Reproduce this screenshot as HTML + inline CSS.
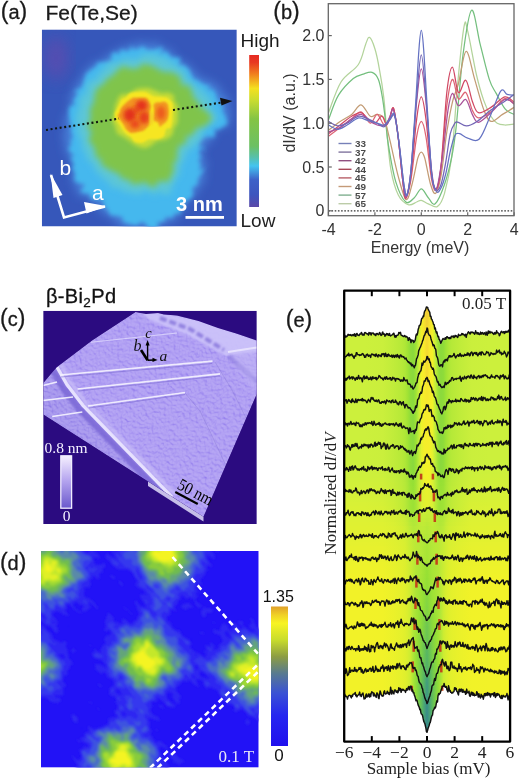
<!DOCTYPE html>
<html><head><meta charset="utf-8"><title>Figure</title>
<style>html,body{margin:0;padding:0;background:#fff;}svg{display:block;}</style>
</head><body>
<svg width="520" height="781" viewBox="0 0 520 781">
<defs>
<clipPath id="clipA"><rect x="41.8" y="29.5" width="195.0" height="197.0"/></clipPath>
<filter id="blA1_2" x="-30%" y="-30%" width="160%" height="160%"><feGaussianBlur stdDeviation="1.2"/></filter>
<filter id="blA2_0" x="-30%" y="-30%" width="160%" height="160%"><feGaussianBlur stdDeviation="2.0"/></filter>
<filter id="blA3_0" x="-30%" y="-30%" width="160%" height="160%"><feGaussianBlur stdDeviation="3.0"/></filter>
<filter id="blA5_0" x="-30%" y="-30%" width="160%" height="160%"><feGaussianBlur stdDeviation="5.0"/></filter>
<filter id="blA8_0" x="-30%" y="-30%" width="160%" height="160%"><feGaussianBlur stdDeviation="8.0"/></filter>
<linearGradient id="cbA" x1="0" y1="0" x2="0" y2="1">
<stop offset="0" stop-color="#e62a22"/><stop offset="0.05" stop-color="#e83a22"/>
<stop offset="0.12" stop-color="#f07a1e"/><stop offset="0.22" stop-color="#f4e020"/>
<stop offset="0.30" stop-color="#c8dc30"/><stop offset="0.42" stop-color="#84c444"/>
<stop offset="0.60" stop-color="#6cc064"/><stop offset="0.67" stop-color="#58c0a8"/><stop offset="0.73" stop-color="#44c4f0"/>
<stop offset="0.82" stop-color="#3e62c8"/><stop offset="0.92" stop-color="#3e56be"/>
<stop offset="1" stop-color="#5a48a8"/></linearGradient>
<clipPath id="clipB"><rect x="328.3" y="3.7" width="185.7" height="212.0"/></clipPath>
<clipPath id="clipC"><rect x="43.2" y="310.8" width="213.60000000000002" height="213.2"/></clipPath>
<clipPath id="clipSurf"><path d="M135.6,311.9 L146,314 L158,313 L164,314.5 L177,315.5 L198.5,321 L218,328 L237,333.8 L256.8,340.6 L256.8,394 L203.5,516.8 L43.4,414.5 L43.4,383 L50,375 L57,367 L92,340.5Z"/></clipPath>
<filter id="texC" x="0" y="0" width="100%" height="100%">
<feTurbulence type="fractalNoise" baseFrequency="0.32" numOctaves="3" seed="4" result="n"/>
<feDiffuseLighting in="n" surfaceScale="2.4" lighting-color="#d4ccff" result="l"><feDistantLight azimuth="300" elevation="58"/></feDiffuseLighting>
</filter>
<filter id="blC1" x="-20%" y="-20%" width="140%" height="140%"><feGaussianBlur stdDeviation="1.2"/></filter>
<filter id="blC2" x="-20%" y="-20%" width="140%" height="140%"><feGaussianBlur stdDeviation="2.2"/></filter>
<filter id="blC05" x="-20%" y="-20%" width="140%" height="140%"><feGaussianBlur stdDeviation="0.55"/></filter>
<linearGradient id="cbC" x1="0" y1="0" x2="0" y2="1"><stop offset="0" stop-color="#f6f0ff"/><stop offset="0.45" stop-color="#b8a8f0"/><stop offset="1" stop-color="#6a58cc"/></linearGradient>
<clipPath id="clipD"><rect x="41.0" y="551.0" width="217.7" height="216.60000000000002"/></clipPath>
<filter id="blD" x="-5%" y="-5%" width="110%" height="110%"><feGaussianBlur stdDeviation="1.1"/></filter>
<linearGradient id="cbD" x1="0" y1="0" x2="0" y2="1">
<stop offset="0" stop-color="#e0a02a"/><stop offset="0.06" stop-color="#f0d026"/><stop offset="0.12" stop-color="#f8f422"/>
<stop offset="0.24" stop-color="#c8dc2c"/><stop offset="0.36" stop-color="#8c9c44"/><stop offset="0.48" stop-color="#587a90"/>
<stop offset="0.62" stop-color="#3a52d4"/><stop offset="0.78" stop-color="#2626f0"/><stop offset="1" stop-color="#2010ee"/></linearGradient>
<clipPath id="clipEfill"><path d="M344.2,334 L344.8,336.3 L345.3,337.2 L345.9,336 L346.4,336.8 L347,336.4 L347.5,335.6 L348.1,334.3 L348.6,334.9 L349.2,335.3 L349.7,334.8 L350.3,335.3 L350.8,334.6 L351.4,335.8 L351.9,335.8 L352.5,334.8 L353,334.5 L353.6,335.6 L354.1,334.2 L354.7,333.7 L355.2,336.3 L355.8,336.3 L356.3,334.3 L356.9,333.4 L357.4,334.4 L358,335.3 L358.6,335.3 L359.1,335.6 L359.7,334 L360.2,334.1 L360.8,334 L361.3,332.4 L361.9,333.2 L362.4,335 L363,335.1 L363.5,334.2 L364.1,335.2 L364.6,332.6 L365.2,332.5 L365.7,332.8 L366.3,333.5 L366.8,333.6 L367.4,334.1 L367.9,334 L368.5,335.2 L369,332.5 L369.6,332.9 L370.1,334 L370.7,332.8 L371.2,335.1 L371.8,333.1 L372.4,333.2 L372.9,333 L373.5,333.2 L374,334.4 L374.6,334.8 L375.1,333.9 L375.7,335.6 L376.2,334.5 L376.8,333.4 L377.3,333.4 L377.9,334.4 L378.4,334.7 L379,334.1 L379.5,332.5 L380.1,333 L380.6,334.9 L381.2,335.4 L381.7,335.2 L382.3,332.6 L382.8,332.1 L383.4,334.2 L383.9,333.9 L384.5,334 L385,336.3 L385.6,334.4 L386.2,334.9 L386.7,333.4 L387.3,334.7 L387.8,333.7 L388.4,335.2 L388.9,335.2 L389.5,333.4 L390,335.5 L390.6,335.9 L391.1,335.5 L391.7,335.1 L392.2,334.9 L392.8,334.2 L393.3,333.4 L393.9,333.2 L394.4,335.6 L395,337.2 L395.5,335.6 L396.1,337.1 L396.6,335.6 L397.2,335.2 L397.7,335.3 L398.3,334.7 L398.8,332.4 L399.4,332.9 L400,333.4 L400.5,332.3 L401.1,335.1 L401.6,335.4 L402.2,335.4 L402.7,336.1 L403.3,336.3 L403.8,336.6 L404.4,335.6 L404.9,335.4 L405.5,336.9 L406,336.8 L406.6,336.4 L407.1,337.2 L407.7,337.4 L408.2,340.4 L408.8,339.9 L409.3,337.8 L409.9,339.3 L410.4,339.3 L411,342.5 L411.5,340 L412.1,340.1 L412.6,340.9 L413.2,340.4 L413.8,342.5 L414.3,341.4 L414.9,340.9 L415.4,339.1 L416,335.3 L416.5,334.1 L417.1,335 L417.6,333.1 L418.2,329.3 L418.7,328 L419.3,325.5 L419.8,325.4 L420.4,324.6 L420.9,322.5 L421.5,319.1 L422,318.2 L422.6,318.1 L423.1,316.1 L423.7,316.4 L424.2,312.8 L424.8,310.8 L425.3,310.6 L425.9,308.6 L426.4,307 L427,307.6 L427.6,307.3 L428.1,309 L428.7,310.4 L429.2,311.2 L429.8,312.4 L430.3,316.3 L430.9,316.2 L431.4,319 L432,319.5 L432.5,321 L433.1,322.3 L433.6,324.6 L434.2,324.7 L434.7,328.9 L435.3,327.9 L435.8,330.7 L436.4,332.9 L436.9,331.9 L437.5,334.9 L438,336.8 L438.6,336.6 L439.1,339.3 L439.7,339.9 L440.2,341.3 L440.8,343.3 L441.4,341.9 L441.9,340.7 L442.5,339.7 L443,338.5 L443.6,338.9 L444.1,339.1 L444.7,339.2 L445.2,337.8 L445.8,339.3 L446.3,337.8 L446.9,336.7 L447.4,336.8 L448,337.9 L448.5,337.8 L449.1,338.7 L449.6,337.6 L450.2,338.1 L450.7,338.5 L451.3,336.2 L451.8,336.6 L452.4,336.2 L452.9,336.9 L453.5,335.9 L454,337.6 L454.6,336.8 L455.2,335.3 L455.7,336.4 L456.3,335.7 L456.8,336.2 L457.4,337.5 L457.9,337.2 L458.5,334.2 L459,335.4 L459.6,335.2 L460.1,335.6 L460.7,334.9 L461.2,335 L461.8,333.4 L462.3,334.6 L462.9,333.8 L463.4,334.6 L464,334.4 L464.5,335.7 L465.1,335.8 L465.6,334.2 L466.2,337.3 L466.7,334.8 L467.3,333.9 L467.8,332.9 L468.4,331.7 L469,332.4 L469.5,333.3 L470.1,334.1 L470.6,332.3 L471.2,331.9 L471.7,332.7 L472.3,332.4 L472.8,332.1 L473.4,333 L473.9,332.8 L474.5,334.3 L475,333.8 L475.6,330.8 L476.1,332.1 L476.7,333 L477.2,334.1 L477.8,332.5 L478.3,332.8 L478.9,334.4 L479.4,334.6 L480,333.7 L480.5,332.1 L481.1,334.2 L481.6,332.9 L482.2,332.5 L482.8,333.4 L483.3,334.3 L483.9,333.1 L484.4,332.7 L485,333.9 L485.5,334.9 L486.1,332 L486.6,333 L487.2,335.3 L487.7,333.1 L488.3,330.9 L488.8,333.4 L489.4,332.1 L489.9,331.3 L490.5,332.9 L491,332.4 L491.6,332.1 L492.1,332.2 L492.7,333.5 L493.2,333.2 L493.8,334.4 L494.3,333.3 L494.9,332.5 L495.4,333.9 L496,333.6 L496.6,330.7 L497.1,332.8 L497.7,332.4 L498.2,333 L498.8,333.5 L499.3,335.7 L499.9,335.1 L500.4,333.4 L501,331.7 L501.5,331.3 L502.1,332 L502.6,332.7 L503.2,332 L503.7,331.7 L504.3,333.6 L504.8,331.7 L505.4,332.7 L505.9,331.3 L506.5,332.2 L507,331.5 L507.6,332.1 L508.1,331 L508.7,330.2 L509.2,332 L509.8,331.6 L509.8,695.3 L509.2,695.1 L508.7,696.8 L508.1,699.9 L507.6,697.7 L507,693.5 L506.5,695.6 L505.9,695.7 L505.4,697 L504.8,696.2 L504.3,696.7 L503.7,696 L503.2,695.3 L502.6,697.4 L502.1,698.6 L501.5,695.4 L501,698.4 L500.4,697.4 L499.9,696.9 L499.3,695.1 L498.8,694.2 L498.2,694.9 L497.7,693.4 L497.1,695.5 L496.6,693.8 L496,696.2 L495.4,697.5 L494.9,693 L494.3,692.6 L493.8,696 L493.2,693.4 L492.7,694.5 L492.1,693.8 L491.6,694.7 L491,693.8 L490.5,697 L489.9,695 L489.4,693.5 L488.8,695.1 L488.3,693.5 L487.7,692.6 L487.2,695.5 L486.6,694.8 L486.1,693.2 L485.5,695.7 L485,693.8 L484.4,693.8 L483.9,696.5 L483.3,699.2 L482.8,695.9 L482.2,696.9 L481.6,695.2 L481.1,694.3 L480.5,698 L480,697.2 L479.4,695.9 L478.9,693.7 L478.3,697.1 L477.8,694.8 L477.2,692.5 L476.7,691.7 L476.1,695.3 L475.6,695.3 L475,695.3 L474.5,695.8 L473.9,693.4 L473.4,695.3 L472.8,692.5 L472.3,695 L471.7,692.3 L471.2,692.3 L470.6,695 L470.1,696.4 L469.5,695.3 L469,691.2 L468.4,692.9 L467.8,692.7 L467.3,692.5 L466.7,689.1 L466.2,693.8 L465.6,694.3 L465.1,691.3 L464.5,691.4 L464,692.3 L463.4,691.7 L462.9,689.4 L462.3,692.3 L461.8,691 L461.2,689 L460.7,690.7 L460.1,691.6 L459.6,689.2 L459,689.6 L458.5,695 L457.9,693.7 L457.4,691.6 L456.8,691.5 L456.3,688.5 L455.7,689.7 L455.2,687.6 L454.6,687.6 L454,691.5 L453.5,691.6 L452.9,692.8 L452.4,692.4 L451.8,693.3 L451.3,692.3 L450.7,692.3 L450.2,690.4 L449.6,691 L449.1,688.2 L448.5,685.7 L448,691.9 L447.4,690.6 L446.9,689.6 L446.3,686.5 L445.8,687.3 L445.2,687.2 L444.7,686.1 L444.1,683.5 L443.6,686.3 L443,686.2 L442.5,686.1 L441.9,687.9 L441.4,689.2 L440.8,691.1 L440.2,693.3 L439.7,693.5 L439.1,694.7 L438.6,693.6 L438,695.9 L437.5,702 L436.9,700.8 L436.4,702.7 L435.8,706.6 L435.3,708 L434.7,707.2 L434.2,708.9 L433.6,710 L433.1,710.5 L432.5,715.2 L432,715.5 L431.4,717.3 L430.9,719.5 L430.3,722.4 L429.8,722.9 L429.2,725.3 L428.7,726.7 L428.1,728.3 L427.6,730.2 L427,732.3 L426.4,731.5 L425.9,728.2 L425.3,725.5 L424.8,723.4 L424.2,722.3 L423.7,721.1 L423.1,718.4 L422.6,715.8 L422,714.4 L421.5,714.2 L420.9,712.9 L420.4,709.3 L419.8,709.7 L419.3,707.5 L418.7,706.1 L418.2,705.2 L417.6,702.9 L417.1,700.7 L416.5,699.8 L416,700.7 L415.4,698.4 L414.9,696.4 L414.3,695 L413.8,692.4 L413.2,692.8 L412.6,690 L412.1,691.3 L411.5,687.1 L411,686.2 L410.4,686.2 L409.9,689.1 L409.3,689.8 L408.8,686.6 L408.2,687.5 L407.7,689.2 L407.1,690.2 L406.6,688.6 L406,690.5 L405.5,692.4 L404.9,690.5 L404.4,690.5 L403.8,690.5 L403.3,689.4 L402.7,689.2 L402.2,690.4 L401.6,689.6 L401.1,692.3 L400.5,688.4 L400,690.6 L399.4,688.4 L398.8,687.7 L398.3,691.8 L397.7,692.8 L397.2,690.8 L396.6,692.2 L396.1,692.1 L395.5,690.2 L395,690 L394.4,690.2 L393.9,693.9 L393.3,693.1 L392.8,692.2 L392.2,690.5 L391.7,694.1 L391.1,690.1 L390.6,687.2 L390,693.2 L389.5,694.6 L388.9,692.6 L388.4,694 L387.8,692.6 L387.3,691.2 L386.7,693.4 L386.2,693.6 L385.6,694.1 L385,693.2 L384.5,690.8 L383.9,691.8 L383.4,695.9 L382.8,695.5 L382.3,696.2 L381.7,695.4 L381.2,694.6 L380.6,692.3 L380.1,690.9 L379.5,694.8 L379,698.7 L378.4,697.8 L377.9,694.3 L377.3,693.2 L376.8,692.9 L376.2,697.4 L375.7,695.3 L375.1,696.1 L374.6,695.3 L374,693.1 L373.5,695.9 L372.9,692.7 L372.4,692.6 L371.8,691.8 L371.2,693.4 L370.7,696.6 L370.1,693.9 L369.6,697 L369,694.5 L368.5,693.9 L367.9,696.7 L367.4,695.6 L366.8,697.1 L366.3,693.9 L365.7,695.6 L365.2,698.6 L364.6,698.6 L364.1,699 L363.5,695.9 L363,693 L362.4,693.7 L361.9,694.4 L361.3,696.5 L360.8,694.8 L360.2,695.8 L359.7,692.1 L359.1,693.9 L358.6,694.5 L358,695.2 L357.4,695.7 L356.9,696.9 L356.3,694.8 L355.8,695.8 L355.2,692.4 L354.7,693.8 L354.1,694.1 L353.6,694 L353,694.4 L352.5,696.3 L351.9,695.4 L351.4,697.9 L350.8,696.9 L350.3,695.4 L349.7,695.4 L349.2,695.3 L348.6,695.8 L348.1,696.4 L347.5,699.1 L347,697.1 L346.4,696.7 L345.9,695.9 L345.3,696.5 L344.8,694.5 L344.2,693.6Z"/></clipPath>
<linearGradient id="eBase" x1="0" y1="0" x2="0" y2="1"><stop offset="0" stop-color="#ccf03c"/><stop offset="0.35" stop-color="#ccf03c"/><stop offset="0.62" stop-color="#f2f228"/><stop offset="1" stop-color="#f2f228"/></linearGradient>
<linearGradient id="es0"><stop offset="0" stop-color="#ccf03c"/><stop offset="0.125" stop-color="#ccf03c"/><stop offset="0.233" stop-color="#caef3c"/><stop offset="0.3" stop-color="#c0ec3a"/><stop offset="0.35" stop-color="#b6e938"/><stop offset="0.367" stop-color="#afe737"/><stop offset="0.383" stop-color="#a1e335"/><stop offset="0.4" stop-color="#90dc39"/><stop offset="0.417" stop-color="#8ad93c"/><stop offset="0.433" stop-color="#9ee235"/><stop offset="0.45" stop-color="#caef3c"/><stop offset="0.467" stop-color="#f4ef29"/><stop offset="0.483" stop-color="#f4da31"/><stop offset="0.5" stop-color="#f0c836"/><stop offset="0.517" stop-color="#f4da31"/><stop offset="0.533" stop-color="#f4ef29"/><stop offset="0.55" stop-color="#caef3c"/><stop offset="0.567" stop-color="#9ee235"/><stop offset="0.583" stop-color="#8ad93c"/><stop offset="0.6" stop-color="#90dc39"/><stop offset="0.617" stop-color="#a1e335"/><stop offset="0.633" stop-color="#afe737"/><stop offset="0.65" stop-color="#b6e938"/><stop offset="0.7" stop-color="#c0ec3a"/><stop offset="0.767" stop-color="#caef3c"/><stop offset="0.875" stop-color="#ccf03c"/><stop offset="1" stop-color="#ccf03c"/></linearGradient>
<linearGradient id="es1"><stop offset="0" stop-color="#ccf03c"/><stop offset="0.125" stop-color="#ccf03c"/><stop offset="0.233" stop-color="#caef3c"/><stop offset="0.3" stop-color="#c0ec3a"/><stop offset="0.35" stop-color="#b6e938"/><stop offset="0.367" stop-color="#afe737"/><stop offset="0.383" stop-color="#a1e335"/><stop offset="0.4" stop-color="#90dc39"/><stop offset="0.417" stop-color="#8ad93c"/><stop offset="0.433" stop-color="#9ee235"/><stop offset="0.45" stop-color="#caef3c"/><stop offset="0.467" stop-color="#f4ef29"/><stop offset="0.483" stop-color="#f4da31"/><stop offset="0.5" stop-color="#f0c836"/><stop offset="0.517" stop-color="#f4da31"/><stop offset="0.533" stop-color="#f4ef29"/><stop offset="0.55" stop-color="#caef3c"/><stop offset="0.567" stop-color="#9ee235"/><stop offset="0.583" stop-color="#8ad93c"/><stop offset="0.6" stop-color="#90dc39"/><stop offset="0.617" stop-color="#a1e335"/><stop offset="0.633" stop-color="#afe737"/><stop offset="0.65" stop-color="#b6e938"/><stop offset="0.7" stop-color="#c0ec3a"/><stop offset="0.767" stop-color="#caef3c"/><stop offset="0.875" stop-color="#ccf03c"/><stop offset="1" stop-color="#ccf03c"/></linearGradient>
<linearGradient id="es2"><stop offset="0" stop-color="#ccf03c"/><stop offset="0.125" stop-color="#ccf03c"/><stop offset="0.233" stop-color="#caef3c"/><stop offset="0.3" stop-color="#c0ec3a"/><stop offset="0.35" stop-color="#b6e938"/><stop offset="0.367" stop-color="#afe737"/><stop offset="0.383" stop-color="#a1e335"/><stop offset="0.4" stop-color="#90dc39"/><stop offset="0.417" stop-color="#8ad93c"/><stop offset="0.433" stop-color="#9ee235"/><stop offset="0.45" stop-color="#caef3c"/><stop offset="0.467" stop-color="#f4ef29"/><stop offset="0.483" stop-color="#f4da31"/><stop offset="0.5" stop-color="#f1cb35"/><stop offset="0.517" stop-color="#f4da31"/><stop offset="0.533" stop-color="#f4ef29"/><stop offset="0.55" stop-color="#caef3c"/><stop offset="0.567" stop-color="#9ee235"/><stop offset="0.583" stop-color="#8ad93c"/><stop offset="0.6" stop-color="#90dc39"/><stop offset="0.617" stop-color="#a1e335"/><stop offset="0.633" stop-color="#afe737"/><stop offset="0.65" stop-color="#b6e938"/><stop offset="0.7" stop-color="#c0ec3a"/><stop offset="0.767" stop-color="#caef3c"/><stop offset="0.875" stop-color="#ccf03c"/><stop offset="1" stop-color="#ccf03c"/></linearGradient>
<linearGradient id="es3"><stop offset="0" stop-color="#ccf03c"/><stop offset="0.125" stop-color="#ccf03c"/><stop offset="0.233" stop-color="#caef3c"/><stop offset="0.3" stop-color="#c0ec3a"/><stop offset="0.35" stop-color="#b6e938"/><stop offset="0.367" stop-color="#afe737"/><stop offset="0.383" stop-color="#a1e335"/><stop offset="0.4" stop-color="#90dc39"/><stop offset="0.417" stop-color="#8ad93c"/><stop offset="0.433" stop-color="#9ee235"/><stop offset="0.45" stop-color="#caef3c"/><stop offset="0.467" stop-color="#f4ef29"/><stop offset="0.483" stop-color="#f4da31"/><stop offset="0.5" stop-color="#f1cc35"/><stop offset="0.517" stop-color="#f4da31"/><stop offset="0.533" stop-color="#f4ef29"/><stop offset="0.55" stop-color="#caef3c"/><stop offset="0.567" stop-color="#9ee235"/><stop offset="0.583" stop-color="#8ad93c"/><stop offset="0.6" stop-color="#90dc39"/><stop offset="0.617" stop-color="#a1e335"/><stop offset="0.633" stop-color="#afe737"/><stop offset="0.65" stop-color="#b6e938"/><stop offset="0.7" stop-color="#c0ec3a"/><stop offset="0.767" stop-color="#caef3c"/><stop offset="0.875" stop-color="#ccf03c"/><stop offset="1" stop-color="#ccf03c"/></linearGradient>
<linearGradient id="es4"><stop offset="0" stop-color="#ccf03c"/><stop offset="0.125" stop-color="#ccf03c"/><stop offset="0.233" stop-color="#caef3c"/><stop offset="0.3" stop-color="#c0ec3a"/><stop offset="0.35" stop-color="#b6e938"/><stop offset="0.367" stop-color="#afe737"/><stop offset="0.383" stop-color="#a1e335"/><stop offset="0.4" stop-color="#90dc39"/><stop offset="0.417" stop-color="#8ad93c"/><stop offset="0.433" stop-color="#9ee235"/><stop offset="0.45" stop-color="#caef3c"/><stop offset="0.467" stop-color="#f4ef29"/><stop offset="0.483" stop-color="#f6e02f"/><stop offset="0.5" stop-color="#f1cd34"/><stop offset="0.517" stop-color="#f6e02f"/><stop offset="0.533" stop-color="#f4ef29"/><stop offset="0.55" stop-color="#caef3c"/><stop offset="0.567" stop-color="#9ee235"/><stop offset="0.583" stop-color="#8ad93c"/><stop offset="0.6" stop-color="#90dc39"/><stop offset="0.617" stop-color="#a1e335"/><stop offset="0.633" stop-color="#afe737"/><stop offset="0.65" stop-color="#b6e938"/><stop offset="0.7" stop-color="#c0ec3a"/><stop offset="0.767" stop-color="#caef3c"/><stop offset="0.875" stop-color="#ccf03c"/><stop offset="1" stop-color="#ccf03c"/></linearGradient>
<linearGradient id="es5"><stop offset="0" stop-color="#ccf03c"/><stop offset="0.125" stop-color="#ccf03c"/><stop offset="0.233" stop-color="#caef3c"/><stop offset="0.3" stop-color="#c0ec3a"/><stop offset="0.35" stop-color="#b6e938"/><stop offset="0.367" stop-color="#afe737"/><stop offset="0.383" stop-color="#a1e335"/><stop offset="0.4" stop-color="#90dc39"/><stop offset="0.417" stop-color="#8ad93c"/><stop offset="0.433" stop-color="#9ee235"/><stop offset="0.45" stop-color="#caef3c"/><stop offset="0.467" stop-color="#f4f029"/><stop offset="0.483" stop-color="#f6e02f"/><stop offset="0.5" stop-color="#f1ce34"/><stop offset="0.517" stop-color="#f6e12f"/><stop offset="0.533" stop-color="#f4ef29"/><stop offset="0.55" stop-color="#caef3c"/><stop offset="0.567" stop-color="#9ee235"/><stop offset="0.583" stop-color="#8ad93c"/><stop offset="0.6" stop-color="#90dc39"/><stop offset="0.617" stop-color="#a1e335"/><stop offset="0.633" stop-color="#afe737"/><stop offset="0.65" stop-color="#b6e938"/><stop offset="0.7" stop-color="#c0ec3a"/><stop offset="0.767" stop-color="#caef3c"/><stop offset="0.875" stop-color="#ccf03c"/><stop offset="1" stop-color="#ccf03c"/></linearGradient>
<linearGradient id="es6"><stop offset="0" stop-color="#ccf03c"/><stop offset="0.125" stop-color="#ccf03c"/><stop offset="0.233" stop-color="#caef3c"/><stop offset="0.3" stop-color="#c0ec3a"/><stop offset="0.35" stop-color="#b6e938"/><stop offset="0.367" stop-color="#afe737"/><stop offset="0.383" stop-color="#a1e335"/><stop offset="0.4" stop-color="#90dc39"/><stop offset="0.417" stop-color="#8ad93c"/><stop offset="0.433" stop-color="#9ee235"/><stop offset="0.45" stop-color="#caef3c"/><stop offset="0.467" stop-color="#f3f029"/><stop offset="0.483" stop-color="#f6e12f"/><stop offset="0.5" stop-color="#f2cf34"/><stop offset="0.517" stop-color="#f6e12f"/><stop offset="0.533" stop-color="#f4f029"/><stop offset="0.55" stop-color="#caef3c"/><stop offset="0.567" stop-color="#9ee235"/><stop offset="0.583" stop-color="#8ad93c"/><stop offset="0.6" stop-color="#90dc39"/><stop offset="0.617" stop-color="#a1e335"/><stop offset="0.633" stop-color="#afe737"/><stop offset="0.65" stop-color="#b6e938"/><stop offset="0.7" stop-color="#c0ec3a"/><stop offset="0.767" stop-color="#caef3c"/><stop offset="0.875" stop-color="#ccf03c"/><stop offset="1" stop-color="#ccf03c"/></linearGradient>
<linearGradient id="es7"><stop offset="0" stop-color="#ccf03c"/><stop offset="0.125" stop-color="#ccf03c"/><stop offset="0.233" stop-color="#caef3c"/><stop offset="0.3" stop-color="#c0ec3a"/><stop offset="0.35" stop-color="#b6e938"/><stop offset="0.367" stop-color="#afe737"/><stop offset="0.383" stop-color="#a1e335"/><stop offset="0.4" stop-color="#90dc39"/><stop offset="0.417" stop-color="#8ad93c"/><stop offset="0.433" stop-color="#9ee235"/><stop offset="0.45" stop-color="#c8ef3b"/><stop offset="0.467" stop-color="#f3f029"/><stop offset="0.483" stop-color="#f6e22e"/><stop offset="0.5" stop-color="#f3d532"/><stop offset="0.517" stop-color="#f6e22e"/><stop offset="0.533" stop-color="#f3f029"/><stop offset="0.55" stop-color="#c8ef3b"/><stop offset="0.567" stop-color="#9ee235"/><stop offset="0.583" stop-color="#8ad93c"/><stop offset="0.6" stop-color="#90dc39"/><stop offset="0.617" stop-color="#a1e335"/><stop offset="0.633" stop-color="#afe737"/><stop offset="0.65" stop-color="#b6e938"/><stop offset="0.7" stop-color="#c0ec3a"/><stop offset="0.767" stop-color="#caef3c"/><stop offset="0.875" stop-color="#ccf03c"/><stop offset="1" stop-color="#ccf03c"/></linearGradient>
<linearGradient id="es8"><stop offset="0" stop-color="#ccf03c"/><stop offset="0.125" stop-color="#ccf03c"/><stop offset="0.233" stop-color="#caef3c"/><stop offset="0.3" stop-color="#c0ec3a"/><stop offset="0.35" stop-color="#b6e938"/><stop offset="0.367" stop-color="#afe737"/><stop offset="0.383" stop-color="#a1e335"/><stop offset="0.4" stop-color="#90dc39"/><stop offset="0.417" stop-color="#8ad93c"/><stop offset="0.433" stop-color="#9ee235"/><stop offset="0.45" stop-color="#c8ef3b"/><stop offset="0.467" stop-color="#f3f029"/><stop offset="0.483" stop-color="#f6e22e"/><stop offset="0.5" stop-color="#f3d632"/><stop offset="0.517" stop-color="#f6e32e"/><stop offset="0.533" stop-color="#f3f029"/><stop offset="0.55" stop-color="#c8ef3b"/><stop offset="0.567" stop-color="#9ee235"/><stop offset="0.583" stop-color="#8ad93c"/><stop offset="0.6" stop-color="#90dc39"/><stop offset="0.617" stop-color="#a1e335"/><stop offset="0.633" stop-color="#afe737"/><stop offset="0.65" stop-color="#b6e938"/><stop offset="0.7" stop-color="#c0ec3a"/><stop offset="0.767" stop-color="#caef3c"/><stop offset="0.875" stop-color="#ccf03c"/><stop offset="1" stop-color="#ccf03c"/></linearGradient>
<linearGradient id="es9"><stop offset="0" stop-color="#ccf03c"/><stop offset="0.125" stop-color="#ccf03c"/><stop offset="0.233" stop-color="#caef3c"/><stop offset="0.3" stop-color="#c0ec3a"/><stop offset="0.35" stop-color="#b6e938"/><stop offset="0.367" stop-color="#afe737"/><stop offset="0.383" stop-color="#a1e335"/><stop offset="0.4" stop-color="#90dc39"/><stop offset="0.417" stop-color="#8ad93c"/><stop offset="0.433" stop-color="#9ee235"/><stop offset="0.45" stop-color="#c8ef3b"/><stop offset="0.467" stop-color="#f3f029"/><stop offset="0.483" stop-color="#f7e82d"/><stop offset="0.5" stop-color="#f3d732"/><stop offset="0.517" stop-color="#f7e82d"/><stop offset="0.533" stop-color="#f3f029"/><stop offset="0.55" stop-color="#c8ef3b"/><stop offset="0.567" stop-color="#9ee235"/><stop offset="0.583" stop-color="#8ad93c"/><stop offset="0.6" stop-color="#90dc39"/><stop offset="0.617" stop-color="#a1e335"/><stop offset="0.633" stop-color="#afe737"/><stop offset="0.65" stop-color="#b6e938"/><stop offset="0.7" stop-color="#c0ec3a"/><stop offset="0.767" stop-color="#caef3c"/><stop offset="0.875" stop-color="#ccf03c"/><stop offset="1" stop-color="#ccf03c"/></linearGradient>
<linearGradient id="es10"><stop offset="0" stop-color="#ccf03c"/><stop offset="0.125" stop-color="#ccf03c"/><stop offset="0.233" stop-color="#caef3c"/><stop offset="0.3" stop-color="#c0ec3a"/><stop offset="0.35" stop-color="#b6e938"/><stop offset="0.367" stop-color="#afe737"/><stop offset="0.383" stop-color="#a1e335"/><stop offset="0.4" stop-color="#90dc39"/><stop offset="0.417" stop-color="#8ad93c"/><stop offset="0.433" stop-color="#9ee235"/><stop offset="0.45" stop-color="#c8ef3b"/><stop offset="0.467" stop-color="#f3f029"/><stop offset="0.483" stop-color="#f8e82d"/><stop offset="0.5" stop-color="#f4d732"/><stop offset="0.517" stop-color="#f8e82c"/><stop offset="0.533" stop-color="#f3f029"/><stop offset="0.55" stop-color="#c8ef3b"/><stop offset="0.567" stop-color="#9ee235"/><stop offset="0.583" stop-color="#8ad93c"/><stop offset="0.6" stop-color="#90dc39"/><stop offset="0.617" stop-color="#a1e335"/><stop offset="0.633" stop-color="#afe737"/><stop offset="0.65" stop-color="#b6e938"/><stop offset="0.7" stop-color="#c0ec3a"/><stop offset="0.767" stop-color="#caef3c"/><stop offset="0.875" stop-color="#ccf03c"/><stop offset="1" stop-color="#ccf03c"/></linearGradient>
<linearGradient id="es11"><stop offset="0" stop-color="#ccf03c"/><stop offset="0.125" stop-color="#ccf03c"/><stop offset="0.233" stop-color="#caef3c"/><stop offset="0.3" stop-color="#c0ec3a"/><stop offset="0.35" stop-color="#b6e938"/><stop offset="0.367" stop-color="#afe737"/><stop offset="0.383" stop-color="#a1e335"/><stop offset="0.4" stop-color="#90dc39"/><stop offset="0.417" stop-color="#8ad93c"/><stop offset="0.433" stop-color="#9ee235"/><stop offset="0.45" stop-color="#c8ef3b"/><stop offset="0.467" stop-color="#f3f029"/><stop offset="0.483" stop-color="#f8e92c"/><stop offset="0.5" stop-color="#f4d831"/><stop offset="0.517" stop-color="#f8e92c"/><stop offset="0.533" stop-color="#f3f129"/><stop offset="0.55" stop-color="#c8ef3b"/><stop offset="0.567" stop-color="#9ee235"/><stop offset="0.583" stop-color="#8ad93c"/><stop offset="0.6" stop-color="#90dc39"/><stop offset="0.617" stop-color="#a1e335"/><stop offset="0.633" stop-color="#afe737"/><stop offset="0.65" stop-color="#b6e938"/><stop offset="0.7" stop-color="#c0ec3a"/><stop offset="0.767" stop-color="#caef3c"/><stop offset="0.875" stop-color="#ccf03c"/><stop offset="1" stop-color="#ccf03c"/></linearGradient>
<linearGradient id="es12"><stop offset="0" stop-color="#ccf03c"/><stop offset="0.125" stop-color="#ccf03c"/><stop offset="0.233" stop-color="#caef3c"/><stop offset="0.3" stop-color="#c0ec3a"/><stop offset="0.35" stop-color="#b6e938"/><stop offset="0.367" stop-color="#afe737"/><stop offset="0.383" stop-color="#a1e335"/><stop offset="0.4" stop-color="#90dc39"/><stop offset="0.417" stop-color="#8ad93c"/><stop offset="0.433" stop-color="#9ee235"/><stop offset="0.45" stop-color="#c7ee3b"/><stop offset="0.467" stop-color="#f3f129"/><stop offset="0.483" stop-color="#f8e92c"/><stop offset="0.5" stop-color="#f4d831"/><stop offset="0.517" stop-color="#f8e92c"/><stop offset="0.533" stop-color="#f3f129"/><stop offset="0.55" stop-color="#c7ee3b"/><stop offset="0.567" stop-color="#9ee235"/><stop offset="0.583" stop-color="#8ad93c"/><stop offset="0.6" stop-color="#90dc39"/><stop offset="0.617" stop-color="#a1e335"/><stop offset="0.633" stop-color="#afe737"/><stop offset="0.65" stop-color="#b6e938"/><stop offset="0.7" stop-color="#c0ec3a"/><stop offset="0.767" stop-color="#caef3c"/><stop offset="0.875" stop-color="#ccf03c"/><stop offset="1" stop-color="#ccf03c"/></linearGradient>
<linearGradient id="es13"><stop offset="0" stop-color="#ccf03c"/><stop offset="0.125" stop-color="#ccf03c"/><stop offset="0.233" stop-color="#caef3c"/><stop offset="0.3" stop-color="#c0ec3a"/><stop offset="0.35" stop-color="#b6e938"/><stop offset="0.367" stop-color="#afe737"/><stop offset="0.383" stop-color="#a1e335"/><stop offset="0.4" stop-color="#90dc39"/><stop offset="0.417" stop-color="#8ad93c"/><stop offset="0.433" stop-color="#9ee235"/><stop offset="0.45" stop-color="#c6ee3b"/><stop offset="0.467" stop-color="#f3f129"/><stop offset="0.483" stop-color="#f8ea2c"/><stop offset="0.5" stop-color="#f4d931"/><stop offset="0.517" stop-color="#f8ea2c"/><stop offset="0.533" stop-color="#f3f129"/><stop offset="0.55" stop-color="#c6ee3b"/><stop offset="0.567" stop-color="#9ee235"/><stop offset="0.583" stop-color="#8ad93c"/><stop offset="0.6" stop-color="#90dc39"/><stop offset="0.617" stop-color="#a1e335"/><stop offset="0.633" stop-color="#afe737"/><stop offset="0.65" stop-color="#b6e938"/><stop offset="0.7" stop-color="#c0ec3a"/><stop offset="0.767" stop-color="#caef3c"/><stop offset="0.875" stop-color="#ccf03c"/><stop offset="1" stop-color="#ccf03c"/></linearGradient>
<linearGradient id="es14"><stop offset="0" stop-color="#ccf03c"/><stop offset="0.125" stop-color="#ccf03c"/><stop offset="0.233" stop-color="#caef3c"/><stop offset="0.3" stop-color="#c0ec3a"/><stop offset="0.35" stop-color="#b6e938"/><stop offset="0.367" stop-color="#afe737"/><stop offset="0.383" stop-color="#a1e335"/><stop offset="0.4" stop-color="#90dc39"/><stop offset="0.417" stop-color="#8ad93c"/><stop offset="0.433" stop-color="#9ee235"/><stop offset="0.45" stop-color="#c6ee3b"/><stop offset="0.467" stop-color="#f3f128"/><stop offset="0.483" stop-color="#f8ea2c"/><stop offset="0.5" stop-color="#f4da31"/><stop offset="0.517" stop-color="#f8ea2c"/><stop offset="0.533" stop-color="#f3f128"/><stop offset="0.55" stop-color="#c6ee3b"/><stop offset="0.567" stop-color="#9ee235"/><stop offset="0.583" stop-color="#8ad93c"/><stop offset="0.6" stop-color="#90dc39"/><stop offset="0.617" stop-color="#a1e335"/><stop offset="0.633" stop-color="#afe737"/><stop offset="0.65" stop-color="#b6e938"/><stop offset="0.7" stop-color="#c0ec3a"/><stop offset="0.767" stop-color="#caef3c"/><stop offset="0.875" stop-color="#ccf03c"/><stop offset="1" stop-color="#ccf03c"/></linearGradient>
<linearGradient id="es15"><stop offset="0" stop-color="#ccf03c"/><stop offset="0.125" stop-color="#ccf03c"/><stop offset="0.233" stop-color="#caef3c"/><stop offset="0.3" stop-color="#c0ec3a"/><stop offset="0.35" stop-color="#b6e938"/><stop offset="0.367" stop-color="#afe737"/><stop offset="0.383" stop-color="#a1e335"/><stop offset="0.4" stop-color="#90dc39"/><stop offset="0.417" stop-color="#8ad93c"/><stop offset="0.433" stop-color="#9ee235"/><stop offset="0.45" stop-color="#c6ee3b"/><stop offset="0.467" stop-color="#f3f128"/><stop offset="0.483" stop-color="#f8ea2c"/><stop offset="0.5" stop-color="#f4d931"/><stop offset="0.517" stop-color="#f8ea2c"/><stop offset="0.533" stop-color="#f3f128"/><stop offset="0.55" stop-color="#c6ee3b"/><stop offset="0.567" stop-color="#9de235"/><stop offset="0.583" stop-color="#8ad93c"/><stop offset="0.6" stop-color="#90dc39"/><stop offset="0.617" stop-color="#a1e335"/><stop offset="0.633" stop-color="#afe737"/><stop offset="0.65" stop-color="#b6e938"/><stop offset="0.7" stop-color="#c0ec3a"/><stop offset="0.767" stop-color="#caef3c"/><stop offset="0.875" stop-color="#ccf03c"/><stop offset="1" stop-color="#ccf03c"/></linearGradient>
<linearGradient id="es16"><stop offset="0" stop-color="#ccf03c"/><stop offset="0.125" stop-color="#ccf03c"/><stop offset="0.233" stop-color="#caef3c"/><stop offset="0.3" stop-color="#c0ec3a"/><stop offset="0.35" stop-color="#b6e938"/><stop offset="0.367" stop-color="#afe737"/><stop offset="0.383" stop-color="#a1e335"/><stop offset="0.4" stop-color="#90dc39"/><stop offset="0.417" stop-color="#8ad93c"/><stop offset="0.433" stop-color="#9de235"/><stop offset="0.45" stop-color="#c5ee3b"/><stop offset="0.467" stop-color="#f3f128"/><stop offset="0.483" stop-color="#f8ea2c"/><stop offset="0.5" stop-color="#f4d931"/><stop offset="0.517" stop-color="#f8ea2c"/><stop offset="0.533" stop-color="#f3f128"/><stop offset="0.55" stop-color="#c5ee3b"/><stop offset="0.567" stop-color="#9de235"/><stop offset="0.583" stop-color="#8ad93c"/><stop offset="0.6" stop-color="#8fdc39"/><stop offset="0.617" stop-color="#a1e335"/><stop offset="0.633" stop-color="#afe737"/><stop offset="0.65" stop-color="#b6e938"/><stop offset="0.7" stop-color="#c0ec3a"/><stop offset="0.767" stop-color="#caef3c"/><stop offset="0.875" stop-color="#ccf03c"/><stop offset="1" stop-color="#ccf03c"/></linearGradient>
<linearGradient id="es17"><stop offset="0" stop-color="#ccf03c"/><stop offset="0.125" stop-color="#ccf03c"/><stop offset="0.233" stop-color="#caef3c"/><stop offset="0.3" stop-color="#c0ec3a"/><stop offset="0.35" stop-color="#b6e938"/><stop offset="0.367" stop-color="#afe737"/><stop offset="0.383" stop-color="#a1e335"/><stop offset="0.4" stop-color="#8fdc39"/><stop offset="0.417" stop-color="#8ad93d"/><stop offset="0.433" stop-color="#9de235"/><stop offset="0.45" stop-color="#c5ee3b"/><stop offset="0.467" stop-color="#f3f128"/><stop offset="0.483" stop-color="#f8ea2c"/><stop offset="0.5" stop-color="#f4d931"/><stop offset="0.517" stop-color="#f8ea2c"/><stop offset="0.533" stop-color="#f3f128"/><stop offset="0.55" stop-color="#c5ee3b"/><stop offset="0.567" stop-color="#9de235"/><stop offset="0.583" stop-color="#8ad93d"/><stop offset="0.6" stop-color="#8fdc39"/><stop offset="0.617" stop-color="#a1e335"/><stop offset="0.633" stop-color="#afe737"/><stop offset="0.65" stop-color="#b6e938"/><stop offset="0.7" stop-color="#c0ec3a"/><stop offset="0.767" stop-color="#caef3c"/><stop offset="0.875" stop-color="#ccf03c"/><stop offset="1" stop-color="#ccf03c"/></linearGradient>
<linearGradient id="es18"><stop offset="0" stop-color="#ccf03c"/><stop offset="0.125" stop-color="#ccf03c"/><stop offset="0.233" stop-color="#caef3c"/><stop offset="0.3" stop-color="#c0ec3a"/><stop offset="0.35" stop-color="#b6e938"/><stop offset="0.367" stop-color="#afe737"/><stop offset="0.383" stop-color="#a1e335"/><stop offset="0.4" stop-color="#8fdc39"/><stop offset="0.417" stop-color="#8ad93d"/><stop offset="0.433" stop-color="#9de235"/><stop offset="0.45" stop-color="#c5ee3b"/><stop offset="0.467" stop-color="#f3f128"/><stop offset="0.483" stop-color="#f8ea2c"/><stop offset="0.5" stop-color="#f4d931"/><stop offset="0.517" stop-color="#f8ea2c"/><stop offset="0.533" stop-color="#f3f128"/><stop offset="0.55" stop-color="#c5ee3b"/><stop offset="0.567" stop-color="#9de235"/><stop offset="0.583" stop-color="#8ad93d"/><stop offset="0.6" stop-color="#8fdc39"/><stop offset="0.617" stop-color="#a1e335"/><stop offset="0.633" stop-color="#afe737"/><stop offset="0.65" stop-color="#b6e938"/><stop offset="0.7" stop-color="#c0ec3a"/><stop offset="0.767" stop-color="#caef3c"/><stop offset="0.875" stop-color="#ccf03c"/><stop offset="1" stop-color="#ccf03c"/></linearGradient>
<linearGradient id="es19"><stop offset="0" stop-color="#ccf03c"/><stop offset="0.125" stop-color="#ccf03c"/><stop offset="0.233" stop-color="#caef3c"/><stop offset="0.3" stop-color="#c0ec3a"/><stop offset="0.35" stop-color="#b6e938"/><stop offset="0.367" stop-color="#afe737"/><stop offset="0.383" stop-color="#a1e335"/><stop offset="0.4" stop-color="#8fdc39"/><stop offset="0.417" stop-color="#8ad93d"/><stop offset="0.433" stop-color="#9de235"/><stop offset="0.45" stop-color="#c5ee3b"/><stop offset="0.467" stop-color="#f3f128"/><stop offset="0.483" stop-color="#f8ea2c"/><stop offset="0.5" stop-color="#f4d931"/><stop offset="0.517" stop-color="#f8ea2c"/><stop offset="0.533" stop-color="#f3f128"/><stop offset="0.55" stop-color="#c5ee3b"/><stop offset="0.567" stop-color="#9de235"/><stop offset="0.583" stop-color="#8ad93d"/><stop offset="0.6" stop-color="#8fdc39"/><stop offset="0.617" stop-color="#a1e335"/><stop offset="0.633" stop-color="#afe737"/><stop offset="0.65" stop-color="#b6e938"/><stop offset="0.7" stop-color="#c0ec3a"/><stop offset="0.767" stop-color="#caef3c"/><stop offset="0.875" stop-color="#ccf03c"/><stop offset="1" stop-color="#ccf03c"/></linearGradient>
<linearGradient id="es20"><stop offset="0" stop-color="#ccf03c"/><stop offset="0.125" stop-color="#ccf03c"/><stop offset="0.233" stop-color="#caef3c"/><stop offset="0.3" stop-color="#c0ec3a"/><stop offset="0.35" stop-color="#b6e938"/><stop offset="0.367" stop-color="#afe737"/><stop offset="0.383" stop-color="#a1e335"/><stop offset="0.4" stop-color="#8fdc39"/><stop offset="0.417" stop-color="#8ad93d"/><stop offset="0.433" stop-color="#9de235"/><stop offset="0.45" stop-color="#c5ee3b"/><stop offset="0.467" stop-color="#f3f128"/><stop offset="0.483" stop-color="#f8ea2c"/><stop offset="0.5" stop-color="#f6e22e"/><stop offset="0.517" stop-color="#f8ea2c"/><stop offset="0.533" stop-color="#f3f128"/><stop offset="0.55" stop-color="#c5ee3b"/><stop offset="0.567" stop-color="#9de235"/><stop offset="0.583" stop-color="#8ad93d"/><stop offset="0.6" stop-color="#8fdc39"/><stop offset="0.617" stop-color="#a1e335"/><stop offset="0.633" stop-color="#afe737"/><stop offset="0.65" stop-color="#b6e938"/><stop offset="0.7" stop-color="#c0ec3a"/><stop offset="0.767" stop-color="#caef3c"/><stop offset="0.875" stop-color="#ccf03c"/><stop offset="1" stop-color="#ccf03c"/></linearGradient>
<linearGradient id="es21"><stop offset="0" stop-color="#ccf03c"/><stop offset="0.125" stop-color="#ccf03c"/><stop offset="0.233" stop-color="#caef3c"/><stop offset="0.3" stop-color="#c0ec3a"/><stop offset="0.35" stop-color="#b6e938"/><stop offset="0.367" stop-color="#afe737"/><stop offset="0.383" stop-color="#a1e335"/><stop offset="0.4" stop-color="#8fdc39"/><stop offset="0.417" stop-color="#8ad93d"/><stop offset="0.433" stop-color="#9de235"/><stop offset="0.45" stop-color="#c5ee3b"/><stop offset="0.467" stop-color="#f3f128"/><stop offset="0.483" stop-color="#f7ec2b"/><stop offset="0.5" stop-color="#f6e32e"/><stop offset="0.517" stop-color="#f8ea2c"/><stop offset="0.533" stop-color="#f3f128"/><stop offset="0.55" stop-color="#c5ee3b"/><stop offset="0.567" stop-color="#9de235"/><stop offset="0.583" stop-color="#8ad93d"/><stop offset="0.6" stop-color="#8fdc39"/><stop offset="0.617" stop-color="#a1e335"/><stop offset="0.633" stop-color="#afe737"/><stop offset="0.65" stop-color="#b6e938"/><stop offset="0.7" stop-color="#c0ec3a"/><stop offset="0.767" stop-color="#caef3c"/><stop offset="0.875" stop-color="#ccf03c"/><stop offset="1" stop-color="#ccf03c"/></linearGradient>
<linearGradient id="es22"><stop offset="0" stop-color="#ccf03c"/><stop offset="0.125" stop-color="#ccf03c"/><stop offset="0.233" stop-color="#caef3c"/><stop offset="0.3" stop-color="#c0ec3a"/><stop offset="0.35" stop-color="#b6e938"/><stop offset="0.367" stop-color="#afe737"/><stop offset="0.383" stop-color="#a1e335"/><stop offset="0.4" stop-color="#8fdc39"/><stop offset="0.417" stop-color="#8ad93d"/><stop offset="0.433" stop-color="#9de235"/><stop offset="0.45" stop-color="#c5ee3b"/><stop offset="0.467" stop-color="#f3f128"/><stop offset="0.483" stop-color="#f7ec2b"/><stop offset="0.5" stop-color="#f7e42e"/><stop offset="0.517" stop-color="#f7ec2b"/><stop offset="0.533" stop-color="#f3f128"/><stop offset="0.55" stop-color="#c5ee3b"/><stop offset="0.567" stop-color="#9de235"/><stop offset="0.583" stop-color="#8ad93d"/><stop offset="0.6" stop-color="#8fdc39"/><stop offset="0.617" stop-color="#a1e335"/><stop offset="0.633" stop-color="#afe737"/><stop offset="0.65" stop-color="#b6e938"/><stop offset="0.7" stop-color="#c0ec3a"/><stop offset="0.767" stop-color="#caef3c"/><stop offset="0.875" stop-color="#ccf03c"/><stop offset="1" stop-color="#ccf03c"/></linearGradient>
<linearGradient id="es23"><stop offset="0" stop-color="#ccf03c"/><stop offset="0.125" stop-color="#ccf03c"/><stop offset="0.233" stop-color="#caef3c"/><stop offset="0.3" stop-color="#c0ec3a"/><stop offset="0.35" stop-color="#b6e938"/><stop offset="0.367" stop-color="#afe737"/><stop offset="0.383" stop-color="#a1e335"/><stop offset="0.4" stop-color="#8fdc39"/><stop offset="0.417" stop-color="#8ad93d"/><stop offset="0.433" stop-color="#9de235"/><stop offset="0.45" stop-color="#c5ee3b"/><stop offset="0.467" stop-color="#f3f128"/><stop offset="0.483" stop-color="#f7ec2b"/><stop offset="0.5" stop-color="#f7e52d"/><stop offset="0.517" stop-color="#f7ec2b"/><stop offset="0.533" stop-color="#f3f128"/><stop offset="0.55" stop-color="#c5ee3b"/><stop offset="0.567" stop-color="#9de235"/><stop offset="0.583" stop-color="#8ad93d"/><stop offset="0.6" stop-color="#8fdc39"/><stop offset="0.617" stop-color="#a1e335"/><stop offset="0.633" stop-color="#afe737"/><stop offset="0.65" stop-color="#b6e938"/><stop offset="0.7" stop-color="#c0ec3a"/><stop offset="0.767" stop-color="#caef3c"/><stop offset="0.875" stop-color="#ccf03c"/><stop offset="1" stop-color="#ccf03c"/></linearGradient>
<linearGradient id="es24"><stop offset="0" stop-color="#ccf03c"/><stop offset="0.125" stop-color="#ccf03c"/><stop offset="0.233" stop-color="#caef3c"/><stop offset="0.3" stop-color="#c0ec3a"/><stop offset="0.35" stop-color="#b6e938"/><stop offset="0.367" stop-color="#afe737"/><stop offset="0.383" stop-color="#a1e335"/><stop offset="0.4" stop-color="#8fdc39"/><stop offset="0.417" stop-color="#8ad93d"/><stop offset="0.433" stop-color="#9de235"/><stop offset="0.45" stop-color="#c5ee3b"/><stop offset="0.467" stop-color="#f2f228"/><stop offset="0.483" stop-color="#f7ec2b"/><stop offset="0.5" stop-color="#f7e62d"/><stop offset="0.517" stop-color="#f7ec2b"/><stop offset="0.533" stop-color="#f2f228"/><stop offset="0.55" stop-color="#c5ee3b"/><stop offset="0.567" stop-color="#9de235"/><stop offset="0.583" stop-color="#8ad93d"/><stop offset="0.6" stop-color="#8fdc39"/><stop offset="0.617" stop-color="#a1e335"/><stop offset="0.633" stop-color="#afe737"/><stop offset="0.65" stop-color="#b6e938"/><stop offset="0.7" stop-color="#c0ec3a"/><stop offset="0.767" stop-color="#caef3c"/><stop offset="0.875" stop-color="#ccf03c"/><stop offset="1" stop-color="#ccf03c"/></linearGradient>
<linearGradient id="es25"><stop offset="0" stop-color="#ccf03c"/><stop offset="0.125" stop-color="#ccf03c"/><stop offset="0.233" stop-color="#caef3c"/><stop offset="0.3" stop-color="#c0ec3a"/><stop offset="0.35" stop-color="#b6e938"/><stop offset="0.367" stop-color="#afe737"/><stop offset="0.383" stop-color="#a1e335"/><stop offset="0.4" stop-color="#8fdc39"/><stop offset="0.417" stop-color="#8ad93d"/><stop offset="0.433" stop-color="#9de235"/><stop offset="0.45" stop-color="#c3ed3a"/><stop offset="0.467" stop-color="#f1f229"/><stop offset="0.483" stop-color="#f6ec2b"/><stop offset="0.5" stop-color="#f7e72d"/><stop offset="0.517" stop-color="#f6ec2b"/><stop offset="0.533" stop-color="#f1f229"/><stop offset="0.55" stop-color="#c3ed3a"/><stop offset="0.567" stop-color="#9de235"/><stop offset="0.583" stop-color="#8ad93d"/><stop offset="0.6" stop-color="#8fdc39"/><stop offset="0.617" stop-color="#a1e335"/><stop offset="0.633" stop-color="#afe737"/><stop offset="0.65" stop-color="#b6e938"/><stop offset="0.7" stop-color="#c0ec3a"/><stop offset="0.767" stop-color="#caef3c"/><stop offset="0.875" stop-color="#ccf03c"/><stop offset="1" stop-color="#ccf03c"/></linearGradient>
<linearGradient id="es26"><stop offset="0" stop-color="#ccf03c"/><stop offset="0.125" stop-color="#ccf03c"/><stop offset="0.233" stop-color="#caef3c"/><stop offset="0.3" stop-color="#c0ec3a"/><stop offset="0.35" stop-color="#b6e938"/><stop offset="0.367" stop-color="#afe737"/><stop offset="0.383" stop-color="#a1e335"/><stop offset="0.4" stop-color="#8fdc39"/><stop offset="0.417" stop-color="#8ad93d"/><stop offset="0.433" stop-color="#9de235"/><stop offset="0.45" stop-color="#c3ed3a"/><stop offset="0.467" stop-color="#f0f229"/><stop offset="0.483" stop-color="#f6ec2b"/><stop offset="0.5" stop-color="#f8e82d"/><stop offset="0.517" stop-color="#f6ec2b"/><stop offset="0.533" stop-color="#f0f229"/><stop offset="0.55" stop-color="#c2ed3a"/><stop offset="0.567" stop-color="#9de235"/><stop offset="0.583" stop-color="#8ad93d"/><stop offset="0.6" stop-color="#8fdc39"/><stop offset="0.617" stop-color="#a1e335"/><stop offset="0.633" stop-color="#afe737"/><stop offset="0.65" stop-color="#b6e938"/><stop offset="0.7" stop-color="#c0ec3a"/><stop offset="0.767" stop-color="#caef3c"/><stop offset="0.875" stop-color="#ccf03c"/><stop offset="1" stop-color="#ccf03c"/></linearGradient>
<linearGradient id="es27"><stop offset="0" stop-color="#ccf03c"/><stop offset="0.125" stop-color="#ccf03c"/><stop offset="0.233" stop-color="#caef3c"/><stop offset="0.3" stop-color="#c0ec3a"/><stop offset="0.35" stop-color="#b6e938"/><stop offset="0.367" stop-color="#afe737"/><stop offset="0.383" stop-color="#a1e335"/><stop offset="0.4" stop-color="#8fdc39"/><stop offset="0.417" stop-color="#8ad93d"/><stop offset="0.433" stop-color="#9ce235"/><stop offset="0.45" stop-color="#c2ed3a"/><stop offset="0.467" stop-color="#f0f229"/><stop offset="0.483" stop-color="#f6ec2b"/><stop offset="0.5" stop-color="#f8ea2c"/><stop offset="0.517" stop-color="#f6ec2b"/><stop offset="0.533" stop-color="#eff229"/><stop offset="0.55" stop-color="#c2ed3a"/><stop offset="0.567" stop-color="#9ce235"/><stop offset="0.583" stop-color="#8ad93d"/><stop offset="0.6" stop-color="#8fdc39"/><stop offset="0.617" stop-color="#a1e335"/><stop offset="0.633" stop-color="#afe737"/><stop offset="0.65" stop-color="#b6e938"/><stop offset="0.7" stop-color="#c0ec3a"/><stop offset="0.767" stop-color="#caef3c"/><stop offset="0.875" stop-color="#ccf03c"/><stop offset="1" stop-color="#ccf03c"/></linearGradient>
<linearGradient id="es28"><stop offset="0" stop-color="#ccf03c"/><stop offset="0.125" stop-color="#ccf03c"/><stop offset="0.233" stop-color="#caef3c"/><stop offset="0.3" stop-color="#c0ec3a"/><stop offset="0.35" stop-color="#b6e938"/><stop offset="0.367" stop-color="#afe737"/><stop offset="0.383" stop-color="#a1e335"/><stop offset="0.4" stop-color="#8fdc39"/><stop offset="0.417" stop-color="#8ad93d"/><stop offset="0.433" stop-color="#9ce235"/><stop offset="0.45" stop-color="#c2ed3a"/><stop offset="0.467" stop-color="#eff22a"/><stop offset="0.483" stop-color="#f6ed2b"/><stop offset="0.5" stop-color="#f8ea2c"/><stop offset="0.517" stop-color="#f6ed2b"/><stop offset="0.533" stop-color="#eff22a"/><stop offset="0.55" stop-color="#c2ed3a"/><stop offset="0.567" stop-color="#9ce235"/><stop offset="0.583" stop-color="#8ad93d"/><stop offset="0.6" stop-color="#8fdc39"/><stop offset="0.617" stop-color="#a1e335"/><stop offset="0.633" stop-color="#afe737"/><stop offset="0.65" stop-color="#b6e938"/><stop offset="0.7" stop-color="#c0ec3a"/><stop offset="0.767" stop-color="#caef3c"/><stop offset="0.875" stop-color="#ccf03c"/><stop offset="1" stop-color="#ccf03c"/></linearGradient>
<linearGradient id="es29"><stop offset="0" stop-color="#ccf03c"/><stop offset="0.125" stop-color="#ccf03c"/><stop offset="0.233" stop-color="#caef3c"/><stop offset="0.3" stop-color="#c0ec3a"/><stop offset="0.35" stop-color="#b6e938"/><stop offset="0.367" stop-color="#afe737"/><stop offset="0.383" stop-color="#a1e335"/><stop offset="0.4" stop-color="#8fdc39"/><stop offset="0.417" stop-color="#8ad93d"/><stop offset="0.433" stop-color="#9ce235"/><stop offset="0.45" stop-color="#c2ed3a"/><stop offset="0.467" stop-color="#eef22a"/><stop offset="0.483" stop-color="#f6ed2b"/><stop offset="0.5" stop-color="#f8ea2c"/><stop offset="0.517" stop-color="#f6ed2b"/><stop offset="0.533" stop-color="#ecf22b"/><stop offset="0.55" stop-color="#c2ed3a"/><stop offset="0.567" stop-color="#9ce235"/><stop offset="0.583" stop-color="#8ad93d"/><stop offset="0.6" stop-color="#8fdc39"/><stop offset="0.617" stop-color="#a1e335"/><stop offset="0.633" stop-color="#afe737"/><stop offset="0.65" stop-color="#b6e938"/><stop offset="0.7" stop-color="#c0ec3a"/><stop offset="0.767" stop-color="#caef3c"/><stop offset="0.875" stop-color="#ccf03c"/><stop offset="1" stop-color="#ccf03c"/></linearGradient>
<linearGradient id="es30"><stop offset="0" stop-color="#ccf03c"/><stop offset="0.125" stop-color="#ccf03c"/><stop offset="0.233" stop-color="#caef3c"/><stop offset="0.3" stop-color="#c0ec3a"/><stop offset="0.35" stop-color="#b6e938"/><stop offset="0.367" stop-color="#afe737"/><stop offset="0.383" stop-color="#a1e335"/><stop offset="0.4" stop-color="#8fdc39"/><stop offset="0.417" stop-color="#8ad93d"/><stop offset="0.433" stop-color="#9ce235"/><stop offset="0.45" stop-color="#c1ec3a"/><stop offset="0.467" stop-color="#ecf22b"/><stop offset="0.483" stop-color="#f6ed2b"/><stop offset="0.5" stop-color="#f8ea2c"/><stop offset="0.517" stop-color="#f6ed2b"/><stop offset="0.533" stop-color="#ecf22b"/><stop offset="0.55" stop-color="#c1ec3a"/><stop offset="0.567" stop-color="#9ce235"/><stop offset="0.583" stop-color="#8ad93d"/><stop offset="0.6" stop-color="#8fdc39"/><stop offset="0.617" stop-color="#a1e335"/><stop offset="0.633" stop-color="#afe737"/><stop offset="0.65" stop-color="#b6e938"/><stop offset="0.7" stop-color="#c0ec3a"/><stop offset="0.767" stop-color="#caef3c"/><stop offset="0.875" stop-color="#ccf03c"/><stop offset="1" stop-color="#ccf03c"/></linearGradient>
<linearGradient id="es31"><stop offset="0" stop-color="#ccf03c"/><stop offset="0.125" stop-color="#ccf03c"/><stop offset="0.233" stop-color="#caef3c"/><stop offset="0.3" stop-color="#c0ec3a"/><stop offset="0.35" stop-color="#b6e938"/><stop offset="0.367" stop-color="#afe737"/><stop offset="0.383" stop-color="#a1e335"/><stop offset="0.4" stop-color="#8fdc39"/><stop offset="0.417" stop-color="#8ad93d"/><stop offset="0.433" stop-color="#9ce235"/><stop offset="0.45" stop-color="#c1ec3a"/><stop offset="0.467" stop-color="#ecf22b"/><stop offset="0.483" stop-color="#f6ed2a"/><stop offset="0.5" stop-color="#f8ea2c"/><stop offset="0.517" stop-color="#f6ed2a"/><stop offset="0.533" stop-color="#ecf22b"/><stop offset="0.55" stop-color="#c0ec3a"/><stop offset="0.567" stop-color="#9ce235"/><stop offset="0.583" stop-color="#8ad93d"/><stop offset="0.6" stop-color="#8fdc39"/><stop offset="0.617" stop-color="#a1e335"/><stop offset="0.633" stop-color="#afe737"/><stop offset="0.65" stop-color="#b6e938"/><stop offset="0.7" stop-color="#c0ec3a"/><stop offset="0.767" stop-color="#caef3c"/><stop offset="0.875" stop-color="#ccf03c"/><stop offset="1" stop-color="#ccf03c"/></linearGradient>
<linearGradient id="es32"><stop offset="0" stop-color="#ccf03c"/><stop offset="0.125" stop-color="#ccf03c"/><stop offset="0.233" stop-color="#caef3c"/><stop offset="0.3" stop-color="#c0ec3a"/><stop offset="0.35" stop-color="#b6e938"/><stop offset="0.367" stop-color="#afe737"/><stop offset="0.383" stop-color="#a1e335"/><stop offset="0.4" stop-color="#8fdc39"/><stop offset="0.417" stop-color="#8ad93d"/><stop offset="0.433" stop-color="#9ce235"/><stop offset="0.45" stop-color="#c0ec3a"/><stop offset="0.467" stop-color="#ecf22b"/><stop offset="0.483" stop-color="#f6ed2a"/><stop offset="0.5" stop-color="#f8eb2c"/><stop offset="0.517" stop-color="#f6ed2a"/><stop offset="0.533" stop-color="#ecf22b"/><stop offset="0.55" stop-color="#c0ec3a"/><stop offset="0.567" stop-color="#9ce235"/><stop offset="0.583" stop-color="#8ad93d"/><stop offset="0.6" stop-color="#8fdc39"/><stop offset="0.617" stop-color="#a1e335"/><stop offset="0.633" stop-color="#afe737"/><stop offset="0.65" stop-color="#b6e938"/><stop offset="0.7" stop-color="#c0ec3a"/><stop offset="0.767" stop-color="#caef3c"/><stop offset="0.875" stop-color="#ccf03c"/><stop offset="1" stop-color="#ccf03c"/></linearGradient>
<linearGradient id="es33"><stop offset="0" stop-color="#ccf03c"/><stop offset="0.125" stop-color="#ccf03c"/><stop offset="0.233" stop-color="#caef3c"/><stop offset="0.3" stop-color="#c0ec3a"/><stop offset="0.35" stop-color="#b6e938"/><stop offset="0.367" stop-color="#afe737"/><stop offset="0.383" stop-color="#a1e335"/><stop offset="0.4" stop-color="#8fdc39"/><stop offset="0.417" stop-color="#89d93d"/><stop offset="0.433" stop-color="#9be135"/><stop offset="0.45" stop-color="#c0ec3a"/><stop offset="0.467" stop-color="#ecf22b"/><stop offset="0.483" stop-color="#f6ed2a"/><stop offset="0.5" stop-color="#f6ec2b"/><stop offset="0.517" stop-color="#f6ed2a"/><stop offset="0.533" stop-color="#ecf22b"/><stop offset="0.55" stop-color="#c0ec3a"/><stop offset="0.567" stop-color="#9be135"/><stop offset="0.583" stop-color="#8ad93d"/><stop offset="0.6" stop-color="#8fdc39"/><stop offset="0.617" stop-color="#a1e335"/><stop offset="0.633" stop-color="#afe737"/><stop offset="0.65" stop-color="#b6e938"/><stop offset="0.7" stop-color="#c0ec3a"/><stop offset="0.767" stop-color="#caef3c"/><stop offset="0.875" stop-color="#ccf03c"/><stop offset="1" stop-color="#ccf03c"/></linearGradient>
<linearGradient id="es34"><stop offset="0" stop-color="#ccf03c"/><stop offset="0.125" stop-color="#ccf03c"/><stop offset="0.233" stop-color="#caef3c"/><stop offset="0.3" stop-color="#c0ec3a"/><stop offset="0.35" stop-color="#b6e938"/><stop offset="0.367" stop-color="#afe737"/><stop offset="0.383" stop-color="#a1e335"/><stop offset="0.4" stop-color="#8fdc39"/><stop offset="0.417" stop-color="#89d93d"/><stop offset="0.433" stop-color="#9be135"/><stop offset="0.45" stop-color="#c0ec3a"/><stop offset="0.467" stop-color="#ebf22b"/><stop offset="0.483" stop-color="#f5ee2a"/><stop offset="0.5" stop-color="#f6ec2b"/><stop offset="0.517" stop-color="#f5ee2a"/><stop offset="0.533" stop-color="#ebf22b"/><stop offset="0.55" stop-color="#c0ec3a"/><stop offset="0.567" stop-color="#9be135"/><stop offset="0.583" stop-color="#89d93d"/><stop offset="0.6" stop-color="#8fdc39"/><stop offset="0.617" stop-color="#a1e335"/><stop offset="0.633" stop-color="#afe737"/><stop offset="0.65" stop-color="#b6e938"/><stop offset="0.7" stop-color="#c0ec3a"/><stop offset="0.767" stop-color="#caef3c"/><stop offset="0.875" stop-color="#ccf03c"/><stop offset="1" stop-color="#ccf03c"/></linearGradient>
<linearGradient id="es35"><stop offset="0" stop-color="#ccf03c"/><stop offset="0.125" stop-color="#ccf03c"/><stop offset="0.233" stop-color="#caef3c"/><stop offset="0.3" stop-color="#c0ec3a"/><stop offset="0.35" stop-color="#b6e938"/><stop offset="0.367" stop-color="#afe737"/><stop offset="0.383" stop-color="#a1e335"/><stop offset="0.4" stop-color="#8fdc39"/><stop offset="0.417" stop-color="#89d93d"/><stop offset="0.433" stop-color="#9be135"/><stop offset="0.45" stop-color="#c0ec3a"/><stop offset="0.467" stop-color="#e6f12e"/><stop offset="0.483" stop-color="#f5ef2a"/><stop offset="0.5" stop-color="#f6ec2b"/><stop offset="0.517" stop-color="#f5ef2a"/><stop offset="0.533" stop-color="#ebf22c"/><stop offset="0.55" stop-color="#c0ec3a"/><stop offset="0.567" stop-color="#9be135"/><stop offset="0.583" stop-color="#89d93d"/><stop offset="0.6" stop-color="#8fdc39"/><stop offset="0.617" stop-color="#a1e335"/><stop offset="0.633" stop-color="#afe737"/><stop offset="0.65" stop-color="#b6e938"/><stop offset="0.7" stop-color="#c0ec3a"/><stop offset="0.767" stop-color="#caef3c"/><stop offset="0.875" stop-color="#ccf03c"/><stop offset="1" stop-color="#ccf03c"/></linearGradient>
<linearGradient id="es36"><stop offset="0" stop-color="#ccf03c"/><stop offset="0.125" stop-color="#ccf03c"/><stop offset="0.233" stop-color="#caef3c"/><stop offset="0.3" stop-color="#c0ec3a"/><stop offset="0.35" stop-color="#b6e938"/><stop offset="0.367" stop-color="#afe737"/><stop offset="0.383" stop-color="#a1e335"/><stop offset="0.4" stop-color="#8fdc39"/><stop offset="0.417" stop-color="#89d93d"/><stop offset="0.433" stop-color="#9be135"/><stop offset="0.45" stop-color="#c0ec3a"/><stop offset="0.467" stop-color="#e6f12e"/><stop offset="0.483" stop-color="#f4ef2a"/><stop offset="0.5" stop-color="#f6ed2b"/><stop offset="0.517" stop-color="#f4ef2a"/><stop offset="0.533" stop-color="#e6f12e"/><stop offset="0.55" stop-color="#c0ec3a"/><stop offset="0.567" stop-color="#9be135"/><stop offset="0.583" stop-color="#89d93d"/><stop offset="0.6" stop-color="#8fdc39"/><stop offset="0.617" stop-color="#a1e335"/><stop offset="0.633" stop-color="#afe737"/><stop offset="0.65" stop-color="#b6e938"/><stop offset="0.7" stop-color="#c0ec3a"/><stop offset="0.767" stop-color="#caef3c"/><stop offset="0.875" stop-color="#ccf03c"/><stop offset="1" stop-color="#ccf03c"/></linearGradient>
<linearGradient id="es37"><stop offset="0" stop-color="#ccf03c"/><stop offset="0.125" stop-color="#ccf03c"/><stop offset="0.233" stop-color="#caef3c"/><stop offset="0.3" stop-color="#c0ec3a"/><stop offset="0.35" stop-color="#b6e938"/><stop offset="0.367" stop-color="#afe737"/><stop offset="0.383" stop-color="#a1e335"/><stop offset="0.4" stop-color="#8fdc39"/><stop offset="0.417" stop-color="#89d93d"/><stop offset="0.433" stop-color="#9be135"/><stop offset="0.45" stop-color="#beeb3a"/><stop offset="0.467" stop-color="#e5f12f"/><stop offset="0.483" stop-color="#f4ef2a"/><stop offset="0.5" stop-color="#f6ed2b"/><stop offset="0.517" stop-color="#f4ef2a"/><stop offset="0.533" stop-color="#e5f12f"/><stop offset="0.55" stop-color="#beeb3a"/><stop offset="0.567" stop-color="#9be135"/><stop offset="0.583" stop-color="#89d93d"/><stop offset="0.6" stop-color="#8fdc39"/><stop offset="0.617" stop-color="#a1e335"/><stop offset="0.633" stop-color="#afe737"/><stop offset="0.65" stop-color="#b6e938"/><stop offset="0.7" stop-color="#c0ec3a"/><stop offset="0.767" stop-color="#caef3c"/><stop offset="0.875" stop-color="#ccf03c"/><stop offset="1" stop-color="#ccf03c"/></linearGradient>
<linearGradient id="es38"><stop offset="0" stop-color="#ccf03c"/><stop offset="0.125" stop-color="#ccf03c"/><stop offset="0.233" stop-color="#caef3c"/><stop offset="0.3" stop-color="#c0ec3a"/><stop offset="0.35" stop-color="#b6e938"/><stop offset="0.367" stop-color="#afe737"/><stop offset="0.383" stop-color="#a1e335"/><stop offset="0.4" stop-color="#8fdc39"/><stop offset="0.417" stop-color="#89d93d"/><stop offset="0.433" stop-color="#9be135"/><stop offset="0.45" stop-color="#bdeb3a"/><stop offset="0.467" stop-color="#e5f12f"/><stop offset="0.483" stop-color="#f4ef29"/><stop offset="0.5" stop-color="#f6ed2a"/><stop offset="0.517" stop-color="#f4ef29"/><stop offset="0.533" stop-color="#e4f12f"/><stop offset="0.55" stop-color="#beeb3a"/><stop offset="0.567" stop-color="#9be135"/><stop offset="0.583" stop-color="#89d93d"/><stop offset="0.6" stop-color="#8fdc39"/><stop offset="0.617" stop-color="#a1e335"/><stop offset="0.633" stop-color="#afe737"/><stop offset="0.65" stop-color="#b6e938"/><stop offset="0.7" stop-color="#c0ec3a"/><stop offset="0.767" stop-color="#caef3c"/><stop offset="0.875" stop-color="#ccf03c"/><stop offset="1" stop-color="#ccf03c"/></linearGradient>
<linearGradient id="es39"><stop offset="0" stop-color="#ccf03c"/><stop offset="0.125" stop-color="#ccf03c"/><stop offset="0.233" stop-color="#caef3c"/><stop offset="0.3" stop-color="#c0ec3a"/><stop offset="0.35" stop-color="#b6e938"/><stop offset="0.367" stop-color="#afe737"/><stop offset="0.383" stop-color="#a1e335"/><stop offset="0.4" stop-color="#8fdc39"/><stop offset="0.417" stop-color="#89d93d"/><stop offset="0.433" stop-color="#9ae135"/><stop offset="0.45" stop-color="#bdeb3a"/><stop offset="0.467" stop-color="#e4f12f"/><stop offset="0.483" stop-color="#f4ef29"/><stop offset="0.5" stop-color="#f4f029"/><stop offset="0.517" stop-color="#f4ef29"/><stop offset="0.533" stop-color="#e4f12f"/><stop offset="0.55" stop-color="#bdeb3a"/><stop offset="0.567" stop-color="#9ae135"/><stop offset="0.583" stop-color="#89d93d"/><stop offset="0.6" stop-color="#8fdc39"/><stop offset="0.617" stop-color="#a1e335"/><stop offset="0.633" stop-color="#afe737"/><stop offset="0.65" stop-color="#b6e938"/><stop offset="0.7" stop-color="#c0ec3a"/><stop offset="0.767" stop-color="#caef3c"/><stop offset="0.875" stop-color="#ccf03c"/><stop offset="1" stop-color="#ccf03c"/></linearGradient>
<linearGradient id="es40"><stop offset="0" stop-color="#ccf03c"/><stop offset="0.125" stop-color="#ccf03c"/><stop offset="0.233" stop-color="#caef3c"/><stop offset="0.3" stop-color="#c0ec3a"/><stop offset="0.35" stop-color="#b6e938"/><stop offset="0.367" stop-color="#afe737"/><stop offset="0.383" stop-color="#a1e335"/><stop offset="0.4" stop-color="#8fdc39"/><stop offset="0.417" stop-color="#89d93d"/><stop offset="0.433" stop-color="#9ae135"/><stop offset="0.45" stop-color="#bdeb39"/><stop offset="0.467" stop-color="#e3f130"/><stop offset="0.483" stop-color="#f4ef29"/><stop offset="0.5" stop-color="#f3f029"/><stop offset="0.517" stop-color="#f2f228"/><stop offset="0.533" stop-color="#e3f130"/><stop offset="0.55" stop-color="#bdeb3a"/><stop offset="0.567" stop-color="#9ae135"/><stop offset="0.583" stop-color="#89d83d"/><stop offset="0.6" stop-color="#8fdc39"/><stop offset="0.617" stop-color="#a1e335"/><stop offset="0.633" stop-color="#afe737"/><stop offset="0.65" stop-color="#b6e938"/><stop offset="0.7" stop-color="#c0ec3a"/><stop offset="0.767" stop-color="#caef3c"/><stop offset="0.875" stop-color="#ccf03c"/><stop offset="1" stop-color="#ccf03c"/></linearGradient>
<linearGradient id="es41"><stop offset="0" stop-color="#ccf03c"/><stop offset="0.125" stop-color="#ccf03c"/><stop offset="0.233" stop-color="#caef3c"/><stop offset="0.3" stop-color="#c0ec3a"/><stop offset="0.35" stop-color="#b6e938"/><stop offset="0.367" stop-color="#afe737"/><stop offset="0.383" stop-color="#a1e335"/><stop offset="0.4" stop-color="#8fdc39"/><stop offset="0.417" stop-color="#89d83d"/><stop offset="0.433" stop-color="#9ae135"/><stop offset="0.45" stop-color="#bdeb39"/><stop offset="0.467" stop-color="#e3f130"/><stop offset="0.483" stop-color="#f2f228"/><stop offset="0.5" stop-color="#f3f029"/><stop offset="0.517" stop-color="#f2f228"/><stop offset="0.533" stop-color="#dcf133"/><stop offset="0.55" stop-color="#bdeb39"/><stop offset="0.567" stop-color="#9ae135"/><stop offset="0.583" stop-color="#89d83d"/><stop offset="0.6" stop-color="#8fdc39"/><stop offset="0.617" stop-color="#a1e335"/><stop offset="0.633" stop-color="#afe737"/><stop offset="0.65" stop-color="#b6e938"/><stop offset="0.7" stop-color="#c0ec3a"/><stop offset="0.767" stop-color="#caef3c"/><stop offset="0.875" stop-color="#ccf03c"/><stop offset="1" stop-color="#ccf03c"/></linearGradient>
<linearGradient id="es42"><stop offset="0" stop-color="#ccf03c"/><stop offset="0.125" stop-color="#ccf03c"/><stop offset="0.233" stop-color="#caef3c"/><stop offset="0.3" stop-color="#c0ec3a"/><stop offset="0.35" stop-color="#b6e938"/><stop offset="0.367" stop-color="#afe737"/><stop offset="0.383" stop-color="#a1e335"/><stop offset="0.4" stop-color="#8fdc39"/><stop offset="0.417" stop-color="#89d83d"/><stop offset="0.433" stop-color="#9ae135"/><stop offset="0.45" stop-color="#beeb3a"/><stop offset="0.467" stop-color="#dcf133"/><stop offset="0.483" stop-color="#f2f228"/><stop offset="0.5" stop-color="#f3f129"/><stop offset="0.517" stop-color="#f2f228"/><stop offset="0.533" stop-color="#dcf134"/><stop offset="0.55" stop-color="#bdeb39"/><stop offset="0.567" stop-color="#9ae135"/><stop offset="0.583" stop-color="#89d83d"/><stop offset="0.6" stop-color="#8fdc39"/><stop offset="0.617" stop-color="#a1e335"/><stop offset="0.633" stop-color="#afe737"/><stop offset="0.65" stop-color="#b6e938"/><stop offset="0.7" stop-color="#c0ec3a"/><stop offset="0.767" stop-color="#cbef3c"/><stop offset="0.875" stop-color="#ccf03c"/><stop offset="1" stop-color="#ccf03c"/></linearGradient>
<linearGradient id="es43"><stop offset="0" stop-color="#ccf03c"/><stop offset="0.125" stop-color="#cdf03c"/><stop offset="0.233" stop-color="#cbef3b"/><stop offset="0.3" stop-color="#c2ed3a"/><stop offset="0.35" stop-color="#b9ea39"/><stop offset="0.367" stop-color="#b4e838"/><stop offset="0.383" stop-color="#a1e335"/><stop offset="0.4" stop-color="#8fdc39"/><stop offset="0.417" stop-color="#89d83d"/><stop offset="0.433" stop-color="#9ae135"/><stop offset="0.45" stop-color="#beeb39"/><stop offset="0.467" stop-color="#dcf134"/><stop offset="0.483" stop-color="#f1f228"/><stop offset="0.5" stop-color="#f3f129"/><stop offset="0.517" stop-color="#f1f229"/><stop offset="0.533" stop-color="#dcf134"/><stop offset="0.55" stop-color="#beeb3a"/><stop offset="0.567" stop-color="#9ae135"/><stop offset="0.583" stop-color="#89d83d"/><stop offset="0.6" stop-color="#8fdc39"/><stop offset="0.617" stop-color="#a8e536"/><stop offset="0.633" stop-color="#b4e838"/><stop offset="0.65" stop-color="#b9ea39"/><stop offset="0.7" stop-color="#c3ed3a"/><stop offset="0.767" stop-color="#ccf03b"/><stop offset="0.875" stop-color="#cdf03b"/><stop offset="1" stop-color="#cef03b"/></linearGradient>
<linearGradient id="es44"><stop offset="0" stop-color="#cdf03b"/><stop offset="0.125" stop-color="#cef03b"/><stop offset="0.233" stop-color="#ccf03b"/><stop offset="0.3" stop-color="#c3ed3a"/><stop offset="0.35" stop-color="#baea39"/><stop offset="0.367" stop-color="#b4e838"/><stop offset="0.383" stop-color="#a9e537"/><stop offset="0.4" stop-color="#8fdc39"/><stop offset="0.417" stop-color="#89d83d"/><stop offset="0.433" stop-color="#a2e336"/><stop offset="0.45" stop-color="#bfeb39"/><stop offset="0.467" stop-color="#dcf134"/><stop offset="0.483" stop-color="#f0f229"/><stop offset="0.5" stop-color="#f3f128"/><stop offset="0.517" stop-color="#eff229"/><stop offset="0.533" stop-color="#dcf134"/><stop offset="0.55" stop-color="#bfeb39"/><stop offset="0.567" stop-color="#a2e336"/><stop offset="0.583" stop-color="#89d83d"/><stop offset="0.6" stop-color="#8fdc39"/><stop offset="0.617" stop-color="#a9e537"/><stop offset="0.633" stop-color="#b5e838"/><stop offset="0.65" stop-color="#baea39"/><stop offset="0.7" stop-color="#c4ed3a"/><stop offset="0.767" stop-color="#cdf03a"/><stop offset="0.875" stop-color="#cff03b"/><stop offset="1" stop-color="#cff03a"/></linearGradient>
<linearGradient id="es45"><stop offset="0" stop-color="#cff03a"/><stop offset="0.125" stop-color="#cff03a"/><stop offset="0.233" stop-color="#cef03a"/><stop offset="0.3" stop-color="#c5ed3a"/><stop offset="0.35" stop-color="#bbea39"/><stop offset="0.367" stop-color="#b5e838"/><stop offset="0.383" stop-color="#aae537"/><stop offset="0.4" stop-color="#9ae135"/><stop offset="0.417" stop-color="#94df36"/><stop offset="0.433" stop-color="#a3e436"/><stop offset="0.45" stop-color="#c0eb39"/><stop offset="0.467" stop-color="#dcf134"/><stop offset="0.483" stop-color="#eef22a"/><stop offset="0.5" stop-color="#f2f128"/><stop offset="0.517" stop-color="#eef22a"/><stop offset="0.533" stop-color="#dcf133"/><stop offset="0.55" stop-color="#bfeb39"/><stop offset="0.567" stop-color="#a3e336"/><stop offset="0.583" stop-color="#95df35"/><stop offset="0.6" stop-color="#9ae134"/><stop offset="0.617" stop-color="#aae537"/><stop offset="0.633" stop-color="#b5e838"/><stop offset="0.65" stop-color="#bbea39"/><stop offset="0.7" stop-color="#c5ed39"/><stop offset="0.767" stop-color="#cef03a"/><stop offset="0.875" stop-color="#d0f03a"/><stop offset="1" stop-color="#d1f039"/></linearGradient>
<linearGradient id="es46"><stop offset="0" stop-color="#d0f03a"/><stop offset="0.125" stop-color="#d1f03a"/><stop offset="0.233" stop-color="#cff039"/><stop offset="0.3" stop-color="#c6ed39"/><stop offset="0.35" stop-color="#bcea39"/><stop offset="0.367" stop-color="#b6e938"/><stop offset="0.383" stop-color="#abe637"/><stop offset="0.4" stop-color="#9be135"/><stop offset="0.417" stop-color="#95e034"/><stop offset="0.433" stop-color="#a5e436"/><stop offset="0.45" stop-color="#c0ec39"/><stop offset="0.467" stop-color="#dcf133"/><stop offset="0.483" stop-color="#edf22b"/><stop offset="0.5" stop-color="#f2f228"/><stop offset="0.517" stop-color="#edf22b"/><stop offset="0.533" stop-color="#dcf133"/><stop offset="0.55" stop-color="#c0ec39"/><stop offset="0.567" stop-color="#a4e436"/><stop offset="0.583" stop-color="#96e034"/><stop offset="0.6" stop-color="#9be135"/><stop offset="0.617" stop-color="#abe637"/><stop offset="0.633" stop-color="#b6e938"/><stop offset="0.65" stop-color="#bcea38"/><stop offset="0.7" stop-color="#c6ed39"/><stop offset="0.767" stop-color="#cff039"/><stop offset="0.875" stop-color="#d1f039"/><stop offset="1" stop-color="#d2f039"/></linearGradient>
<linearGradient id="es47"><stop offset="0" stop-color="#d2f039"/><stop offset="0.125" stop-color="#d2f039"/><stop offset="0.233" stop-color="#d0f039"/><stop offset="0.3" stop-color="#c7ed39"/><stop offset="0.35" stop-color="#bdea38"/><stop offset="0.367" stop-color="#b7e938"/><stop offset="0.383" stop-color="#ace637"/><stop offset="0.4" stop-color="#9de235"/><stop offset="0.417" stop-color="#97e034"/><stop offset="0.433" stop-color="#a6e436"/><stop offset="0.45" stop-color="#c1ec38"/><stop offset="0.467" stop-color="#dcf133"/><stop offset="0.483" stop-color="#e3f130"/><stop offset="0.5" stop-color="#e8f12d"/><stop offset="0.517" stop-color="#e3f130"/><stop offset="0.533" stop-color="#dcf133"/><stop offset="0.55" stop-color="#c1ec38"/><stop offset="0.567" stop-color="#a5e436"/><stop offset="0.583" stop-color="#98e034"/><stop offset="0.6" stop-color="#9de235"/><stop offset="0.617" stop-color="#ace637"/><stop offset="0.633" stop-color="#b7e938"/><stop offset="0.65" stop-color="#bdeb38"/><stop offset="0.7" stop-color="#c8ed38"/><stop offset="0.767" stop-color="#d1f038"/><stop offset="0.875" stop-color="#d3f038"/><stop offset="1" stop-color="#d4f038"/></linearGradient>
<linearGradient id="es48"><stop offset="0" stop-color="#d3f038"/><stop offset="0.125" stop-color="#d3f038"/><stop offset="0.233" stop-color="#d2f038"/><stop offset="0.3" stop-color="#c8ed38"/><stop offset="0.35" stop-color="#beeb38"/><stop offset="0.367" stop-color="#b8e938"/><stop offset="0.383" stop-color="#ade637"/><stop offset="0.4" stop-color="#9ee235"/><stop offset="0.417" stop-color="#99e134"/><stop offset="0.433" stop-color="#a7e436"/><stop offset="0.45" stop-color="#c2ec38"/><stop offset="0.467" stop-color="#d7f136"/><stop offset="0.483" stop-color="#e2f130"/><stop offset="0.5" stop-color="#e7f12e"/><stop offset="0.517" stop-color="#e2f130"/><stop offset="0.533" stop-color="#d7f136"/><stop offset="0.55" stop-color="#c2ec38"/><stop offset="0.567" stop-color="#a6e436"/><stop offset="0.583" stop-color="#99e134"/><stop offset="0.6" stop-color="#9fe235"/><stop offset="0.617" stop-color="#ade637"/><stop offset="0.633" stop-color="#b8e938"/><stop offset="0.65" stop-color="#beeb38"/><stop offset="0.7" stop-color="#c9ee38"/><stop offset="0.767" stop-color="#d2f038"/><stop offset="0.875" stop-color="#d4f038"/><stop offset="1" stop-color="#d5f037"/></linearGradient>
<linearGradient id="es49"><stop offset="0" stop-color="#d5f037"/><stop offset="0.125" stop-color="#d5f037"/><stop offset="0.233" stop-color="#d3f037"/><stop offset="0.3" stop-color="#c9ee38"/><stop offset="0.35" stop-color="#bfeb38"/><stop offset="0.367" stop-color="#b8e938"/><stop offset="0.383" stop-color="#ade637"/><stop offset="0.4" stop-color="#a0e335"/><stop offset="0.417" stop-color="#9be135"/><stop offset="0.433" stop-color="#a7e436"/><stop offset="0.45" stop-color="#beeb38"/><stop offset="0.467" stop-color="#d8f136"/><stop offset="0.483" stop-color="#e2f130"/><stop offset="0.5" stop-color="#e6f12e"/><stop offset="0.517" stop-color="#e2f130"/><stop offset="0.533" stop-color="#d8f136"/><stop offset="0.55" stop-color="#beeb38"/><stop offset="0.567" stop-color="#a7e536"/><stop offset="0.583" stop-color="#9be135"/><stop offset="0.6" stop-color="#a0e335"/><stop offset="0.617" stop-color="#ade637"/><stop offset="0.633" stop-color="#b8e938"/><stop offset="0.65" stop-color="#bfeb38"/><stop offset="0.7" stop-color="#caee37"/><stop offset="0.767" stop-color="#d4f037"/><stop offset="0.875" stop-color="#d6f137"/><stop offset="1" stop-color="#d6f136"/></linearGradient>
<linearGradient id="es50"><stop offset="0" stop-color="#d7f136"/><stop offset="0.125" stop-color="#d6f137"/><stop offset="0.233" stop-color="#d4f037"/><stop offset="0.3" stop-color="#cbee37"/><stop offset="0.35" stop-color="#bfeb38"/><stop offset="0.367" stop-color="#b9e938"/><stop offset="0.383" stop-color="#ade637"/><stop offset="0.4" stop-color="#a0e335"/><stop offset="0.417" stop-color="#9be135"/><stop offset="0.433" stop-color="#a6e436"/><stop offset="0.45" stop-color="#beea38"/><stop offset="0.467" stop-color="#d8f136"/><stop offset="0.483" stop-color="#e2f131"/><stop offset="0.5" stop-color="#e5f12f"/><stop offset="0.517" stop-color="#e2f131"/><stop offset="0.533" stop-color="#d8f136"/><stop offset="0.55" stop-color="#beea38"/><stop offset="0.567" stop-color="#a7e436"/><stop offset="0.583" stop-color="#9be135"/><stop offset="0.6" stop-color="#a0e335"/><stop offset="0.617" stop-color="#ade637"/><stop offset="0.633" stop-color="#b9e938"/><stop offset="0.65" stop-color="#bfeb38"/><stop offset="0.7" stop-color="#cbee37"/><stop offset="0.767" stop-color="#d5f036"/><stop offset="0.875" stop-color="#d7f136"/><stop offset="1" stop-color="#d8f136"/></linearGradient>
<linearGradient id="es51"><stop offset="0" stop-color="#d8f136"/><stop offset="0.125" stop-color="#d8f136"/><stop offset="0.233" stop-color="#d5f036"/><stop offset="0.3" stop-color="#ccee36"/><stop offset="0.35" stop-color="#c0eb37"/><stop offset="0.367" stop-color="#b9e938"/><stop offset="0.383" stop-color="#ade637"/><stop offset="0.4" stop-color="#a0e335"/><stop offset="0.417" stop-color="#9be135"/><stop offset="0.433" stop-color="#a6e436"/><stop offset="0.45" stop-color="#bdea37"/><stop offset="0.467" stop-color="#d9f135"/><stop offset="0.483" stop-color="#e1f131"/><stop offset="0.5" stop-color="#e5f12f"/><stop offset="0.517" stop-color="#e1f131"/><stop offset="0.533" stop-color="#d9f135"/><stop offset="0.55" stop-color="#bdea37"/><stop offset="0.567" stop-color="#a6e436"/><stop offset="0.583" stop-color="#9be135"/><stop offset="0.6" stop-color="#a0e335"/><stop offset="0.617" stop-color="#ade637"/><stop offset="0.633" stop-color="#b9e938"/><stop offset="0.65" stop-color="#c0eb37"/><stop offset="0.7" stop-color="#cbee37"/><stop offset="0.767" stop-color="#d7f035"/><stop offset="0.875" stop-color="#d8f135"/><stop offset="1" stop-color="#d9f135"/></linearGradient>
<linearGradient id="es52"><stop offset="0" stop-color="#daf135"/><stop offset="0.125" stop-color="#d9f135"/><stop offset="0.233" stop-color="#d7f035"/><stop offset="0.3" stop-color="#cdee36"/><stop offset="0.35" stop-color="#c0eb37"/><stop offset="0.367" stop-color="#b9e938"/><stop offset="0.383" stop-color="#ade637"/><stop offset="0.4" stop-color="#a0e335"/><stop offset="0.417" stop-color="#9be135"/><stop offset="0.433" stop-color="#a6e436"/><stop offset="0.45" stop-color="#bdea37"/><stop offset="0.467" stop-color="#d9f035"/><stop offset="0.483" stop-color="#e1f131"/><stop offset="0.5" stop-color="#e4f12f"/><stop offset="0.517" stop-color="#cbed36"/><stop offset="0.533" stop-color="#d9f035"/><stop offset="0.55" stop-color="#bdea37"/><stop offset="0.567" stop-color="#a6e436"/><stop offset="0.583" stop-color="#9be135"/><stop offset="0.6" stop-color="#a0e335"/><stop offset="0.617" stop-color="#ade637"/><stop offset="0.633" stop-color="#b9e938"/><stop offset="0.65" stop-color="#c0eb37"/><stop offset="0.7" stop-color="#ccee36"/><stop offset="0.767" stop-color="#d8f035"/><stop offset="0.875" stop-color="#daf135"/><stop offset="1" stop-color="#daf134"/></linearGradient>
<linearGradient id="es53"><stop offset="0" stop-color="#dbf134"/><stop offset="0.125" stop-color="#dbf134"/><stop offset="0.233" stop-color="#d8f035"/><stop offset="0.3" stop-color="#d3ef35"/><stop offset="0.35" stop-color="#c1eb37"/><stop offset="0.367" stop-color="#b9e938"/><stop offset="0.383" stop-color="#bcea37"/><stop offset="0.4" stop-color="#a0e335"/><stop offset="0.417" stop-color="#9be135"/><stop offset="0.433" stop-color="#a6e436"/><stop offset="0.45" stop-color="#bcea37"/><stop offset="0.467" stop-color="#c6ec36"/><stop offset="0.483" stop-color="#cbed36"/><stop offset="0.5" stop-color="#c6ec36"/><stop offset="0.517" stop-color="#c8ec36"/><stop offset="0.533" stop-color="#c6ec36"/><stop offset="0.55" stop-color="#bdea37"/><stop offset="0.567" stop-color="#a6e436"/><stop offset="0.583" stop-color="#9be135"/><stop offset="0.6" stop-color="#b1e738"/><stop offset="0.617" stop-color="#bcea37"/><stop offset="0.633" stop-color="#c7ec36"/><stop offset="0.65" stop-color="#c1eb37"/><stop offset="0.7" stop-color="#cdee36"/><stop offset="0.767" stop-color="#daf034"/><stop offset="0.875" stop-color="#dbf134"/><stop offset="1" stop-color="#dcf134"/></linearGradient>
<linearGradient id="es54"><stop offset="0" stop-color="#ddf133"/><stop offset="0.125" stop-color="#dcf133"/><stop offset="0.233" stop-color="#daf034"/><stop offset="0.3" stop-color="#d5ef34"/><stop offset="0.35" stop-color="#cded35"/><stop offset="0.367" stop-color="#c7ec36"/><stop offset="0.383" stop-color="#beea37"/><stop offset="0.4" stop-color="#b1e738"/><stop offset="0.417" stop-color="#ade637"/><stop offset="0.433" stop-color="#b1e738"/><stop offset="0.45" stop-color="#bcea37"/><stop offset="0.467" stop-color="#c4ec36"/><stop offset="0.483" stop-color="#c7ec36"/><stop offset="0.5" stop-color="#c3eb36"/><stop offset="0.517" stop-color="#c5ec36"/><stop offset="0.533" stop-color="#c5ec36"/><stop offset="0.55" stop-color="#bcea37"/><stop offset="0.567" stop-color="#b1e738"/><stop offset="0.583" stop-color="#ade637"/><stop offset="0.6" stop-color="#b2e838"/><stop offset="0.617" stop-color="#bfea37"/><stop offset="0.633" stop-color="#c9ed35"/><stop offset="0.65" stop-color="#cced35"/><stop offset="0.7" stop-color="#d3ef35"/><stop offset="0.767" stop-color="#dcf133"/><stop offset="0.875" stop-color="#dcf133"/><stop offset="1" stop-color="#ddf133"/></linearGradient>
<linearGradient id="es55"><stop offset="0" stop-color="#def133"/><stop offset="0.125" stop-color="#def133"/><stop offset="0.233" stop-color="#dcf133"/><stop offset="0.3" stop-color="#d7ef33"/><stop offset="0.35" stop-color="#cfee35"/><stop offset="0.367" stop-color="#caed35"/><stop offset="0.383" stop-color="#c1eb36"/><stop offset="0.4" stop-color="#b4e838"/><stop offset="0.417" stop-color="#afe737"/><stop offset="0.433" stop-color="#b3e838"/><stop offset="0.45" stop-color="#bcea37"/><stop offset="0.467" stop-color="#c2eb36"/><stop offset="0.483" stop-color="#c4eb36"/><stop offset="0.5" stop-color="#bfea37"/><stop offset="0.517" stop-color="#c2eb36"/><stop offset="0.533" stop-color="#c3eb36"/><stop offset="0.55" stop-color="#bcea37"/><stop offset="0.567" stop-color="#b3e838"/><stop offset="0.583" stop-color="#b0e737"/><stop offset="0.6" stop-color="#b5e838"/><stop offset="0.617" stop-color="#c2eb36"/><stop offset="0.633" stop-color="#cbed35"/><stop offset="0.65" stop-color="#ceee35"/><stop offset="0.7" stop-color="#d5ef34"/><stop offset="0.767" stop-color="#ddf133"/><stop offset="0.875" stop-color="#def133"/><stop offset="1" stop-color="#def132"/></linearGradient>
<linearGradient id="es56"><stop offset="0" stop-color="#dff132"/><stop offset="0.125" stop-color="#dff132"/><stop offset="0.233" stop-color="#def132"/><stop offset="0.3" stop-color="#d9f033"/><stop offset="0.35" stop-color="#d1ee34"/><stop offset="0.367" stop-color="#cced35"/><stop offset="0.383" stop-color="#c4eb36"/><stop offset="0.4" stop-color="#b8e937"/><stop offset="0.417" stop-color="#b2e738"/><stop offset="0.433" stop-color="#b4e838"/><stop offset="0.45" stop-color="#bcea37"/><stop offset="0.467" stop-color="#c0eb36"/><stop offset="0.483" stop-color="#c0eb36"/><stop offset="0.5" stop-color="#bbe937"/><stop offset="0.517" stop-color="#bfea36"/><stop offset="0.533" stop-color="#c1eb36"/><stop offset="0.55" stop-color="#bcea37"/><stop offset="0.567" stop-color="#b5e838"/><stop offset="0.583" stop-color="#b2e738"/><stop offset="0.6" stop-color="#b8e937"/><stop offset="0.617" stop-color="#c5ec36"/><stop offset="0.633" stop-color="#cded34"/><stop offset="0.65" stop-color="#d0ee34"/><stop offset="0.7" stop-color="#d7ef33"/><stop offset="0.767" stop-color="#def132"/><stop offset="0.875" stop-color="#dff132"/><stop offset="1" stop-color="#dff132"/></linearGradient>
<linearGradient id="es57"><stop offset="0" stop-color="#e0f131"/><stop offset="0.125" stop-color="#e0f131"/><stop offset="0.233" stop-color="#dff131"/><stop offset="0.3" stop-color="#dbf032"/><stop offset="0.35" stop-color="#d4ee33"/><stop offset="0.367" stop-color="#cfee34"/><stop offset="0.383" stop-color="#c7ec35"/><stop offset="0.4" stop-color="#bdea37"/><stop offset="0.417" stop-color="#b5e838"/><stop offset="0.433" stop-color="#b7e938"/><stop offset="0.45" stop-color="#bcea37"/><stop offset="0.467" stop-color="#beea37"/><stop offset="0.483" stop-color="#bdea37"/><stop offset="0.5" stop-color="#b7e938"/><stop offset="0.517" stop-color="#bcea37"/><stop offset="0.533" stop-color="#bfea36"/><stop offset="0.55" stop-color="#bcea37"/><stop offset="0.567" stop-color="#b9e937"/><stop offset="0.583" stop-color="#b5e838"/><stop offset="0.6" stop-color="#bcea37"/><stop offset="0.617" stop-color="#c8ec35"/><stop offset="0.633" stop-color="#d0ee34"/><stop offset="0.65" stop-color="#d3ee33"/><stop offset="0.7" stop-color="#d9f033"/><stop offset="0.767" stop-color="#dff131"/><stop offset="0.875" stop-color="#e0f131"/><stop offset="1" stop-color="#e1f131"/></linearGradient>
<linearGradient id="es58"><stop offset="0" stop-color="#e1f131"/><stop offset="0.125" stop-color="#e1f131"/><stop offset="0.233" stop-color="#e1f130"/><stop offset="0.3" stop-color="#ddf031"/><stop offset="0.35" stop-color="#d6ef32"/><stop offset="0.367" stop-color="#d2ee33"/><stop offset="0.383" stop-color="#cbed34"/><stop offset="0.4" stop-color="#c2eb36"/><stop offset="0.417" stop-color="#b9e937"/><stop offset="0.433" stop-color="#bae937"/><stop offset="0.45" stop-color="#b9e937"/><stop offset="0.467" stop-color="#bbe937"/><stop offset="0.483" stop-color="#b9e937"/><stop offset="0.5" stop-color="#b3e838"/><stop offset="0.517" stop-color="#b8e937"/><stop offset="0.533" stop-color="#bdea37"/><stop offset="0.55" stop-color="#bcea37"/><stop offset="0.567" stop-color="#bcea37"/><stop offset="0.583" stop-color="#b9e937"/><stop offset="0.6" stop-color="#bfea36"/><stop offset="0.617" stop-color="#cced34"/><stop offset="0.633" stop-color="#d2ee33"/><stop offset="0.65" stop-color="#d5ef33"/><stop offset="0.7" stop-color="#dbf032"/><stop offset="0.767" stop-color="#e1f131"/><stop offset="0.875" stop-color="#e2f131"/><stop offset="1" stop-color="#e2f131"/></linearGradient>
<linearGradient id="es59"><stop offset="0" stop-color="#e3f130"/><stop offset="0.125" stop-color="#e3f130"/><stop offset="0.233" stop-color="#e3f130"/><stop offset="0.3" stop-color="#def031"/><stop offset="0.35" stop-color="#d9ef32"/><stop offset="0.367" stop-color="#d5ef32"/><stop offset="0.383" stop-color="#ceed34"/><stop offset="0.4" stop-color="#c6ec35"/><stop offset="0.417" stop-color="#beea36"/><stop offset="0.433" stop-color="#bbe937"/><stop offset="0.45" stop-color="#b9e937"/><stop offset="0.467" stop-color="#b9e937"/><stop offset="0.483" stop-color="#b4e838"/><stop offset="0.5" stop-color="#b1e738"/><stop offset="0.517" stop-color="#b5e838"/><stop offset="0.533" stop-color="#bae937"/><stop offset="0.55" stop-color="#b9e937"/><stop offset="0.567" stop-color="#bbe937"/><stop offset="0.583" stop-color="#beea36"/><stop offset="0.6" stop-color="#c3eb36"/><stop offset="0.617" stop-color="#cfed33"/><stop offset="0.633" stop-color="#d4ee33"/><stop offset="0.65" stop-color="#d7ef32"/><stop offset="0.7" stop-color="#ddf031"/><stop offset="0.767" stop-color="#e2f130"/><stop offset="0.875" stop-color="#e3f130"/><stop offset="1" stop-color="#e3f130"/></linearGradient>
<linearGradient id="es60"><stop offset="0" stop-color="#e4f12f"/><stop offset="0.125" stop-color="#e4f12f"/><stop offset="0.233" stop-color="#e4f12f"/><stop offset="0.3" stop-color="#dff030"/><stop offset="0.35" stop-color="#daef31"/><stop offset="0.367" stop-color="#d6ef32"/><stop offset="0.383" stop-color="#d0ed33"/><stop offset="0.4" stop-color="#c7ec35"/><stop offset="0.417" stop-color="#c0ea36"/><stop offset="0.433" stop-color="#bae937"/><stop offset="0.45" stop-color="#b8e937"/><stop offset="0.467" stop-color="#b4e838"/><stop offset="0.483" stop-color="#afe737"/><stop offset="0.5" stop-color="#aee737"/><stop offset="0.517" stop-color="#b2e838"/><stop offset="0.533" stop-color="#b4e838"/><stop offset="0.55" stop-color="#b8e937"/><stop offset="0.567" stop-color="#bae937"/><stop offset="0.583" stop-color="#c0ea36"/><stop offset="0.6" stop-color="#c6ec35"/><stop offset="0.617" stop-color="#d0ed33"/><stop offset="0.633" stop-color="#d6ef32"/><stop offset="0.65" stop-color="#d9ef31"/><stop offset="0.7" stop-color="#def030"/><stop offset="0.767" stop-color="#e3f12f"/><stop offset="0.875" stop-color="#e4f12f"/><stop offset="1" stop-color="#e4f12f"/></linearGradient>
<linearGradient id="es61"><stop offset="0" stop-color="#e5f12f"/><stop offset="0.125" stop-color="#e6f12f"/><stop offset="0.233" stop-color="#e5f12e"/><stop offset="0.3" stop-color="#e0f02f"/><stop offset="0.35" stop-color="#dbef31"/><stop offset="0.367" stop-color="#d8ef31"/><stop offset="0.383" stop-color="#d0ed33"/><stop offset="0.4" stop-color="#c7ec34"/><stop offset="0.417" stop-color="#c0ea36"/><stop offset="0.433" stop-color="#bae937"/><stop offset="0.45" stop-color="#b8e937"/><stop offset="0.467" stop-color="#b3e838"/><stop offset="0.483" stop-color="#afe737"/><stop offset="0.5" stop-color="#a9e536"/><stop offset="0.517" stop-color="#afe737"/><stop offset="0.533" stop-color="#b3e838"/><stop offset="0.55" stop-color="#b8e937"/><stop offset="0.567" stop-color="#bae937"/><stop offset="0.583" stop-color="#c0ea36"/><stop offset="0.6" stop-color="#c7ec34"/><stop offset="0.617" stop-color="#d1ed32"/><stop offset="0.633" stop-color="#d7ef31"/><stop offset="0.65" stop-color="#daef31"/><stop offset="0.7" stop-color="#e0f030"/><stop offset="0.767" stop-color="#e5f12f"/><stop offset="0.875" stop-color="#e6f12f"/><stop offset="1" stop-color="#e6f12f"/></linearGradient>
<linearGradient id="es62"><stop offset="0" stop-color="#e7f12e"/><stop offset="0.125" stop-color="#e7f12e"/><stop offset="0.233" stop-color="#e7f12e"/><stop offset="0.3" stop-color="#e1f02f"/><stop offset="0.35" stop-color="#dcef30"/><stop offset="0.367" stop-color="#d9ef30"/><stop offset="0.383" stop-color="#d1ed32"/><stop offset="0.4" stop-color="#c8ec34"/><stop offset="0.417" stop-color="#c1ea35"/><stop offset="0.433" stop-color="#bae937"/><stop offset="0.45" stop-color="#b8e937"/><stop offset="0.467" stop-color="#b3e838"/><stop offset="0.483" stop-color="#aee637"/><stop offset="0.5" stop-color="#a8e536"/><stop offset="0.517" stop-color="#aee637"/><stop offset="0.533" stop-color="#b3e838"/><stop offset="0.55" stop-color="#b8e937"/><stop offset="0.567" stop-color="#bae937"/><stop offset="0.583" stop-color="#c0ea36"/><stop offset="0.6" stop-color="#c8ec34"/><stop offset="0.617" stop-color="#d1ed32"/><stop offset="0.633" stop-color="#d8ef31"/><stop offset="0.65" stop-color="#dcef30"/><stop offset="0.7" stop-color="#e1f02f"/><stop offset="0.767" stop-color="#e6f12e"/><stop offset="0.875" stop-color="#e7f12e"/><stop offset="1" stop-color="#e7f12e"/></linearGradient>
<linearGradient id="es63"><stop offset="0" stop-color="#e8f12d"/><stop offset="0.125" stop-color="#e8f12d"/><stop offset="0.233" stop-color="#e8f12d"/><stop offset="0.3" stop-color="#e2f02e"/><stop offset="0.35" stop-color="#ddef2f"/><stop offset="0.367" stop-color="#daef30"/><stop offset="0.383" stop-color="#d2ed32"/><stop offset="0.4" stop-color="#c8ec34"/><stop offset="0.417" stop-color="#c1ea35"/><stop offset="0.433" stop-color="#bae937"/><stop offset="0.45" stop-color="#b7e937"/><stop offset="0.467" stop-color="#b3e838"/><stop offset="0.483" stop-color="#aee637"/><stop offset="0.5" stop-color="#a7e536"/><stop offset="0.517" stop-color="#aee637"/><stop offset="0.533" stop-color="#b3e838"/><stop offset="0.55" stop-color="#b7e937"/><stop offset="0.567" stop-color="#bae937"/><stop offset="0.583" stop-color="#c1ea35"/><stop offset="0.6" stop-color="#c8ec34"/><stop offset="0.617" stop-color="#d2ed32"/><stop offset="0.633" stop-color="#d9ef30"/><stop offset="0.65" stop-color="#ddef2f"/><stop offset="0.7" stop-color="#e2f02f"/><stop offset="0.767" stop-color="#e7f12d"/><stop offset="0.875" stop-color="#e8f12d"/><stop offset="1" stop-color="#e8f12d"/></linearGradient>
<linearGradient id="es64"><stop offset="0" stop-color="#e9f22d"/><stop offset="0.125" stop-color="#eaf22c"/><stop offset="0.233" stop-color="#e9f12c"/><stop offset="0.3" stop-color="#e3f02e"/><stop offset="0.35" stop-color="#deef2f"/><stop offset="0.367" stop-color="#dbef2f"/><stop offset="0.383" stop-color="#d3ee31"/><stop offset="0.4" stop-color="#c9ec34"/><stop offset="0.417" stop-color="#bfea36"/><stop offset="0.433" stop-color="#bae937"/><stop offset="0.45" stop-color="#b7e937"/><stop offset="0.467" stop-color="#b2e838"/><stop offset="0.483" stop-color="#ade637"/><stop offset="0.5" stop-color="#a7e536"/><stop offset="0.517" stop-color="#ade637"/><stop offset="0.533" stop-color="#b2e838"/><stop offset="0.55" stop-color="#b7e937"/><stop offset="0.567" stop-color="#bae937"/><stop offset="0.583" stop-color="#c1ea35"/><stop offset="0.6" stop-color="#c9ec34"/><stop offset="0.617" stop-color="#d3ee31"/><stop offset="0.633" stop-color="#daef30"/><stop offset="0.65" stop-color="#deef2f"/><stop offset="0.7" stop-color="#e3f02e"/><stop offset="0.767" stop-color="#e8f12d"/><stop offset="0.875" stop-color="#eaf22c"/><stop offset="1" stop-color="#e9f22d"/></linearGradient>
<linearGradient id="es65"><stop offset="0" stop-color="#ebf22c"/><stop offset="0.125" stop-color="#ebf22c"/><stop offset="0.233" stop-color="#eaf12c"/><stop offset="0.3" stop-color="#e5f12d"/><stop offset="0.35" stop-color="#dff02e"/><stop offset="0.367" stop-color="#dcef2f"/><stop offset="0.383" stop-color="#d4ee31"/><stop offset="0.4" stop-color="#c9ec33"/><stop offset="0.417" stop-color="#bfea35"/><stop offset="0.433" stop-color="#b3e838"/><stop offset="0.45" stop-color="#afe737"/><stop offset="0.467" stop-color="#aae537"/><stop offset="0.483" stop-color="#ade637"/><stop offset="0.5" stop-color="#a6e436"/><stop offset="0.517" stop-color="#ade637"/><stop offset="0.533" stop-color="#aae537"/><stop offset="0.55" stop-color="#b0e737"/><stop offset="0.567" stop-color="#b3e838"/><stop offset="0.583" stop-color="#bfea36"/><stop offset="0.6" stop-color="#c9ec33"/><stop offset="0.617" stop-color="#d4ee31"/><stop offset="0.633" stop-color="#dbef2f"/><stop offset="0.65" stop-color="#dff02e"/><stop offset="0.7" stop-color="#e4f02d"/><stop offset="0.767" stop-color="#eaf12c"/><stop offset="0.875" stop-color="#ebf22c"/><stop offset="1" stop-color="#ebf22c"/></linearGradient>
<linearGradient id="es66"><stop offset="0" stop-color="#ecf22b"/><stop offset="0.125" stop-color="#edf22b"/><stop offset="0.233" stop-color="#ecf22b"/><stop offset="0.3" stop-color="#e6f12c"/><stop offset="0.35" stop-color="#e0f02e"/><stop offset="0.367" stop-color="#ddef2e"/><stop offset="0.383" stop-color="#d5ee30"/><stop offset="0.4" stop-color="#caec33"/><stop offset="0.417" stop-color="#bfea35"/><stop offset="0.433" stop-color="#b3e838"/><stop offset="0.45" stop-color="#afe737"/><stop offset="0.467" stop-color="#a9e537"/><stop offset="0.483" stop-color="#a2e336"/><stop offset="0.5" stop-color="#a6e436"/><stop offset="0.517" stop-color="#a2e336"/><stop offset="0.533" stop-color="#a9e537"/><stop offset="0.55" stop-color="#afe737"/><stop offset="0.567" stop-color="#b3e838"/><stop offset="0.583" stop-color="#bfea35"/><stop offset="0.6" stop-color="#caec33"/><stop offset="0.617" stop-color="#d5ee30"/><stop offset="0.633" stop-color="#dcef2f"/><stop offset="0.65" stop-color="#e0f02e"/><stop offset="0.7" stop-color="#e6f12d"/><stop offset="0.767" stop-color="#ebf12b"/><stop offset="0.875" stop-color="#ecf22b"/><stop offset="1" stop-color="#ecf22b"/></linearGradient>
<linearGradient id="es67"><stop offset="0" stop-color="#eef22a"/><stop offset="0.125" stop-color="#eef22a"/><stop offset="0.233" stop-color="#edf22a"/><stop offset="0.3" stop-color="#e7f12c"/><stop offset="0.35" stop-color="#e1f02d"/><stop offset="0.367" stop-color="#ddef2e"/><stop offset="0.383" stop-color="#d5ee30"/><stop offset="0.4" stop-color="#cbec32"/><stop offset="0.417" stop-color="#bfea35"/><stop offset="0.433" stop-color="#b2e838"/><stop offset="0.45" stop-color="#aee637"/><stop offset="0.467" stop-color="#a8e536"/><stop offset="0.483" stop-color="#a1e335"/><stop offset="0.5" stop-color="#99e134"/><stop offset="0.517" stop-color="#a1e335"/><stop offset="0.533" stop-color="#a9e536"/><stop offset="0.55" stop-color="#aee637"/><stop offset="0.567" stop-color="#b2e838"/><stop offset="0.583" stop-color="#bfea35"/><stop offset="0.6" stop-color="#caec33"/><stop offset="0.617" stop-color="#d5ee30"/><stop offset="0.633" stop-color="#ddef2e"/><stop offset="0.65" stop-color="#e1f02d"/><stop offset="0.7" stop-color="#e7f12c"/><stop offset="0.767" stop-color="#ecf22b"/><stop offset="0.875" stop-color="#eef22a"/><stop offset="1" stop-color="#eef22a"/></linearGradient>
<linearGradient id="es68"><stop offset="0" stop-color="#eff229"/><stop offset="0.125" stop-color="#f0f229"/><stop offset="0.233" stop-color="#eef22a"/><stop offset="0.3" stop-color="#e8f12b"/><stop offset="0.35" stop-color="#e2f02d"/><stop offset="0.367" stop-color="#deef2e"/><stop offset="0.383" stop-color="#d6ee30"/><stop offset="0.4" stop-color="#ccec32"/><stop offset="0.417" stop-color="#bfea35"/><stop offset="0.433" stop-color="#b2e738"/><stop offset="0.45" stop-color="#ade637"/><stop offset="0.467" stop-color="#a7e536"/><stop offset="0.483" stop-color="#a0e335"/><stop offset="0.5" stop-color="#97e034"/><stop offset="0.517" stop-color="#a0e335"/><stop offset="0.533" stop-color="#a8e536"/><stop offset="0.55" stop-color="#ade637"/><stop offset="0.567" stop-color="#b2e738"/><stop offset="0.583" stop-color="#bfea35"/><stop offset="0.6" stop-color="#cbec32"/><stop offset="0.617" stop-color="#d6ee30"/><stop offset="0.633" stop-color="#deef2e"/><stop offset="0.65" stop-color="#e2f02d"/><stop offset="0.7" stop-color="#e9f12b"/><stop offset="0.767" stop-color="#eef22a"/><stop offset="0.875" stop-color="#eff22a"/><stop offset="1" stop-color="#eff229"/></linearGradient>
<linearGradient id="es69"><stop offset="0" stop-color="#f1f229"/><stop offset="0.125" stop-color="#f1f228"/><stop offset="0.233" stop-color="#eff229"/><stop offset="0.3" stop-color="#eaf12b"/><stop offset="0.35" stop-color="#e3f02c"/><stop offset="0.367" stop-color="#dfef2d"/><stop offset="0.383" stop-color="#d7ee2f"/><stop offset="0.4" stop-color="#ccec32"/><stop offset="0.417" stop-color="#bfea35"/><stop offset="0.433" stop-color="#aee737"/><stop offset="0.45" stop-color="#ace637"/><stop offset="0.467" stop-color="#a6e436"/><stop offset="0.483" stop-color="#9fe235"/><stop offset="0.5" stop-color="#96e034"/><stop offset="0.517" stop-color="#9fe235"/><stop offset="0.533" stop-color="#a7e436"/><stop offset="0.55" stop-color="#ade637"/><stop offset="0.567" stop-color="#b2e738"/><stop offset="0.583" stop-color="#bfea35"/><stop offset="0.6" stop-color="#ccec32"/><stop offset="0.617" stop-color="#d7ee2f"/><stop offset="0.633" stop-color="#dfef2d"/><stop offset="0.65" stop-color="#e3f02c"/><stop offset="0.7" stop-color="#eaf12a"/><stop offset="0.767" stop-color="#eff229"/><stop offset="0.875" stop-color="#f0f229"/><stop offset="1" stop-color="#f1f229"/></linearGradient>
<linearGradient id="es70"><stop offset="0" stop-color="#f2f228"/><stop offset="0.125" stop-color="#f2f228"/><stop offset="0.233" stop-color="#f0f229"/><stop offset="0.3" stop-color="#ebf12a"/><stop offset="0.35" stop-color="#e4f02c"/><stop offset="0.367" stop-color="#e0ef2d"/><stop offset="0.383" stop-color="#d8ee2f"/><stop offset="0.4" stop-color="#ccec32"/><stop offset="0.417" stop-color="#bce936"/><stop offset="0.433" stop-color="#aee637"/><stop offset="0.45" stop-color="#a7e536"/><stop offset="0.467" stop-color="#a5e436"/><stop offset="0.483" stop-color="#9ee235"/><stop offset="0.5" stop-color="#94df35"/><stop offset="0.517" stop-color="#9ee235"/><stop offset="0.533" stop-color="#a6e436"/><stop offset="0.55" stop-color="#ace637"/><stop offset="0.567" stop-color="#aee637"/><stop offset="0.583" stop-color="#bce936"/><stop offset="0.6" stop-color="#ccec32"/><stop offset="0.617" stop-color="#d7ee2f"/><stop offset="0.633" stop-color="#e0ef2d"/><stop offset="0.65" stop-color="#e4f02c"/><stop offset="0.7" stop-color="#ebf12a"/><stop offset="0.767" stop-color="#f0f229"/><stop offset="0.875" stop-color="#f2f228"/><stop offset="1" stop-color="#f2f228"/></linearGradient>
<linearGradient id="es71"><stop offset="0" stop-color="#f2f228"/><stop offset="0.125" stop-color="#f2f228"/><stop offset="0.233" stop-color="#f1f228"/><stop offset="0.3" stop-color="#ebf12a"/><stop offset="0.35" stop-color="#e4f02c"/><stop offset="0.367" stop-color="#e0ef2d"/><stop offset="0.383" stop-color="#d8ee2f"/><stop offset="0.4" stop-color="#ccec32"/><stop offset="0.417" stop-color="#bce936"/><stop offset="0.433" stop-color="#aee637"/><stop offset="0.45" stop-color="#a6e436"/><stop offset="0.467" stop-color="#a4e436"/><stop offset="0.483" stop-color="#9ce235"/><stop offset="0.5" stop-color="#93de36"/><stop offset="0.517" stop-color="#9ce235"/><stop offset="0.533" stop-color="#a5e436"/><stop offset="0.55" stop-color="#a7e436"/><stop offset="0.567" stop-color="#aee637"/><stop offset="0.583" stop-color="#bbe936"/><stop offset="0.6" stop-color="#ccec32"/><stop offset="0.617" stop-color="#d8ee2f"/><stop offset="0.633" stop-color="#e0ef2d"/><stop offset="0.65" stop-color="#e4f02c"/><stop offset="0.7" stop-color="#ebf12a"/><stop offset="0.767" stop-color="#f1f228"/><stop offset="0.875" stop-color="#f2f228"/><stop offset="1" stop-color="#f2f228"/></linearGradient>
<linearGradient id="es72"><stop offset="0" stop-color="#f2f228"/><stop offset="0.125" stop-color="#f2f228"/><stop offset="0.233" stop-color="#f1f228"/><stop offset="0.3" stop-color="#ebf12a"/><stop offset="0.35" stop-color="#e4f02c"/><stop offset="0.367" stop-color="#e0ef2d"/><stop offset="0.383" stop-color="#d8ee2f"/><stop offset="0.4" stop-color="#ccec32"/><stop offset="0.417" stop-color="#bbe936"/><stop offset="0.433" stop-color="#ade637"/><stop offset="0.45" stop-color="#a6e436"/><stop offset="0.467" stop-color="#9de235"/><stop offset="0.483" stop-color="#9be135"/><stop offset="0.5" stop-color="#92dd37"/><stop offset="0.517" stop-color="#9be135"/><stop offset="0.533" stop-color="#9ee235"/><stop offset="0.55" stop-color="#a6e436"/><stop offset="0.567" stop-color="#ade637"/><stop offset="0.583" stop-color="#bbe936"/><stop offset="0.6" stop-color="#ccec32"/><stop offset="0.617" stop-color="#d8ee2f"/><stop offset="0.633" stop-color="#e0ef2d"/><stop offset="0.65" stop-color="#e4f02c"/><stop offset="0.7" stop-color="#ebf12a"/><stop offset="0.767" stop-color="#f1f228"/><stop offset="0.875" stop-color="#f2f228"/><stop offset="1" stop-color="#f2f228"/></linearGradient>
<linearGradient id="es73"><stop offset="0" stop-color="#f2f228"/><stop offset="0.125" stop-color="#f2f228"/><stop offset="0.233" stop-color="#f1f228"/><stop offset="0.3" stop-color="#ebf12a"/><stop offset="0.35" stop-color="#e4f02c"/><stop offset="0.367" stop-color="#e0ef2d"/><stop offset="0.383" stop-color="#d8ee2f"/><stop offset="0.4" stop-color="#ccec32"/><stop offset="0.417" stop-color="#bbe936"/><stop offset="0.433" stop-color="#ade637"/><stop offset="0.45" stop-color="#a5e436"/><stop offset="0.467" stop-color="#9ce235"/><stop offset="0.483" stop-color="#92dd37"/><stop offset="0.5" stop-color="#90dd38"/><stop offset="0.517" stop-color="#92dd37"/><stop offset="0.533" stop-color="#9de235"/><stop offset="0.55" stop-color="#a5e436"/><stop offset="0.567" stop-color="#ade637"/><stop offset="0.583" stop-color="#bbe936"/><stop offset="0.6" stop-color="#ccec32"/><stop offset="0.617" stop-color="#d8ee2f"/><stop offset="0.633" stop-color="#e0ef2d"/><stop offset="0.65" stop-color="#e4f02c"/><stop offset="0.7" stop-color="#ebf12a"/><stop offset="0.767" stop-color="#f1f228"/><stop offset="0.875" stop-color="#f2f228"/><stop offset="1" stop-color="#f2f228"/></linearGradient>
<linearGradient id="es74"><stop offset="0" stop-color="#f2f228"/><stop offset="0.125" stop-color="#f2f228"/><stop offset="0.233" stop-color="#f1f228"/><stop offset="0.3" stop-color="#ebf12a"/><stop offset="0.35" stop-color="#e4f02c"/><stop offset="0.367" stop-color="#e0ef2d"/><stop offset="0.383" stop-color="#d8ee2f"/><stop offset="0.4" stop-color="#ccec32"/><stop offset="0.417" stop-color="#bae936"/><stop offset="0.433" stop-color="#ade637"/><stop offset="0.45" stop-color="#a4e436"/><stop offset="0.467" stop-color="#9be135"/><stop offset="0.483" stop-color="#91dd38"/><stop offset="0.5" stop-color="#85d640"/><stop offset="0.517" stop-color="#91dd38"/><stop offset="0.533" stop-color="#9ce235"/><stop offset="0.55" stop-color="#a5e436"/><stop offset="0.567" stop-color="#ace637"/><stop offset="0.583" stop-color="#bae936"/><stop offset="0.6" stop-color="#ccec32"/><stop offset="0.617" stop-color="#d8ee2f"/><stop offset="0.633" stop-color="#e0ef2d"/><stop offset="0.65" stop-color="#e4f02c"/><stop offset="0.7" stop-color="#ebf12a"/><stop offset="0.767" stop-color="#f1f228"/><stop offset="0.875" stop-color="#f2f228"/><stop offset="1" stop-color="#f2f228"/></linearGradient>
<linearGradient id="es75"><stop offset="0" stop-color="#f2f228"/><stop offset="0.125" stop-color="#f2f228"/><stop offset="0.233" stop-color="#f1f228"/><stop offset="0.3" stop-color="#ebf12a"/><stop offset="0.35" stop-color="#e4f02c"/><stop offset="0.367" stop-color="#e0ef2d"/><stop offset="0.383" stop-color="#d8ee2f"/><stop offset="0.4" stop-color="#ccec32"/><stop offset="0.417" stop-color="#bae936"/><stop offset="0.433" stop-color="#ace637"/><stop offset="0.45" stop-color="#a4e436"/><stop offset="0.467" stop-color="#9be135"/><stop offset="0.483" stop-color="#90dc38"/><stop offset="0.5" stop-color="#84d541"/><stop offset="0.517" stop-color="#90dc38"/><stop offset="0.533" stop-color="#9be135"/><stop offset="0.55" stop-color="#a4e436"/><stop offset="0.567" stop-color="#a8e536"/><stop offset="0.583" stop-color="#b6e838"/><stop offset="0.6" stop-color="#ccec32"/><stop offset="0.617" stop-color="#d8ee2f"/><stop offset="0.633" stop-color="#e0ef2d"/><stop offset="0.65" stop-color="#e4f02c"/><stop offset="0.7" stop-color="#ebf12a"/><stop offset="0.767" stop-color="#f1f228"/><stop offset="0.875" stop-color="#f2f228"/><stop offset="1" stop-color="#f2f228"/></linearGradient>
<linearGradient id="es76"><stop offset="0" stop-color="#f2f228"/><stop offset="0.125" stop-color="#f2f228"/><stop offset="0.233" stop-color="#f1f228"/><stop offset="0.3" stop-color="#ebf12a"/><stop offset="0.35" stop-color="#e4f02c"/><stop offset="0.367" stop-color="#e0ef2d"/><stop offset="0.383" stop-color="#d8ee2f"/><stop offset="0.4" stop-color="#ccec32"/><stop offset="0.417" stop-color="#b6e838"/><stop offset="0.433" stop-color="#a8e536"/><stop offset="0.45" stop-color="#9ce235"/><stop offset="0.467" stop-color="#9ae135"/><stop offset="0.483" stop-color="#8fdc39"/><stop offset="0.5" stop-color="#83d542"/><stop offset="0.517" stop-color="#8fdc39"/><stop offset="0.533" stop-color="#9ae135"/><stop offset="0.55" stop-color="#a3e436"/><stop offset="0.567" stop-color="#a7e536"/><stop offset="0.583" stop-color="#b5e838"/><stop offset="0.6" stop-color="#ccec32"/><stop offset="0.617" stop-color="#d8ee2f"/><stop offset="0.633" stop-color="#e0ef2d"/><stop offset="0.65" stop-color="#e4f02c"/><stop offset="0.7" stop-color="#ebf12a"/><stop offset="0.767" stop-color="#f1f228"/><stop offset="0.875" stop-color="#f2f228"/><stop offset="1" stop-color="#f2f228"/></linearGradient>
<linearGradient id="es77"><stop offset="0" stop-color="#f2f228"/><stop offset="0.125" stop-color="#f2f228"/><stop offset="0.233" stop-color="#f1f228"/><stop offset="0.3" stop-color="#ebf12a"/><stop offset="0.35" stop-color="#e4f02c"/><stop offset="0.367" stop-color="#e0ef2d"/><stop offset="0.383" stop-color="#d8ee2f"/><stop offset="0.4" stop-color="#ccec32"/><stop offset="0.417" stop-color="#b5e838"/><stop offset="0.433" stop-color="#a7e536"/><stop offset="0.45" stop-color="#9ce235"/><stop offset="0.467" stop-color="#99e134"/><stop offset="0.483" stop-color="#8edb3a"/><stop offset="0.5" stop-color="#81d443"/><stop offset="0.517" stop-color="#8edb3a"/><stop offset="0.533" stop-color="#99e134"/><stop offset="0.55" stop-color="#9ce235"/><stop offset="0.567" stop-color="#a7e436"/><stop offset="0.583" stop-color="#b5e838"/><stop offset="0.6" stop-color="#ccec32"/><stop offset="0.617" stop-color="#d8ee2f"/><stop offset="0.633" stop-color="#e0ef2d"/><stop offset="0.65" stop-color="#e4f02c"/><stop offset="0.7" stop-color="#ebf12a"/><stop offset="0.767" stop-color="#f1f228"/><stop offset="0.875" stop-color="#f2f228"/><stop offset="1" stop-color="#f2f228"/></linearGradient>
<linearGradient id="es78"><stop offset="0" stop-color="#f2f228"/><stop offset="0.125" stop-color="#f2f228"/><stop offset="0.233" stop-color="#f1f228"/><stop offset="0.3" stop-color="#ebf12a"/><stop offset="0.35" stop-color="#e4f02c"/><stop offset="0.367" stop-color="#e0ef2d"/><stop offset="0.383" stop-color="#d8ee2f"/><stop offset="0.4" stop-color="#ccec32"/><stop offset="0.417" stop-color="#b4e838"/><stop offset="0.433" stop-color="#a6e436"/><stop offset="0.45" stop-color="#9be135"/><stop offset="0.467" stop-color="#8fdc39"/><stop offset="0.483" stop-color="#8dda3b"/><stop offset="0.5" stop-color="#80d344"/><stop offset="0.517" stop-color="#8dda3b"/><stop offset="0.533" stop-color="#8fdc39"/><stop offset="0.55" stop-color="#9be135"/><stop offset="0.567" stop-color="#a6e436"/><stop offset="0.583" stop-color="#b4e838"/><stop offset="0.6" stop-color="#ccec32"/><stop offset="0.617" stop-color="#d8ee2f"/><stop offset="0.633" stop-color="#e0ef2d"/><stop offset="0.65" stop-color="#e4f02c"/><stop offset="0.7" stop-color="#ebf12a"/><stop offset="0.767" stop-color="#f1f228"/><stop offset="0.875" stop-color="#f2f228"/><stop offset="1" stop-color="#f2f228"/></linearGradient>
<linearGradient id="es79"><stop offset="0" stop-color="#f2f228"/><stop offset="0.125" stop-color="#f2f228"/><stop offset="0.233" stop-color="#f1f228"/><stop offset="0.3" stop-color="#ebf12a"/><stop offset="0.35" stop-color="#e4f02c"/><stop offset="0.367" stop-color="#e0ef2d"/><stop offset="0.383" stop-color="#d8ee2f"/><stop offset="0.4" stop-color="#ccec32"/><stop offset="0.417" stop-color="#b4e838"/><stop offset="0.433" stop-color="#a6e436"/><stop offset="0.45" stop-color="#9ae135"/><stop offset="0.467" stop-color="#8edb3a"/><stop offset="0.483" stop-color="#80d344"/><stop offset="0.5" stop-color="#7fd244"/><stop offset="0.517" stop-color="#8cda3b"/><stop offset="0.533" stop-color="#8edb3a"/><stop offset="0.55" stop-color="#9ae135"/><stop offset="0.567" stop-color="#a6e436"/><stop offset="0.583" stop-color="#b4e838"/><stop offset="0.6" stop-color="#ccec32"/><stop offset="0.617" stop-color="#d8ee2f"/><stop offset="0.633" stop-color="#e0ef2d"/><stop offset="0.65" stop-color="#e4f02c"/><stop offset="0.7" stop-color="#ebf12a"/><stop offset="0.767" stop-color="#f1f228"/><stop offset="0.875" stop-color="#f2f228"/><stop offset="1" stop-color="#f2f228"/></linearGradient>
<linearGradient id="es80"><stop offset="0" stop-color="#f2f228"/><stop offset="0.125" stop-color="#f2f228"/><stop offset="0.233" stop-color="#f1f228"/><stop offset="0.3" stop-color="#ebf12a"/><stop offset="0.35" stop-color="#e4f02c"/><stop offset="0.367" stop-color="#e0ef2d"/><stop offset="0.383" stop-color="#d8ee2f"/><stop offset="0.4" stop-color="#ccec32"/><stop offset="0.417" stop-color="#b4e838"/><stop offset="0.433" stop-color="#a5e436"/><stop offset="0.45" stop-color="#99e134"/><stop offset="0.467" stop-color="#8dda3b"/><stop offset="0.483" stop-color="#7ed245"/><stop offset="0.5" stop-color="#7dd245"/><stop offset="0.517" stop-color="#7ed245"/><stop offset="0.533" stop-color="#8ddb3a"/><stop offset="0.55" stop-color="#99e134"/><stop offset="0.567" stop-color="#a5e436"/><stop offset="0.583" stop-color="#b4e838"/><stop offset="0.6" stop-color="#ccec32"/><stop offset="0.617" stop-color="#d8ee2f"/><stop offset="0.633" stop-color="#e0ef2d"/><stop offset="0.65" stop-color="#e4f02c"/><stop offset="0.7" stop-color="#ebf12a"/><stop offset="0.767" stop-color="#f1f228"/><stop offset="0.875" stop-color="#f2f228"/><stop offset="1" stop-color="#f2f228"/></linearGradient>
<linearGradient id="es81"><stop offset="0" stop-color="#f2f228"/><stop offset="0.125" stop-color="#f2f228"/><stop offset="0.233" stop-color="#f1f228"/><stop offset="0.3" stop-color="#ebf12a"/><stop offset="0.35" stop-color="#e4f02c"/><stop offset="0.367" stop-color="#e0ef2d"/><stop offset="0.383" stop-color="#d8ee2f"/><stop offset="0.4" stop-color="#ccec32"/><stop offset="0.417" stop-color="#b2e738"/><stop offset="0.433" stop-color="#a0e335"/><stop offset="0.45" stop-color="#99e134"/><stop offset="0.467" stop-color="#8bda3b"/><stop offset="0.483" stop-color="#7dd146"/><stop offset="0.5" stop-color="#6ec751"/><stop offset="0.517" stop-color="#7dd146"/><stop offset="0.533" stop-color="#8cda3b"/><stop offset="0.55" stop-color="#98e134"/><stop offset="0.567" stop-color="#a1e335"/><stop offset="0.583" stop-color="#b2e738"/><stop offset="0.6" stop-color="#ccec32"/><stop offset="0.617" stop-color="#d8ee2f"/><stop offset="0.633" stop-color="#e0ef2d"/><stop offset="0.65" stop-color="#e4f02c"/><stop offset="0.7" stop-color="#ebf12a"/><stop offset="0.767" stop-color="#f1f228"/><stop offset="0.875" stop-color="#f2f228"/><stop offset="1" stop-color="#f2f228"/></linearGradient>
<linearGradient id="es82"><stop offset="0" stop-color="#f2f228"/><stop offset="0.125" stop-color="#f2f228"/><stop offset="0.233" stop-color="#f1f228"/><stop offset="0.3" stop-color="#ebf12a"/><stop offset="0.35" stop-color="#e4f02c"/><stop offset="0.367" stop-color="#e0ef2d"/><stop offset="0.383" stop-color="#d8ee2f"/><stop offset="0.4" stop-color="#ccec32"/><stop offset="0.417" stop-color="#b1e738"/><stop offset="0.433" stop-color="#a0e335"/><stop offset="0.45" stop-color="#98e134"/><stop offset="0.467" stop-color="#8ad93c"/><stop offset="0.483" stop-color="#7bd047"/><stop offset="0.5" stop-color="#6dc652"/><stop offset="0.517" stop-color="#7bd047"/><stop offset="0.533" stop-color="#8bd93c"/><stop offset="0.55" stop-color="#97e034"/><stop offset="0.567" stop-color="#a0e335"/><stop offset="0.583" stop-color="#b1e738"/><stop offset="0.6" stop-color="#ccec32"/><stop offset="0.617" stop-color="#d8ee2f"/><stop offset="0.633" stop-color="#e0ef2d"/><stop offset="0.65" stop-color="#e4f02c"/><stop offset="0.7" stop-color="#ebf12a"/><stop offset="0.767" stop-color="#f1f228"/><stop offset="0.875" stop-color="#f2f228"/><stop offset="1" stop-color="#f2f228"/></linearGradient>
<linearGradient id="es83"><stop offset="0" stop-color="#f2f228"/><stop offset="0.125" stop-color="#f2f228"/><stop offset="0.233" stop-color="#f1f228"/><stop offset="0.3" stop-color="#ebf12a"/><stop offset="0.35" stop-color="#e4f02c"/><stop offset="0.367" stop-color="#e0ef2d"/><stop offset="0.383" stop-color="#d8ee2f"/><stop offset="0.4" stop-color="#ccec32"/><stop offset="0.417" stop-color="#b1e738"/><stop offset="0.433" stop-color="#9fe235"/><stop offset="0.45" stop-color="#97e034"/><stop offset="0.467" stop-color="#89d83d"/><stop offset="0.483" stop-color="#7ad048"/><stop offset="0.5" stop-color="#6bc553"/><stop offset="0.517" stop-color="#7acf48"/><stop offset="0.533" stop-color="#89d93d"/><stop offset="0.55" stop-color="#90dc38"/><stop offset="0.567" stop-color="#9fe335"/><stop offset="0.583" stop-color="#b1e738"/><stop offset="0.6" stop-color="#ccec32"/><stop offset="0.617" stop-color="#d8ee2f"/><stop offset="0.633" stop-color="#e0ef2d"/><stop offset="0.65" stop-color="#e4f02c"/><stop offset="0.7" stop-color="#ebf12a"/><stop offset="0.767" stop-color="#f1f228"/><stop offset="0.875" stop-color="#f2f228"/><stop offset="1" stop-color="#f2f228"/></linearGradient>
<linearGradient id="es84"><stop offset="0" stop-color="#f2f228"/><stop offset="0.125" stop-color="#f2f228"/><stop offset="0.233" stop-color="#f1f228"/><stop offset="0.3" stop-color="#ebf12a"/><stop offset="0.35" stop-color="#e4f02c"/><stop offset="0.367" stop-color="#e0ef2d"/><stop offset="0.383" stop-color="#d8ee2f"/><stop offset="0.4" stop-color="#ccec32"/><stop offset="0.417" stop-color="#b0e738"/><stop offset="0.433" stop-color="#9fe235"/><stop offset="0.45" stop-color="#90dc39"/><stop offset="0.467" stop-color="#7fd244"/><stop offset="0.483" stop-color="#79cf49"/><stop offset="0.5" stop-color="#6ac454"/><stop offset="0.517" stop-color="#78cf49"/><stop offset="0.533" stop-color="#88d83e"/><stop offset="0.55" stop-color="#8fdc39"/><stop offset="0.567" stop-color="#9fe235"/><stop offset="0.583" stop-color="#b1e738"/><stop offset="0.6" stop-color="#ccec32"/><stop offset="0.617" stop-color="#d8ee2f"/><stop offset="0.633" stop-color="#e0ef2d"/><stop offset="0.65" stop-color="#e4f02c"/><stop offset="0.7" stop-color="#ebf12a"/><stop offset="0.767" stop-color="#f1f228"/><stop offset="0.875" stop-color="#f2f228"/><stop offset="1" stop-color="#f2f228"/></linearGradient>
<linearGradient id="es85"><stop offset="0" stop-color="#f2f228"/><stop offset="0.125" stop-color="#f2f228"/><stop offset="0.233" stop-color="#f1f228"/><stop offset="0.3" stop-color="#ebf12a"/><stop offset="0.35" stop-color="#e4f02c"/><stop offset="0.367" stop-color="#e0ef2d"/><stop offset="0.383" stop-color="#d8ee2f"/><stop offset="0.4" stop-color="#ccec32"/><stop offset="0.417" stop-color="#aee637"/><stop offset="0.433" stop-color="#9ee235"/><stop offset="0.45" stop-color="#8edb39"/><stop offset="0.467" stop-color="#7ed245"/><stop offset="0.483" stop-color="#77ce4a"/><stop offset="0.5" stop-color="#68c355"/><stop offset="0.517" stop-color="#77ce4a"/><stop offset="0.533" stop-color="#7ed245"/><stop offset="0.55" stop-color="#8edc39"/><stop offset="0.567" stop-color="#9ee235"/><stop offset="0.583" stop-color="#b0e738"/><stop offset="0.6" stop-color="#ccec32"/><stop offset="0.617" stop-color="#d8ee2f"/><stop offset="0.633" stop-color="#e0ef2d"/><stop offset="0.65" stop-color="#e4f02c"/><stop offset="0.7" stop-color="#ebf12a"/><stop offset="0.767" stop-color="#f1f228"/><stop offset="0.875" stop-color="#f2f228"/><stop offset="1" stop-color="#f2f228"/></linearGradient>
<linearGradient id="es86"><stop offset="0" stop-color="#f2f228"/><stop offset="0.125" stop-color="#f2f228"/><stop offset="0.233" stop-color="#f1f228"/><stop offset="0.3" stop-color="#ebf12a"/><stop offset="0.35" stop-color="#e4f02c"/><stop offset="0.367" stop-color="#e0ef2d"/><stop offset="0.383" stop-color="#d8ee2f"/><stop offset="0.4" stop-color="#ccec32"/><stop offset="0.417" stop-color="#aee637"/><stop offset="0.433" stop-color="#9ee235"/><stop offset="0.45" stop-color="#8ddb3a"/><stop offset="0.467" stop-color="#7dd146"/><stop offset="0.483" stop-color="#6bc553"/><stop offset="0.5" stop-color="#67c256"/><stop offset="0.517" stop-color="#6bc553"/><stop offset="0.533" stop-color="#7dd146"/><stop offset="0.55" stop-color="#8edb3a"/><stop offset="0.567" stop-color="#9ee235"/><stop offset="0.583" stop-color="#aee637"/><stop offset="0.6" stop-color="#ccec32"/><stop offset="0.617" stop-color="#d8ee2f"/><stop offset="0.633" stop-color="#e0ef2d"/><stop offset="0.65" stop-color="#e4f02c"/><stop offset="0.7" stop-color="#ebf12a"/><stop offset="0.767" stop-color="#f1f228"/><stop offset="0.875" stop-color="#f2f228"/><stop offset="1" stop-color="#f2f228"/></linearGradient>
<linearGradient id="es87"><stop offset="0" stop-color="#f2f228"/><stop offset="0.125" stop-color="#f2f228"/><stop offset="0.233" stop-color="#f1f228"/><stop offset="0.3" stop-color="#ebf12a"/><stop offset="0.35" stop-color="#e4f02c"/><stop offset="0.367" stop-color="#e0ef2d"/><stop offset="0.383" stop-color="#d8ee2f"/><stop offset="0.4" stop-color="#ccec32"/><stop offset="0.417" stop-color="#aee637"/><stop offset="0.433" stop-color="#98e134"/><stop offset="0.45" stop-color="#8cda3b"/><stop offset="0.467" stop-color="#7bd047"/><stop offset="0.483" stop-color="#6ac454"/><stop offset="0.5" stop-color="#65c058"/><stop offset="0.517" stop-color="#6ac454"/><stop offset="0.533" stop-color="#7cd147"/><stop offset="0.55" stop-color="#8ddb3b"/><stop offset="0.567" stop-color="#9de235"/><stop offset="0.583" stop-color="#aee637"/><stop offset="0.6" stop-color="#ccec32"/><stop offset="0.617" stop-color="#d8ee2f"/><stop offset="0.633" stop-color="#e0ef2d"/><stop offset="0.65" stop-color="#e4f02c"/><stop offset="0.7" stop-color="#ebf12a"/><stop offset="0.767" stop-color="#f1f228"/><stop offset="0.875" stop-color="#f2f228"/><stop offset="1" stop-color="#f2f228"/></linearGradient>
<linearGradient id="es88"><stop offset="0" stop-color="#f2f228"/><stop offset="0.125" stop-color="#f2f228"/><stop offset="0.233" stop-color="#f1f228"/><stop offset="0.3" stop-color="#ebf12a"/><stop offset="0.35" stop-color="#e4f02c"/><stop offset="0.367" stop-color="#e0ef2d"/><stop offset="0.383" stop-color="#d8ee2f"/><stop offset="0.4" stop-color="#ccec32"/><stop offset="0.417" stop-color="#ade637"/><stop offset="0.433" stop-color="#98e034"/><stop offset="0.45" stop-color="#84d541"/><stop offset="0.467" stop-color="#7ad048"/><stop offset="0.483" stop-color="#69c355"/><stop offset="0.5" stop-color="#57b563"/><stop offset="0.517" stop-color="#69c355"/><stop offset="0.533" stop-color="#7bd047"/><stop offset="0.55" stop-color="#8cda3b"/><stop offset="0.567" stop-color="#98e034"/><stop offset="0.583" stop-color="#ade637"/><stop offset="0.6" stop-color="#ccec32"/><stop offset="0.617" stop-color="#d8ee2f"/><stop offset="0.633" stop-color="#e0ef2d"/><stop offset="0.65" stop-color="#e4f02c"/><stop offset="0.7" stop-color="#ebf12a"/><stop offset="0.767" stop-color="#f1f228"/><stop offset="0.875" stop-color="#f2f228"/><stop offset="1" stop-color="#f2f228"/></linearGradient>
<linearGradient id="es89"><stop offset="0" stop-color="#f2f228"/><stop offset="0.125" stop-color="#f2f228"/><stop offset="0.233" stop-color="#f1f228"/><stop offset="0.3" stop-color="#ebf12a"/><stop offset="0.35" stop-color="#e4f02c"/><stop offset="0.367" stop-color="#e0ef2d"/><stop offset="0.383" stop-color="#d8ee2f"/><stop offset="0.4" stop-color="#ccec32"/><stop offset="0.417" stop-color="#ade637"/><stop offset="0.433" stop-color="#97e034"/><stop offset="0.45" stop-color="#83d541"/><stop offset="0.467" stop-color="#79cf48"/><stop offset="0.483" stop-color="#67c256"/><stop offset="0.5" stop-color="#56b464"/><stop offset="0.517" stop-color="#67c256"/><stop offset="0.533" stop-color="#79cf48"/><stop offset="0.55" stop-color="#84d541"/><stop offset="0.567" stop-color="#97e034"/><stop offset="0.583" stop-color="#ade637"/><stop offset="0.6" stop-color="#ccec32"/><stop offset="0.617" stop-color="#d8ee2f"/><stop offset="0.633" stop-color="#e0ef2d"/><stop offset="0.65" stop-color="#e4f02c"/><stop offset="0.7" stop-color="#ebf12a"/><stop offset="0.767" stop-color="#f1f228"/><stop offset="0.875" stop-color="#f2f228"/><stop offset="1" stop-color="#f2f228"/></linearGradient>
<linearGradient id="es90"><stop offset="0" stop-color="#f2f228"/><stop offset="0.125" stop-color="#f2f228"/><stop offset="0.233" stop-color="#f1f228"/><stop offset="0.3" stop-color="#ebf12a"/><stop offset="0.35" stop-color="#e4f02c"/><stop offset="0.367" stop-color="#e0ef2d"/><stop offset="0.383" stop-color="#d8ee2f"/><stop offset="0.4" stop-color="#ccec32"/><stop offset="0.417" stop-color="#ade637"/><stop offset="0.433" stop-color="#96e034"/><stop offset="0.45" stop-color="#83d542"/><stop offset="0.467" stop-color="#78ce49"/><stop offset="0.483" stop-color="#66c157"/><stop offset="0.5" stop-color="#55b266"/><stop offset="0.517" stop-color="#66c157"/><stop offset="0.533" stop-color="#78ce49"/><stop offset="0.55" stop-color="#83d541"/><stop offset="0.567" stop-color="#97e034"/><stop offset="0.583" stop-color="#ade637"/><stop offset="0.6" stop-color="#ccec32"/><stop offset="0.617" stop-color="#d8ee2f"/><stop offset="0.633" stop-color="#e0ef2d"/><stop offset="0.65" stop-color="#e4f02c"/><stop offset="0.7" stop-color="#ebf12a"/><stop offset="0.767" stop-color="#f1f228"/><stop offset="0.875" stop-color="#f2f228"/><stop offset="1" stop-color="#f2f228"/></linearGradient>
<linearGradient id="es91"><stop offset="0" stop-color="#f2f228"/><stop offset="0.125" stop-color="#f2f228"/><stop offset="0.233" stop-color="#f1f228"/><stop offset="0.3" stop-color="#ebf12a"/><stop offset="0.35" stop-color="#e4f02c"/><stop offset="0.367" stop-color="#e0ef2d"/><stop offset="0.383" stop-color="#d8ee2f"/><stop offset="0.4" stop-color="#ccec32"/><stop offset="0.417" stop-color="#ade637"/><stop offset="0.433" stop-color="#96e034"/><stop offset="0.45" stop-color="#82d442"/><stop offset="0.467" stop-color="#6ec751"/><stop offset="0.483" stop-color="#65c058"/><stop offset="0.5" stop-color="#53b167"/><stop offset="0.517" stop-color="#65c058"/><stop offset="0.533" stop-color="#6ec751"/><stop offset="0.55" stop-color="#82d442"/><stop offset="0.567" stop-color="#96e034"/><stop offset="0.583" stop-color="#ade637"/><stop offset="0.6" stop-color="#ccec32"/><stop offset="0.617" stop-color="#d8ee2f"/><stop offset="0.633" stop-color="#e0ef2d"/><stop offset="0.65" stop-color="#e4f02c"/><stop offset="0.7" stop-color="#ebf12a"/><stop offset="0.767" stop-color="#f1f228"/><stop offset="0.875" stop-color="#f2f228"/><stop offset="1" stop-color="#f2f228"/></linearGradient>
<linearGradient id="es92"><stop offset="0" stop-color="#f2f228"/><stop offset="0.125" stop-color="#f2f228"/><stop offset="0.233" stop-color="#f1f228"/><stop offset="0.3" stop-color="#ebf12a"/><stop offset="0.35" stop-color="#e4f02c"/><stop offset="0.367" stop-color="#e0ef2d"/><stop offset="0.383" stop-color="#d8ee2f"/><stop offset="0.4" stop-color="#ccec32"/><stop offset="0.417" stop-color="#ade637"/><stop offset="0.433" stop-color="#95df35"/><stop offset="0.45" stop-color="#81d443"/><stop offset="0.467" stop-color="#6dc652"/><stop offset="0.483" stop-color="#64bf59"/><stop offset="0.5" stop-color="#52af69"/><stop offset="0.517" stop-color="#64bf59"/><stop offset="0.533" stop-color="#6dc652"/><stop offset="0.55" stop-color="#82d442"/><stop offset="0.567" stop-color="#95e034"/><stop offset="0.583" stop-color="#abe537"/><stop offset="0.6" stop-color="#ccec32"/><stop offset="0.617" stop-color="#d8ee2f"/><stop offset="0.633" stop-color="#e0ef2d"/><stop offset="0.65" stop-color="#e4f02c"/><stop offset="0.7" stop-color="#ebf12a"/><stop offset="0.767" stop-color="#f1f228"/><stop offset="0.875" stop-color="#f2f228"/><stop offset="1" stop-color="#f2f228"/></linearGradient>
<linearGradient id="es93"><stop offset="0" stop-color="#f2f228"/><stop offset="0.125" stop-color="#f2f228"/><stop offset="0.233" stop-color="#f1f228"/><stop offset="0.3" stop-color="#ebf12a"/><stop offset="0.35" stop-color="#e4f02c"/><stop offset="0.367" stop-color="#e0ef2d"/><stop offset="0.383" stop-color="#d8ee2f"/><stop offset="0.4" stop-color="#ccec32"/><stop offset="0.417" stop-color="#abe537"/><stop offset="0.433" stop-color="#91dd37"/><stop offset="0.45" stop-color="#80d343"/><stop offset="0.467" stop-color="#6cc553"/><stop offset="0.483" stop-color="#58b563"/><stop offset="0.5" stop-color="#51ae6b"/><stop offset="0.517" stop-color="#58b563"/><stop offset="0.533" stop-color="#6cc652"/><stop offset="0.55" stop-color="#81d343"/><stop offset="0.567" stop-color="#92dd37"/><stop offset="0.583" stop-color="#aae537"/><stop offset="0.6" stop-color="#ccec32"/><stop offset="0.617" stop-color="#d8ee2f"/><stop offset="0.633" stop-color="#e0ef2d"/><stop offset="0.65" stop-color="#e4f02c"/><stop offset="0.7" stop-color="#ebf12a"/><stop offset="0.767" stop-color="#f1f228"/><stop offset="0.875" stop-color="#f2f228"/><stop offset="1" stop-color="#f2f228"/></linearGradient>
<linearGradient id="es94"><stop offset="0" stop-color="#f2f228"/><stop offset="0.125" stop-color="#f2f228"/><stop offset="0.233" stop-color="#f1f228"/><stop offset="0.3" stop-color="#ebf12a"/><stop offset="0.35" stop-color="#e4f02c"/><stop offset="0.367" stop-color="#e0ef2d"/><stop offset="0.383" stop-color="#d8ee2f"/><stop offset="0.4" stop-color="#ccec32"/><stop offset="0.417" stop-color="#aae537"/><stop offset="0.433" stop-color="#91dd37"/><stop offset="0.45" stop-color="#80d344"/><stop offset="0.467" stop-color="#6bc454"/><stop offset="0.483" stop-color="#56b464"/><stop offset="0.5" stop-color="#4fac6c"/><stop offset="0.517" stop-color="#56b464"/><stop offset="0.533" stop-color="#6bc553"/><stop offset="0.55" stop-color="#80d344"/><stop offset="0.567" stop-color="#91dd37"/><stop offset="0.583" stop-color="#aae537"/><stop offset="0.6" stop-color="#ccec32"/><stop offset="0.617" stop-color="#d8ee2f"/><stop offset="0.633" stop-color="#e0ef2d"/><stop offset="0.65" stop-color="#e4f02c"/><stop offset="0.7" stop-color="#ebf12a"/><stop offset="0.767" stop-color="#f1f228"/><stop offset="0.875" stop-color="#f2f228"/><stop offset="1" stop-color="#f2f228"/></linearGradient>
<linearGradient id="es95"><stop offset="0" stop-color="#f2f228"/><stop offset="0.125" stop-color="#f2f228"/><stop offset="0.233" stop-color="#f1f228"/><stop offset="0.3" stop-color="#ebf12a"/><stop offset="0.35" stop-color="#e4f02c"/><stop offset="0.367" stop-color="#e0ef2d"/><stop offset="0.383" stop-color="#d8ee2f"/><stop offset="0.4" stop-color="#ccec32"/><stop offset="0.417" stop-color="#aae537"/><stop offset="0.433" stop-color="#91dd38"/><stop offset="0.45" stop-color="#7fd244"/><stop offset="0.467" stop-color="#69c454"/><stop offset="0.483" stop-color="#55b365"/><stop offset="0.5" stop-color="#429d7d"/><stop offset="0.517" stop-color="#55b365"/><stop offset="0.533" stop-color="#6ac454"/><stop offset="0.55" stop-color="#7fd244"/><stop offset="0.567" stop-color="#91dd38"/><stop offset="0.583" stop-color="#aae537"/><stop offset="0.6" stop-color="#ccec32"/><stop offset="0.617" stop-color="#d8ee2f"/><stop offset="0.633" stop-color="#e0ef2d"/><stop offset="0.65" stop-color="#e4f02c"/><stop offset="0.7" stop-color="#ebf12a"/><stop offset="0.767" stop-color="#f1f228"/><stop offset="0.875" stop-color="#f2f228"/><stop offset="1" stop-color="#f2f228"/></linearGradient>
<linearGradient id="es96"><stop offset="0" stop-color="#f2f228"/><stop offset="0.125" stop-color="#f2f228"/><stop offset="0.233" stop-color="#f1f228"/><stop offset="0.3" stop-color="#ebf12a"/><stop offset="0.35" stop-color="#e4f02c"/><stop offset="0.367" stop-color="#e0ef2d"/><stop offset="0.383" stop-color="#d8ee2f"/><stop offset="0.4" stop-color="#ccec32"/><stop offset="0.417" stop-color="#aae537"/><stop offset="0.433" stop-color="#91dd38"/><stop offset="0.45" stop-color="#7acf48"/><stop offset="0.467" stop-color="#68c355"/><stop offset="0.483" stop-color="#54b267"/><stop offset="0.5" stop-color="#419b7f"/><stop offset="0.517" stop-color="#54b267"/><stop offset="0.533" stop-color="#68c355"/><stop offset="0.55" stop-color="#7acf48"/><stop offset="0.567" stop-color="#90dd38"/><stop offset="0.583" stop-color="#aae537"/><stop offset="0.6" stop-color="#ccec32"/><stop offset="0.617" stop-color="#d8ee2f"/><stop offset="0.633" stop-color="#e0ef2d"/><stop offset="0.65" stop-color="#e4f02c"/><stop offset="0.7" stop-color="#ebf12a"/><stop offset="0.767" stop-color="#f1f228"/><stop offset="0.875" stop-color="#f2f228"/><stop offset="1" stop-color="#f2f228"/></linearGradient>
<linearGradient id="es97"><stop offset="0" stop-color="#f2f228"/><stop offset="0.125" stop-color="#f2f228"/><stop offset="0.233" stop-color="#f1f228"/><stop offset="0.3" stop-color="#ebf12a"/><stop offset="0.35" stop-color="#e4f02c"/><stop offset="0.367" stop-color="#e0ef2d"/><stop offset="0.383" stop-color="#d8ee2f"/><stop offset="0.4" stop-color="#ccec32"/><stop offset="0.417" stop-color="#aae537"/><stop offset="0.433" stop-color="#90dd38"/><stop offset="0.45" stop-color="#79cf48"/><stop offset="0.467" stop-color="#62be5a"/><stop offset="0.483" stop-color="#53b068"/><stop offset="0.5" stop-color="#409a80"/><stop offset="0.517" stop-color="#53b068"/><stop offset="0.533" stop-color="#62be5a"/><stop offset="0.55" stop-color="#79cf48"/><stop offset="0.567" stop-color="#90dc38"/><stop offset="0.583" stop-color="#a9e537"/><stop offset="0.6" stop-color="#ccec32"/><stop offset="0.617" stop-color="#d8ee2f"/><stop offset="0.633" stop-color="#e0ef2d"/><stop offset="0.65" stop-color="#e4f02c"/><stop offset="0.7" stop-color="#ebf12a"/><stop offset="0.767" stop-color="#f1f228"/><stop offset="0.875" stop-color="#f2f228"/><stop offset="1" stop-color="#f2f228"/></linearGradient>
<linearGradient id="es98"><stop offset="0" stop-color="#f2f228"/><stop offset="0.125" stop-color="#f2f228"/><stop offset="0.233" stop-color="#f1f228"/><stop offset="0.3" stop-color="#ebf12a"/><stop offset="0.35" stop-color="#e4f02c"/><stop offset="0.367" stop-color="#e0ef2d"/><stop offset="0.383" stop-color="#d8ee2f"/><stop offset="0.4" stop-color="#ccec32"/><stop offset="0.417" stop-color="#a9e537"/><stop offset="0.433" stop-color="#90dc38"/><stop offset="0.45" stop-color="#78cf49"/><stop offset="0.467" stop-color="#61bd5b"/><stop offset="0.483" stop-color="#52af6a"/><stop offset="0.5" stop-color="#3f9881"/><stop offset="0.517" stop-color="#52af69"/><stop offset="0.533" stop-color="#62bd5b"/><stop offset="0.55" stop-color="#79cf49"/><stop offset="0.567" stop-color="#90dc39"/><stop offset="0.583" stop-color="#a9e537"/><stop offset="0.6" stop-color="#ccec32"/><stop offset="0.617" stop-color="#d8ee2f"/><stop offset="0.633" stop-color="#e0ef2d"/><stop offset="0.65" stop-color="#e4f02c"/><stop offset="0.7" stop-color="#ebf12a"/><stop offset="0.767" stop-color="#f1f228"/><stop offset="0.875" stop-color="#f2f228"/><stop offset="1" stop-color="#f2f228"/></linearGradient>
<linearGradient id="es99"><stop offset="0" stop-color="#f2f228"/><stop offset="0.125" stop-color="#f2f228"/><stop offset="0.233" stop-color="#f1f228"/><stop offset="0.3" stop-color="#ebf12a"/><stop offset="0.35" stop-color="#e4f02c"/><stop offset="0.367" stop-color="#e0ef2d"/><stop offset="0.383" stop-color="#d8ee2f"/><stop offset="0.4" stop-color="#ccec32"/><stop offset="0.417" stop-color="#a9e537"/><stop offset="0.433" stop-color="#90dc39"/><stop offset="0.45" stop-color="#78ce49"/><stop offset="0.467" stop-color="#61bd5b"/><stop offset="0.483" stop-color="#4aa673"/><stop offset="0.5" stop-color="#3e9782"/><stop offset="0.517" stop-color="#51ae6b"/><stop offset="0.533" stop-color="#61bd5b"/><stop offset="0.55" stop-color="#78ce49"/><stop offset="0.567" stop-color="#8fdc39"/><stop offset="0.583" stop-color="#a9e537"/><stop offset="0.6" stop-color="#ccec32"/><stop offset="0.617" stop-color="#d8ee2f"/><stop offset="0.633" stop-color="#e0ef2d"/><stop offset="0.65" stop-color="#e4f02c"/><stop offset="0.7" stop-color="#ebf12a"/><stop offset="0.767" stop-color="#f1f228"/><stop offset="0.875" stop-color="#f2f228"/><stop offset="1" stop-color="#f2f228"/></linearGradient>
<linearGradient id="es100"><stop offset="0" stop-color="#f2f228"/><stop offset="0.125" stop-color="#f2f228"/><stop offset="0.233" stop-color="#f1f228"/><stop offset="0.3" stop-color="#ebf12a"/><stop offset="0.35" stop-color="#e4f02c"/><stop offset="0.367" stop-color="#e0ef2d"/><stop offset="0.383" stop-color="#d8ee2f"/><stop offset="0.4" stop-color="#ccec32"/><stop offset="0.417" stop-color="#a9e537"/><stop offset="0.433" stop-color="#8fdc39"/><stop offset="0.45" stop-color="#77ce4a"/><stop offset="0.467" stop-color="#60bc5c"/><stop offset="0.483" stop-color="#4aa674"/><stop offset="0.5" stop-color="#3e9583"/><stop offset="0.517" stop-color="#4aa673"/><stop offset="0.533" stop-color="#60bc5c"/><stop offset="0.55" stop-color="#78ce4a"/><stop offset="0.567" stop-color="#8fdc39"/><stop offset="0.583" stop-color="#a9e537"/><stop offset="0.6" stop-color="#ccec32"/><stop offset="0.617" stop-color="#d8ee2f"/><stop offset="0.633" stop-color="#e0ef2d"/><stop offset="0.65" stop-color="#e4f02c"/><stop offset="0.7" stop-color="#ebf12a"/><stop offset="0.767" stop-color="#f1f228"/><stop offset="0.875" stop-color="#f2f228"/><stop offset="1" stop-color="#f2f228"/></linearGradient>
<linearGradient id="es101"><stop offset="0" stop-color="#f2f228"/><stop offset="0.125" stop-color="#f2f228"/><stop offset="0.233" stop-color="#f1f228"/><stop offset="0.3" stop-color="#ebf12a"/><stop offset="0.35" stop-color="#e4f02c"/><stop offset="0.367" stop-color="#e0ef2d"/><stop offset="0.383" stop-color="#d8ee2f"/><stop offset="0.4" stop-color="#ccec32"/><stop offset="0.417" stop-color="#a9e537"/><stop offset="0.433" stop-color="#8fdc39"/><stop offset="0.45" stop-color="#77ce4a"/><stop offset="0.467" stop-color="#60bc5c"/><stop offset="0.483" stop-color="#49a575"/><stop offset="0.5" stop-color="#398d88"/><stop offset="0.517" stop-color="#49a574"/><stop offset="0.533" stop-color="#60bc5c"/><stop offset="0.55" stop-color="#77ce4a"/><stop offset="0.567" stop-color="#8fdc39"/><stop offset="0.583" stop-color="#a9e537"/><stop offset="0.6" stop-color="#ccec32"/><stop offset="0.617" stop-color="#d8ee2f"/><stop offset="0.633" stop-color="#e0ef2d"/><stop offset="0.65" stop-color="#e4f02c"/><stop offset="0.7" stop-color="#ebf12a"/><stop offset="0.767" stop-color="#f1f228"/><stop offset="0.875" stop-color="#f2f228"/><stop offset="1" stop-color="#f2f228"/></linearGradient>
<linearGradient id="es102"><stop offset="0" stop-color="#f2f228"/><stop offset="0.125" stop-color="#f2f228"/><stop offset="0.233" stop-color="#f1f228"/><stop offset="0.3" stop-color="#ebf12a"/><stop offset="0.35" stop-color="#e4f02c"/><stop offset="0.367" stop-color="#e0ef2d"/><stop offset="0.383" stop-color="#d8ee2f"/><stop offset="0.4" stop-color="#ccec32"/><stop offset="0.417" stop-color="#a9e537"/><stop offset="0.433" stop-color="#8fdc39"/><stop offset="0.45" stop-color="#76cd4a"/><stop offset="0.467" stop-color="#5fbb5d"/><stop offset="0.483" stop-color="#48a475"/><stop offset="0.5" stop-color="#398c88"/><stop offset="0.517" stop-color="#48a475"/><stop offset="0.533" stop-color="#5fbb5d"/><stop offset="0.55" stop-color="#76cd4a"/><stop offset="0.567" stop-color="#8fdc39"/><stop offset="0.583" stop-color="#a9e537"/><stop offset="0.6" stop-color="#ccec32"/><stop offset="0.617" stop-color="#d8ee2f"/><stop offset="0.633" stop-color="#e0ef2d"/><stop offset="0.65" stop-color="#e4f02c"/><stop offset="0.7" stop-color="#ebf12a"/><stop offset="0.767" stop-color="#f1f228"/><stop offset="0.875" stop-color="#f2f228"/><stop offset="1" stop-color="#f2f228"/></linearGradient>
<linearGradient id="es103"><stop offset="0" stop-color="#f2f228"/><stop offset="0.125" stop-color="#f2f228"/><stop offset="0.233" stop-color="#f1f228"/><stop offset="0.3" stop-color="#ebf12a"/><stop offset="0.35" stop-color="#e4f02c"/><stop offset="0.367" stop-color="#e0ef2d"/><stop offset="0.383" stop-color="#d8ee2f"/><stop offset="0.4" stop-color="#ccec32"/><stop offset="0.417" stop-color="#a9e537"/><stop offset="0.433" stop-color="#8fdc39"/><stop offset="0.45" stop-color="#76cd4a"/><stop offset="0.467" stop-color="#5ebb5d"/><stop offset="0.483" stop-color="#48a376"/><stop offset="0.5" stop-color="#398b88"/><stop offset="0.517" stop-color="#48a376"/><stop offset="0.533" stop-color="#5fbb5d"/><stop offset="0.55" stop-color="#76cd4a"/><stop offset="0.567" stop-color="#8fdc39"/><stop offset="0.583" stop-color="#a9e537"/><stop offset="0.6" stop-color="#ccec32"/><stop offset="0.617" stop-color="#d8ee2f"/><stop offset="0.633" stop-color="#e0ef2d"/><stop offset="0.65" stop-color="#e4f02c"/><stop offset="0.7" stop-color="#ebf12a"/><stop offset="0.767" stop-color="#f1f228"/><stop offset="0.875" stop-color="#f2f228"/><stop offset="1" stop-color="#f2f228"/></linearGradient>
<linearGradient id="es104"><stop offset="0" stop-color="#f2f228"/><stop offset="0.125" stop-color="#f2f228"/><stop offset="0.233" stop-color="#f1f228"/><stop offset="0.3" stop-color="#ebf12a"/><stop offset="0.35" stop-color="#e4f02c"/><stop offset="0.367" stop-color="#e0ef2d"/><stop offset="0.383" stop-color="#d8ee2f"/><stop offset="0.4" stop-color="#ccec32"/><stop offset="0.417" stop-color="#a9e537"/><stop offset="0.433" stop-color="#8fdc39"/><stop offset="0.45" stop-color="#76cd4a"/><stop offset="0.467" stop-color="#5eba5e"/><stop offset="0.483" stop-color="#47a277"/><stop offset="0.5" stop-color="#388a89"/><stop offset="0.517" stop-color="#47a277"/><stop offset="0.533" stop-color="#5eba5e"/><stop offset="0.55" stop-color="#76cd4a"/><stop offset="0.567" stop-color="#8fdc39"/><stop offset="0.583" stop-color="#a9e537"/><stop offset="0.6" stop-color="#ccec32"/><stop offset="0.617" stop-color="#d8ee2f"/><stop offset="0.633" stop-color="#e0ef2d"/><stop offset="0.65" stop-color="#e4f02c"/><stop offset="0.7" stop-color="#ebf12a"/><stop offset="0.767" stop-color="#f1f228"/><stop offset="0.875" stop-color="#f2f228"/><stop offset="1" stop-color="#f2f228"/></linearGradient>
<linearGradient id="es105"><stop offset="0" stop-color="#f2f228"/><stop offset="0.125" stop-color="#f2f228"/><stop offset="0.233" stop-color="#f1f228"/><stop offset="0.3" stop-color="#ebf12a"/><stop offset="0.35" stop-color="#e4f02c"/><stop offset="0.367" stop-color="#e0ef2d"/><stop offset="0.383" stop-color="#d8ee2f"/><stop offset="0.4" stop-color="#ccec32"/><stop offset="0.417" stop-color="#a9e537"/><stop offset="0.433" stop-color="#8fdc39"/><stop offset="0.45" stop-color="#76cd4a"/><stop offset="0.467" stop-color="#5eba5e"/><stop offset="0.483" stop-color="#46a178"/><stop offset="0.5" stop-color="#388a89"/><stop offset="0.517" stop-color="#46a178"/><stop offset="0.533" stop-color="#5eba5e"/><stop offset="0.55" stop-color="#76cd4a"/><stop offset="0.567" stop-color="#8fdc39"/><stop offset="0.583" stop-color="#a9e537"/><stop offset="0.6" stop-color="#ccec32"/><stop offset="0.617" stop-color="#d8ee2f"/><stop offset="0.633" stop-color="#e0ef2d"/><stop offset="0.65" stop-color="#e4f02c"/><stop offset="0.7" stop-color="#ebf12a"/><stop offset="0.767" stop-color="#f1f228"/><stop offset="0.875" stop-color="#f2f228"/><stop offset="1" stop-color="#f2f228"/></linearGradient>
<linearGradient id="es106"><stop offset="0" stop-color="#f2f228"/><stop offset="0.125" stop-color="#f2f228"/><stop offset="0.233" stop-color="#f1f228"/><stop offset="0.3" stop-color="#ebf12a"/><stop offset="0.35" stop-color="#e4f02c"/><stop offset="0.367" stop-color="#e0ef2d"/><stop offset="0.383" stop-color="#d8ee2f"/><stop offset="0.4" stop-color="#ccec32"/><stop offset="0.417" stop-color="#a9e537"/><stop offset="0.433" stop-color="#8fdc39"/><stop offset="0.45" stop-color="#76cd4a"/><stop offset="0.467" stop-color="#5eba5e"/><stop offset="0.483" stop-color="#46a179"/><stop offset="0.5" stop-color="#37898a"/><stop offset="0.517" stop-color="#46a179"/><stop offset="0.533" stop-color="#5eba5e"/><stop offset="0.55" stop-color="#76cd4a"/><stop offset="0.567" stop-color="#8fdc39"/><stop offset="0.583" stop-color="#a9e537"/><stop offset="0.6" stop-color="#ccec32"/><stop offset="0.617" stop-color="#d8ee2f"/><stop offset="0.633" stop-color="#e0ef2d"/><stop offset="0.65" stop-color="#e4f02c"/><stop offset="0.7" stop-color="#ebf12a"/><stop offset="0.767" stop-color="#f1f228"/><stop offset="0.875" stop-color="#f2f228"/><stop offset="1" stop-color="#f2f228"/></linearGradient>
<linearGradient id="es107"><stop offset="0" stop-color="#f2f228"/><stop offset="0.125" stop-color="#f2f228"/><stop offset="0.233" stop-color="#f1f228"/><stop offset="0.3" stop-color="#ebf12a"/><stop offset="0.35" stop-color="#e4f02c"/><stop offset="0.367" stop-color="#e0ef2d"/><stop offset="0.383" stop-color="#d8ee2f"/><stop offset="0.4" stop-color="#ccec32"/><stop offset="0.417" stop-color="#a9e537"/><stop offset="0.433" stop-color="#8fdc39"/><stop offset="0.45" stop-color="#76cd4a"/><stop offset="0.467" stop-color="#5eba5e"/><stop offset="0.483" stop-color="#46a179"/><stop offset="0.5" stop-color="#37888a"/><stop offset="0.517" stop-color="#46a179"/><stop offset="0.533" stop-color="#5eba5e"/><stop offset="0.55" stop-color="#76cd4a"/><stop offset="0.567" stop-color="#8fdc39"/><stop offset="0.583" stop-color="#a9e537"/><stop offset="0.6" stop-color="#ccec32"/><stop offset="0.617" stop-color="#d8ee2f"/><stop offset="0.633" stop-color="#e0ef2d"/><stop offset="0.65" stop-color="#e4f02c"/><stop offset="0.7" stop-color="#ebf12a"/><stop offset="0.767" stop-color="#f1f228"/><stop offset="0.875" stop-color="#f2f228"/><stop offset="1" stop-color="#f2f228"/></linearGradient>
<linearGradient id="es108"><stop offset="0" stop-color="#f2f228"/><stop offset="0.125" stop-color="#f2f228"/><stop offset="0.233" stop-color="#f1f228"/><stop offset="0.3" stop-color="#ebf12a"/><stop offset="0.35" stop-color="#e4f02c"/><stop offset="0.367" stop-color="#e0ef2d"/><stop offset="0.383" stop-color="#d8ee2f"/><stop offset="0.4" stop-color="#ccec32"/><stop offset="0.417" stop-color="#a9e537"/><stop offset="0.433" stop-color="#8fdc39"/><stop offset="0.45" stop-color="#76cd4a"/><stop offset="0.467" stop-color="#5eba5e"/><stop offset="0.483" stop-color="#46a179"/><stop offset="0.5" stop-color="#37878b"/><stop offset="0.517" stop-color="#46a179"/><stop offset="0.533" stop-color="#5eba5e"/><stop offset="0.55" stop-color="#76cd4a"/><stop offset="0.567" stop-color="#8fdc39"/><stop offset="0.583" stop-color="#a9e537"/><stop offset="0.6" stop-color="#ccec32"/><stop offset="0.617" stop-color="#d8ee2f"/><stop offset="0.633" stop-color="#e0ef2d"/><stop offset="0.65" stop-color="#e4f02c"/><stop offset="0.7" stop-color="#ebf12a"/><stop offset="0.767" stop-color="#f1f228"/><stop offset="0.875" stop-color="#f2f228"/><stop offset="1" stop-color="#f2f228"/></linearGradient>
<linearGradient id="es109"><stop offset="0" stop-color="#f2f228"/><stop offset="0.125" stop-color="#f2f228"/><stop offset="0.233" stop-color="#f1f228"/><stop offset="0.3" stop-color="#ebf12a"/><stop offset="0.35" stop-color="#e4f02c"/><stop offset="0.367" stop-color="#e0ef2d"/><stop offset="0.383" stop-color="#d8ee2f"/><stop offset="0.4" stop-color="#ccec32"/><stop offset="0.417" stop-color="#a9e537"/><stop offset="0.433" stop-color="#8fdc39"/><stop offset="0.45" stop-color="#76cd4a"/><stop offset="0.467" stop-color="#5eba5e"/><stop offset="0.483" stop-color="#46a179"/><stop offset="0.5" stop-color="#37878b"/><stop offset="0.517" stop-color="#46a179"/><stop offset="0.533" stop-color="#5eba5e"/><stop offset="0.55" stop-color="#76cd4a"/><stop offset="0.567" stop-color="#8fdc39"/><stop offset="0.583" stop-color="#a9e537"/><stop offset="0.6" stop-color="#ccec32"/><stop offset="0.617" stop-color="#d8ee2f"/><stop offset="0.633" stop-color="#e0ef2d"/><stop offset="0.65" stop-color="#e4f02c"/><stop offset="0.7" stop-color="#ebf12a"/><stop offset="0.767" stop-color="#f1f228"/><stop offset="0.875" stop-color="#f2f228"/><stop offset="1" stop-color="#f2f228"/></linearGradient>
<linearGradient id="es110"><stop offset="0" stop-color="#f2f228"/><stop offset="0.125" stop-color="#f2f228"/><stop offset="0.233" stop-color="#f1f228"/><stop offset="0.3" stop-color="#ebf12a"/><stop offset="0.35" stop-color="#e4f02c"/><stop offset="0.367" stop-color="#e0ef2d"/><stop offset="0.383" stop-color="#d8ee2f"/><stop offset="0.4" stop-color="#ccec32"/><stop offset="0.417" stop-color="#a9e537"/><stop offset="0.433" stop-color="#8fdc39"/><stop offset="0.45" stop-color="#76cd4a"/><stop offset="0.467" stop-color="#5eba5e"/><stop offset="0.483" stop-color="#46a179"/><stop offset="0.5" stop-color="#37878b"/><stop offset="0.517" stop-color="#46a179"/><stop offset="0.533" stop-color="#5eba5e"/><stop offset="0.55" stop-color="#76cd4a"/><stop offset="0.567" stop-color="#8fdc39"/><stop offset="0.583" stop-color="#a9e537"/><stop offset="0.6" stop-color="#ccec32"/><stop offset="0.617" stop-color="#d8ee2f"/><stop offset="0.633" stop-color="#e0ef2d"/><stop offset="0.65" stop-color="#e4f02c"/><stop offset="0.7" stop-color="#ebf12a"/><stop offset="0.767" stop-color="#f1f228"/><stop offset="0.875" stop-color="#f2f228"/><stop offset="1" stop-color="#f2f228"/></linearGradient>
</defs>
<g clip-path="url(#clipA)">
<rect x="41.8" y="29.5" width="195.0" height="197.0" fill="#3657ba"/>
<ellipse cx="56" cy="58" rx="12" ry="22" fill="#5e4cae" opacity="0.8" filter="url(#blA8_0)"/>
<path d="M126.8,46.4 C129.1,45.7 132.5,44.9 134,44.5 C135.5,44.1 135.2,44.3 135.9,43.9 C136.7,43.5 136.9,42 138.4,42.1 C140,42.1 143.9,44.2 145.2,44.2 C146.5,44.1 145.3,41.5 146.1,41.6 C147,41.7 148.4,44.9 150.2,45 C152.1,45.2 155.4,41.6 157.5,42.4 C159.6,43.2 161.6,48.6 162.8,49.9 C164,51.1 164,50 164.4,49.7 C164.8,49.4 164.1,48 165.2,48.1 C166.3,48.3 169.9,49.5 171.2,50.4 C172.5,51.3 172.2,52.4 172.9,53.5 C173.7,54.6 174.2,55.8 175.7,57.2 C177.2,58.6 180.2,60.8 182,61.8 C183.7,62.7 184.9,61.9 186.2,62.9 C187.5,63.8 188.6,66.4 189.8,67.5 C190.9,68.6 191.5,67.9 193.2,69.7 C194.9,71.5 198.5,77 200.1,78.5 C201.8,80 202.3,79 202.9,78.9 C203.4,78.9 202.7,78.1 203.4,78.2 C204.1,78.3 205.3,78.5 206.9,79.4 C208.6,80.3 211.7,82.5 213.4,83.6 C215.2,84.6 216.1,84.5 217.5,85.7 C218.9,86.8 221.6,89.6 221.8,90.6 C222,91.5 217.9,90.2 218.8,91.3 C219.6,92.5 225.1,95.8 227,97.5 C228.9,99.2 230.3,99.8 230.1,101.6 C229.9,103.5 225.8,106.8 226,108.5 C226.3,110.2 231.2,110.3 231.6,111.9 C232.1,113.4 229.3,115.5 228.9,117.8 C228.4,120.1 230.7,123.8 229,125.5 C227.3,127.1 221.4,126.5 218.8,127.5 C216.2,128.5 214.3,130.2 213.6,131.5 C212.9,132.9 215.1,134.2 214.5,135.8 C213.9,137.4 211.5,139.3 209.8,141 C208.1,142.8 205.5,144.8 204.3,146.3 C203.2,147.8 203.4,148.9 203.1,150 C202.7,151.1 202.3,151.9 202.1,152.9 C201.8,153.9 200.9,154.3 201.7,156.2 C202.5,158.2 206.5,162.3 206.7,164.6 C207,167 203.8,169 203.2,170.3 C202.5,171.6 202.7,171 203,172.5 C203.4,174.1 205.8,177 205.1,179.4 C204.4,181.9 200,185.5 198.7,187 C197.5,188.4 197.9,186.9 197.6,188 C197.3,189.1 198.3,192.2 197.1,193.8 C195.9,195.4 192.4,195.6 190.4,197.7 C188.5,199.7 186.8,204 185.4,206.1 C184,208.2 183.1,209 182,210.2 C180.8,211.4 179.1,212.1 178.4,213.3 C177.7,214.5 178.7,216 177.6,217.5 C176.5,218.9 173.7,221.5 171.7,221.9 C169.8,222.3 166.7,219.1 165.8,219.7 C165,220.4 167.9,225.1 166.6,225.8 C165.3,226.5 159.6,223.3 157.9,224.1 C156.1,224.9 157.7,229.3 156,230.7 C154.4,232.2 149.7,233 148,232.9 C146.2,232.7 147.3,230.9 145.2,229.7 C143.2,228.5 138.8,225.7 135.7,225.7 C132.5,225.7 128.9,229.9 126.5,229.8 C124.2,229.6 123.4,226.2 121.6,225 C119.7,223.8 117.2,224 115.5,222.5 C113.8,221.1 113.3,217.5 111.4,216.2 C109.4,214.8 106.1,215.8 104,214.3 C101.8,212.7 99.7,208.3 98.5,206.9 C97.3,205.6 97.8,207.4 96.6,206.2 C95.4,205.1 93,201.6 91.5,200 C90,198.4 90.3,197.7 87.9,196.7 C85.5,195.8 78.8,195.8 77.1,194.3 C75.3,192.8 77.9,189.3 77.2,187.6 C76.6,185.9 73.9,185.8 73.2,184.1 C72.5,182.3 73.6,178.7 73.1,177.2 C72.7,175.7 70.7,176.7 70.7,175 C70.6,173.2 73.2,169.3 73.1,166.7 C73,164.2 71.4,162.2 70.2,159.5 C68.9,156.7 66.6,151.9 65.5,150.2 C64.3,148.6 63.2,150.6 63.3,149.6 C63.4,148.5 66.2,146.2 66,143.9 C65.9,141.7 62.5,138.3 62.5,136.2 C62.4,134 65.3,132.5 65.7,130.9 C66.2,129.4 65.5,128.9 65.2,126.7 C65,124.5 63.8,120 64.4,117.8 C65,115.6 68.1,115.6 68.9,113.7 C69.8,111.8 69.1,108.2 69.5,106.3 C69.9,104.4 71.2,103.9 71.3,102.1 C71.4,100.2 69.5,97.1 70.1,95.2 C70.7,93.3 73.9,92.5 74.8,90.8 C75.8,89.1 74.5,87 75.8,84.8 C77,82.7 80.8,80.2 82.3,78 C83.8,75.7 83.5,73 84.8,71.3 C86,69.7 88.6,69.4 89.9,68.1 C91.1,66.9 90.1,65 92.3,63.8 C94.5,62.5 100.8,62.1 103.1,60.7 C105.4,59.3 104.8,56.4 106.1,55.4 C107.3,54.3 109.4,54.5 110.7,54.2 C111.9,53.8 112.6,53.9 113.4,53.4 C114.3,52.8 114.7,51.9 115.7,51.1 C116.8,50.2 118,49.2 119.8,48.4 C121.7,47.6 124.4,47 126.8,46.4Z" fill="#4680d8" filter="url(#blA5_0)"/>
<path d="M127.8,51.2 C129.7,50.6 132,46.8 132.5,46.1 C132.9,45.4 129.9,46.4 130.4,47 C130.9,47.5 133.7,49.5 135.7,49.5 C137.6,49.4 140.7,47.1 142.1,46.8 C143.5,46.5 143.8,47.7 144,47.6 C144.3,47.5 143.2,45.7 143.7,46.1 C144.1,46.5 145.9,49.5 146.8,50.1 C147.6,50.7 148.1,49.7 148.9,49.7 C149.7,49.7 150.4,50.2 151.6,50.1 C152.8,50 154.4,49.7 156.3,49.3 C158.1,48.9 162.4,46.5 162.9,47.7 C163.4,48.8 158.8,55.7 159.2,56.3 C159.6,56.9 163.3,50.6 165.5,51.2 C167.6,51.7 171.6,58.5 171.9,59.5 C172.3,60.4 167.9,57.1 167.6,56.7 C167.4,56.4 168.9,57.1 170.5,57.3 C172,57.5 175.4,57.6 177,57.8 C178.7,58 180,57.1 180.3,58.6 C180.6,60 178.3,65.3 178.8,66.4 C179.3,67.4 181.8,64.5 183.3,64.9 C184.7,65.2 186.6,68 187.4,68.6 C188.3,69.1 187.3,66.5 188.3,68.2 C189.4,70 192,77 193.7,79 C195.3,80.9 197.9,79.8 198.2,79.8 C198.6,79.8 195.4,78.4 195.9,78.9 C196.4,79.4 200.7,82.5 201.3,82.9 C201.8,83.2 198.9,80.6 199.3,80.8 C199.8,81.1 202.1,83.7 203.9,84.6 C205.8,85.4 209.7,85.1 210.2,86 C210.6,86.9 206.2,89.5 206.5,90.1 C206.9,90.6 211.3,89.2 212.4,89.1 C213.5,89.1 212.7,88.8 213.4,89.9 C214.1,91 216.2,94.7 216.7,95.9 C217.1,97.2 216,96.4 216.3,97.4 C216.7,98.4 218.3,101.1 218.9,101.8 C219.5,102.5 219,100.6 219.7,101.7 C220.4,102.8 222.8,107 223.2,108.6 C223.5,110.1 221.7,110.2 221.8,111.1 C222,111.9 223.2,111.6 224.1,113.6 C224.9,115.6 227.3,120.8 227.2,123 C227.1,125.1 225.1,125.4 223.4,126.6 C221.7,127.8 218.5,129.8 217,130 C215.6,130.2 215.3,126.6 214.8,127.8 C214.2,129 215.5,136.1 214,137.2 C212.5,138.3 206.4,134.5 205.6,134.6 C204.9,134.6 209.8,137.1 209.3,137.6 C208.8,138.1 204.5,136.3 202.7,137.5 C200.9,138.7 198.2,142.6 198.6,144.8 C199.1,147.1 205.2,150.7 205.6,150.9 C206,151.1 202.2,145.3 201.1,146 C200,146.8 198.8,153.3 199.1,155.1 C199.3,157 202.7,156.2 202.5,156.9 C202.4,157.7 198.5,158.5 198.1,159.8 C197.8,161 200.4,162.5 200.5,164.3 C200.7,166.1 198.6,170 199.3,170.6 C200,171.2 204.8,166.9 204.7,168 C204.7,169.2 199.9,175.3 198.7,177.7 C197.5,180 197.5,181.1 197.4,182.1 C197.3,183.2 197.9,183.7 198,184.1 C198.2,184.4 199.3,183.4 198.3,184.1 C197.4,184.9 193.2,186.4 192.3,188.4 C191.4,190.3 193.9,193.7 192.8,195.8 C191.7,198 186.9,200.6 185.7,201.3 C184.4,202 185.9,198.7 185.3,200 C184.8,201.3 183.2,207.3 182.4,208.8 C181.5,210.3 180.7,208 180.3,208.9 C179.9,209.9 180.9,213.8 180.1,214.5 C179.3,215.2 177.1,212.4 175.8,213.1 C174.4,213.8 172.6,217.8 171.8,218.5 C171,219.2 172,217.7 170.9,217.5 C169.7,217.3 165.7,216.9 164.8,217.4 C163.8,217.9 166.8,219.5 165.3,220.5 C163.9,221.4 157.1,222.4 156.1,223.2 C155.2,224 159.8,224.7 159.8,225.4 C159.8,226.2 157.9,227.4 156.3,227.9 C154.7,228.4 152,229.4 149.9,228.5 C147.9,227.5 145.7,223.1 143.8,222.2 C141.9,221.3 139.6,222.6 138.7,223.1 C137.8,223.6 139.8,225.2 138.4,225.3 C137,225.5 133,224.7 130.4,224 C127.7,223.3 123.9,222.1 122.6,221 C121.3,219.9 124.1,218.5 122.8,217.5 C121.5,216.6 116.7,215.7 114.7,215.3 C112.7,214.9 112.4,216.5 110.9,215.2 C109.5,213.8 107.2,208.3 106,207.2 C104.8,206.1 104.2,209.1 103.9,208.8 C103.6,208.5 104.3,206.8 104,205.3 C103.7,203.8 104.2,200.8 102,199.7 C99.8,198.6 92.8,199.6 90.8,198.7 C88.8,197.8 90.7,195.1 90.2,194.3 C89.7,193.4 89.6,194 88.1,193.6 C86.5,193.1 81.3,192.9 80.7,191.5 C80.1,190.1 85.1,186.4 84.7,185 C84.3,183.6 79.9,184 78.3,183.3 C76.7,182.5 76.1,181 75.3,180.6 C74.6,180.1 73.8,181.7 73.8,180.5 C73.8,179.4 75.6,176.1 75.2,173.9 C74.9,171.6 71.8,168.5 71.7,167.1 C71.6,165.6 74.6,166.9 74.4,165.2 C74.3,163.6 70.7,158.8 70.7,157.2 C70.8,155.7 75,157.3 74.6,156 C74.2,154.7 69,151.4 68.6,149.4 C68.1,147.4 71.6,145.2 71.9,144 C72.1,142.7 70,143.1 70.2,141.9 C70.4,140.7 72.8,138.7 72.9,136.9 C73.1,135.1 71.2,132.8 71,131.1 C70.8,129.4 71.9,128.1 71.8,126.7 C71.7,125.4 70.7,124.6 70.3,122.9 C69.9,121.2 69.4,117.9 69.2,116.7 C68.9,115.4 68.9,117.1 68.9,115.5 C69,113.9 68.6,108.9 69.5,107.1 C70.4,105.2 73.2,105.2 74.4,104.5 C75.5,103.9 76.6,103.6 76.4,103.1 C76.2,102.6 72.8,103 73,101.4 C73.3,99.7 78.1,94.6 78.1,93 C78.1,91.4 72.4,92.6 72.9,91.6 C73.5,90.7 79.6,89 81.4,87.4 C83.2,85.8 83.1,83.7 83.7,81.9 C84.4,80.1 84.7,78.1 85.2,76.8 C85.6,75.4 85.4,74.8 86.2,73.8 C87,72.8 88.1,72 89.9,70.7 C91.7,69.3 96.1,66.9 97.1,65.6 C98.2,64.3 94.7,63.6 96.2,63 C97.7,62.4 105.1,61.9 106.1,61.9 C107.1,61.9 101.1,62.9 102,62.7 C103,62.6 110.4,61.6 111.9,60.9 C113.3,60.2 110.7,60 111,58.6 C111.3,57.1 112.1,52.5 113.8,52.1 C115.6,51.7 120.5,55.8 121.4,56.4 C122.4,57 119.4,56.6 119.4,55.5 C119.3,54.4 119.6,50.4 121,49.6 C122.4,48.9 125.9,51.8 127.8,51.2Z" fill="#44b8ee" filter="url(#blA2_0)"/>
<path d="M125.7,58.8 C128.4,58.6 134,59.9 136.7,59.2 C139.5,58.6 139.9,55.8 142.2,54.9 C144.5,54.1 147.1,54 150.5,54.3 C153.8,54.7 159,55.9 162.1,56.9 C165.1,57.9 166.7,59.2 168.9,60.5 C171.2,61.9 172.9,63.2 175.6,65 C178.2,66.8 183.1,69.8 184.8,71.4 C186.5,73 184.5,72.7 185.8,74.8 C187.1,76.8 190,81.3 192.5,83.7 C195.1,86.1 199,87.4 201.3,89.2 C203.6,91.1 204.4,92.9 206.2,94.8 C207.9,96.8 211,98.9 211.7,101.1 C212.4,103.2 209.8,105.6 210.3,107.7 C210.8,109.8 213.3,111.8 214.5,113.5 C215.7,115.2 218.4,116.1 217.8,117.9 C217.1,119.6 212.9,122.1 210.7,123.8 C208.4,125.5 206,125.5 204.5,127.9 C203,130.2 202.5,135.6 201.6,137.9 C200.7,140.3 200.5,140.5 199,142 C197.5,143.6 194.8,145.6 192.8,147.1 C190.7,148.7 187.8,150.2 186.7,151.5 C185.5,152.7 186.7,152.8 185.9,154.8 C185.1,156.7 182.9,160.7 181.9,163.1 C180.8,165.5 179.9,167.3 179.6,169 C179.3,170.8 180.8,171.9 180.2,173.5 C179.5,175.2 176.7,177.5 175.8,178.9 C174.9,180.4 175.4,181.2 174.9,182.3 C174.4,183.3 173.5,184.2 172.6,185.4 C171.8,186.6 169.8,188.7 169.9,189.5 C170,190.3 173.8,189.4 173.1,190.2 C172.5,191.1 168.9,194.4 166.1,194.5 C163.3,194.6 158.2,190.5 156.5,190.7 C154.7,190.9 157,195.8 155.4,195.9 C153.9,195.9 149.9,191.2 147,191 C144.1,190.8 140.4,194.1 138.2,194.4 C136,194.8 136,193.8 133.6,193.3 C131.1,192.7 126,192.1 123.5,191.2 C121,190.3 120.6,188.7 118.6,188 C116.5,187.3 112.7,188.1 111.2,187.2 C109.6,186.2 110.7,183.6 109.2,182.1 C107.7,180.5 103.7,179.2 102.1,177.9 C100.4,176.5 100.6,175.4 99.5,174.1 C98.3,172.8 96.4,172.1 95.1,170.2 C93.9,168.3 93.2,164.5 92,162.9 C90.7,161.2 89,162.3 87.8,160.5 C86.7,158.6 85.9,153.7 84.9,151.7 C83.9,149.7 82.4,149.9 82,148.2 C81.6,146.5 82.9,144 82.3,141.6 C81.6,139.2 78.7,136.7 78.1,133.8 C77.6,131 79.3,126.4 78.9,124.6 C78.5,122.8 76,125.1 75.8,122.9 C75.6,120.7 77.1,114.2 77.8,111.3 C78.5,108.5 79.6,108 80,105.8 C80.4,103.5 79.2,99.8 80.2,97.6 C81.2,95.5 84.6,95.4 85.9,93 C87.1,90.6 86.2,85.3 87.6,83.1 C89.1,81 92.4,81.9 94.5,80.1 C96.6,78.3 98.2,74.6 100.2,72.4 C102.3,70.1 105.4,68.1 106.8,66.6 C108.1,65 106.5,63.7 108.5,63 C110.6,62.4 117.1,63.1 119.1,62.7 C121.1,62.3 119.3,61.2 120.4,60.6 C121.5,59.9 123,59 125.7,58.8Z" fill="#5cc6d8" filter="url(#blA3_0)"/>
<path d="M126.9,67.7 C129.3,68.2 134.9,69.2 137.6,68.6 C140.2,68 140.2,64.4 142.7,64 C145.3,63.5 150.5,65.1 152.9,65.9 C155.4,66.7 155.4,67.8 157.4,68.8 C159.4,69.9 162.9,71.7 165,72.2 C167.2,72.7 167.9,70.9 170.4,71.7 C172.9,72.6 178.4,75.1 180.2,77.3 C182.1,79.4 180.1,83.3 181.5,84.7 C183,86.1 187,84 188.9,85.5 C190.7,87 191.7,91.5 192.6,93.7 C193.6,95.9 193.5,97.4 194.5,98.8 C195.5,100.2 197.5,100.7 198.5,102 C199.6,103.3 199.1,104.8 200.8,106.7 C202.5,108.6 207,111.4 208.8,113.4 C210.5,115.5 212.3,116.9 211.4,119.2 C210.5,121.4 205.5,125.5 203.2,126.9 C200.9,128.3 199.8,126 197.8,127.5 C195.8,128.9 193.3,134.2 191.3,135.7 C189.3,137.2 186.3,135.2 185.5,136.3 C184.7,137.5 187.4,141.1 186.4,142.7 C185.3,144.3 180.5,144.4 178.9,146.2 C177.4,148 177.5,152.2 177.2,153.6 C176.8,155.1 177,153.8 176.9,154.8 C176.9,155.9 177.6,158.6 176.9,160.2 C176.2,161.7 173.1,162.8 172.7,164.3 C172.2,165.8 174.5,167.7 174.4,169.3 C174.3,170.8 172.8,172 172.1,173.6 C171.4,175.3 170.7,178.3 170.1,179.4 C169.6,180.5 169.3,179.7 168.8,180.2 C168.2,180.6 167.9,182.1 166.8,182.2 C165.8,182.4 164.3,180.9 162.6,181 C161,181 158.4,181.5 157,182.6 C155.7,183.7 156.8,187.7 154.5,187.6 C152.2,187.5 145.6,182.6 143.3,182 C141,181.4 142.9,183.5 140.7,183.8 C138.5,184.1 131.9,184.5 130.2,183.8 C128.5,183.2 132,180.9 130.6,180.1 C129.2,179.3 123.6,179.8 121.9,178.9 C120.2,178.1 121.9,176.3 120.3,175 C118.7,173.8 114.1,172.3 112.4,171.5 C110.7,170.7 111.7,170.9 110.3,170.1 C108.8,169.3 105.6,167.9 103.9,166.6 C102.2,165.2 100.2,163.2 100,162 C99.9,160.8 103.8,160.3 103.2,159.5 C102.5,158.8 97.8,159.4 96.4,157.5 C95,155.7 95.6,150.8 94.5,148.3 C93.5,145.8 91.2,144.3 90.3,142.5 C89.4,140.8 88.7,139.7 89,137.9 C89.2,136.2 92.3,133.6 92,132 C91.7,130.3 87.5,129.9 87.2,127.9 C86.9,125.8 89.7,122.2 90.2,119.8 C90.7,117.5 90.3,115.7 90.3,113.9 C90.3,112 89.6,110.6 90.1,108.8 C90.6,107.1 92.7,105.2 93.4,103.4 C94.1,101.6 93.6,100.3 94.2,97.9 C94.7,95.5 95.1,91.4 96.6,89.1 C98.2,86.8 101.8,85.8 103.5,84 C105.3,82.3 105.7,79.8 107.3,78.4 C108.9,77.1 111.9,76.8 113,76 C114.1,75.2 112.7,74.9 113.9,73.7 C115,72.4 118.3,69.9 119.8,68.6 C121.4,67.2 122,65.8 123.2,65.6 C124.4,65.5 124.5,67.2 126.9,67.7Z" fill="#80c44c" filter="url(#blA3_0)"/>
<path d="M114.9,107.2 C115.4,105.1 115.9,103.6 116.9,101.5 C117.8,99.4 119.2,95.9 120.7,94.7 C122.2,93.5 124.1,94.7 125.9,94.3 C127.7,93.9 129.7,93.4 131.4,92.5 C133.2,91.7 134.1,89.9 136.5,89.1 C138.9,88.4 143.4,88.1 145.9,88.1 C148.4,88.1 149.1,88.4 151.7,89.2 C154.3,90.1 159,92.6 161.6,93.1 C164.2,93.7 165.3,92.1 167.4,92.5 C169.5,93 172.8,94.3 173.9,95.7 C175,97.1 173.4,99.5 174,101.1 C174.6,102.7 176.9,103.2 177.5,105.3 C178.2,107.4 177.7,110.8 177.7,113.8 C177.6,116.8 177.8,121.2 177.2,123.5 C176.6,125.7 175.1,125.1 174.2,127.1 C173.3,129.1 173.4,133.1 171.8,135.2 C170.2,137.3 167,138.7 164.6,139.7 C162.1,140.6 159.5,139.9 157,141.1 C154.5,142.2 151.8,145.4 149.5,146.5 C147.3,147.6 146,148.2 143.5,147.9 C141,147.6 136.8,145.9 134.5,144.7 C132.1,143.5 131.6,142.3 129.4,140.8 C127.2,139.2 123.2,136.6 121.2,135.4 C119.2,134.2 118.5,135 117.5,133.4 C116.4,131.9 115.9,128.3 115,125.9 C114.1,123.6 112.2,121.2 112.1,119.3 C111.9,117.4 113.9,116.3 114.4,114.3 C114.8,112.3 114.5,109.4 114.9,107.2Z" fill="#c6dc34" filter="url(#blA2_0)"/>
<path d="M116.4,109.9 C117.2,108.4 118.3,106 119.2,104.3 C120,102.6 120.5,100.8 121.6,99.6 C122.8,98.4 124.6,98.1 126,97 C127.4,96 128.1,94 130,93.2 C132,92.4 135.2,92.2 137.8,92.1 C140.5,91.9 143.5,91.6 146,92.2 C148.4,92.9 150.8,95.1 152.7,95.8 C154.5,96.5 155,96.4 157,96.6 C159,96.8 163,97 164.7,97.2 C166.4,97.4 165.9,97 167.1,97.8 C168.3,98.7 171,100.6 172,102.2 C173,103.8 172.8,105 172.9,107.2 C173,109.5 172.6,113.4 172.5,115.7 C172.4,117.9 172.7,118.7 172.4,120.7 C172.1,122.7 171.6,126.4 170.6,127.8 C169.5,129.2 167.3,127.8 166.2,129.2 C165.1,130.6 165.2,134.7 163.9,136.3 C162.6,138 160.7,138.5 158.2,139.1 C155.7,139.6 151.6,139 148.9,139.6 C146.3,140.2 144.6,142.5 142.2,142.8 C139.9,143.2 136.6,142.8 134.8,141.8 C132.9,140.8 132.2,138.3 130.9,137.1 C129.6,135.8 128.2,135.7 126.9,134.5 C125.5,133.3 123.9,131.5 122.7,129.9 C121.5,128.3 120.7,126.5 119.7,124.8 C118.6,123.2 117.3,121.9 116.5,120 C115.6,118.1 114.6,115.3 114.6,113.6 C114.6,111.9 115.7,111.5 116.4,109.9Z" fill="#f6e624" filter="url(#blA1_2)"/>
<path d="M121.1,107.9 C122.1,106.3 124.6,104.1 125.9,102.9 C127.2,101.7 127.6,101.5 128.8,100.6 C130,99.8 131.9,98.3 133,97.8 C134.1,97.3 134,97.7 135.6,97.7 C137.2,97.6 140.8,97.6 142.7,97.8 C144.6,97.9 145.8,97.4 147,98.5 C148.2,99.5 149.4,102.3 150,103.8 C150.7,105.3 150.8,106 150.7,107.5 C150.6,109 149.4,111.4 149.7,112.9 C149.9,114.5 152.1,115.3 152.1,117 C152.1,118.6 150.2,121.1 149.6,122.7 C149,124.2 149.4,124.8 148.4,126.1 C147.4,127.5 144.9,129.8 143.6,130.6 C142.3,131.5 142.1,131.1 140.4,131.4 C138.8,131.8 135.5,132.6 133.7,132.8 C132,133 131.3,133.2 129.9,132.5 C128.5,131.8 126.4,129.6 125.4,128.4 C124.4,127.2 124.9,126.8 123.9,125.3 C123,123.7 120.6,120.7 119.6,119.1 C118.5,117.5 117.7,116.9 117.7,115.8 C117.7,114.6 119,113.7 119.6,112.4 C120.1,111.1 120,109.5 121.1,107.9Z" fill="#f29422" filter="url(#blA1_2)"/>
<path d="M153.5,104.9 C153.9,103.4 155.5,102.9 156.6,102.5 C157.6,102.1 158.5,102.7 159.7,102.5 C160.8,102.3 162.1,101.3 163.4,101.4 C164.6,101.6 166.4,102.2 167.3,103.3 C168.1,104.3 168.2,106.3 168.5,107.8 C168.7,109.3 168.9,110.7 168.8,112.5 C168.7,114.2 168.4,116.7 167.9,118.2 C167.5,119.7 167,120.6 166.1,121.7 C165.2,122.8 163.7,123.8 162.6,124.6 C161.5,125.5 160.4,127.1 159.7,126.7 C158.9,126.3 159.1,123.4 157.9,122.2 C156.8,121.1 153.4,121.5 152.8,119.7 C152.2,117.8 154.1,113.7 154.3,111.2 C154.4,108.7 153.1,106.3 153.5,104.9Z" fill="#f29a22" filter="url(#blA1_2)"/>
<ellipse cx="130" cy="115" rx="6.5" ry="7" fill="#e2301e" filter="url(#blA2_0)"/>
<ellipse cx="141.5" cy="105.5" rx="6" ry="5.5" fill="#e4321e" filter="url(#blA2_0)"/>
<ellipse cx="144" cy="117.5" rx="5.5" ry="6.5" fill="#e6401e" filter="url(#blA2_0)"/>
<ellipse cx="161" cy="113" rx="4.5" ry="7" fill="#ec5a1e" filter="url(#blA2_0)"/>
<ellipse cx="135" cy="124" rx="5" ry="4.5" fill="#ea4a1e" filter="url(#blA2_0)"/>
<ellipse cx="136.5" cy="110" rx="3" ry="3" fill="#e63a1e" filter="url(#blA2_0)"/>
<ellipse cx="151.5" cy="118" rx="2" ry="7" fill="#f4d428" filter="url(#blA1_2)"/>
<line x1="46" y1="130" x2="119" y2="118.6" stroke="#10180f" stroke-width="2.1" stroke-dasharray="2 2.6"/>
<line x1="173" y1="110" x2="221" y2="102.6" stroke="#10180f" stroke-width="2.1" stroke-dasharray="2 2.6"/>
<path d="M232.5,101 L220,97.8 L221.5,105.5Z" fill="#111"/>
<path d="M51,175 L64,217.5 L105,206.5" fill="none" stroke="#fff" stroke-width="2.6" stroke-linejoin="miter"/>
<path d="M50.5,173.5 L62.5,195 L53.5,198Z" fill="#fff"/>
<path d="M106,206 L84,202 L86.5,213.5Z" fill="#fff"/>
<text x="59.5" y="175" font-family="'Liberation Sans', Arial, sans-serif" font-size="21" fill="#fff" text-anchor="start" font-weight="normal" >b</text>
<text x="92" y="200" font-family="'Liberation Sans', Arial, sans-serif" font-size="21" fill="#fff" text-anchor="start" font-weight="normal" >a</text>
<text x="176" y="210.8" font-family="'Liberation Sans', Arial, sans-serif" font-size="20" fill="#fff" text-anchor="start" font-weight="bold" >3 nm</text>
<rect x="185.5" y="216" width="38.5" height="2.8" fill="#fff"/>
</g>
<rect x="249.2" y="55" width="9.8" height="152" fill="url(#cbA)"/>
<text x="240.5" y="47" font-family="'Liberation Sans', Arial, sans-serif" font-size="19" fill="#1a1a1a" text-anchor="start" font-weight="normal" >High</text>
<text x="240.5" y="226.5" font-family="'Liberation Sans', Arial, sans-serif" font-size="19" fill="#222" text-anchor="start" font-weight="normal" >Low</text>
<text x="0.8" y="18.6" font-family="'Liberation Sans', Arial, sans-serif" font-size="20" fill="#1a1a1a" stroke="#1a1a1a" stroke-width="0.3"><tspan font-size="23">(</tspan>a<tspan font-size="23">)</tspan></text>
<text x="45.5" y="19.8" font-family="'Liberation Sans', Arial, sans-serif" font-size="21" fill="#1a1a1a" text-anchor="start" font-weight="normal" stroke="#1a1a1a" stroke-width="0.3">Fe(Te,Se)</text>
<g clip-path="url(#clipB)" fill="none" stroke-width="1.25" stroke-linejoin="round" opacity="0.85">
<path d="M328.5,112.7 C330.6,107.6 336,90.1 341,82 C346,74 354.3,70.8 358.4,64.5 C362.5,58.2 363.8,48.9 365.6,44.4 C367.5,39.8 368,36.6 369.6,37.4 C371.1,38.1 373.2,43.3 374.9,48.7 C376.6,54.1 378.1,61.7 379.5,69.8 C381,77.8 382.6,87.3 383.7,96.9 C384.9,106.6 385.3,115.5 386.5,127.6 C387.7,139.7 388.9,158.4 390.9,169.6 C392.9,180.9 395.4,189.2 398.3,195 C401.2,200.9 405.3,203.5 408.3,204.7 C411.4,205.8 414.5,202.8 416.7,202 C418.8,201.3 419.4,200 421.3,200.3 C423.2,200.6 425.6,202.8 428.3,203.8 C431,204.8 434.8,208.2 437.5,206.4 C440.2,204.7 442.2,201.3 444.5,193.3 C446.8,185.2 449.3,175.8 451.5,158.2 C453.6,140.7 455.2,110.1 457.3,88.2 C459.3,66.3 462.2,36.3 464,26.8 C465.7,17.4 465.6,23.2 467.7,31.2 C469.8,39.3 473.8,63.5 476.5,75 C479.2,86.6 481.3,93.6 483.7,100.4 C486.1,107.3 488.7,112.4 490.9,116.2 C493.1,120 494.8,121.7 497.2,123.2 C499.5,124.7 502,124.8 504.8,125 C507.6,125.1 512.6,124.2 514.1,124.1" stroke="#a6cc8a"/>
<path d="M328.5,119.7 C330.2,115.6 334.3,102 338.5,95.2 C342.6,88.3 349.2,82 353.3,78.5 C357.5,75 360.2,75.2 363.3,74.1 C366.4,73.1 369.6,71.5 372.1,72.4 C374.6,73.3 376.7,75.3 378.4,79.4 C380.1,83.5 381.1,89.6 382.3,96.9 C383.6,104.2 384.8,115.2 385.8,123.2 C386.8,131.2 386.7,135.3 388.4,145.1 C390,154.9 392.9,172.4 395.8,181.9 C398.7,191.4 402.7,199.4 405.8,202 C408.8,204.7 411.7,199.9 414.3,197.7 C416.9,195.5 419,188.9 421.3,188.9 C423.6,188.9 425.9,195.2 428.3,197.7 C430.6,200.1 432.5,206 435.2,203.8 C437.9,201.6 441.8,192.1 444.5,184.5 C447.2,176.9 449.5,167.7 451.5,158.2 C453.4,148.8 454.2,145 456.1,127.6 C458,110.2 460.5,73.6 463.1,54 C465.7,34.4 468.8,11.8 471.6,10.2 C474.5,8.6 477.3,32.8 480.2,44.4 C483.2,55.9 486.6,71.2 489.3,79.4 C491.9,87.6 493.6,88.5 496.2,93.4 C498.9,98.4 502.3,105.7 505.3,109.2 C508.3,112.7 512.6,113.6 514.1,114.4" stroke="#5cb468"/>
<path d="M328.5,130.2 C330.4,128.7 336.2,124.1 340.1,121.4 C344,118.8 348.2,117.2 351.7,114.4 C355.2,111.7 357.9,104.5 361,104.8 C364.1,105.1 367.6,114.6 370.3,116.2 C373,117.8 374.9,114 377.2,114.4 C379.5,114.9 382.1,114.4 384.2,118.8 C386.3,123.2 387.7,131.2 390,140.7 C392.3,150.2 395.4,166 398.1,175.8 C400.8,185.5 403.7,198 406,199.4 C408.3,200.9 410,191.4 412,184.5 C414,177.7 416.3,163.6 417.8,158.2 C419.4,152.8 420.1,152.1 421.3,152.1 C422.5,152.1 423.2,152.8 424.8,158.2 C426.3,163.6 428.8,178.7 430.6,184.5 C432.4,190.4 433.9,194.7 435.7,193.3 C437.4,191.8 439.2,186 441,175.8 C442.9,165.5 444.9,144.4 446.8,132 C448.8,119.6 450.7,109.3 452.6,101.3 C454.6,93.3 456.2,92.1 458.4,83.8 C460.7,75.5 463.4,52.1 466.1,51.4 C468.8,50.6 471.7,69.6 474.7,79.4 C477.6,89.2 481.2,103.1 483.9,110.1 C486.6,117.1 487.8,120.7 490.9,121.4 C494,122.2 498.6,116.8 502.5,114.4 C506.4,112.1 512.2,108.6 514.1,107.4" stroke="#b88a5c"/>
<path d="M328.5,136.3 C330.4,134.9 336.2,130.5 340.1,127.6 C344,124.7 348.2,121.4 351.7,118.8 C355.2,116.2 357.9,111.1 361,111.8 C364.1,112.5 367.6,122.8 370.3,123.2 C373,123.6 374.9,114.1 377.2,114.4 C379.5,114.7 382.2,124.2 384.2,125 C386.2,125.7 387.7,121.6 389.3,118.8 C390.8,116 392,105.4 393.5,108.3 C394.9,111.2 396.6,124.4 398.1,136.3 C399.6,148.3 401.5,169.9 402.7,180.1 C404,190.4 404.4,197.7 405.8,197.7 C407.1,197.7 409,190.4 410.9,180.1 C412.7,169.9 414.9,146.1 416.7,136.3 C418.4,126.6 419.8,121.4 421.3,121.4 C422.8,121.4 424.2,126.6 425.9,136.3 C427.7,146.1 430,171.2 431.7,180.1 C433.5,189 434.8,192 436.4,189.8 C437.9,187.6 439.3,181 441,167 C442.8,153 444.9,120.3 446.8,105.7 C448.7,91.1 450.5,80.6 452.4,79.4 C454.3,78.2 456.2,96.5 458.4,98.7 C460.7,100.9 463.5,90.6 465.8,92.5 C468.2,94.4 470.3,105.8 472.3,110.1 C474.4,114.3 475.3,117.7 478.4,117.9 C481.5,118.2 486.5,115 490.9,111.8 C495.3,108.6 501,100 504.8,98.7 C508.7,97.4 512.6,103.1 514.1,103.9" stroke="#d8485c"/>
<path d="M328.5,133.7 C330.4,132.3 336.2,127.9 340.1,125 C344,122 348.2,118.2 351.7,116.2 C355.2,114.1 358.3,112.2 361,112.7 C363.7,113.1 365.6,117.1 367.9,118.8 C370.3,120.6 372.6,123.6 374.9,123.2 C377.2,122.8 379.9,115.9 381.9,116.2 C383.8,116.5 385.1,124.7 386.5,125 C387.9,125.2 388.8,120.7 390,117.9 C391.1,115.2 392.1,105.2 393.5,108.3 C394.8,111.4 396.6,124.4 398.1,136.3 C399.6,148.3 401.5,169.8 402.7,180.1 C404,190.5 404.4,199.3 405.8,198.5 C407.1,197.8 409,189 410.9,175.8 C412.7,162.5 414.9,132 416.7,118.8 C418.4,105.7 419.8,96.9 421.3,96.9 C422.8,96.9 424.2,105.7 425.9,118.8 C427.7,132 430,164.1 431.7,175.8 C433.5,187.4 434.8,190.4 436.4,188.9 C437.9,187.4 439.3,183.1 441,167 C442.8,150.9 444.9,109.2 446.8,92.5 C448.7,75.9 450.5,67.1 452.4,67.1 C454.3,67.1 456.2,90.4 458.4,92.5 C460.7,94.7 463.5,78.8 465.8,80.3 C468.2,81.7 470.3,95.9 472.3,101.3 C474.4,106.7 475.3,111.7 478.4,112.7 C481.5,113.7 486.5,110.1 490.9,107.4 C495.3,104.8 501,97.8 504.8,96.9 C508.7,96 512.6,101.3 514.1,102.2" stroke="#c82848"/>
<path d="M328.5,132 C330.4,131.2 336.2,129.8 340.1,127.6 C344,125.4 348.2,121 351.7,118.8 C355.2,116.6 357.9,114 361,114.4 C364.1,114.9 367.6,119.7 370.3,121.4 C373,123.2 374.7,124.4 377.2,125 C379.7,125.5 383.2,126.4 385.3,125 C387.5,123.5 388.6,118.7 390,116.2 C391.3,113.7 392.1,106.7 393.5,110.1 C394.8,113.4 396.6,124.7 398.1,136.3 C399.6,148 401.4,170.1 402.7,180.1 C404.1,190.2 404.6,198.2 406,196.8 C407.3,195.3 409.1,187.3 410.9,171.4 C412.6,155.5 414.9,118.4 416.7,101.3 C418.4,84.2 419.8,68.9 421.3,68.9 C422.8,68.9 424.2,84.2 425.9,101.3 C427.7,118.4 430,156.8 431.7,171.4 C433.5,186 434.6,191.1 436.4,188.9 C438.1,186.7 440.2,171.4 442.2,158.2 C444.1,145.1 446.3,120.9 448,110.1 C449.7,99.3 450.6,94.1 452.4,93.4 C454.1,92.7 456.2,104.7 458.4,105.7 C460.7,106.7 463.5,98.1 465.8,99.5 C468.2,101 470.3,110.6 472.3,114.4 C474.4,118.2 475.3,122.6 478.4,122.3 C481.5,122 486.5,116.5 490.9,112.7 C495.3,108.9 501,101 504.8,99.5 C508.7,98.1 512.6,103.2 514.1,103.9" stroke="#9a3488"/>
<path d="M328.5,121.4 C330,122.2 334.7,125.5 337.8,125.8 C340.9,126.1 343.6,124.8 347.1,123.2 C350.5,121.6 355.2,116.9 358.7,116.2 C362.1,115.5 364.8,117.7 367.9,118.8 C371,120 374.5,121.9 377.2,123.2 C379.9,124.5 382.1,127.3 384.2,126.7 C386.3,126.1 388.2,121.4 390,119.7 C391.7,117.9 393.1,112 394.6,116.2 C396.2,120.4 397.7,133.7 399.3,145.1 C400.8,156.5 402.6,176.2 403.9,184.5 C405.2,192.8 405.8,197.2 406.9,195 C408.1,192.8 409.2,187.7 410.9,171.4 C412.5,155 414.9,116.3 416.7,96.9 C418.4,77.5 419.8,54.9 421.3,54.9 C422.8,54.9 424.2,77.1 425.9,96.9 C427.7,116.8 430,158.5 431.7,174 C433.5,189.5 434.8,188 436.4,189.8 C437.9,191.5 439.5,189 441,184.5 C442.6,180 444.1,171.1 445.7,162.6 C447.2,154.2 448.8,140.3 450.3,133.7 C451.8,127.1 453.6,125.1 454.9,123.2 C456.3,121.3 456.5,121.9 458.4,122.3 C460.4,122.8 463.4,126 466.5,125.8 C469.6,125.7 472.9,124.1 477,121.4 C481,118.8 486.3,113.4 490.9,110.1 C495.5,106.7 501,103.9 504.8,101.3 C508.7,98.7 512.6,95.5 514.1,94.3" stroke="#5a4aa8"/>
<path d="M328.5,125 C330,125.7 334.7,129.3 337.8,129.3 C340.9,129.3 343.6,126.9 347.1,125 C350.5,123.1 355.2,118.7 358.7,117.9 C362.1,117.2 364.8,119.7 367.9,120.6 C371,121.4 374.5,122.5 377.2,123.2 C379.9,123.9 382.1,125.7 384.2,125 C386.3,124.2 388.2,120.6 390,118.8 C391.7,117.1 393.1,110.1 394.6,114.4 C396.2,118.8 397.7,133.4 399.3,145.1 C400.8,156.8 402.6,176.2 403.9,184.5 C405.2,192.8 405.8,197.2 406.9,195 C408.1,192.8 409.4,186.3 410.9,171.4 C412.3,156.5 414.1,126.1 415.5,105.7 C416.9,85.2 418,61.3 419,48.7 C419.9,36.2 420.5,30.3 421.3,30.3 C422.1,30.3 422.7,36.2 423.6,48.7 C424.6,61.3 425.7,84.8 427.1,105.7 C428.5,126.6 430.2,159.7 431.7,174 C433.3,188.3 434.8,189.2 436.4,191.5 C437.9,193.9 439.5,190.9 441,188 C442.6,185.1 444.1,180.1 445.7,174 C447.2,167.9 448.8,157.7 450.3,151.2 C451.8,144.8 453.4,138.4 454.9,135.5 C456.5,132.5 457.5,133.3 459.6,133.7 C461.7,134.2 464.4,137.2 467.7,138.1 C471,139 475.4,142.9 479.3,139 C483.2,135 487.3,122.5 490.9,114.4 C494.5,106.4 498.2,94.1 500.9,90.8 C503.6,87.4 504.9,93.6 507.1,94.3 C509.3,95 512.9,95 514.1,95.2" stroke="#4a5ab8"/>
</g>
<line x1="328.3" y1="210.9" x2="514" y2="210.9" stroke="#333" stroke-width="1.2" stroke-dasharray="1.6 1.6"/>
<rect x="328.3" y="3.7" width="185.7" height="212.0" fill="none" stroke="#666" stroke-width="1.3"/>
<line x1="328.3" y1="210.8" x2="331.8" y2="210.8" stroke="#666" stroke-width="1.2"/>
<text x="324.5" y="216.4" font-family="'Liberation Sans', Arial, sans-serif" font-size="16" fill="#333" text-anchor="end" font-weight="normal" >0</text>
<line x1="328.3" y1="167" x2="331.8" y2="167" stroke="#666" stroke-width="1.2"/>
<text x="324.5" y="172.6" font-family="'Liberation Sans', Arial, sans-serif" font-size="16" fill="#333" text-anchor="end" font-weight="normal" >0.5</text>
<line x1="328.3" y1="123.2" x2="331.8" y2="123.2" stroke="#666" stroke-width="1.2"/>
<text x="324.5" y="128.8" font-family="'Liberation Sans', Arial, sans-serif" font-size="16" fill="#333" text-anchor="end" font-weight="normal" >1.0</text>
<line x1="328.3" y1="79.4" x2="331.8" y2="79.4" stroke="#666" stroke-width="1.2"/>
<text x="324.5" y="85" font-family="'Liberation Sans', Arial, sans-serif" font-size="16" fill="#333" text-anchor="end" font-weight="normal" >1.5</text>
<line x1="328.3" y1="35.6" x2="331.8" y2="35.6" stroke="#666" stroke-width="1.2"/>
<text x="324.5" y="41.2" font-family="'Liberation Sans', Arial, sans-serif" font-size="16" fill="#333" text-anchor="end" font-weight="normal" >2.0</text>
<line x1="328.5" y1="215.7" x2="328.5" y2="212.2" stroke="#666" stroke-width="1.2"/>
<text x="328.5" y="234.5" font-family="'Liberation Sans', Arial, sans-serif" font-size="16" fill="#333" text-anchor="middle" font-weight="normal" >-4</text>
<line x1="374.9" y1="215.7" x2="374.9" y2="212.2" stroke="#666" stroke-width="1.2"/>
<text x="374.9" y="234.5" font-family="'Liberation Sans', Arial, sans-serif" font-size="16" fill="#333" text-anchor="middle" font-weight="normal" >-2</text>
<line x1="421.3" y1="215.7" x2="421.3" y2="212.2" stroke="#666" stroke-width="1.2"/>
<text x="421.3" y="234.5" font-family="'Liberation Sans', Arial, sans-serif" font-size="16" fill="#333" text-anchor="middle" font-weight="normal" >0</text>
<line x1="467.7" y1="215.7" x2="467.7" y2="212.2" stroke="#666" stroke-width="1.2"/>
<text x="467.7" y="234.5" font-family="'Liberation Sans', Arial, sans-serif" font-size="16" fill="#333" text-anchor="middle" font-weight="normal" >2</text>
<line x1="514.1" y1="215.7" x2="514.1" y2="212.2" stroke="#666" stroke-width="1.2"/>
<text x="514.1" y="234.5" font-family="'Liberation Sans', Arial, sans-serif" font-size="16" fill="#333" text-anchor="middle" font-weight="normal" >4</text>
<text x="420" y="252.7" font-family="'Liberation Sans', Arial, sans-serif" font-size="16" fill="#333" text-anchor="middle" font-weight="normal" >Energy (meV)</text>
<text x="0" y="0" font-family="'Liberation Sans', Arial, sans-serif" font-size="16" fill="#333" text-anchor="middle" font-weight="normal" transform="translate(295,113) rotate(-90)">dI/dV (a.u.)</text>
<text x="273.3" y="18.6" font-family="'Liberation Sans', Arial, sans-serif" font-size="20" fill="#1a1a1a" stroke="#1a1a1a" stroke-width="0.3"><tspan font-size="23">(</tspan>b<tspan font-size="23">)</tspan></text>
<line x1="338.5" y1="143.5" x2="351.5" y2="143.5" stroke="#7680b8" stroke-width="1.4"/>
<text x="355" y="146.9" font-family="'Liberation Sans', Arial, sans-serif" font-size="9.6" font-weight="bold" fill="#4a4a4a" textLength="11" lengthAdjust="spacingAndGlyphs">33</text>
<line x1="338.5" y1="152.1" x2="351.5" y2="152.1" stroke="#80749e" stroke-width="1.4"/>
<text x="355" y="155.5" font-family="'Liberation Sans', Arial, sans-serif" font-size="9.6" font-weight="bold" fill="#4a4a4a" textLength="11" lengthAdjust="spacingAndGlyphs">37</text>
<line x1="338.5" y1="160.7" x2="351.5" y2="160.7" stroke="#905080" stroke-width="1.4"/>
<text x="355" y="164.1" font-family="'Liberation Sans', Arial, sans-serif" font-size="9.6" font-weight="bold" fill="#4a4a4a" textLength="11" lengthAdjust="spacingAndGlyphs">42</text>
<line x1="338.5" y1="169.3" x2="351.5" y2="169.3" stroke="#a84858" stroke-width="1.4"/>
<text x="355" y="172.7" font-family="'Liberation Sans', Arial, sans-serif" font-size="9.6" font-weight="bold" fill="#4a4a4a" textLength="11" lengthAdjust="spacingAndGlyphs">44</text>
<line x1="338.5" y1="177.9" x2="351.5" y2="177.9" stroke="#b86068" stroke-width="1.4"/>
<text x="355" y="181.3" font-family="'Liberation Sans', Arial, sans-serif" font-size="9.6" font-weight="bold" fill="#4a4a4a" textLength="11" lengthAdjust="spacingAndGlyphs">45</text>
<line x1="338.5" y1="186.5" x2="351.5" y2="186.5" stroke="#c49a78" stroke-width="1.4"/>
<text x="355" y="189.9" font-family="'Liberation Sans', Arial, sans-serif" font-size="9.6" font-weight="bold" fill="#4a4a4a" textLength="11" lengthAdjust="spacingAndGlyphs">49</text>
<line x1="338.5" y1="195.1" x2="351.5" y2="195.1" stroke="#80b090" stroke-width="1.4"/>
<text x="355" y="198.5" font-family="'Liberation Sans', Arial, sans-serif" font-size="9.6" font-weight="bold" fill="#4a4a4a" textLength="11" lengthAdjust="spacingAndGlyphs">57</text>
<line x1="338.5" y1="203.7" x2="351.5" y2="203.7" stroke="#bccca8" stroke-width="1.4"/>
<text x="355" y="207.1" font-family="'Liberation Sans', Arial, sans-serif" font-size="9.6" font-weight="bold" fill="#4a4a4a" textLength="11" lengthAdjust="spacingAndGlyphs">65</text>
<g clip-path="url(#clipC)">
<rect x="43.2" y="310.8" width="213.60000000000002" height="213.2" fill="#2b0b80"/>
<path d="M148,481.5 L203.5,516.8 L203.5,521.5 L148,486Z" fill="#c6bee8"/>
<g clip-path="url(#clipSurf)">
<path d="M135.6,311.9 L146,314 L158,313 L164,314.5 L177,315.5 L198.5,321 L218,328 L237,333.8 L256.8,340.6 L256.8,394 L203.5,516.8 L43.4,414.5 L43.4,383 L50,375 L57,367 L92,340.5Z" fill="#9e8cee"/>
<path d="M43.4,383 L57,368 L82,406 L119,448 L156,485 L178,505 L203.5,516.8 L43.4,414.5Z" fill="#9282e6"/>
<rect x="40" y="300" width="220" height="225" filter="url(#texC)" opacity="0.38" style="mix-blend-mode:overlay"/>
<path d="M57,367 L67,384.6 L83,405.4 L120,443.5 L157,481.6 L172,497" transform="translate(-4,3)" fill="none" stroke="#7a68d6" stroke-width="7" opacity="0.85" filter="url(#blC1)"/>
<path d="M57,367 L67,384.6 L83,405.4 L120,443.5 L157,481.6 L172,497" fill="none" stroke="#ece8ff" stroke-width="3.4" opacity="0.95" filter="url(#blC05)"/>
<path d="M57,367 L67,384.6 L83,405.4 L120,443.5 L157,481.6 L172,497" transform="translate(3.5,-2)" fill="none" stroke="#cabff8" stroke-width="4" opacity="0.7" filter="url(#blC1)"/>
<path d="M140,312 L160,313 L200,320 L257,340 L257,352 L226,356 L186,334 L150,320Z" fill="#cdc4fa" opacity="0.9" filter="url(#blC1)"/>
<path d="M160,318 L190,329 L224,350" fill="none" stroke="#7a68d6" stroke-width="4" stroke-dasharray="7 3" opacity="0.7" filter="url(#blC1)"/>
<path d="M228,352 L257,347.5" fill="none" stroke="#ece8ff" stroke-width="2.2" opacity="0.95" filter="url(#blC05)"/>
<path d="M229,356 L242,368 L257,382" fill="none" stroke="#7a68d6" stroke-width="5" opacity="0.6" filter="url(#blC1)"/>
<path d="M229,354 L257,349 L257,392 L240,372Z" fill="#c4baf6" opacity="0.5" filter="url(#blC2)"/>
<line x1="60.3" y1="375" x2="212.5" y2="361.2" stroke="#f6f4ff" stroke-width="1.7" opacity="0.9" filter="url(#blC05)"/>
<line x1="77.6" y1="389" x2="220" y2="373.8" stroke="#f6f4ff" stroke-width="1.7" opacity="0.9" filter="url(#blC05)"/>
<line x1="88" y1="406" x2="185" y2="392.5" stroke="#f6f4ff" stroke-width="1.6" opacity="0.9" filter="url(#blC05)"/>
<line x1="43" y1="385.4" x2="57" y2="382" stroke="#f6f4ff" stroke-width="1.5" opacity="0.9" filter="url(#blC05)"/>
<line x1="43" y1="400.4" x2="73" y2="397" stroke="#f6f4ff" stroke-width="1.5" opacity="0.9" filter="url(#blC05)"/>
<line x1="52.2" y1="416.6" x2="82.3" y2="412" stroke="#f6f4ff" stroke-width="1.5" opacity="0.9" filter="url(#blC05)"/>
<line x1="61" y1="377" x2="212" y2="363.5" stroke="#7e6ed2" stroke-width="1.2" opacity="0.6" filter="url(#blC05)"/>
<line x1="78" y1="391" x2="220" y2="376" stroke="#7e6ed2" stroke-width="1.2" opacity="0.6" filter="url(#blC05)"/>
<line x1="89" y1="408" x2="185" y2="394.5" stroke="#7e6ed2" stroke-width="1.2" opacity="0.6" filter="url(#blC05)"/>
<line x1="90.8" y1="342.3" x2="177" y2="333" stroke="#e8e4ff" stroke-width="1.1" opacity="0.7" filter="url(#blC05)"/>
<path d="M185,393 L200,411 L214,440 L228,470" fill="none" stroke="#8a7ad8" stroke-width="1" opacity="0.45"/>
<path d="M215,362 L232,390 L247,420" fill="none" stroke="#8a7ad8" stroke-width="1" opacity="0.4"/>
</g>
<path d="M147.6,360.3 L147.6,343" stroke="#000" stroke-width="1.4"/><path d="M147.6,340 L145.6,345.5 L149.6,345.5Z" fill="#000"/>
<path d="M147.6,360.3 L155,360" stroke="#000" stroke-width="1.6"/><path d="M157.5,359.9 L152.5,357.7 L152.5,362.1Z" fill="#000"/>
<path d="M147.6,360.3 L141,350" stroke="#000" stroke-width="2.6"/>
<text x="145.2" y="337.6" font-family="'Liberation Serif', 'Times New Roman', serif" font-size="14.5" fill="#111" text-anchor="start" font-weight="normal" font-style="italic">c</text>
<text x="133.5" y="350.8" font-family="'Liberation Serif', 'Times New Roman', serif" font-size="16" fill="#111" text-anchor="start" font-weight="normal" font-style="italic">b</text>
<text x="159.5" y="360.8" font-family="'Liberation Serif', 'Times New Roman', serif" font-size="15.5" fill="#111" text-anchor="start" font-weight="normal" font-style="italic">a</text>
<g transform="translate(175.5,490.5) rotate(28)">
<text x="-0.5" y="-2" font-family="'Liberation Serif', 'Times New Roman', serif" font-size="15" fill="#000" transform="scale(1,1.15)">50 nm</text>
<line x1="0.5" y1="1.5" x2="26" y2="1.5" stroke="#000" stroke-width="2.2"/>
</g>
<rect x="60.8" y="455.8" width="10.8" height="52.4" fill="url(#cbC)" stroke="#f0ecff" stroke-width="1.3"/>
<text x="44.5" y="453.2" font-family="'Liberation Serif', 'Times New Roman', serif" font-size="15.5" fill="#f4f0ff" text-anchor="start" font-weight="normal" >0.8 nm</text>
<text x="66.5" y="521" font-family="'Liberation Serif', 'Times New Roman', serif" font-size="15.5" fill="#f4f0ff" text-anchor="middle" font-weight="normal" >0</text>
</g>
<text x="0.1" y="326.3" font-family="'Liberation Sans', Arial, sans-serif" font-size="20" fill="#1a1a1a" stroke="#1a1a1a" stroke-width="0.3"><tspan font-size="23">(</tspan>c<tspan font-size="23">)</tspan></text>
<text x="46" y="302.5" font-family="'Liberation Sans', Arial, sans-serif" font-size="20" fill="#111" stroke="#111" stroke-width="0.3" letter-spacing="0.35">&#946;-Bi<tspan font-size="13.5" dy="4">2</tspan><tspan dy="-4">Pd</tspan></text>
<g clip-path="url(#clipD)">
<rect x="41.0" y="551.0" width="217.7" height="216.60000000000002" fill="#2212f6"/>
<g filter="url(#blD)">
<path fill-rule="evenodd" fill="#2e26f2" d="M57,633.5 55,632.4 52.8,629 50,626.4 46,625.6 41,621.3 37,621.5 36.9,547 79.5,547 85.5,552 88,552.9 90.4,551 88.5,547 90,547 92,549.7 98,554.1 100,557 100,558.2 99,558.5 94,557.2 93,558 95,564 97,565 100,564.9 103,563 104,563.2 105.8,567 102.9,568 102.9,572 102,572.8 99.7,573 99,574 99.5,579 99,579.4 95,577.3 92,574.7 92.8,578 89.9,580 89.8,581 91.4,585 89.7,586 89.4,588 85,586.8 84.5,588 83.9,594 85,596.9 89,598.4 93,601.1 96.9,606 98.3,609 97,609 95,607.6 90,602.3 89,602.6 89.1,604 91.3,608 89,608.3 88,610.1 85,611.6 83,611.4 81.5,610 81.5,609 83.4,608 83,605 79,604.3 77,602.1 74,602.5 73,604 73.7,606 77,609.7 81.3,612 81.7,613 81,614.1 74,609.4 70.2,605 66.9,604 66.4,605 67.5,609 65.3,610 65.2,611 68.8,615 68,615.9 63,614.5 58,611 57,610.9 52.3,613 52.3,615 56,619 57.9,623 56.5,625 58.4,631 57,633.5ZM99,549.6 97.6,549 97,547.6 100.4,547 99,549.6ZM159,771 75,771 75.1,768 77,766.8 77.3,765 71.4,756 72.7,756 77,759.7 80,759.8 81.2,756 79.4,750 80,749 83,748.6 84,745.9 88,747 88.6,746 87,743.9 81.4,741 80,738 84,736.7 85,732.5 89.1,732 87.8,726 89,726 94,729.2 103,726.4 108,723.7 108.4,718 111,718.3 112,717 115,717.4 116.4,717 116.8,716 113.9,712 114,711 117.1,709 117.5,708 117.2,705 115.3,702 116.4,700 116.1,699 114,696.3 110,695.6 108.8,693 109.8,688 111,686.8 113.7,686 113.4,681 112.7,680 107.1,677 106.3,674 105,672.7 104,672.2 101,673.7 95.9,670 95,664.4 97,663.9 100,664.4 105,667.2 106.1,667 106.2,666 101.6,660 95,658.2 92.7,656 91.7,654 92,652.9 94.8,652 94.2,650 95,649.1 99,652.2 101,653 100.6,650 102,646.6 104,644.3 105.6,644 106,643 104.1,640 104,638.5 105.8,637 106,635.5 108,635.5 111.1,634 111,632 109,629.8 106,631.7 104.9,631 104.2,629 104.2,628 106,627 104.5,621 106.3,619 106.4,617 107.6,615 107.4,613 108,612.3 109,612.9 113.2,617 114.1,621 115,621.5 121.7,624 122.3,623 121.8,621 123,617.7 130,623.6 132,624.1 133,621.3 135,620.7 137,618.8 138,616 139.7,614 137.3,610 136.5,606 134.9,604 135,600.8 136,600.1 140,605.7 145,607.5 146.5,607 140.1,597 139.6,595 140,594.3 142,594.9 144,593.9 147.5,595 142.9,590 137.4,587 135.5,585 135,583 137.8,582 137.6,581 135.5,579 132.3,573 130,570.8 126,569 120,569.5 117,568.7 112.1,565 109.2,561 105.7,558 105.1,556 107,553.1 112,557 116.1,558 113,553.2 109,549.5 107.9,547 111.1,547 113,551.1 116,551.6 117.1,551 118.3,547 123.8,547 126,548.6 127.7,548 128.3,547 130,547 208.6,547 210,550 214.4,554 214.7,559 214,559.6 208,555.4 207,555.5 206.5,557 207.8,560 212.9,566 212,566.6 208,565.7 206.9,566 207.2,571 205.8,572 205,574.8 203.3,576 203,578 201,578 200.7,579 200.6,581 202.5,585 202,585.9 197,583 196.7,586 195.7,588 199.1,592 199,592.8 198,592.1 196,592.3 196,593.7 198.1,597 195.1,598 195.4,600 200,604.6 202.8,606 202,606.8 201,606.2 200.6,608 200,608.2 196,605.4 194.7,601 192,598.5 190,597.7 186,598.6 184.9,598 184,596 181,595.6 180.5,596 180.7,599 177.9,601 178,603.4 174.5,606 174.7,608 176.5,611 176,611.9 171,609.1 170.4,610 170.7,614 170,615 167.2,616 166.8,617 167.2,620 168,621.2 171,622.4 171.6,624 171.1,625 173.1,628 178,631.3 178.7,631 178.4,630 179,629.2 182.9,636 190,640.4 191.8,644 190.2,647 190.6,648 194,650.7 200,653.7 204,657.3 205,657.8 205.4,657 205,654.4 207,655.4 207.4,655 204,651.6 203.5,650 208,652 205.3,647 205,645 210,646.4 210.7,646 209.8,643 211,642.6 214.7,646 215,647.4 214,648.2 212.9,648 213.3,649 215,649.8 218,648.4 219,644.7 222.3,642 222.4,640 220,634.9 214,633.2 212.6,630 214,629.5 220.3,631 220,628 221.7,626 222,624 223,623.3 227.2,625 228.5,629 232,631 232.5,630 231.7,628 232.5,627 232.1,624 233,622.9 236.4,624 239,628.1 242,628.2 242.5,627 242,626 243,625.4 250,631 254,631.7 255,631.4 254.7,630 251,629.3 249.4,627 250,624 252.2,623 250.2,619 251,618.1 252,618.3 253.5,620 255.7,626 262,631.1 262,711.9 259,714 257.6,717 259,718.9 262,720 262,723.2 252,716.5 251,716.1 249,717.1 245.1,712 242,709.3 241,709.2 239,710.7 237.4,711 236,712.7 235,712.1 233.4,710 234.3,708 233,705.4 231,704.2 228,704.6 226.8,704 224,700.1 221,697.6 217,690.1 210,687.3 207,688.4 205.7,688 204.2,686 202.7,681 201,679.4 196,679 198.6,687 198,687.2 193,683.7 190,680.3 188.9,680 188,682 183,681.1 179,685.7 177,686.8 175.8,690 181.3,697 181,698 178.5,698 180.1,702 179.4,704 177,703.6 172.7,698 173,694 169,691.8 168,691.8 166.7,694 167.1,698 168.3,700 172,703 175.9,705 174,708 167,706.4 164,702.6 158,697.6 156.6,698 157.5,701 157,701.6 152,702 151,703 152.7,706 150.4,709 150.7,711 153,714.2 158.5,717 159.8,721 149,718.1 148,719 149.9,723 149.6,727 151.9,732 149.9,733 156,742.6 159,741.1 161,741.6 166.7,746 168.1,749 168,749.7 167,749.8 162,746.6 160,746.8 159.3,748 159.3,750 161,753.8 164.4,760 168.7,765 169.4,767 168,769.1 166,769.3 164,768.3 162,768.2 160,770.8 159,771ZM218,552.1 216,551.5 215,550.5 213.3,547 217,547.1 218.9,551 218,552.1ZM114,579.1 112.7,579 111,577.5 110.2,576 110.9,575 113,575.6 114.6,577 115.1,578 114,579.1ZM122,586 119.6,584 118.6,581 119,580.7 121,581.5 122.2,583 123.1,585 122,586ZM205,593.8 202.2,593 201,591 202,590.8 204,591.8 205,593.8ZM200,594 199,593 200,592.5 200.7,593 200,594ZM201,594.1 200.1,594 201,593.5 201,594.1ZM186,610.6 182,608 181.1,606 182,605 187,603.1 189,603.6 192.3,606 192.8,607 192,607.7 188,607.8 186,610.6ZM127,610.6 123.4,608 123,606.4 127.1,609 128,610 127,610.6ZM203,607.6 202.2,607 203,606.3 203.8,607 203,607.6ZM204,617.6 202,615.7 201.3,613 201.3,610 202,609.5 203.9,610 203.3,608 204,607.2 207,608.2 210,607.9 212.8,610 213.3,611 212,612.5 206,612.7 206.2,616 204,617.6ZM201,609.2 201,608.7 201,609.2ZM128,611.2 128,610 128.9,611 128,611.2ZM132,615.3 128.9,612 129,611.2 132,613.6 132,615.3ZM45.2,618 44,615.9 40,613.6 44,618.3 45.2,618ZM55.4,623 54,621.3 52.6,621 53,622.9 55.4,623ZM242,626 238.8,624 238,621 241,620.8 243.2,622 242.8,625 242,626ZM214,624 212.7,623 213,621.5 214.8,623 214,624ZM58,703.4 50,701.5 46,697.4 40,697.6 37,699.9 37,631.2 39.3,631 37.6,626 39,625.2 42,625 44,625.9 46.9,630 50.9,633 54,639.3 62,643.1 63,641.2 65,641.1 66.7,642 65.7,647 67.2,649 68.9,658 72,661.5 73.1,664 70,666 69.5,669 67,670.9 67.5,674 67,675.5 64,675 62.8,681 67.1,686 63.6,687 63.2,693 63.8,695 59,695.8 54.9,695 54.8,696 56,697.5 59,697.2 61.3,700 61.1,701 59,701.8 58,703.4ZM69,627.1 68.4,626 69,625.8 69,627.1ZM178,629.5 178,628.6 178.7,629 178,629.5ZM203,634.3 200,633.2 199.3,632 202.9,632 204,633 204,634 203,634.3ZM231.2,638 228,632.2 226,631.3 225,631.8 225.2,634 226.5,636 230,638.4 231.2,638ZM207,638.5 207,637.7 207,638.5ZM192,639.5 191.2,639 192,638.6 192,639.5ZM201,641.8 201,640.8 201,641.8ZM202,642.3 201.2,642 202,641.7 202,642.3ZM91,646.4 89.5,645 89.6,644 92,646 91,646.4ZM92,647 92,646.2 92,647ZM55,649 53,648 54,649.1 55,649ZM58.1,648 56.8,648 58.1,648ZM73,652.5 70.8,651 73,648.6 74,648.6 76.2,651 73,652.5ZM94,649.5 94,648.6 94.8,649 94,649.5ZM64.7,658 63,653.7 62,654.5 59,654.4 58.6,655 62,658 64,658.6 64.7,658ZM196.7,655 196,653.5 195,653.2 195,655.4 196,655.7 196.7,655ZM93,663.4 93,662.3 93.8,663 93,663.4ZM94,664.3 94,663.3 94.6,664 94,664.3ZM198.5,669 197,665.6 195,665.3 194.4,666 194.9,668 196,669.2 198,669.7 198.5,669ZM209.4,678 203,672 200,671.2 199.2,674 201,676.8 205,678 209,678.5 209.4,678ZM195.6,678 193,675.1 192.2,676 194,678.2 195.6,678ZM101,687.2 100,687.1 98,685.1 98,683.2 101,685 101.6,686 101,687.2ZM121.6,694 119.6,690 115.9,689 115.6,691 116.8,693 121,694.9 121.6,694ZM124.2,701 123,699.7 123.4,701 124.2,701ZM92,704.1 89.8,703 89.1,702 90,701.1 92.3,703 92,704.1ZM164,708.6 161.2,708 158.4,706 160,704.8 161,705.2 163.6,707 164,708.6ZM218,706.4 217,706.3 216.5,705 217.3,705 218,706.4ZM99,710.6 96.5,708 97,707.4 99.3,709 99.9,710 99,710.6ZM125.5,715 125,712.7 123,712.2 122.2,713 123,715.5 124,716 125.5,715ZM237,713 237,712.5 237,713ZM76,723.3 74,722.1 72.6,720 71.4,716 71.9,714 75.1,715 78.3,718 77.5,722 76,723.3ZM249,724.4 247,724.5 245.3,723 245.2,721 246,719.7 248,719.5 249.8,721 250.1,723 249,724.4ZM82,729.1 81.2,728 82,727.6 82,729.1ZM158,731.2 155.3,730 155.8,729 158.3,730 158.8,731 158,731.2ZM81,743.2 77.4,741 76.7,740 77,739.1 79.9,741 81,743.2ZM180,764.3 179,764.8 174,762 173,763.4 172.4,763 173.4,761 173.1,760 169,756 168.8,755 170,752.8 171,752.6 176,754.8 179,757.9 184.4,761 184.8,762 182,762 180,764.3Z"/>
<path fill-rule="evenodd" fill="#3438ee" d="M49,624.2 47,623.7 45.5,622 45.6,621 47.5,619 46.6,617 44.9,615 39.1,611 37,608.2 36.9,547 77.4,547 81.6,550 84,553.1 90,555.4 91.9,558 92.4,560 92,561.8 90,562.6 89.6,564 87.9,565 87,566.9 84.9,567 86,569.2 89,571.1 90.1,577 88,578.9 87.4,581 85,581.2 83.6,583 81.1,584 82,587 79.4,590 79.4,592 78.3,594 79.6,597 79,598 74,600.5 72,600.8 70,602.8 65.3,603 65.2,607 64.1,608 62,608.7 57,605.6 56,606 54.5,610 51,610.3 50.5,613 51.6,617 49.9,619 50.1,623 49,624.2ZM156,771 153,770.4 152.1,771 147,771.2 92.2,771 89,766.8 88,767.7 87.3,771 82.9,771 82.5,769 80.1,766 79.4,764 79.3,763 83,758.9 81,750.7 85,749.7 86,748.5 89,748.9 90.3,748 90.7,745 90,743.6 84.4,740 84.6,739 86.2,738 86,734.8 87,734.1 91,735 91.6,734 92,732 91,729 93,730.7 95,730.9 97,729.3 104,727.5 106,726.2 109.5,726 110.1,722 111,721.4 113,721.7 115,719.4 119.2,718 118.9,716 116,712 117,710.9 119,711.3 120.7,716 123,718.1 125.6,718 129,715.5 135,718.8 136,718.8 138.1,717 137.5,715 134,711.2 129,710.5 124.9,705 126.6,703 124.6,697 125,695.2 130,695.7 135,698.8 135,697.6 132,695.3 129,690.2 125,686 125.6,688 124,688.8 116.6,687 115.5,684 117.6,680 110,676.4 108.9,673 106.8,670 109.1,669 106.6,663 107.5,658 106.5,653 106.9,650 105.6,647 106,646.4 109,646.3 111,645 111.9,644 111.9,641 115,642.1 115.9,641 115.3,636 113.1,632 108.3,627 107.6,625 108,623.1 110,623.8 110.6,623 110.2,622 111,621.5 115,625 113.3,627 113.8,628 117,629.4 118.6,627 123,625.6 125,623.6 127,623.8 131,626.1 134.8,625 135.5,623 137.6,622 139.8,617 142.4,615 142.6,613 140.7,610 141,608.5 142,608.1 149.5,611 151.2,615 154,617.5 155,617.2 156.8,614 156,612.6 153,610.9 149.7,606 150,605.3 152.4,605 152.7,601 150,594 145,588.5 139.5,586 138.7,585 139.7,583 139.3,581 136,577.5 134.6,574 130,568.5 124.8,567 122.6,564 120,562 115.5,554 117.5,554 121,557.4 121.3,556 119.6,553 120,551.2 128,549.7 129.6,547 207.1,547 208.4,551 208,551.6 206,550.8 204,553 205.9,559 208.6,563 207,563.3 203,561.2 201,561.1 201.3,564 204.4,568 204.3,570 203,572.1 200,573.7 195.9,574 193.9,579 195.1,584 193.2,586 194.4,590 193,591.8 191.5,592 189.3,590 188.3,590 188.6,591 191.7,593 192.2,596 191,596.2 189,595.1 187,591.7 184,592.1 181,591.5 177.5,594 178.9,598 176.2,599 172.3,603 173,608.7 169,607.4 168.4,608 168.8,611 168,612.6 164,611.7 161.6,613 161.9,617 167,623.8 174,630.7 179.3,634 183,638.5 188,640.3 189.7,642 190,643.4 189,644.7 186,644.6 182,639 180,637.8 178.6,638 179,644 179.6,645 182.3,647 184.3,650 188.8,653 190.7,656 191.1,658 190.1,659 190,661.1 193.2,667 194.2,672 194,673 190.1,674 191,678.3 189,677.4 186,674.3 184.4,674 184,678.3 180,681.6 176.6,682 175,687.6 173,688.2 170,686.3 168,688.8 166,689.7 164.6,692 164.8,694 163,696.8 159,694.4 157,694.3 154.7,696 155,699 154,699.9 149.6,701 145.6,704 147.9,708 147.8,712 150.2,715 150.2,716 146,713.4 144,716 147.1,721 146.8,724 149.1,730 147,732.8 142.1,734 141.9,735 143,736.3 147,737.4 148.4,737 149,735 149.8,736 149.1,738 149.7,739 157.1,746 159.7,755 157.6,761 163.1,764 161.7,766 158.4,769 157,769.5 156,771ZM118,565 116,565.7 113,564.3 111,558.6 118.3,563 119,564 118,565ZM88,568 87.2,567 88,566.4 88.5,567 88,568ZM94,572.9 89.2,571 88,568 89,567.3 92,568.4 94,567.6 96.2,568 97,569 96.2,570 95,570.2 94,572.9ZM142.4,580 142,576 139.6,572 138.7,569 137,567.5 136.3,568 135.8,571 136.5,574 139.4,579 142,580.3 142.4,580ZM153.8,592 151.9,589 147,585 146,584.5 145.5,585 146.2,588 152,592.2 153,592.6 153.8,592ZM179.8,590 179,588 176.7,587 176.2,588 177,589.7 179,590.4 179.8,590ZM170,600 170.5,599 169,597.2 167,597.8 166,599 167,600.5 169,600.7 170,600ZM87,604.6 83.1,602 83.1,600 85,600 86.4,601 87.2,603 87,604.6ZM147,603.4 144.5,601 144.2,600 145,599.3 147,601 147.9,603 147,603.4ZM165.3,605 164.8,603 163,602.4 162.6,603 163.4,604 165.3,605ZM48,608 47,605.9 45.3,605 46,607 47,608.1 48,608ZM185,607.6 183.9,607 185,606.8 185,607.6ZM204,614.1 204,613.4 204,614.1ZM42,620.1 39.7,619 38.6,616 40,616.3 42,618 42.6,619 42,620.1ZM110,621.8 109,618.9 110.5,621 110,621.8ZM51,695.1 49,694.3 47,695 43,694.3 42,695.4 41,695.4 37,693.1 37,632.7 41,635.1 42.3,635 42.4,632 41.2,629 42,628.3 48.6,633 49.6,638 52,641.9 55,643.4 56.6,643 56.7,644 54,644.9 50,642.6 48.2,644 50,647 56,652.7 56.8,656 61,659.7 64.1,661 66,664 64,665.8 63.2,671 61.8,672 61.9,678 61,681.2 58,680.6 56.9,681 56.5,682 61,686.7 61.1,689 56,689.7 55,691.4 53,692.3 52,695 51,695.1ZM255,717 248,713 242,706.2 241,706.2 238.1,709 237,709 232,703.3 227.5,702 225.5,699 220.5,694 219.5,690 221.4,689 221,686 220,684.5 215.9,683 215.4,681 216,679 215,677.2 211,673.9 207,673.2 202,670 198.7,665 194.8,662 194.2,660 198,658 200.1,658 199,654.7 207,660.7 208,660.9 211.3,659 211.6,656 215,655.7 215.3,653 220,651.1 221,650.1 221,646.2 222,645.6 225,646.2 229,643 230,640.1 232.7,640 232.9,639 231,634 232,633.2 235,634.6 242,635.6 242.3,634 238.9,631 243.4,630 245,628.7 249,632.1 255.2,634 259,636.7 260,636.7 260.2,636 258.8,633 259,631 262,633.1 262,703.7 260,703.8 258.3,707 258.3,708 260.3,710 260.3,711 257,713.3 256,713.7 254.8,713 253.8,711 255,710 254,709.2 250.4,709 254.4,714 255.4,716 255,717ZM169.1,631 167.4,630 169.1,631ZM216,632.4 214.7,632 215,631.3 216,632.4ZM212,651.7 209,650.2 206.8,647 208,646.9 211,648.9 212.4,651 212,651.7ZM190,651.9 189.3,651 190,650.4 191,651 190,651.9ZM191,652.3 190.1,652 191,651.1 191,652.3ZM97,658 94.8,657 93.5,655 94,654.2 96.1,654 97,652.6 102.9,656 103.1,657 102,657.6 97,658ZM204.1,667 204,666 201.7,665 203,666.9 204.1,667ZM102,668.3 101,668.1 100.5,667 102,668.3ZM121.3,680 122.7,679 123,677.2 122,675.7 120,674.8 118.1,680 120,680.5 121.3,680ZM207,686.2 205.3,685 205,680.7 208,681.7 209.9,684 209.9,685 207,686.2ZM113,692.2 112,692.4 110.9,691 112,688.5 113,688.4 113.9,690 113,692.2ZM233.7,697 228,690.4 226,690.2 225.1,691 225.8,693 231,697.5 232,697.8 233.7,697ZM120,701.1 117.9,700 116.8,698 117,696.5 118,696.5 120,698.3 120.8,700 120,701.1ZM51,700.2 50,699.5 50,698.6 51.9,699 51.8,700 51,700.2ZM171,705.5 167,705 165.9,703 166,701.5 168,701.6 170,702.9 171.6,705 171,705.5ZM123,710.2 120,710.6 119.4,710 119,705.5 121,705.2 123,706.2 123.9,708 123,710.2ZM137.7,711 138.1,710 137,708.4 135,708.6 135,710 137.7,711ZM75,720.4 73.7,719 74,716.9 75,716.9 75.6,718 75,720.4ZM157,718.5 156.3,718 157,717.8 157,718.5ZM162,744.3 160.4,744 161,743.3 162,744.3ZM164,765.1 164.6,765 164,765.1Z"/>
<path fill-rule="evenodd" fill="#3e52e0" d="M45,612 42,612 39.7,610 40.1,605 39,602.9 37,602 36.9,547 70.6,547 72,548.3 79,551 83,554.3 90,556.8 91,559 90.4,560 87,559.8 83.4,561 82.9,566 84.7,570 87,572.5 88,575 88,576.1 86.4,577 86,579.7 78.5,582 77,590.6 75,590.8 73.2,588 72,587.6 66.5,590 67,591.7 69,592.7 70,592.5 71,590.5 74,591.2 77,596 74.5,597 73,599.2 71.9,599 70,596.9 68,596.4 67.7,598 69.2,601 68,601.7 64.9,601 64,602 63.9,605 63,606.3 61,605.9 58.2,604 57.1,603 56.9,601 55,599.6 54.8,601 56.5,603 54.4,605 53.9,608 53,609 50,607.9 47,603.1 42.8,602 42.3,603 44,606 43.9,609 45,612ZM163,600.1 160.4,599 159.3,596 155.8,593 153.8,589 149,585.7 145.3,582 144.8,580 145.6,578 142.1,573 139,566.3 137,565.6 133,565.5 131.9,563 132.2,560 130,558.5 127,559.4 125,558.8 123,554.4 125.4,552 129,551.1 131,547.5 132.6,548 135,551.5 136,551.4 136.5,550 135.5,547 192.5,547 194.8,551 196,551.4 198,548 201,547.7 202.4,549 202.2,552 203.7,556 203.7,558 199.7,559 199,560 199.8,564 202,568 201,568.4 197,566.6 195,566.6 195.3,570 192.1,577 192,580.2 189,580.8 188.1,583 188.5,587 186,587.4 184.5,590 183,590.2 179,586.3 176,585.5 174,588.3 171,589.7 169.7,592 171,593.9 173,593.9 174.5,595 173.9,597 173,598 169,595.4 167,595.3 163,600.1ZM159,589 159.3,587 158.7,585 156,584 154,584.3 153.7,586 154.4,588 159,589ZM156,610.6 154,609.6 153.4,608 155.1,607 154.2,597 155,596.8 157.9,599 162,605 162.1,606 161,606.4 160,608.4 157,609 157,610 156,610.6ZM171,607 168,605.3 167,603 168,602.4 170,603.1 171.5,606 171,607ZM145,702 143,701.9 141.6,697 134,689.8 131,686 130,685.6 129,687.1 125.5,684 124.1,682 125.6,678 125.3,677 122.5,674 121,673 119,673.1 116.8,675 116,676.8 113,675 112.4,671 108.6,665 110.3,661 111.5,660 109,655.3 108.3,652 109,649 110.9,647 113.4,646 114,643.9 117.4,643 118,642.1 118.3,639 116.7,634 117,633 119,634.4 120.9,634 119.4,630 120.1,628 127,625.5 129,627.3 131,628 135,627.3 139,628.2 141,626.4 143,623 140.9,619 143.9,615 143.6,611 145,610.3 148.5,612 151,616.5 156,621.3 157,621.7 158,621 157.2,618 158,616.6 159,616.6 163.8,621 165.1,624 162.9,625 162.8,626 164.3,629 164.2,632 165,633.7 166,635.2 168,636.4 173,637 175,636.2 176,636.5 177.3,640 177.2,644 181.7,650 181,650.4 179,648.7 178.4,650 178.9,651 183,654 185,652.9 188.3,655 188.3,662 191.7,666 192.4,668 192.1,671 191,671.9 189,671.4 185,668.5 181,670.4 180.5,671 182.7,675 182.6,677 179,680 174,680 172.5,683 173.4,686 168,683.5 167.1,687 163.2,690 163,693 161,693.8 158,692.7 156,693 152.8,695 152.1,698 145,702ZM48,614.6 47.5,614 48,613 49,614 48,614.6ZM116,633.2 115,631.3 117,633 116,633.2ZM251,713.7 245.7,709 243,705 240.1,703 230.7,690 225,685.9 222,681.9 219,680.9 215.6,676 207.4,670 205.6,664 206,662.5 207,662.1 214,661.5 214,658.8 215,657.9 217,658 218.3,654 221,652.9 224,650.2 227,649.7 227.9,646 231,641.9 232,641.5 234,642.2 237,645.9 239,646.8 238.9,645 235,640.7 233.6,637 235,636.3 240,637.2 243,637 245,634.8 246,634.6 249,636.1 251,634.7 254,634.8 259.5,639 262,638.5 262,702.1 259,702.7 257.7,705 255,706.8 251,706.7 249,707.4 248.5,709 251.7,713 251,713.7ZM51,691.2 49,691.2 46.4,688 43,687 41,689.6 37,691.4 37,638.9 39,639.4 41,641.3 46,642.7 50.3,649 50.5,650 49.2,651 49.2,652 50.6,653 53,652.2 54,653 54.6,656 58.1,659 61.8,665 61.6,669 60,671 60.2,677 59.7,678 59,678.9 56,679.7 53,682.5 49,682.2 48,683.7 48,686.3 49,687 50,685.4 51,685.2 53.2,687 53.3,689 51,691.2ZM188,643 187,643.1 186.4,642 188,641.9 188,643ZM182,651.2 182,650.5 182,651.2ZM122,686.1 119,685.8 118,685 118.2,684 119,683.1 120.2,683 121.4,684 122,686.1ZM207,684.2 206.4,683 207,682.7 207.7,684 207,684.2ZM134,693.3 132.7,693 133,691.4 134,693.3ZM225,696.6 222,694.4 221.4,693 222,692.1 225.3,695 225.9,696 225,696.6ZM132,709.1 130,709.5 129,708.9 127.2,706 128.7,704 128.7,701 130,698 131.1,698 132.3,700 130.5,701 132.7,705 132,709.1ZM237,707.5 235.6,706 235.3,705 236,704.4 238.2,705 237.8,707 237,707.5ZM121,708.3 121,706.9 121.9,708 121,708.3ZM143,713.3 140.8,713 139.7,710 140,708.7 143.1,711 143.5,712 143,713.3ZM252,714.3 251.4,714 252,713.4 252.5,714 252,714.3ZM150,771 93.4,771 90.2,766 89,765.2 87,764.8 85,767.1 84,767.1 82.8,765 85,762.4 85.2,761 82.1,752 83,751.1 84,751.1 87,753.3 89.4,753 92.9,745 92.6,742 88.3,738 87.6,736 89.3,736 97,741.2 99,741.1 99.7,739 96,737.6 93.7,735 94.5,733 97,730.4 102,729.9 107,727.5 112,729.4 114,727.5 119,730.8 120.2,730 120.5,727 116.5,723 116,721 118,719.9 122,721.8 124,720.5 126,720.4 129,724.4 130.6,725 134,724.9 135,725.7 141,738.1 143,739.1 146,738.9 149,740.6 156,747.6 158.1,753 157.4,757 155.1,759 153.9,768 151.8,769 150.9,771 150,771ZM139,726.6 136.1,725 132.3,720 137,722.6 138,722.4 139,720.7 140,721 141.2,724 139.4,725 139,726.6ZM144,732.1 142,731.6 141,729.6 143,728.4 144,726.6 146,726.8 147.3,728 147.3,730 144,732.1ZM136.6,736 137,735 136,734.6 134.4,735 134.1,736 135,736.6 136.6,736Z"/>
<path fill-rule="evenodd" fill="#4a6cc8" d="M52,601.2 47,599.5 45,600.8 44,600.6 39,597.7 37.3,598 37,599.3 37,547 61.8,547 63,548.3 64.7,547 69.1,547 71,549.4 77,553.3 80.5,557 80.6,559 78.7,560 78.5,561 82,568.3 78,566.3 77,567 78,569.2 81,570.3 84.3,576 84.8,578 78,580.4 75.7,584 73,584.1 71,586.2 64.9,589 63.4,592 65.7,594 65.7,597 65,598.6 59,598 57,598.4 53,597.5 52,601.2ZM167,593 165,591.9 162,588.7 161.1,584 159,582.2 153,582.4 152,585.8 151,586 146.7,582 147.7,580 147.1,578 143,571.8 141,566.2 137.2,562 137.4,557 135.8,554 137.4,552 137.5,547 190.9,547 192.1,549 192.9,553 196.5,555 198,563.1 197,563.9 194,563.6 192.8,565 192.4,572 190.4,576 190,578.9 188,579.2 180,584.6 174.9,584 172,587 169.1,588 167.5,590 167,593ZM201,555 199.9,554 200,552.5 201.2,554 201,555ZM62,604.6 59.6,603 60,601.3 62.1,602 62.6,604 62,604.6ZM51,607 50.2,606 51,605.5 51.6,606 51,607ZM148,618.6 147,618.6 145.7,617 146,613.3 147,612.7 149,616 149,617.8 148,618.6ZM162,622.6 160.4,621 162,621.4 162.5,622 162,622.6ZM155,691.2 153,691.9 151,690.9 147,691.2 144,690 140,692 139,691.8 133.8,688 131,683 128,683 127,682.4 126.7,681 128.2,679 128,678 123,672.9 120,671.3 115,671.4 112.2,668 113,666 112.7,663 114.5,662 114.8,661 114.2,659 111,655.5 110.5,654 111,653.3 114,655.4 115.2,655 115.6,654 115,652 112,650.2 112,649 114.9,648 116,644.9 119.9,644 120.3,638 124.7,636 125.3,635 121.4,631 120.9,630 121.7,629 124,628.8 126,633.1 129.6,635 131,635 130.2,632 130.9,631 133,630.2 138,632.4 141.9,629 143,626.9 145.5,625 146,623.2 147,622.7 149,624 150,622.6 152,622.6 155,628.3 158.2,627 159,624.6 160,624.9 162.2,628 163.4,636 166.2,639 167.6,643 171,645.6 175,646.3 177.9,652 181.1,655 186.1,658 186.4,659 185.3,661 185.1,663 181.9,668 178.9,670 180.8,675 180.1,677 178,677.9 172,677.1 171.2,678 171,679.8 169,681 166,676.5 165,675.9 163,676 161.9,678 165.3,682 166,685.3 163,688.2 161,688.4 155,691.2ZM254,705.1 247,705.6 245.4,701 244,700 242,700.5 239,697.7 232,688.4 226,684.3 222,679.1 219.2,677 216,672.4 214,671.3 212.5,672 209.7,670 207.3,665 208,663.4 210,663.5 213,666.3 215,666.8 217,664.3 217,660.1 219,660 221,656.7 222,656.6 224.7,659 227.3,659 227.9,657 227,655.5 224.7,654 224.9,653 228,653.6 229,653 229.9,651 229.8,646 232,643.6 233,643.4 234,644 237,648.1 240,648.7 241.6,648 240,644.3 236,639.5 236,638.3 238.5,639 244,642.2 245.1,642 243.6,639 247,637.8 250,638 253,636.9 256,637.9 259,640.4 262,640.5 262,699.2 260.1,701 257.6,701 256.2,704 254,705.1ZM45,686.1 40,683.4 37,683.1 37,641.7 40,643.1 45,643.8 46,644.7 47.5,648 47,654.2 48,655.2 51,655 52,655.6 57,660.3 60.1,665 59.4,668 56,670.3 55,671.8 52.7,672 54,673.1 56,673.4 57.2,675 56.7,677 54,679.6 51,680.3 47,676.5 45,676.9 44,677.9 43.9,680 46,685 45,686.1ZM125.6,647 126,646 123.6,647 125,647.6 125.6,647ZM190,669.5 187.9,668 187.5,666 188,665.2 190,665.9 190.5,667 190,669.5ZM148,697.6 146,697.3 144.2,694 145,693.3 146,693.8 147.8,696 148,697.6ZM149,771 94.4,771 92.7,768 92.7,765 88,762 86.1,757 89,755 93,755 94.5,754 97.2,749 97.6,744 100,742 101.9,739 101.3,737 96.8,735 96.8,733 98,731.1 100,731 104,732.3 105,730.5 113,731.2 115,730 120,732.2 122.5,730 123,727 124,726.3 127,728.1 128,726.6 132,726.6 134,727.7 136.1,732 133,734.2 131.6,737 132,738.4 133,739.1 136,738.3 138,738.6 139.8,742 141,742.8 146,742.8 147,741.6 148,741.5 155.1,749 155,755.8 152,754.1 150.5,754 150.6,756 153.4,760 152.3,766 150.2,769 150,771 149,771Z"/>
<path fill-rule="evenodd" fill="#5a8aa8" d="M51,599 49,599.1 47,597.7 45.2,592 44,591 41,590.7 39,592.1 37,590.4 37,547 40,547.8 42.1,547 60.2,547 59.5,552 60.4,553 62,553.3 63.2,553 64.8,550 67,548.6 68.8,550 68.8,552 70,554.3 71.3,555 71.7,554 70.9,552 72,552 76,554.1 78.2,557 72.9,562 72.5,564 74.6,567 76,570.6 81,573.3 83.3,577 77,579 75,582.4 71.1,583 70,585.4 65.5,587 63,588.9 61.2,592 61.3,593 64,595.6 63.4,597 61,596.7 57,594.8 55,596 51.6,596 51,599ZM167,587.5 166,587.9 164,587 161.8,583 159,581 156,579.9 151,580.9 149,579.1 146.2,573 144,570 143.1,567 139,561 138.2,554 138.6,547 189.7,547 190.9,550 190.7,554 194,556.2 195,560 192.3,562 188.7,568 186.5,569 187,570.2 189,568.4 190.7,571 188.5,575 188.7,577 188,577.5 185.5,577 184.1,579 180,579.7 179,582.4 174,582.6 172,584.2 168,585.5 167,587.5ZM165.1,582 165.1,581 164,580.3 163.4,581 164,582 165.1,582ZM150,584.1 150,583 150,584.1ZM155,689.3 152,689.7 144,687.8 140,688.9 135,687.9 133.6,686 133.6,682 130.3,678 123,671.4 116,667.4 114.7,665 116,664 117,658 117.7,652 116.6,649 117,646.2 120,646.2 125,649.4 126,649 129,645 129,643.9 128,642.9 123,643.8 122.4,643 122.2,639 124,637.8 128,636.7 132,636.6 133,636 134,632.9 138,634.4 140,634.3 144,628.4 145,627.9 148,628.3 151,627.3 156,630.9 158,629.5 159.9,630 160.8,632 159.7,633 164.9,640 166.2,644 174,650.6 177.1,657 182,659 182.5,660 181,666.9 177.6,669 177.5,672 176,675 174,674.6 168,675.7 165,674.4 162,675.2 160.6,677 160.5,679 164,682 164.3,684 163,684.8 162,686.7 158,687.3 155,689.3ZM253,703.2 250,702.8 243.8,697 244.6,693 244,691.9 242.3,692 239,693.9 237,692.9 234.8,689 236,686 235.5,684 230,680.9 228.6,681 228,682.4 227,682.7 220,676 217.2,671 218.7,666 218.5,662 221,662.4 224,666 224.8,665 224.5,662 229.6,660 231.7,653 231.1,647 232,646.1 233,646.3 234.9,649 237,650.1 243,649.9 243.3,648 242.1,645 249.1,643 250,642.4 250.4,640 253,638.5 255,639 259,641.6 262,642.1 262.2,677 262,697 260,696.3 256,698 254.9,699 254.8,702 253,703.2ZM44,684.5 40,682 37,681.4 37,646 42.4,646 45.4,650 45,654 45.5,658 49,658.1 52,660.5 55,661.4 57.7,665 53,669.6 49,669.5 48,673.2 45,674.4 42.5,677 42.1,679 44.2,683 44.5,684 44,684.5ZM53,678.3 51,677.8 48.5,674 51,673.4 53.5,675 54.3,677 53,678.3ZM149,771 141.7,771 140,769.6 139,771 135,771.2 95.8,771 95,769 96,766.6 98,764.3 99.7,760 96.3,756 96.5,754 98.4,750 98.8,745 101.7,742 103.5,738 103,736 99.5,734 99.2,733 101,732.8 105,734.4 107,732 114,733 117,732.1 121,733.6 129,730.4 131,728.1 133,728.4 134.8,731 132.3,733 130.3,736 129.9,739 133,741.5 134,741.5 136,740 137,740.5 137.5,742 135,744 139.6,750 142.5,750 140.8,746 141,745 142,744.9 147,745.5 150.2,750 150.4,751 148.6,752 148.2,753 149.9,760 148.4,762 149.5,765 149,771ZM95,762.2 93,762.8 91,761.9 89.3,759 89.5,757 91,756.3 95,757.1 96.1,760 95,762.2Z"/>
<path fill-rule="evenodd" fill="#64a47c" d="M53,594.4 49,593.6 46.6,591 44,589.6 39,588.8 37.1,586 37,550.2 43,550.3 44,549.4 44.5,547 58.1,547 58,548.9 54.9,551 56.3,553 63,557.8 71,558.2 72.1,559 71,562 72.2,567 71.8,574 74.5,580 73,580.9 69,580.7 69,584.3 62.8,587 59,592.4 55,593 53,594.4ZM170,583.1 168,582.7 166.5,580 164,578.4 162,578.4 160,579.6 158,578.9 155.6,577 155.9,575 155,573 153,571.8 149,571.4 146,569.1 140.7,561 140.3,557 141,555 140,551 140.4,548 141,547.6 144,549.3 145.7,547 188.1,547 187.7,551 188.5,554 186.8,555 186.2,557 187,558.7 190,561 189.9,563 185,566.2 183.4,569 183,572 181.1,574 180.3,576 177.3,577 176.3,580 173,581 170,583.1ZM153,578.1 151.5,578 152,576.8 153.6,577 153,578.1ZM49,596.4 48,596.2 48,594.9 49,596.4ZM153,688.1 151,688.1 147,686.8 144.3,685 142.7,683 141,682.4 140,686.5 136,686.4 135,682 132,677.8 128.9,675 124.8,669 119,665 117.8,662 119.2,658 118.4,655 119.2,653 118.5,648 120,647.7 124,650.6 126,650.8 130.2,645 130.1,643 129,641.4 125,641.5 124.1,641 124,640 125.2,639 127,638.8 130,640.1 136,635.3 140,635.9 142,635.4 145.2,630 146,629.6 149,631.1 151,629 153.1,631 154,634.2 158,634.9 160.3,637 160,640 159,640.8 155.3,640 157,643.5 158,644 160,642.8 162,643.7 166.1,647 167,649 170,650.8 173.4,654 173.7,655 172.4,657 172.6,660 171.7,663 175.4,668 175.9,670 174,672.7 171,673.9 168,673.9 164,672.8 161,674.6 158.6,679 159.5,684 159,684.9 153,688.1ZM252,698.8 251,698.9 247,695.6 246.4,694 246.6,691 245.6,690 244,689.8 239,691.4 238,691.1 237.8,683 227,678.5 221,671.8 220.1,670 227,667.1 228,664.5 232.2,659 232.8,655 234,652.5 236,651.6 239,652.6 241,651.5 245,651.1 245,646.5 247,645.5 252,645.8 253,645 252.7,641 254,640.2 257.8,643 257.2,646 257.7,647 262,650.5 262,688.4 260.8,690 261.7,694 253.2,697 252,698.8ZM40,680 37,679.6 37,648.3 40,649 42.6,651 43,659.3 44.1,660 49,660.2 54.2,665 54.2,666 52,668 49,667.1 47.2,668 45.1,672 40.5,677 40,680ZM178,667 176,666.1 175.5,665 175.8,662 177,660.5 178.6,661 179.7,664 179.6,666 178,667ZM148,771 143.7,771 140,767.7 138.9,768 137.7,771 135,771.1 104.1,771 101.2,769 99.6,764 101.3,761 98.4,755 99.7,751 99.7,746 101,744.1 102,743.9 106,746.3 107,745.4 106.9,743 105,740 107.5,736 107.4,734 108,733.3 110,733.6 114,736.2 119,734.3 121.9,737 120.3,739 122,740 123.8,739 124,734.4 127,733.6 128.7,734 127.7,739 132.5,743 138,750.4 145,753.1 147.6,756 147.7,758 146.2,760 145.9,764 148,768.4 148,771ZM93,760 92.1,759 93,758.7 93,760Z"/>
<path fill-rule="evenodd" fill="#70bc50" d="M55,591.1 51,591.7 40,587.3 37,581 37,578 38,576 37,573.2 37,558.1 38.1,558 38.6,557 38.3,554 38.9,553 44,552.9 46,552 47.2,547 52.5,547 52.6,551 51.5,554 53,556.1 55,556.4 57,555.5 59.5,557 62.3,560 64,560.4 67,559.5 69,560.4 69.8,562 69.2,566 70.3,569 69.7,572 71.4,578 70,578.7 65,576.1 64.1,577 66.1,582 65.8,583 60.1,586 58,588.3 57.5,590 55,591.1ZM170,579 169,579.6 165,577.5 159,576.1 157,570.9 155,570 149,569.7 144,564 142,558 148.4,547 186,547 183.8,552 184.9,555 184.5,559 186.9,562 183,564.1 181.4,568 181,571.5 177,574.3 171,575.1 170.2,576 170,579ZM153,686.4 147,685.5 143,681.1 141,679.9 138,680.4 137,681.9 136,681.2 134.6,679 135.5,677 135.2,676 130,674.2 127,669 126.8,668 128,666 127.3,664 125,663.8 123,666 121,665.3 119.3,663 119.8,661 122,658.2 127.2,655 128.5,650 131,646 133.3,639 137,636.9 144,637.4 146,634.7 151,635.3 153.1,641 156,645.3 157,646.3 160,646.6 162,647.7 165,651.1 168.9,654 169.3,656 167.4,658 173.3,668 172.8,671 170,672.7 167,672.4 163,670.4 158.5,676 155.2,684 153,686.4ZM254,689.1 252,688 248,689.1 240.2,688 238.8,682 237,681 233,680.2 229,678 226.3,675 225.1,672 225.6,670 229,668.5 230.5,664 234,659.5 235,654.1 240,654.2 243,652.5 246,652.8 252,648.1 259,649.9 260.4,651 261.5,653 260.5,658 262,662.4 262,686.4 258,688.6 254,689.1ZM38,677.6 37,678 37,649.8 39,650.4 40.8,652 41.5,660 43,661.1 47.5,662 48.2,664 44,670.4 38,677.6ZM122,653.6 121.4,653 122,652.4 122,653.6ZM255,694.3 253,694.1 252.1,693 254,692.7 255,689.8 258.3,693 255,694.3ZM251,693.1 250,693 249.6,692 251.9,693 251,693.1ZM136,771 108.7,771 104,768.7 102,766.6 100.9,764 102.6,761 100.7,756 101.7,750 101,747 102,745.9 105,748.8 108,749.4 109.3,749 109.4,745 108.3,740 110,735.2 114,738.3 121,741.2 123,741.6 127,740.6 129,741.3 132,744 136.7,751 142.2,754 144.4,756 141.4,762 146,768 146.6,770 146,770.8 141,766.6 139,766.4 137.4,768 136.7,771 136,771Z"/>
<path fill-rule="evenodd" fill="#88cc3c" d="M164,575 161,574.9 160,574 158.3,570 157,569.3 149,567.8 148.5,566 151,564 151.2,563 150,561.7 147,561.6 144.8,557 147.2,551 150.7,547 183.6,547 181.1,552 183,554.3 183.2,556 182,559 179.6,560 180.8,563 180,565.9 178,567.6 174,567.1 173.7,571 169,573.2 167,573 165,569.5 163.4,569 163,570 164.7,573 164,575ZM49,588.1 47,588.3 43,586.9 41,585.7 39.8,584 38.2,580 39.2,576 37,571.5 37,564 37,560 40.1,561 41,556 49,552.9 52.1,557 58.8,559 61,563.3 65,563.5 68,567 68.6,569 67.8,574 64,574.5 62.6,576 62.9,582 54,587.3 51,587.1 49,588.1ZM159.9,565 159,564.5 157.6,565 159,565.5 159.9,565ZM148,684.2 145.9,683 144,675.7 139,675.8 134.3,671 133,667.9 130.9,667 129.4,663 127,661.9 124,662 123,661.2 123.4,660 129,657 130.1,653 132,650.9 132.1,647 132.7,645 134.4,643 134.7,640 138,638.4 140.2,639 142,641 147,637.8 149.6,638 151.2,642 156,647.4 158,648.8 162,649.9 165.8,654 163.8,655 170.9,667 171,669 169,671 166.2,670 164.8,668 161,668.3 160.6,671 156,677.6 152.8,679 152.2,682 151.2,683 148,684.2ZM37,676.4 37,651.3 39.1,653 38.7,658 41,661.6 42,662.4 45.9,663 46.4,664 45,667.1 40,672 37,676.4ZM245,687.1 243,687.1 241.1,686 240.6,684 241,680.5 232,678.4 229.3,677 227.6,674 227.4,671 230,670.1 230.9,669 232.1,664 235,661.5 237.2,661 237.6,660 236.5,657 237,656.2 240,656.8 241,656 241.5,657 240.4,658 240.7,659 243,659.9 244.9,658 243,655.9 243,654.6 247,654.2 252,651.2 255,654.1 256.2,654 258,652.1 259,652.2 259.9,654 259.1,656 259.5,662 262,664 261.5,672 262.1,675 262,684.5 257,686.9 253,685.7 245,687.1ZM122,663.4 122,662.7 122,663.4ZM135,771 110.3,771 109,769.4 105.6,768 103.4,766 103,765 104.4,763 102.4,757 102.4,753 105,751.1 110,752 111.9,751 112.5,748 110.5,741 111,739.8 122,742.4 127,741.8 129,742.3 131,744.2 133.1,748 132.8,749 130.9,750 131,751.3 140.9,755 141.2,757 139.3,761 139,764 137,766.1 135.7,771 135,771Z"/>
<path fill-rule="evenodd" fill="#a4dc32" d="M170,568.5 164,565.7 160.5,563 154,562.5 150,558.8 148,558 147.2,556 147.7,553 152.2,547 181.3,547 181,549 178.6,551 177.5,553 178.9,556 176.9,561 178.4,564 173,565.7 170,568.5ZM45,585.3 44,585.7 42,585 40,582.5 39.6,581 40.6,577 37.9,570 42,562.6 42.5,558 45,556.1 47,555.8 53,558.7 57.7,560 59.7,565 65.6,568 66.5,570 65.9,572 63,573.3 61.2,576 60.7,578 61.5,581 61,581.6 53,584.8 51,584.5 48,582.3 47,582.3 45.6,583 45,585.3ZM155,676.1 152,676.6 147,675.2 142.1,671 141,668.1 140,667.6 138.8,668 137,670.3 128.8,660 130.2,658 131.2,654 134.3,651 134,647 136.4,645 137,641.8 142,644.5 143,643.9 145,640.3 148,639.6 156,649.1 159.9,652 161,656.7 164,658 165,659.2 165.7,663 164.2,665 159.9,667 159.4,670 155,676.1ZM258,685.1 257,685.3 254,684 248,684.3 243,685.8 242,685 242,683.8 245.6,680 244.3,678 242,677 239,677.5 238,676 238,674.4 237,674 236,674.5 235,677.3 231,676.8 229.5,675 229,672 233.2,670 233,665.1 236,663.6 240,663 245.3,661 246.8,659 247.4,656 250,654.1 257,656.3 257.7,658 256.7,661 257,663 262,664.9 262,666 262,669.7 260.2,672 262,673.9 262,681.5 258,685.1ZM37,674.7 37,659.6 39,661.1 41,664.8 43.3,665 43.6,666 38.4,671 37,674.7ZM140,673.4 139.4,673 140,672.4 140.5,673 140,673.4ZM149,681.5 148,681.5 147,680 147.5,679 149,678.5 150.3,680 149,681.5ZM134,771 131,769.5 127.5,771 121.9,771 121,769.4 120,769.1 117,771 112,771 106.3,762 105.4,759 103.9,757 103.5,754 105,752.7 107,752.7 108,753 110,755.8 111,755.3 116.1,749 116.4,747 115.1,745 118,743.3 127,742.8 129,743.4 131.1,747 129,749 128.6,751 130,753.1 133.6,755 135.3,766 134,771Z"/>
<path fill-rule="evenodd" fill="#c4e82a" d="M171,565.3 170,565.5 167,563.9 164,563.9 160,562 155,561.2 152.9,560 149.3,554 149.9,552 154,547 158,548.7 160,548.1 160.7,547 175.9,547 176.9,549 175,552 176.7,555 176.7,558 174,563.4 171,565.3ZM43,583.4 42,583.4 40.9,582 42,578 39.8,571 40.2,569 41.9,567 44,559.1 47,557.3 57,560.7 57.7,562 57.8,566 62.7,570 59.5,576 59.7,580 54,581.6 48,580.5 45,581.5 43,583.4ZM154,675 152,675.2 147,673.6 143.1,670 141,666.6 137,666.9 136,666.2 130.9,660 132.6,654 138.6,650 139.7,647 143.3,646 145.8,641 147,640.5 158,652.5 159.3,657 164,660 162.8,664 158.5,666 156.3,673 154,675ZM259,682.1 257,682.9 250,682.7 246.6,678 237,671 235.1,667 238,664.8 250,661.5 249.1,658 250,656.4 253,657.7 254.3,659 255.7,664 262,666 262,668.5 260,669.9 259.2,672 259.9,674 262,675 262,679.1 259,682.1ZM38,669.2 37,669.8 37,661.6 38.8,664 39.2,667 38,669.2ZM233,676.3 230.7,675 230.6,673 233.6,673 234,675 233,676.3ZM115,770.3 113,769.6 111.1,767 108.1,762 108,759.6 112.4,756 114.5,752 118,749 119.2,745 122,744 128,744.5 128.9,746 127,750 131.8,758 133,764 132.7,766 128.3,769 125,769.6 124.6,767 123,766.2 115,770.3Z"/>
<path fill-rule="evenodd" fill="#e0f026" d="M172,562.2 171,562.7 163,562.2 157.3,560 154.3,558 152.1,555 151.4,554 151.7,552 155,549.6 158,550.3 160,549.8 162,547 174.4,547 174.9,549 173.5,552 175.8,557 175,558.9 172.3,561 172,562.2ZM55,579.1 53,579.9 49,578.3 45,579.8 43.9,579 41.6,570 43.3,568 45,561 46,560.3 48,560.3 49,563 51,564.9 51.8,562 53,561.1 55,561.1 56.3,562 54.9,566 55.6,568 52.5,572 50.1,574 51,574.7 54,574.4 57,575.2 57.9,577 57.6,578 55,579.1ZM59,573.1 55.4,569 56,568.4 58.9,569 60.2,570 60.2,572 59,573.1ZM154,673.3 152,673.6 147,671.4 144,669.4 141,665.4 137,665.2 135,661.9 132.8,660 133.6,655 139.9,651 142,648.3 145,647.6 146,643 147,641.9 148.2,643 149.4,646 146,650 146.5,653 147.6,655 152,658.2 156,656.4 161.8,661 160,663.9 157,663.6 155.8,666 154.4,667 155.4,671 154,673.3ZM253,681 251,680.7 245,674.2 239,670.9 237.8,669 239.4,666 246,663.8 250,665.8 258,666.1 260.1,667 258.1,673 261,677 260.4,679 258,680.7 253,681ZM37,668 37,664.1 37.5,667 37,668ZM117,767.3 115,767.9 114,767.3 112.7,765 109.6,762 109.4,760 113.5,757 115.8,752 119.3,750 120.5,746 122,745.2 125,745.6 126.1,747 125.1,750 130.7,759 131.5,764 130,766 128,766.8 124,764.2 117,767.3Z"/>
<path fill-rule="evenodd" fill="#f4f422" d="M170,560.1 166,560.8 160,560.2 154,555 153,553 155,551.4 160,552.7 163.9,547 172,547.2 172,553 174.4,557 170,560.1ZM48,572.1 46.1,571 45.2,569 46,565 47,564.2 49,565.4 51.6,569 50.6,571 48,572.1ZM148,669.1 145,668.3 142,664.7 138,663.8 135.3,657 139,653.1 141.5,652 143,650.3 144.7,654 149,658.2 154.9,661 154.6,664 152.4,666 151.4,668 148,669.1ZM157,661.1 157,660.6 157.5,661 157,661.1ZM254,679 252.6,679 251.6,678 252,675.1 250,675.8 248,674.9 245,671.1 243,669.8 242,668 243,667.7 245,669.6 249,667.4 257,668 257.6,669 257.1,674 259,678 258,678.9 254,679ZM118,765.2 114.7,763 111.6,762 110.7,761 111.2,760 113,758.8 115,759 116,758 115.5,755 117,752.2 122,751.6 125,752.2 126,753 126.9,757 130,760.2 130.5,762 130,763.7 128,764.7 125,763 123,762.9 120,763.7 118,765.2Z"/>
</g>
<line x1="172.5" y1="557" x2="260" y2="656" stroke="#fff" stroke-width="2.6" stroke-dasharray="5.5 4"/>
<line x1="150" y1="768" x2="260" y2="662.5" stroke="#fff" stroke-width="2.6" stroke-dasharray="5.5 4"/>
<line x1="157.5" y1="768" x2="260" y2="670" stroke="#fff" stroke-width="2.6" stroke-dasharray="5.5 4"/>
<text x="218.5" y="761.5" font-family="'Liberation Serif', 'Times New Roman', serif" font-size="17" fill="#e8e8f8" text-anchor="start" font-weight="normal" >0.1 T</text>
</g>
<rect x="271" y="606.5" width="17" height="139.5" fill="url(#cbD)"/>
<text x="278.3" y="602.3" font-family="'Liberation Sans', Arial, sans-serif" font-size="16" fill="#111" text-anchor="middle" font-weight="normal" >1.35</text>
<text x="279" y="761" font-family="'Liberation Sans', Arial, sans-serif" font-size="17" fill="#111" text-anchor="middle" font-weight="normal" >0</text>
<text x="-0.1" y="570.4" font-family="'Liberation Sans', Arial, sans-serif" font-size="20" fill="#1a1a1a" stroke="#1a1a1a" stroke-width="0.3"><tspan font-size="23">(</tspan>d<tspan font-size="23">)</tspan></text>
<g clip-path="url(#clipEfill)">
<rect x="344.2" y="298" width="165.6" height="4.6" fill="url(#es0)"/>
<rect x="344.2" y="302" width="165.6" height="4.6" fill="url(#es1)"/>
<rect x="344.2" y="306" width="165.6" height="4.6" fill="url(#es2)"/>
<rect x="344.2" y="310" width="165.6" height="4.6" fill="url(#es3)"/>
<rect x="344.2" y="314" width="165.6" height="4.6" fill="url(#es4)"/>
<rect x="344.2" y="318" width="165.6" height="4.6" fill="url(#es5)"/>
<rect x="344.2" y="322" width="165.6" height="4.6" fill="url(#es6)"/>
<rect x="344.2" y="326" width="165.6" height="4.6" fill="url(#es7)"/>
<rect x="344.2" y="330" width="165.6" height="4.6" fill="url(#es8)"/>
<rect x="344.2" y="334" width="165.6" height="4.6" fill="url(#es9)"/>
<rect x="344.2" y="338" width="165.6" height="4.6" fill="url(#es10)"/>
<rect x="344.2" y="342" width="165.6" height="4.6" fill="url(#es11)"/>
<rect x="344.2" y="346" width="165.6" height="4.6" fill="url(#es12)"/>
<rect x="344.2" y="350" width="165.6" height="4.6" fill="url(#es13)"/>
<rect x="344.2" y="354" width="165.6" height="4.6" fill="url(#es14)"/>
<rect x="344.2" y="358" width="165.6" height="4.6" fill="url(#es15)"/>
<rect x="344.2" y="362" width="165.6" height="4.6" fill="url(#es16)"/>
<rect x="344.2" y="366" width="165.6" height="4.6" fill="url(#es17)"/>
<rect x="344.2" y="370" width="165.6" height="4.6" fill="url(#es18)"/>
<rect x="344.2" y="374" width="165.6" height="4.6" fill="url(#es19)"/>
<rect x="344.2" y="378" width="165.6" height="4.6" fill="url(#es20)"/>
<rect x="344.2" y="382" width="165.6" height="4.6" fill="url(#es21)"/>
<rect x="344.2" y="386" width="165.6" height="4.6" fill="url(#es22)"/>
<rect x="344.2" y="390" width="165.6" height="4.6" fill="url(#es23)"/>
<rect x="344.2" y="394" width="165.6" height="4.6" fill="url(#es24)"/>
<rect x="344.2" y="398" width="165.6" height="4.6" fill="url(#es25)"/>
<rect x="344.2" y="402" width="165.6" height="4.6" fill="url(#es26)"/>
<rect x="344.2" y="406" width="165.6" height="4.6" fill="url(#es27)"/>
<rect x="344.2" y="410" width="165.6" height="4.6" fill="url(#es28)"/>
<rect x="344.2" y="414" width="165.6" height="4.6" fill="url(#es29)"/>
<rect x="344.2" y="418" width="165.6" height="4.6" fill="url(#es30)"/>
<rect x="344.2" y="422" width="165.6" height="4.6" fill="url(#es31)"/>
<rect x="344.2" y="426" width="165.6" height="4.6" fill="url(#es32)"/>
<rect x="344.2" y="430" width="165.6" height="4.6" fill="url(#es33)"/>
<rect x="344.2" y="434" width="165.6" height="4.6" fill="url(#es34)"/>
<rect x="344.2" y="438" width="165.6" height="4.6" fill="url(#es35)"/>
<rect x="344.2" y="442" width="165.6" height="4.6" fill="url(#es36)"/>
<rect x="344.2" y="446" width="165.6" height="4.6" fill="url(#es37)"/>
<rect x="344.2" y="450" width="165.6" height="4.6" fill="url(#es38)"/>
<rect x="344.2" y="454" width="165.6" height="4.6" fill="url(#es39)"/>
<rect x="344.2" y="458" width="165.6" height="4.6" fill="url(#es40)"/>
<rect x="344.2" y="462" width="165.6" height="4.6" fill="url(#es41)"/>
<rect x="344.2" y="466" width="165.6" height="4.6" fill="url(#es42)"/>
<rect x="344.2" y="470" width="165.6" height="4.6" fill="url(#es43)"/>
<rect x="344.2" y="474" width="165.6" height="4.6" fill="url(#es44)"/>
<rect x="344.2" y="478" width="165.6" height="4.6" fill="url(#es45)"/>
<rect x="344.2" y="482" width="165.6" height="4.6" fill="url(#es46)"/>
<rect x="344.2" y="486" width="165.6" height="4.6" fill="url(#es47)"/>
<rect x="344.2" y="490" width="165.6" height="4.6" fill="url(#es48)"/>
<rect x="344.2" y="494" width="165.6" height="4.6" fill="url(#es49)"/>
<rect x="344.2" y="498" width="165.6" height="4.6" fill="url(#es50)"/>
<rect x="344.2" y="502" width="165.6" height="4.6" fill="url(#es51)"/>
<rect x="344.2" y="506" width="165.6" height="4.6" fill="url(#es52)"/>
<rect x="344.2" y="510" width="165.6" height="4.6" fill="url(#es53)"/>
<rect x="344.2" y="514" width="165.6" height="4.6" fill="url(#es54)"/>
<rect x="344.2" y="518" width="165.6" height="4.6" fill="url(#es55)"/>
<rect x="344.2" y="522" width="165.6" height="4.6" fill="url(#es56)"/>
<rect x="344.2" y="526" width="165.6" height="4.6" fill="url(#es57)"/>
<rect x="344.2" y="530" width="165.6" height="4.6" fill="url(#es58)"/>
<rect x="344.2" y="534" width="165.6" height="4.6" fill="url(#es59)"/>
<rect x="344.2" y="538" width="165.6" height="4.6" fill="url(#es60)"/>
<rect x="344.2" y="542" width="165.6" height="4.6" fill="url(#es61)"/>
<rect x="344.2" y="546" width="165.6" height="4.6" fill="url(#es62)"/>
<rect x="344.2" y="550" width="165.6" height="4.6" fill="url(#es63)"/>
<rect x="344.2" y="554" width="165.6" height="4.6" fill="url(#es64)"/>
<rect x="344.2" y="558" width="165.6" height="4.6" fill="url(#es65)"/>
<rect x="344.2" y="562" width="165.6" height="4.6" fill="url(#es66)"/>
<rect x="344.2" y="566" width="165.6" height="4.6" fill="url(#es67)"/>
<rect x="344.2" y="570" width="165.6" height="4.6" fill="url(#es68)"/>
<rect x="344.2" y="574" width="165.6" height="4.6" fill="url(#es69)"/>
<rect x="344.2" y="578" width="165.6" height="4.6" fill="url(#es70)"/>
<rect x="344.2" y="582" width="165.6" height="4.6" fill="url(#es71)"/>
<rect x="344.2" y="586" width="165.6" height="4.6" fill="url(#es72)"/>
<rect x="344.2" y="590" width="165.6" height="4.6" fill="url(#es73)"/>
<rect x="344.2" y="594" width="165.6" height="4.6" fill="url(#es74)"/>
<rect x="344.2" y="598" width="165.6" height="4.6" fill="url(#es75)"/>
<rect x="344.2" y="602" width="165.6" height="4.6" fill="url(#es76)"/>
<rect x="344.2" y="606" width="165.6" height="4.6" fill="url(#es77)"/>
<rect x="344.2" y="610" width="165.6" height="4.6" fill="url(#es78)"/>
<rect x="344.2" y="614" width="165.6" height="4.6" fill="url(#es79)"/>
<rect x="344.2" y="618" width="165.6" height="4.6" fill="url(#es80)"/>
<rect x="344.2" y="622" width="165.6" height="4.6" fill="url(#es81)"/>
<rect x="344.2" y="626" width="165.6" height="4.6" fill="url(#es82)"/>
<rect x="344.2" y="630" width="165.6" height="4.6" fill="url(#es83)"/>
<rect x="344.2" y="634" width="165.6" height="4.6" fill="url(#es84)"/>
<rect x="344.2" y="638" width="165.6" height="4.6" fill="url(#es85)"/>
<rect x="344.2" y="642" width="165.6" height="4.6" fill="url(#es86)"/>
<rect x="344.2" y="646" width="165.6" height="4.6" fill="url(#es87)"/>
<rect x="344.2" y="650" width="165.6" height="4.6" fill="url(#es88)"/>
<rect x="344.2" y="654" width="165.6" height="4.6" fill="url(#es89)"/>
<rect x="344.2" y="658" width="165.6" height="4.6" fill="url(#es90)"/>
<rect x="344.2" y="662" width="165.6" height="4.6" fill="url(#es91)"/>
<rect x="344.2" y="666" width="165.6" height="4.6" fill="url(#es92)"/>
<rect x="344.2" y="670" width="165.6" height="4.6" fill="url(#es93)"/>
<rect x="344.2" y="674" width="165.6" height="4.6" fill="url(#es94)"/>
<rect x="344.2" y="678" width="165.6" height="4.6" fill="url(#es95)"/>
<rect x="344.2" y="682" width="165.6" height="4.6" fill="url(#es96)"/>
<rect x="344.2" y="686" width="165.6" height="4.6" fill="url(#es97)"/>
<rect x="344.2" y="690" width="165.6" height="4.6" fill="url(#es98)"/>
<rect x="344.2" y="694" width="165.6" height="4.6" fill="url(#es99)"/>
<rect x="344.2" y="698" width="165.6" height="4.6" fill="url(#es100)"/>
<rect x="344.2" y="702" width="165.6" height="4.6" fill="url(#es101)"/>
<rect x="344.2" y="706" width="165.6" height="4.6" fill="url(#es102)"/>
<rect x="344.2" y="710" width="165.6" height="4.6" fill="url(#es103)"/>
<rect x="344.2" y="714" width="165.6" height="4.6" fill="url(#es104)"/>
<rect x="344.2" y="718" width="165.6" height="4.6" fill="url(#es105)"/>
<rect x="344.2" y="722" width="165.6" height="4.6" fill="url(#es106)"/>
<rect x="344.2" y="726" width="165.6" height="4.6" fill="url(#es107)"/>
<rect x="344.2" y="730" width="165.6" height="4.6" fill="url(#es108)"/>
<rect x="344.2" y="734" width="165.6" height="4.6" fill="url(#es109)"/>
<rect x="344.2" y="738" width="165.6" height="4.6" fill="url(#es110)"/>
</g>
<line x1="421.1" y1="473.7" x2="421.1" y2="479.5" stroke="#c4441a" stroke-width="2.5"/>
<line x1="432.9" y1="473.7" x2="432.9" y2="479.5" stroke="#c4441a" stroke-width="2.5"/>
<line x1="420.1" y1="491" x2="420.1" y2="501.4" stroke="#c4441a" stroke-width="2.5"/>
<line x1="433.9" y1="491" x2="433.9" y2="501.4" stroke="#c4441a" stroke-width="2.5"/>
<line x1="419.2" y1="513" x2="419.2" y2="522" stroke="#c4441a" stroke-width="2.5"/>
<line x1="434.8" y1="513" x2="434.8" y2="522" stroke="#c4441a" stroke-width="2.5"/>
<line x1="418.3" y1="531.3" x2="418.3" y2="542.3" stroke="#c4441a" stroke-width="2.5"/>
<line x1="435.7" y1="531.3" x2="435.7" y2="542.3" stroke="#c4441a" stroke-width="2.5"/>
<line x1="417.4" y1="553.7" x2="417.4" y2="564.7" stroke="#c4441a" stroke-width="2.5"/>
<line x1="436.6" y1="553.7" x2="436.6" y2="564.7" stroke="#c4441a" stroke-width="2.5"/>
<line x1="416.4" y1="576.6" x2="416.4" y2="587.6" stroke="#c4441a" stroke-width="2.5"/>
<line x1="437.6" y1="576.6" x2="437.6" y2="587.6" stroke="#c4441a" stroke-width="2.5"/>
<line x1="415.5" y1="598" x2="415.5" y2="609" stroke="#c4441a" stroke-width="2.5"/>
<line x1="438.5" y1="598" x2="438.5" y2="609" stroke="#c4441a" stroke-width="2.5"/>
<line x1="414.6" y1="619" x2="414.6" y2="630" stroke="#c4441a" stroke-width="2.5"/>
<line x1="439.4" y1="619" x2="439.4" y2="630" stroke="#c4441a" stroke-width="2.5"/>
<line x1="413.7" y1="640.8" x2="413.7" y2="651.8" stroke="#c4441a" stroke-width="2.5"/>
<line x1="440.3" y1="640.8" x2="440.3" y2="651.8" stroke="#c4441a" stroke-width="2.5"/>
<line x1="412.7" y1="661.4" x2="412.7" y2="672.4" stroke="#c4441a" stroke-width="2.5"/>
<line x1="441.3" y1="661.4" x2="441.3" y2="672.4" stroke="#c4441a" stroke-width="2.5"/>
<line x1="411.8" y1="685.8" x2="411.8" y2="690.8" stroke="#c4441a" stroke-width="2.5"/>
<line x1="442.2" y1="685.8" x2="442.2" y2="690.8" stroke="#c4441a" stroke-width="2.5"/>
<path d="M344.2,334 L344.8,336.3 L345.3,337.2 L345.9,336 L346.4,336.8 L347,336.4 L347.5,335.6 L348.1,334.3 L348.6,334.9 L349.2,335.3 L349.7,334.8 L350.3,335.3 L350.8,334.6 L351.4,335.8 L351.9,335.8 L352.5,334.8 L353,334.5 L353.6,335.6 L354.1,334.2 L354.7,333.7 L355.2,336.3 L355.8,336.3 L356.3,334.3 L356.9,333.4 L357.4,334.4 L358,335.3 L358.6,335.3 L359.1,335.6 L359.7,334 L360.2,334.1 L360.8,334 L361.3,332.4 L361.9,333.2 L362.4,335 L363,335.1 L363.5,334.2 L364.1,335.2 L364.6,332.6 L365.2,332.5 L365.7,332.8 L366.3,333.5 L366.8,333.6 L367.4,334.1 L367.9,334 L368.5,335.2 L369,332.5 L369.6,332.9 L370.1,334 L370.7,332.8 L371.2,335.1 L371.8,333.1 L372.4,333.2 L372.9,333 L373.5,333.2 L374,334.4 L374.6,334.8 L375.1,333.9 L375.7,335.6 L376.2,334.5 L376.8,333.4 L377.3,333.4 L377.9,334.4 L378.4,334.7 L379,334.1 L379.5,332.5 L380.1,333 L380.6,334.9 L381.2,335.4 L381.7,335.2 L382.3,332.6 L382.8,332.1 L383.4,334.2 L383.9,333.9 L384.5,334 L385,336.3 L385.6,334.4 L386.2,334.9 L386.7,333.4 L387.3,334.7 L387.8,333.7 L388.4,335.2 L388.9,335.2 L389.5,333.4 L390,335.5 L390.6,335.9 L391.1,335.5 L391.7,335.1 L392.2,334.9 L392.8,334.2 L393.3,333.4 L393.9,333.2 L394.4,335.6 L395,337.2 L395.5,335.6 L396.1,337.1 L396.6,335.6 L397.2,335.2 L397.7,335.3 L398.3,334.7 L398.8,332.4 L399.4,332.9 L400,333.4 L400.5,332.3 L401.1,335.1 L401.6,335.4 L402.2,335.4 L402.7,336.1 L403.3,336.3 L403.8,336.6 L404.4,335.6 L404.9,335.4 L405.5,336.9 L406,336.8 L406.6,336.4 L407.1,337.2 L407.7,337.4 L408.2,340.4 L408.8,339.9 L409.3,337.8 L409.9,339.3 L410.4,339.3 L411,342.5 L411.5,340 L412.1,340.1 L412.6,340.9 L413.2,340.4 L413.8,342.5 L414.3,341.4 L414.9,340.9 L415.4,339.1 L416,335.3 L416.5,334.1 L417.1,335 L417.6,333.1 L418.2,329.3 L418.7,328 L419.3,325.5 L419.8,325.4 L420.4,324.6 L420.9,322.5 L421.5,319.1 L422,318.2 L422.6,318.1 L423.1,316.1 L423.7,316.4 L424.2,312.8 L424.8,310.8 L425.3,310.6 L425.9,308.6 L426.4,307 L427,307.6 L427.6,307.3 L428.1,309 L428.7,310.4 L429.2,311.2 L429.8,312.4 L430.3,316.3 L430.9,316.2 L431.4,319 L432,319.5 L432.5,321 L433.1,322.3 L433.6,324.6 L434.2,324.7 L434.7,328.9 L435.3,327.9 L435.8,330.7 L436.4,332.9 L436.9,331.9 L437.5,334.9 L438,336.8 L438.6,336.6 L439.1,339.3 L439.7,339.9 L440.2,341.3 L440.8,343.3 L441.4,341.9 L441.9,340.7 L442.5,339.7 L443,338.5 L443.6,338.9 L444.1,339.1 L444.7,339.2 L445.2,337.8 L445.8,339.3 L446.3,337.8 L446.9,336.7 L447.4,336.8 L448,337.9 L448.5,337.8 L449.1,338.7 L449.6,337.6 L450.2,338.1 L450.7,338.5 L451.3,336.2 L451.8,336.6 L452.4,336.2 L452.9,336.9 L453.5,335.9 L454,337.6 L454.6,336.8 L455.2,335.3 L455.7,336.4 L456.3,335.7 L456.8,336.2 L457.4,337.5 L457.9,337.2 L458.5,334.2 L459,335.4 L459.6,335.2 L460.1,335.6 L460.7,334.9 L461.2,335 L461.8,333.4 L462.3,334.6 L462.9,333.8 L463.4,334.6 L464,334.4 L464.5,335.7 L465.1,335.8 L465.6,334.2 L466.2,337.3 L466.7,334.8 L467.3,333.9 L467.8,332.9 L468.4,331.7 L469,332.4 L469.5,333.3 L470.1,334.1 L470.6,332.3 L471.2,331.9 L471.7,332.7 L472.3,332.4 L472.8,332.1 L473.4,333 L473.9,332.8 L474.5,334.3 L475,333.8 L475.6,330.8 L476.1,332.1 L476.7,333 L477.2,334.1 L477.8,332.5 L478.3,332.8 L478.9,334.4 L479.4,334.6 L480,333.7 L480.5,332.1 L481.1,334.2 L481.6,332.9 L482.2,332.5 L482.8,333.4 L483.3,334.3 L483.9,333.1 L484.4,332.7 L485,333.9 L485.5,334.9 L486.1,332 L486.6,333 L487.2,335.3 L487.7,333.1 L488.3,330.9 L488.8,333.4 L489.4,332.1 L489.9,331.3 L490.5,332.9 L491,332.4 L491.6,332.1 L492.1,332.2 L492.7,333.5 L493.2,333.2 L493.8,334.4 L494.3,333.3 L494.9,332.5 L495.4,333.9 L496,333.6 L496.6,330.7 L497.1,332.8 L497.7,332.4 L498.2,333 L498.8,333.5 L499.3,335.7 L499.9,335.1 L500.4,333.4 L501,331.7 L501.5,331.3 L502.1,332 L502.6,332.7 L503.2,332 L503.7,331.7 L504.3,333.6 L504.8,331.7 L505.4,332.7 L505.9,331.3 L506.5,332.2 L507,331.5 L507.6,332.1 L508.1,331 L508.7,330.2 L509.2,332 L509.8,331.6" fill="none" stroke="#111" stroke-width="1.45" stroke-linejoin="round"/>
<path d="M344.2,359.3 L344.8,357.1 L345.3,356.8 L345.9,356.4 L346.4,356.3 L347,355.1 L347.5,354.5 L348.1,355.4 L348.6,353.3 L349.2,355.7 L349.7,355.8 L350.3,354.7 L350.8,355 L351.4,354.1 L351.9,354.1 L352.5,355.9 L353,355.8 L353.6,357.6 L354.1,358.2 L354.7,356.1 L355.2,355.5 L355.8,356.1 L356.3,352.7 L356.9,352.8 L357.4,354.1 L358,354.8 L358.6,354.7 L359.1,354.8 L359.7,355.4 L360.2,354.8 L360.8,355.3 L361.3,355 L361.9,354 L362.4,353.6 L363,353.7 L363.5,355.2 L364.1,355.3 L364.6,357.2 L365.2,356.2 L365.7,357.2 L366.3,354.6 L366.8,355 L367.4,354 L367.9,355.2 L368.5,356.3 L369,355.2 L369.6,355.2 L370.1,356.2 L370.7,357.4 L371.2,354.6 L371.8,353.9 L372.4,354.4 L372.9,354.8 L373.5,354.5 L374,355.5 L374.6,355.8 L375.1,354.4 L375.7,356.4 L376.2,354 L376.8,355.2 L377.3,355.7 L377.9,357 L378.4,354.8 L379,355 L379.5,355.7 L380.1,356 L380.6,355.3 L381.2,356.6 L381.7,353.9 L382.3,353.8 L382.8,354.7 L383.4,353.8 L383.9,353.5 L384.5,356.5 L385,356 L385.6,353.2 L386.2,356.1 L386.7,356.6 L387.3,354.8 L387.8,356.4 L388.4,354.1 L388.9,354.7 L389.5,355.5 L390,356.2 L390.6,356.3 L391.1,355.8 L391.7,355.1 L392.2,357.4 L392.8,356.7 L393.3,355.2 L393.9,355.4 L394.4,357.4 L395,356.8 L395.5,355.2 L396.1,355.8 L396.6,357 L397.2,354.4 L397.7,355.4 L398.3,357 L398.8,355.9 L399.4,358.1 L400,355.7 L400.5,354.9 L401.1,355.2 L401.6,356.7 L402.2,356.5 L402.7,356.3 L403.3,357.2 L403.8,356.8 L404.4,358 L404.9,358.9 L405.5,358.7 L406,357.9 L406.6,360 L407.1,360.3 L407.7,361.5 L408.2,362.2 L408.8,361.7 L409.3,363.1 L409.9,362.7 L410.4,364.1 L411,363.2 L411.5,365.7 L412.1,365.6 L412.6,364.4 L413.2,366.2 L413.8,366.2 L414.3,367.8 L414.9,365.5 L415.4,365.6 L416,362.3 L416.5,358.8 L417.1,357.9 L417.6,356.4 L418.2,354.7 L418.7,350.7 L419.3,349.7 L419.8,348.1 L420.4,347.2 L420.9,345.7 L421.5,344.2 L422,342.9 L422.6,340.7 L423.1,339.8 L423.7,337.2 L424.2,335.6 L424.8,335 L425.3,333.3 L425.9,331.2 L426.4,332.4 L427,328 L427.6,328.8 L428.1,332.9 L428.7,334.2 L429.2,335.2 L429.8,335.3 L430.3,335.9 L430.9,338.4 L431.4,340.2 L432,341.7 L432.5,343.5 L433.1,345.7 L433.6,344.7 L434.2,345.2 L434.7,348.1 L435.3,348.5 L435.8,349.7 L436.4,355.7 L436.9,356.8 L437.5,357.6 L438,360 L438.6,364 L439.1,365.3 L439.7,366.2 L440.2,366 L440.8,364.7 L441.4,365.1 L441.9,364.7 L442.5,366.7 L443,363.2 L443.6,361.5 L444.1,360.8 L444.7,362 L445.2,359.5 L445.8,360.6 L446.3,359.9 L446.9,359.2 L447.4,360.9 L448,357.8 L448.5,357.6 L449.1,355.7 L449.6,355.8 L450.2,357.1 L450.7,355.7 L451.3,356.2 L451.8,356.9 L452.4,356.2 L452.9,355.6 L453.5,355.4 L454,353.5 L454.6,355.2 L455.2,357.1 L455.7,357.9 L456.3,356.7 L456.8,355.8 L457.4,355.4 L457.9,354.7 L458.5,356.3 L459,356.3 L459.6,354.5 L460.1,353.4 L460.7,355.5 L461.2,356.5 L461.8,354.9 L462.3,355.3 L462.9,355.7 L463.4,356.3 L464,355.5 L464.5,354.2 L465.1,355.5 L465.6,354.7 L466.2,354.9 L466.7,355.3 L467.3,353 L467.8,354.9 L468.4,353.3 L469,353.8 L469.5,355.8 L470.1,355.6 L470.6,353.3 L471.2,352.5 L471.7,352 L472.3,353.1 L472.8,355.6 L473.4,354.3 L473.9,352.9 L474.5,353.3 L475,352.4 L475.6,353.7 L476.1,354.3 L476.7,352.6 L477.2,354.7 L477.8,355.8 L478.3,354.9 L478.9,353.3 L479.4,354.2 L480,352.3 L480.5,352.4 L481.1,355.1 L481.6,352 L482.2,351.9 L482.8,352.6 L483.3,353.3 L483.9,354.6 L484.4,354.4 L485,354.7 L485.5,354.1 L486.1,353.2 L486.6,351.6 L487.2,352.8 L487.7,352.2 L488.3,352.2 L488.8,353.3 L489.4,355.8 L489.9,355.2 L490.5,354.6 L491,352.6 L491.6,353.3 L492.1,353.4 L492.7,354 L493.2,354.5 L493.8,353.5 L494.3,353.7 L494.9,354.2 L495.4,354 L496,353.6 L496.6,350.1 L497.1,351.4 L497.7,352.4 L498.2,351.6 L498.8,351 L499.3,350.1 L499.9,353.1 L500.4,352.6 L501,352.3 L501.5,354.7 L502.1,353.2 L502.6,354.1 L503.2,353.8 L503.7,353.6 L504.3,351.2 L504.8,352.7 L505.4,353 L505.9,354.6 L506.5,356.9 L507,355.8 L507.6,354.7 L508.1,352 L508.7,353.1 L509.2,352.7 L509.8,351.3" fill="none" stroke="#111" stroke-width="1.45" stroke-linejoin="round"/>
<path d="M344.2,381.4 L344.8,380.5 L345.3,380 L345.9,378.2 L346.4,380.1 L347,379.2 L347.5,377.9 L348.1,377.4 L348.6,377.7 L349.2,376.1 L349.7,379 L350.3,378.5 L350.8,377.6 L351.4,376.9 L351.9,377.7 L352.5,379.1 L353,376.7 L353.6,378.1 L354.1,377.9 L354.7,378.7 L355.2,380.2 L355.8,379.2 L356.3,377.5 L356.9,377.6 L357.4,379.2 L358,378 L358.6,375.4 L359.1,378.1 L359.7,378.9 L360.2,378 L360.8,377.6 L361.3,378.3 L361.9,379.7 L362.4,381.7 L363,377.7 L363.5,376.9 L364.1,375.8 L364.6,378.9 L365.2,378.2 L365.7,377.1 L366.3,378.4 L366.8,376.2 L367.4,378.1 L367.9,377.5 L368.5,379.5 L369,379.2 L369.6,379.2 L370.1,377.8 L370.7,377.1 L371.2,379.5 L371.8,379.8 L372.4,377.3 L372.9,376.7 L373.5,378.6 L374,378.4 L374.6,378.3 L375.1,377.4 L375.7,379 L376.2,377.4 L376.8,379.7 L377.3,378.4 L377.9,378.2 L378.4,377.7 L379,375.6 L379.5,375.9 L380.1,376.5 L380.6,377.6 L381.2,378.3 L381.7,377.9 L382.3,378.2 L382.8,379.4 L383.4,379.9 L383.9,378.7 L384.5,377.2 L385,377.8 L385.6,379.3 L386.2,376.7 L386.7,376.9 L387.3,378.7 L387.8,379.2 L388.4,378.4 L388.9,378.6 L389.5,378.9 L390,377.6 L390.6,377.7 L391.1,380.1 L391.7,380 L392.2,379.3 L392.8,377.3 L393.3,378.2 L393.9,378.8 L394.4,378.1 L395,379.6 L395.5,381 L396.1,378.5 L396.6,378.6 L397.2,378.9 L397.7,378.6 L398.3,379.2 L398.8,379 L399.4,379.7 L400,379.8 L400.5,381.3 L401.1,381 L401.6,379.9 L402.2,380.2 L402.7,381.2 L403.3,380.9 L403.8,377.5 L404.4,379.4 L404.9,379.9 L405.5,380.8 L406,380.6 L406.6,380.1 L407.1,380 L407.7,383 L408.2,384.1 L408.8,383.6 L409.3,384.3 L409.9,384.1 L410.4,384.9 L411,387 L411.5,386.8 L412.1,386.1 L412.6,388.1 L413.2,389 L413.8,388.1 L414.3,387.4 L414.9,386.3 L415.4,385 L416,382.9 L416.5,383 L417.1,382.2 L417.6,378.3 L418.2,376 L418.7,373.4 L419.3,373.8 L419.8,372.1 L420.4,371.2 L420.9,370.9 L421.5,367.6 L422,363.1 L422.6,365.3 L423.1,363.7 L423.7,361.1 L424.2,361.8 L424.8,362.2 L425.3,360.9 L425.9,360.4 L426.4,359.6 L427,356.4 L427.6,356.6 L428.1,359 L428.7,359.9 L429.2,358.8 L429.8,362.5 L430.3,362.2 L430.9,365.9 L431.4,367.2 L432,367.7 L432.5,369.2 L433.1,368.2 L433.6,369.5 L434.2,373.4 L434.7,374.9 L435.3,375.8 L435.8,376.2 L436.4,377.8 L436.9,380.2 L437.5,382.1 L438,381.4 L438.6,383.7 L439.1,385.2 L439.7,384.2 L440.2,384.8 L440.8,386.6 L441.4,386.7 L441.9,387.7 L442.5,387.4 L443,386.7 L443.6,386.2 L444.1,387.5 L444.7,384.9 L445.2,382.3 L445.8,382.9 L446.3,384.5 L446.9,383.5 L447.4,382.7 L448,383.5 L448.5,382.1 L449.1,382.2 L449.6,380.5 L450.2,381 L450.7,381 L451.3,379 L451.8,377.6 L452.4,377.5 L452.9,378.4 L453.5,380.3 L454,379.3 L454.6,379.4 L455.2,378.6 L455.7,379 L456.3,379.4 L456.8,378.3 L457.4,378.6 L457.9,378.6 L458.5,378.2 L459,378.5 L459.6,378.6 L460.1,376.2 L460.7,380.3 L461.2,381.3 L461.8,378.7 L462.3,377.4 L462.9,378.1 L463.4,379.1 L464,378.6 L464.5,376.2 L465.1,377.6 L465.6,377.8 L466.2,378.8 L466.7,376.7 L467.3,377.4 L467.8,376.1 L468.4,376 L469,376.7 L469.5,377.9 L470.1,378 L470.6,375.4 L471.2,375 L471.7,376.1 L472.3,378 L472.8,377.1 L473.4,378.6 L473.9,375.2 L474.5,377 L475,377.5 L475.6,377.2 L476.1,377.7 L476.7,378.8 L477.2,376.6 L477.8,376.5 L478.3,376 L478.9,375.5 L479.4,377.9 L480,377.8 L480.5,376.3 L481.1,376.6 L481.6,377.6 L482.2,375.5 L482.8,376.4 L483.3,376.8 L483.9,375 L484.4,375.4 L485,375.4 L485.5,374.8 L486.1,375.9 L486.6,376.3 L487.2,375.9 L487.7,377.8 L488.3,377.5 L488.8,377.5 L489.4,377.6 L489.9,378.4 L490.5,376.8 L491,376.1 L491.6,374.9 L492.1,377.2 L492.7,376.7 L493.2,376.9 L493.8,377.1 L494.3,377 L494.9,378.2 L495.4,376.4 L496,375.4 L496.6,376 L497.1,375.6 L497.7,376.2 L498.2,377 L498.8,377.2 L499.3,378.1 L499.9,379 L500.4,375.4 L501,375.9 L501.5,376.9 L502.1,376 L502.6,376.3 L503.2,374.6 L503.7,376.5 L504.3,378.8 L504.8,376.3 L505.4,376.1 L505.9,377.6 L506.5,378.1 L507,379 L507.6,378.7 L508.1,377.7 L508.7,378.6 L509.2,375 L509.8,376" fill="none" stroke="#111" stroke-width="1.45" stroke-linejoin="round"/>
<path d="M344.2,398.7 L344.8,400 L345.3,400.8 L345.9,399.9 L346.4,399.7 L347,403.2 L347.5,401.8 L348.1,401 L348.6,399.5 L349.2,399.9 L349.7,401.2 L350.3,400.9 L350.8,402.2 L351.4,402.6 L351.9,399.3 L352.5,399 L353,401.6 L353.6,401 L354.1,401.7 L354.7,402.6 L355.2,402 L355.8,398.9 L356.3,401.3 L356.9,402.5 L357.4,400.6 L358,399.4 L358.6,399.4 L359.1,400.6 L359.7,400 L360.2,400.1 L360.8,399.4 L361.3,400.6 L361.9,399.2 L362.4,398.5 L363,401 L363.5,399.8 L364.1,399.9 L364.6,400.5 L365.2,400.3 L365.7,400.8 L366.3,401.6 L366.8,402.8 L367.4,402 L367.9,400.6 L368.5,399.3 L369,400.2 L369.6,400.8 L370.1,402.1 L370.7,399.6 L371.2,397.5 L371.8,398.9 L372.4,399.1 L372.9,397.6 L373.5,399.5 L374,400.3 L374.6,401 L375.1,400.5 L375.7,401.2 L376.2,400 L376.8,401.2 L377.3,401.8 L377.9,400.7 L378.4,399.8 L379,400.3 L379.5,402.6 L380.1,403.3 L380.6,402.5 L381.2,403.3 L381.7,401.8 L382.3,402.3 L382.8,401.6 L383.4,402.7 L383.9,402.1 L384.5,401 L385,401.7 L385.6,403.8 L386.2,402.4 L386.7,399.9 L387.3,400.5 L387.8,401.1 L388.4,401.1 L388.9,401.9 L389.5,400.7 L390,401.5 L390.6,402.1 L391.1,402.8 L391.7,400.6 L392.2,401.1 L392.8,400 L393.3,402.4 L393.9,402.5 L394.4,402.2 L395,402.2 L395.5,400.1 L396.1,401.9 L396.6,401.7 L397.2,403.9 L397.7,403.2 L398.3,404.8 L398.8,404.7 L399.4,402.1 L400,401.6 L400.5,401.9 L401.1,403.7 L401.6,404.9 L402.2,402.7 L402.7,402.6 L403.3,401.7 L403.8,405.1 L404.4,405.4 L404.9,407.9 L405.5,404.6 L406,404.5 L406.6,404.6 L407.1,406 L407.7,406.6 L408.2,408.1 L408.8,407.7 L409.3,407.7 L409.9,407.8 L410.4,409.1 L411,409.4 L411.5,410.3 L412.1,410.9 L412.6,412.7 L413.2,413.3 L413.8,411.2 L414.3,411.7 L414.9,410.3 L415.4,407.1 L416,405.7 L416.5,407.5 L417.1,405.1 L417.6,399.8 L418.2,398.9 L418.7,398.8 L419.3,396.4 L419.8,393.8 L420.4,393.8 L420.9,392.1 L421.5,393.2 L422,391.4 L422.6,386.5 L423.1,385.9 L423.7,383.9 L424.2,381 L424.8,381.2 L425.3,381 L425.9,378.4 L426.4,378.8 L427,377.3 L427.6,378.8 L428.1,381.6 L428.7,380.3 L429.2,381.6 L429.8,384.4 L430.3,385.2 L430.9,387 L431.4,387.2 L432,390 L432.5,392.6 L433.1,391.2 L433.6,392.7 L434.2,396 L434.7,397 L435.3,397.3 L435.8,398.9 L436.4,401 L436.9,403.6 L437.5,404.8 L438,404.5 L438.6,406.6 L439.1,407.8 L439.7,409.4 L440.2,410.1 L440.8,412.5 L441.4,412.8 L441.9,413.9 L442.5,411.9 L443,411 L443.6,407 L444.1,407.3 L444.7,406.3 L445.2,409.8 L445.8,408.2 L446.3,406.6 L446.9,403 L447.4,401.9 L448,403.3 L448.5,402.8 L449.1,399.4 L449.6,401.5 L450.2,401.2 L450.7,400.7 L451.3,402.8 L451.8,401.6 L452.4,400.6 L452.9,401.7 L453.5,401.5 L454,401.1 L454.6,401 L455.2,401.3 L455.7,399.2 L456.3,401.9 L456.8,400.8 L457.4,400.2 L457.9,401.3 L458.5,400.4 L459,401.5 L459.6,401 L460.1,401.6 L460.7,398.7 L461.2,398.6 L461.8,399.8 L462.3,400 L462.9,401 L463.4,401.1 L464,401.5 L464.5,400 L465.1,399 L465.6,400.7 L466.2,401.9 L466.7,399.8 L467.3,401.2 L467.8,400.5 L468.4,400.1 L469,402.2 L469.5,401.1 L470.1,400.1 L470.6,401.4 L471.2,397.4 L471.7,398.4 L472.3,399.4 L472.8,398.5 L473.4,397.5 L473.9,399.1 L474.5,398.8 L475,400.4 L475.6,398 L476.1,398.8 L476.7,398.7 L477.2,400.7 L477.8,400.2 L478.3,400.1 L478.9,398.2 L479.4,399.1 L480,397.9 L480.5,398.7 L481.1,400.1 L481.6,396.6 L482.2,400.3 L482.8,400.5 L483.3,397.3 L483.9,398.9 L484.4,398.3 L485,397.6 L485.5,399.5 L486.1,400.6 L486.6,399.6 L487.2,398.8 L487.7,400.2 L488.3,400.6 L488.8,399.1 L489.4,399.1 L489.9,399.7 L490.5,400 L491,397.3 L491.6,397.1 L492.1,397.3 L492.7,398.8 L493.2,397.8 L493.8,399.9 L494.3,400 L494.9,398.6 L495.4,399.3 L496,399.9 L496.6,399.1 L497.1,398.9 L497.7,396.5 L498.2,398.4 L498.8,395.1 L499.3,397.7 L499.9,399.4 L500.4,397 L501,397.7 L501.5,396.6 L502.1,398.9 L502.6,399 L503.2,400.1 L503.7,399.6 L504.3,399.1 L504.8,398.7 L505.4,397.1 L505.9,400.6 L506.5,399.1 L507,399.5 L507.6,397.7 L508.1,398.6 L508.7,398.5 L509.2,399.7 L509.8,398.1" fill="none" stroke="#111" stroke-width="1.45" stroke-linejoin="round"/>
<path d="M344.2,422.9 L344.8,422.7 L345.3,422.9 L345.9,424.7 L346.4,424.4 L347,423.4 L347.5,426.1 L348.1,423.8 L348.6,423.2 L349.2,423.8 L349.7,424.7 L350.3,422.8 L350.8,421.5 L351.4,423 L351.9,424.4 L352.5,423.8 L353,424.1 L353.6,423.1 L354.1,423.9 L354.7,423.2 L355.2,425.3 L355.8,425.5 L356.3,422.3 L356.9,423 L357.4,423.2 L358,423.1 L358.6,423 L359.1,424.5 L359.7,426.4 L360.2,426.7 L360.8,424.7 L361.3,425.2 L361.9,426.8 L362.4,426.1 L363,424 L363.5,424.1 L364.1,425.3 L364.6,424.7 L365.2,422.8 L365.7,423.1 L366.3,424.8 L366.8,423.1 L367.4,422.8 L367.9,423.5 L368.5,423.3 L369,422.6 L369.6,422.9 L370.1,423.3 L370.7,423.1 L371.2,423.8 L371.8,421.4 L372.4,424.4 L372.9,425.4 L373.5,424.4 L374,421.3 L374.6,422.7 L375.1,424.1 L375.7,425.3 L376.2,424.5 L376.8,423.9 L377.3,423.4 L377.9,424.3 L378.4,424.2 L379,422.4 L379.5,423.6 L380.1,425.7 L380.6,423.7 L381.2,425.5 L381.7,426.3 L382.3,425.3 L382.8,423.9 L383.4,425 L383.9,424 L384.5,423.6 L385,423.1 L385.6,423 L386.2,424.4 L386.7,424.2 L387.3,424.6 L387.8,424.5 L388.4,424.8 L388.9,423.8 L389.5,425.3 L390,423.6 L390.6,424.8 L391.1,424.3 L391.7,423.8 L392.2,424.1 L392.8,424.7 L393.3,423.6 L393.9,423.9 L394.4,425.9 L395,425 L395.5,424.4 L396.1,422.8 L396.6,423.6 L397.2,425.1 L397.7,424.7 L398.3,426.3 L398.8,425.4 L399.4,423.8 L400,425.9 L400.5,425 L401.1,423.1 L401.6,426.6 L402.2,428 L402.7,427.4 L403.3,426.8 L403.8,426 L404.4,427.1 L404.9,427.2 L405.5,428.5 L406,428.1 L406.6,428 L407.1,428.3 L407.7,428 L408.2,429.5 L408.8,433.6 L409.3,430.7 L409.9,427.8 L410.4,429 L411,432.1 L411.5,431.6 L412.1,431.5 L412.6,431.4 L413.2,430.9 L413.8,430.8 L414.3,433.5 L414.9,432 L415.4,429.5 L416,430.4 L416.5,429.1 L417.1,424.5 L417.6,422 L418.2,422.1 L418.7,422.3 L419.3,422.8 L419.8,421 L420.4,419.1 L420.9,418.5 L421.5,417.4 L422,414.2 L422.6,412.9 L423.1,412.6 L423.7,410.3 L424.2,409.4 L424.8,409.9 L425.3,409.8 L425.9,407.3 L426.4,404.9 L427,404.8 L427.6,406.4 L428.1,405.2 L428.7,407.8 L429.2,411.5 L429.8,409.8 L430.3,410.1 L430.9,409.5 L431.4,412 L432,416.5 L432.5,415.4 L433.1,415.5 L433.6,416.6 L434.2,417.2 L434.7,420.7 L435.3,420.8 L435.8,421.3 L436.4,422.2 L436.9,424.3 L437.5,425.9 L438,429.4 L438.6,430.4 L439.1,431.2 L439.7,432.5 L440.2,432.7 L440.8,432.3 L441.4,432.7 L441.9,432.1 L442.5,433.4 L443,432.6 L443.6,430.7 L444.1,427.7 L444.7,428.1 L445.2,428.9 L445.8,427.1 L446.3,428.1 L446.9,428.6 L447.4,426.1 L448,425.2 L448.5,427.2 L449.1,426.2 L449.6,426.1 L450.2,425.1 L450.7,427.7 L451.3,427.1 L451.8,425.6 L452.4,426.9 L452.9,425.2 L453.5,425.9 L454,425.2 L454.6,422.6 L455.2,423.7 L455.7,423.7 L456.3,423.1 L456.8,423.7 L457.4,425.2 L457.9,424.5 L458.5,423.2 L459,422.6 L459.6,424.7 L460.1,423.9 L460.7,424.1 L461.2,425 L461.8,425 L462.3,423.8 L462.9,423.2 L463.4,421.6 L464,421 L464.5,423.8 L465.1,424.5 L465.6,424.1 L466.2,422.9 L466.7,422.9 L467.3,422.5 L467.8,421.1 L468.4,423.5 L469,426 L469.5,422.4 L470.1,422.2 L470.6,423.1 L471.2,422.9 L471.7,421.3 L472.3,422.4 L472.8,422.4 L473.4,420.4 L473.9,420.5 L474.5,423.4 L475,422.6 L475.6,422.4 L476.1,422.5 L476.7,421.3 L477.2,420.4 L477.8,421.4 L478.3,423.5 L478.9,422.5 L479.4,421.5 L480,424.7 L480.5,421.7 L481.1,421.4 L481.6,423.1 L482.2,423.6 L482.8,425.7 L483.3,423.5 L483.9,422.7 L484.4,420.6 L485,421.7 L485.5,421.4 L486.1,420.7 L486.6,421.7 L487.2,422.6 L487.7,424.8 L488.3,424.5 L488.8,423.1 L489.4,422.1 L489.9,423.2 L490.5,424.1 L491,421.3 L491.6,421.6 L492.1,420.3 L492.7,423.4 L493.2,423.5 L493.8,424 L494.3,422.8 L494.9,422.6 L495.4,421.9 L496,421.7 L496.6,422.2 L497.1,423 L497.7,420 L498.2,421.2 L498.8,422.8 L499.3,422.7 L499.9,420.8 L500.4,422 L501,421.4 L501.5,423.1 L502.1,425.6 L502.6,421.8 L503.2,419.2 L503.7,422.1 L504.3,422.1 L504.8,421.4 L505.4,422.4 L505.9,420.4 L506.5,421.3 L507,425 L507.6,423.1 L508.1,423.9 L508.7,424 L509.2,423.8 L509.8,419.8" fill="none" stroke="#111" stroke-width="1.45" stroke-linejoin="round"/>
<path d="M344.2,446.2 L344.8,445.7 L345.3,445.6 L345.9,446.8 L346.4,447.9 L347,446.3 L347.5,444.7 L348.1,446.6 L348.6,445.8 L349.2,446.4 L349.7,449.1 L350.3,450.1 L350.8,447.7 L351.4,447.1 L351.9,444.7 L352.5,447 L353,444.5 L353.6,445.7 L354.1,446.5 L354.7,445 L355.2,443.5 L355.8,445.7 L356.3,446.3 L356.9,443.5 L357.4,445.3 L358,447.8 L358.6,448.7 L359.1,448.2 L359.7,447 L360.2,446.7 L360.8,446.5 L361.3,448.1 L361.9,444.6 L362.4,445.7 L363,446.6 L363.5,445.8 L364.1,444.1 L364.6,445.6 L365.2,445.7 L365.7,444.5 L366.3,445.1 L366.8,445.9 L367.4,444.9 L367.9,446.3 L368.5,447.9 L369,444.6 L369.6,445.4 L370.1,447.1 L370.7,444.3 L371.2,444 L371.8,445.3 L372.4,445.1 L372.9,447 L373.5,446 L374,446.1 L374.6,443 L375.1,442.2 L375.7,446.2 L376.2,444.6 L376.8,443.7 L377.3,445.3 L377.9,444 L378.4,442.2 L379,442.7 L379.5,444.2 L380.1,442.6 L380.6,443.9 L381.2,448.6 L381.7,446.4 L382.3,446.7 L382.8,446.6 L383.4,443.5 L383.9,442.9 L384.5,445.1 L385,444.2 L385.6,449 L386.2,449.1 L386.7,445.8 L387.3,444.2 L387.8,446 L388.4,448.6 L388.9,448.9 L389.5,448.6 L390,447.4 L390.6,446.2 L391.1,446 L391.7,445.4 L392.2,446.2 L392.8,444.6 L393.3,444.9 L393.9,446 L394.4,448.1 L395,447.6 L395.5,446.9 L396.1,445.7 L396.6,446.3 L397.2,446.1 L397.7,445.8 L398.3,446.7 L398.8,449.4 L399.4,448.5 L400,448.4 L400.5,445.7 L401.1,447.5 L401.6,446.8 L402.2,446.2 L402.7,447 L403.3,447.4 L403.8,448.6 L404.4,449.5 L404.9,448.5 L405.5,450.6 L406,450.3 L406.6,450 L407.1,452 L407.7,451.6 L408.2,451.9 L408.8,450.5 L409.3,452.4 L409.9,454.1 L410.4,452.2 L411,451.6 L411.5,450.5 L412.1,453.5 L412.6,455.5 L413.2,453.6 L413.8,452.2 L414.3,451.6 L414.9,451.7 L415.4,453.6 L416,451.2 L416.5,449.5 L417.1,445 L417.6,446.1 L418.2,445.8 L418.7,444.3 L419.3,443.2 L419.8,443.6 L420.4,440.5 L420.9,438.2 L421.5,439.6 L422,437.3 L422.6,437.1 L423.1,436.9 L423.7,433.9 L424.2,433 L424.8,430.1 L425.3,430.2 L425.9,428.7 L426.4,430.1 L427,429.2 L427.6,427.4 L428.1,426.8 L428.7,428.2 L429.2,431.4 L429.8,434.5 L430.3,435.9 L430.9,436.3 L431.4,437 L432,437.4 L432.5,440 L433.1,440.6 L433.6,442.8 L434.2,441.8 L434.7,441.4 L435.3,444.1 L435.8,447.2 L436.4,448.3 L436.9,449.5 L437.5,451.1 L438,451.5 L438.6,450.6 L439.1,451.5 L439.7,452.4 L440.2,452.7 L440.8,451.4 L441.4,453.1 L441.9,453.9 L442.5,452.9 L443,454 L443.6,453.8 L444.1,449.1 L444.7,450.4 L445.2,452.9 L445.8,451.2 L446.3,450.4 L446.9,450.4 L447.4,450 L448,448.1 L448.5,449 L449.1,448.8 L449.6,448.3 L450.2,447.3 L450.7,446.8 L451.3,445.2 L451.8,445.7 L452.4,448.8 L452.9,448.1 L453.5,445.2 L454,444.6 L454.6,448 L455.2,447.9 L455.7,447.2 L456.3,447.7 L456.8,445.4 L457.4,445.8 L457.9,445.7 L458.5,445.5 L459,444.8 L459.6,446.2 L460.1,444.8 L460.7,445.2 L461.2,447.2 L461.8,444.8 L462.3,446.2 L462.9,446.7 L463.4,448.5 L464,445.2 L464.5,443.9 L465.1,443.2 L465.6,445.2 L466.2,445.8 L466.7,444.6 L467.3,445.2 L467.8,445.7 L468.4,446.6 L469,445.7 L469.5,443.5 L470.1,443.4 L470.6,445 L471.2,445.5 L471.7,445.4 L472.3,445.3 L472.8,445.8 L473.4,444.2 L473.9,443.5 L474.5,446.6 L475,445.1 L475.6,443.4 L476.1,443.3 L476.7,445.3 L477.2,445.8 L477.8,443.5 L478.3,443.7 L478.9,444.2 L479.4,444 L480,444.6 L480.5,446.4 L481.1,445.5 L481.6,445.4 L482.2,445.4 L482.8,443.5 L483.3,444.4 L483.9,445.4 L484.4,445.2 L485,444.4 L485.5,444.5 L486.1,446.1 L486.6,443.6 L487.2,443.5 L487.7,443.9 L488.3,445.3 L488.8,445.2 L489.4,442.4 L489.9,444.5 L490.5,443.9 L491,442.2 L491.6,443 L492.1,446.7 L492.7,442.2 L493.2,443.6 L493.8,444 L494.3,444.2 L494.9,444.2 L495.4,443.5 L496,441.9 L496.6,444.1 L497.1,441.9 L497.7,443.5 L498.2,445.7 L498.8,444.3 L499.3,442.2 L499.9,443.2 L500.4,442.8 L501,441.1 L501.5,443.6 L502.1,444.7 L502.6,444 L503.2,444.9 L503.7,442.6 L504.3,443.6 L504.8,444.1 L505.4,441.4 L505.9,442.6 L506.5,440.6 L507,444.3 L507.6,443.6 L508.1,443 L508.7,440.9 L509.2,445.1 L509.8,444.1" fill="none" stroke="#111" stroke-width="1.45" stroke-linejoin="round"/>
<path d="M344.2,472.4 L344.8,468.6 L345.3,469.7 L345.9,469.9 L346.4,467.6 L347,468.1 L347.5,469.3 L348.1,469.7 L348.6,471.2 L349.2,469 L349.7,466.9 L350.3,468.7 L350.8,470.3 L351.4,466.6 L351.9,468 L352.5,465.9 L353,469.8 L353.6,469.5 L354.1,467.8 L354.7,467 L355.2,465.8 L355.8,467.3 L356.3,468.5 L356.9,468.7 L357.4,469.9 L358,468.8 L358.6,469.4 L359.1,470.4 L359.7,469.6 L360.2,468.7 L360.8,468.7 L361.3,469.8 L361.9,467.6 L362.4,469 L363,469 L363.5,466.4 L364.1,470.1 L364.6,469.8 L365.2,469.2 L365.7,469 L366.3,471.2 L366.8,470.2 L367.4,470.8 L367.9,466.6 L368.5,468.8 L369,467.6 L369.6,469.5 L370.1,468 L370.7,468.2 L371.2,466.7 L371.8,466.2 L372.4,469.7 L372.9,467.5 L373.5,469.1 L374,468.4 L374.6,467.5 L375.1,469 L375.7,468.5 L376.2,467.7 L376.8,468.3 L377.3,470.1 L377.9,470.4 L378.4,468.3 L379,468 L379.5,468.1 L380.1,468 L380.6,469.1 L381.2,468.1 L381.7,467.6 L382.3,466.8 L382.8,470.1 L383.4,469.5 L383.9,469.3 L384.5,468.8 L385,470.5 L385.6,468.4 L386.2,469.6 L386.7,470 L387.3,470.1 L387.8,469.3 L388.4,467.2 L388.9,467.6 L389.5,471.3 L390,471.9 L390.6,470.2 L391.1,470.2 L391.7,469 L392.2,468 L392.8,470.3 L393.3,471.1 L393.9,472 L394.4,470.7 L395,472.5 L395.5,472.4 L396.1,470.7 L396.6,472.5 L397.2,471.4 L397.7,471.2 L398.3,470.7 L398.8,470.7 L399.4,473 L400,472.4 L400.5,469.9 L401.1,471.7 L401.6,470 L402.2,471.3 L402.7,471 L403.3,472.2 L403.8,469.9 L404.4,469 L404.9,471.8 L405.5,472.1 L406,471.4 L406.6,474 L407.1,473.9 L407.7,472.1 L408.2,472.6 L408.8,474 L409.3,476.5 L409.9,477.4 L410.4,476.3 L411,475.7 L411.5,475.1 L412.1,477.4 L412.6,475.7 L413.2,479 L413.8,476.8 L414.3,476 L414.9,475.8 L415.4,477.2 L416,473.5 L416.5,472.9 L417.1,471.5 L417.6,469.9 L418.2,470 L418.7,467.4 L419.3,467.1 L419.8,466.2 L420.4,467.4 L420.9,466.5 L421.5,465.5 L422,462.5 L422.6,463.5 L423.1,463.6 L423.7,462.1 L424.2,463.1 L424.8,462.1 L425.3,456.9 L425.9,456.7 L426.4,455.6 L427,454.2 L427.6,455.6 L428.1,457 L428.7,456.8 L429.2,458.9 L429.8,458.8 L430.3,458.9 L430.9,462.7 L431.4,464.2 L432,463.9 L432.5,463.5 L433.1,466.2 L433.6,465.9 L434.2,467 L434.7,467.5 L435.3,471.4 L435.8,471.5 L436.4,472.4 L436.9,472.4 L437.5,473.4 L438,475.5 L438.6,473.1 L439.1,474.6 L439.7,474.3 L440.2,474.9 L440.8,476.5 L441.4,476.4 L441.9,475.9 L442.5,475.1 L443,476.8 L443.6,477.7 L444.1,477.4 L444.7,474.7 L445.2,472.2 L445.8,470.2 L446.3,469.6 L446.9,470.9 L447.4,470.9 L448,474.4 L448.5,471.5 L449.1,468.3 L449.6,468.6 L450.2,469.9 L450.7,468.6 L451.3,471.2 L451.8,471 L452.4,468.9 L452.9,469.2 L453.5,469.5 L454,472.4 L454.6,472.7 L455.2,471.9 L455.7,472.2 L456.3,468.9 L456.8,470.7 L457.4,469.9 L457.9,471.4 L458.5,473.6 L459,470.8 L459.6,472.1 L460.1,470.2 L460.7,469.8 L461.2,469.2 L461.8,471.1 L462.3,468.3 L462.9,468.6 L463.4,468.5 L464,468.4 L464.5,468.9 L465.1,468 L465.6,466.8 L466.2,468.1 L466.7,468.2 L467.3,467.5 L467.8,468.7 L468.4,467.2 L469,467.4 L469.5,468.5 L470.1,467.6 L470.6,467.5 L471.2,467.2 L471.7,469.6 L472.3,466.7 L472.8,468.7 L473.4,467.7 L473.9,468.1 L474.5,470.9 L475,467.8 L475.6,468.3 L476.1,468.5 L476.7,468 L477.2,467.3 L477.8,470.5 L478.3,468.3 L478.9,468.2 L479.4,467.9 L480,466.5 L480.5,466.7 L481.1,469.2 L481.6,468 L482.2,467 L482.8,467.9 L483.3,468.6 L483.9,469.7 L484.4,469.1 L485,465.6 L485.5,467.5 L486.1,467.9 L486.6,467.1 L487.2,467.5 L487.7,468 L488.3,466.4 L488.8,468.3 L489.4,467.1 L489.9,468.7 L490.5,467.1 L491,468.3 L491.6,469.9 L492.1,468.2 L492.7,469.6 L493.2,467.2 L493.8,467.7 L494.3,466.7 L494.9,466.8 L495.4,468 L496,468.9 L496.6,467.1 L497.1,466 L497.7,467.6 L498.2,466.6 L498.8,466.8 L499.3,465.3 L499.9,468.3 L500.4,466.2 L501,468 L501.5,469.8 L502.1,468.1 L502.6,466.6 L503.2,467.2 L503.7,466.2 L504.3,466.8 L504.8,466.6 L505.4,465.6 L505.9,466.5 L506.5,467.6 L507,466.2 L507.6,468.6 L508.1,470.4 L508.7,468.3 L509.2,469.6 L509.8,467.2" fill="none" stroke="#111" stroke-width="1.45" stroke-linejoin="round"/>
<path d="M344.2,492.3 L344.8,490.5 L345.3,489.5 L345.9,491.5 L346.4,490.4 L347,490.8 L347.5,491.1 L348.1,491.6 L348.6,492.1 L349.2,489.6 L349.7,490.3 L350.3,492 L350.8,489.9 L351.4,491.5 L351.9,492.7 L352.5,492.8 L353,491.9 L353.6,490.7 L354.1,491.3 L354.7,490.7 L355.2,490.7 L355.8,488 L356.3,488.7 L356.9,491.2 L357.4,492.7 L358,491.9 L358.6,492.8 L359.1,492.4 L359.7,494.9 L360.2,493.3 L360.8,492.9 L361.3,490.5 L361.9,493.6 L362.4,492.4 L363,491.9 L363.5,491 L364.1,491.7 L364.6,491.4 L365.2,493.5 L365.7,493 L366.3,491.6 L366.8,490.3 L367.4,489.9 L367.9,491 L368.5,493.1 L369,490.9 L369.6,489.1 L370.1,490.9 L370.7,489.3 L371.2,488.8 L371.8,490.2 L372.4,489.9 L372.9,490.9 L373.5,490.2 L374,489.8 L374.6,491.6 L375.1,490.8 L375.7,491.5 L376.2,493.6 L376.8,492.4 L377.3,492.8 L377.9,491.2 L378.4,492.2 L379,492.5 L379.5,493.4 L380.1,491.1 L380.6,491.6 L381.2,488.6 L381.7,489.7 L382.3,490.2 L382.8,491.7 L383.4,490.6 L383.9,492.5 L384.5,493.4 L385,490 L385.6,490 L386.2,493.5 L386.7,491.5 L387.3,491.3 L387.8,490.7 L388.4,491.1 L388.9,491.5 L389.5,490.1 L390,490.7 L390.6,490.6 L391.1,495.4 L391.7,494.3 L392.2,490.6 L392.8,489.5 L393.3,492.9 L393.9,493.3 L394.4,492.2 L395,492.8 L395.5,493.6 L396.1,493.9 L396.6,495.4 L397.2,494.9 L397.7,492.1 L398.3,493.3 L398.8,494.9 L399.4,492.2 L400,493.6 L400.5,493.9 L401.1,493.6 L401.6,492.7 L402.2,495.4 L402.7,492.4 L403.3,492.7 L403.8,492.5 L404.4,492.8 L404.9,494.8 L405.5,494.6 L406,495 L406.6,495 L407.1,497.2 L407.7,494.1 L408.2,496.9 L408.8,493.1 L409.3,493.1 L409.9,496 L410.4,497.2 L411,498.8 L411.5,494.5 L412.1,497.2 L412.6,495.8 L413.2,496.9 L413.8,498.4 L414.3,498.9 L414.9,498 L415.4,498.6 L416,494.7 L416.5,496.3 L417.1,495.6 L417.6,494.5 L418.2,493.7 L418.7,494.4 L419.3,493.2 L419.8,494 L420.4,492.5 L420.9,488.6 L421.5,489.4 L422,489.2 L422.6,487.7 L423.1,488.5 L423.7,487.5 L424.2,486.4 L424.8,483.5 L425.3,485.4 L425.9,485.2 L426.4,485.5 L427,486.2 L427.6,484.8 L428.1,483.8 L428.7,486.8 L429.2,487.4 L429.8,486.4 L430.3,486 L430.9,486.2 L431.4,489 L432,488.9 L432.5,488.9 L433.1,492.3 L433.6,491.4 L434.2,491.1 L434.7,491.8 L435.3,492.2 L435.8,490.7 L436.4,489.9 L436.9,490 L437.5,495.4 L438,497.8 L438.6,497 L439.1,497.4 L439.7,498.6 L440.2,499.7 L440.8,496.9 L441.4,496.4 L441.9,496.9 L442.5,498.3 L443,496.2 L443.6,495.4 L444.1,495.3 L444.7,494.6 L445.2,494.3 L445.8,494.6 L446.3,495.9 L446.9,495.2 L447.4,492.4 L448,493.9 L448.5,495 L449.1,495.1 L449.6,494.8 L450.2,494.1 L450.7,493.4 L451.3,496.1 L451.8,493.1 L452.4,492.1 L452.9,494.5 L453.5,494 L454,493.4 L454.6,491.2 L455.2,490.7 L455.7,492 L456.3,491.2 L456.8,490.1 L457.4,491.3 L457.9,492.5 L458.5,491.9 L459,492.6 L459.6,491.9 L460.1,491.3 L460.7,492 L461.2,490.7 L461.8,489.4 L462.3,487.6 L462.9,491.5 L463.4,489.7 L464,489.5 L464.5,491.8 L465.1,492.1 L465.6,489.8 L466.2,490.5 L466.7,489 L467.3,494.3 L467.8,494.1 L468.4,493.3 L469,491.9 L469.5,490 L470.1,492.7 L470.6,490.5 L471.2,491.1 L471.7,489.1 L472.3,488.6 L472.8,490.7 L473.4,489.8 L473.9,487.7 L474.5,490.5 L475,489.3 L475.6,490.5 L476.1,490.8 L476.7,490.8 L477.2,492.2 L477.8,490.5 L478.3,489.8 L478.9,490.6 L479.4,490.7 L480,491.6 L480.5,490.1 L481.1,490.3 L481.6,488.5 L482.2,491.7 L482.8,491.9 L483.3,490.1 L483.9,491.4 L484.4,486.9 L485,488.6 L485.5,491.8 L486.1,489.1 L486.6,489.4 L487.2,491.1 L487.7,488.9 L488.3,488.5 L488.8,490.1 L489.4,489.6 L489.9,487.4 L490.5,486.6 L491,488.9 L491.6,491.6 L492.1,490.4 L492.7,490.6 L493.2,489.4 L493.8,490.3 L494.3,490.6 L494.9,489 L495.4,490.6 L496,490 L496.6,489.9 L497.1,488.3 L497.7,491.1 L498.2,490.7 L498.8,487.6 L499.3,489.9 L499.9,489.8 L500.4,492.2 L501,491.5 L501.5,489.3 L502.1,488.1 L502.6,487.3 L503.2,489.7 L503.7,490.3 L504.3,488.5 L504.8,490.2 L505.4,489.9 L505.9,488.9 L506.5,489 L507,489.1 L507.6,490.2 L508.1,491.5 L508.7,493.2 L509.2,492.6 L509.8,487" fill="none" stroke="#111" stroke-width="1.45" stroke-linejoin="round"/>
<path d="M344.2,511.4 L344.8,513.5 L345.3,515.1 L345.9,514.9 L346.4,512.7 L347,513.1 L347.5,512 L348.1,510.3 L348.6,513 L349.2,514.9 L349.7,515.5 L350.3,514.5 L350.8,512.5 L351.4,512.3 L351.9,511.8 L352.5,513.1 L353,511.7 L353.6,513.9 L354.1,515.6 L354.7,515.2 L355.2,514.1 L355.8,515.7 L356.3,513.9 L356.9,512.8 L357.4,513.3 L358,512.7 L358.6,512.9 L359.1,514.5 L359.7,514.3 L360.2,513.5 L360.8,515.4 L361.3,515.5 L361.9,511.8 L362.4,512.9 L363,512.3 L363.5,513.5 L364.1,514.6 L364.6,514.5 L365.2,512.7 L365.7,512.6 L366.3,513.3 L366.8,515.6 L367.4,515.4 L367.9,512.7 L368.5,515.2 L369,515.7 L369.6,516 L370.1,514.5 L370.7,515.2 L371.2,515.1 L371.8,512.9 L372.4,512.4 L372.9,512.3 L373.5,511.2 L374,512.1 L374.6,514.7 L375.1,514.4 L375.7,510.6 L376.2,511.3 L376.8,512.4 L377.3,513.5 L377.9,514.1 L378.4,513.1 L379,511.5 L379.5,512.7 L380.1,514.7 L380.6,512.9 L381.2,511.1 L381.7,513.6 L382.3,513.9 L382.8,515 L383.4,513.6 L383.9,513.6 L384.5,512.5 L385,511.4 L385.6,511.9 L386.2,512.4 L386.7,511.4 L387.3,513.2 L387.8,514 L388.4,512.1 L388.9,513 L389.5,512.2 L390,512.7 L390.6,514.8 L391.1,511.8 L391.7,510.7 L392.2,512.4 L392.8,512.8 L393.3,512.4 L393.9,510.2 L394.4,514.3 L395,513 L395.5,514 L396.1,511.9 L396.6,512.6 L397.2,513.3 L397.7,514 L398.3,511.7 L398.8,512 L399.4,511.2 L400,512 L400.5,510.3 L401.1,510.9 L401.6,513.1 L402.2,512.4 L402.7,513.4 L403.3,513.4 L403.8,512.9 L404.4,512.4 L404.9,513.7 L405.5,510.7 L406,514.4 L406.6,510.2 L407.1,512.3 L407.7,512 L408.2,511.7 L408.8,511.4 L409.3,513 L409.9,516.3 L410.4,514.7 L411,514 L411.5,514.3 L412.1,514.6 L412.6,516.2 L413.2,514.9 L413.8,515 L414.3,515.2 L414.9,513.1 L415.4,512.3 L416,512.6 L416.5,511.6 L417.1,510.6 L417.6,510.8 L418.2,513.6 L418.7,510.4 L419.3,510.3 L419.8,509.8 L420.4,510.3 L420.9,510.1 L421.5,510.6 L422,512 L422.6,509.9 L423.1,510.4 L423.7,508.8 L424.2,511.3 L424.8,511.4 L425.3,510.5 L425.9,509.8 L426.4,508 L427,508 L427.6,508.4 L428.1,507.9 L428.7,507.8 L429.2,508.7 L429.8,507.3 L430.3,509.7 L430.9,510.6 L431.4,510 L432,508.7 L432.5,510.8 L433.1,511.9 L433.6,512.3 L434.2,510.9 L434.7,510.8 L435.3,512.7 L435.8,513.2 L436.4,510.7 L436.9,514.2 L437.5,514.6 L438,512.8 L438.6,513.2 L439.1,514 L439.7,514.3 L440.2,512.7 L440.8,514.6 L441.4,514.5 L441.9,513.8 L442.5,514.8 L443,513 L443.6,511.6 L444.1,511.2 L444.7,510.6 L445.2,511.9 L445.8,513.5 L446.3,511.4 L446.9,513.4 L447.4,512.6 L448,511.2 L448.5,507.9 L449.1,509.4 L449.6,511.5 L450.2,511.4 L450.7,512 L451.3,510.6 L451.8,512.9 L452.4,510.6 L452.9,509.5 L453.5,513.6 L454,512.7 L454.6,512.6 L455.2,512 L455.7,512 L456.3,512.6 L456.8,515.7 L457.4,514.7 L457.9,511.9 L458.5,511.5 L459,513.1 L459.6,516 L460.1,514.6 L460.7,512.8 L461.2,515.2 L461.8,514.2 L462.3,512.5 L462.9,514.7 L463.4,513.1 L464,512.7 L464.5,513.2 L465.1,513 L465.6,511.7 L466.2,512.7 L466.7,512.4 L467.3,513.8 L467.8,514.6 L468.4,512.8 L469,511.9 L469.5,511.3 L470.1,512.5 L470.6,511.7 L471.2,509.9 L471.7,511 L472.3,514 L472.8,514.5 L473.4,514.1 L473.9,514.6 L474.5,513.1 L475,515 L475.6,514.2 L476.1,514 L476.7,510.6 L477.2,511.4 L477.8,512.4 L478.3,511.3 L478.9,512.9 L479.4,513 L480,514 L480.5,513.7 L481.1,514.7 L481.6,513.1 L482.2,512.4 L482.8,510.8 L483.3,513.8 L483.9,513.4 L484.4,511.9 L485,512.9 L485.5,516.6 L486.1,514.8 L486.6,514.7 L487.2,513.8 L487.7,513.3 L488.3,515 L488.8,512.1 L489.4,510.9 L489.9,511.7 L490.5,513.5 L491,513.5 L491.6,509 L492.1,511.7 L492.7,513.9 L493.2,515.7 L493.8,515.1 L494.3,513.1 L494.9,511.3 L495.4,513.4 L496,512.3 L496.6,512.5 L497.1,512.9 L497.7,512.1 L498.2,509.4 L498.8,509.2 L499.3,509.3 L499.9,509.3 L500.4,513.5 L501,511.3 L501.5,513.6 L502.1,513 L502.6,513.2 L503.2,511.8 L503.7,511.9 L504.3,513.3 L504.8,511.7 L505.4,513 L505.9,511.8 L506.5,513.1 L507,510.8 L507.6,513.8 L508.1,516.5 L508.7,514.4 L509.2,514 L509.8,510.8" fill="none" stroke="#111" stroke-width="1.45" stroke-linejoin="round"/>
<path d="M344.2,536.3 L344.8,539.3 L345.3,535.4 L345.9,536.8 L346.4,537.5 L347,537.7 L347.5,536.6 L348.1,535.9 L348.6,535.4 L349.2,534.6 L349.7,535.3 L350.3,535.6 L350.8,537 L351.4,536.2 L351.9,536.2 L352.5,533.5 L353,535 L353.6,535.9 L354.1,536.1 L354.7,537.1 L355.2,539.4 L355.8,538.6 L356.3,536 L356.9,537.2 L357.4,536.7 L358,537.1 L358.6,538.2 L359.1,536.5 L359.7,536.5 L360.2,534.4 L360.8,534.8 L361.3,537.7 L361.9,537.6 L362.4,535.4 L363,535.9 L363.5,534.4 L364.1,535.4 L364.6,536.6 L365.2,536.3 L365.7,535.9 L366.3,535.1 L366.8,536.2 L367.4,536.2 L367.9,536.5 L368.5,535.8 L369,534.1 L369.6,535.3 L370.1,535.6 L370.7,535 L371.2,535.7 L371.8,537.3 L372.4,533.8 L372.9,536.5 L373.5,538.1 L374,537.5 L374.6,535.7 L375.1,535.6 L375.7,536.4 L376.2,535.6 L376.8,536.4 L377.3,537.1 L377.9,537.4 L378.4,537.8 L379,535.6 L379.5,535.6 L380.1,535.1 L380.6,533.9 L381.2,535.3 L381.7,535.9 L382.3,535.4 L382.8,533.4 L383.4,534.6 L383.9,534.1 L384.5,534.7 L385,536.8 L385.6,536 L386.2,536.4 L386.7,537.9 L387.3,536.6 L387.8,537.6 L388.4,533.1 L388.9,534 L389.5,533.7 L390,536.4 L390.6,536.8 L391.1,535.3 L391.7,536.9 L392.2,533.6 L392.8,534.2 L393.3,534.3 L393.9,533.1 L394.4,533.4 L395,532.7 L395.5,535.5 L396.1,535.8 L396.6,535.2 L397.2,536.3 L397.7,538.4 L398.3,539.1 L398.8,538 L399.4,537.3 L400,537.2 L400.5,534.9 L401.1,535.5 L401.6,538 L402.2,535.3 L402.7,534 L403.3,536.7 L403.8,536.7 L404.4,537.1 L404.9,536.4 L405.5,533.8 L406,533.2 L406.6,535.3 L407.1,535.6 L407.7,536.9 L408.2,536.2 L408.8,535.6 L409.3,536 L409.9,535.4 L410.4,535.1 L411,535.3 L411.5,534.1 L412.1,535.1 L412.6,536.2 L413.2,537.8 L413.8,534.9 L414.3,535 L414.9,534 L415.4,534.6 L416,535.2 L416.5,533.7 L417.1,534 L417.6,536 L418.2,532.2 L418.7,530.5 L419.3,531.2 L419.8,535.3 L420.4,535.6 L420.9,534.9 L421.5,536.2 L422,538.8 L422.6,539.9 L423.1,540.3 L423.7,540.8 L424.2,539.5 L424.8,540.7 L425.3,541.5 L425.9,541.6 L426.4,542.2 L427,542.8 L427.6,542.6 L428.1,541.9 L428.7,540.6 L429.2,540.8 L429.8,540.4 L430.3,538.6 L430.9,538.4 L431.4,538.4 L432,538.4 L432.5,538.8 L433.1,534.7 L433.6,536.5 L434.2,536.5 L434.7,534.6 L435.3,532.8 L435.8,534.1 L436.4,533.5 L436.9,533.2 L437.5,531.5 L438,532.6 L438.6,534 L439.1,536.5 L439.7,537.6 L440.2,536.1 L440.8,537.8 L441.4,536 L441.9,534.6 L442.5,537.2 L443,537 L443.6,539.1 L444.1,541.1 L444.7,535.7 L445.2,535.9 L445.8,534.8 L446.3,535.4 L446.9,538 L447.4,536.6 L448,536.5 L448.5,536.9 L449.1,537.3 L449.6,534.7 L450.2,537.1 L450.7,538.7 L451.3,539.2 L451.8,537.5 L452.4,536.8 L452.9,533.9 L453.5,533.8 L454,534.5 L454.6,537.1 L455.2,540.1 L455.7,533.1 L456.3,532.9 L456.8,535.7 L457.4,535.4 L457.9,534 L458.5,534 L459,537.4 L459.6,536.9 L460.1,536.5 L460.7,534.5 L461.2,536.2 L461.8,537.4 L462.3,537.2 L462.9,536.4 L463.4,535.3 L464,532 L464.5,535.9 L465.1,537.3 L465.6,535.1 L466.2,534.4 L466.7,534.2 L467.3,533 L467.8,536 L468.4,534.8 L469,533.3 L469.5,534.1 L470.1,534.3 L470.6,534 L471.2,535.9 L471.7,535.1 L472.3,534.9 L472.8,535.1 L473.4,535.1 L473.9,535.9 L474.5,534.9 L475,533.1 L475.6,535.5 L476.1,536.4 L476.7,536.7 L477.2,534 L477.8,535.6 L478.3,535.7 L478.9,536.5 L479.4,537.1 L480,538.5 L480.5,536.1 L481.1,536.9 L481.6,537.4 L482.2,534.8 L482.8,536.3 L483.3,536.2 L483.9,536.8 L484.4,538 L485,535.6 L485.5,536.8 L486.1,537.4 L486.6,535.7 L487.2,535.8 L487.7,537.5 L488.3,535.2 L488.8,535.8 L489.4,536.7 L489.9,536.2 L490.5,538.9 L491,536.1 L491.6,535.4 L492.1,535.8 L492.7,537.3 L493.2,537.5 L493.8,538.1 L494.3,533.5 L494.9,531.3 L495.4,535.7 L496,536.4 L496.6,534.8 L497.1,535.6 L497.7,536.3 L498.2,536.1 L498.8,535.3 L499.3,535.6 L499.9,533.8 L500.4,533.6 L501,535.7 L501.5,536.2 L502.1,536.7 L502.6,534.1 L503.2,536 L503.7,537.1 L504.3,533.9 L504.8,532.9 L505.4,531.8 L505.9,533.1 L506.5,534 L507,534.5 L507.6,537.5 L508.1,534.6 L508.7,535 L509.2,535.4 L509.8,535.1" fill="none" stroke="#111" stroke-width="1.45" stroke-linejoin="round"/>
<path d="M344.2,558.8 L344.8,557.8 L345.3,559.9 L345.9,556.9 L346.4,560.2 L347,560.6 L347.5,559.1 L348.1,558.9 L348.6,557.2 L349.2,557.7 L349.7,555.7 L350.3,556.5 L350.8,556.9 L351.4,554.1 L351.9,557.4 L352.5,557.6 L353,557.6 L353.6,557.4 L354.1,559.5 L354.7,557.1 L355.2,556.5 L355.8,560.3 L356.3,556.5 L356.9,558 L357.4,559.4 L358,561.5 L358.6,561.1 L359.1,557.3 L359.7,558.8 L360.2,557.4 L360.8,558.3 L361.3,557.6 L361.9,557.1 L362.4,557.6 L363,560.4 L363.5,557.8 L364.1,558.6 L364.6,558.5 L365.2,557.5 L365.7,558.9 L366.3,558.1 L366.8,559.3 L367.4,558.8 L367.9,560.1 L368.5,560 L369,558.8 L369.6,559.7 L370.1,560.7 L370.7,560.4 L371.2,558.1 L371.8,557.4 L372.4,557.9 L372.9,557.1 L373.5,559 L374,558.5 L374.6,559.3 L375.1,558.7 L375.7,557.4 L376.2,559 L376.8,561.5 L377.3,559 L377.9,558.3 L378.4,559.6 L379,559 L379.5,554.8 L380.1,556.8 L380.6,556.7 L381.2,554.7 L381.7,558.3 L382.3,557.3 L382.8,555.9 L383.4,558.4 L383.9,557.9 L384.5,557.3 L385,556.1 L385.6,557.1 L386.2,559.6 L386.7,557.7 L387.3,557.5 L387.8,555.9 L388.4,559.3 L388.9,560 L389.5,560.6 L390,558.2 L390.6,558.6 L391.1,556.8 L391.7,559.7 L392.2,560.5 L392.8,560.2 L393.3,560.1 L393.9,558.5 L394.4,556.7 L395,554.9 L395.5,556.9 L396.1,556.5 L396.6,560.5 L397.2,558.9 L397.7,555.6 L398.3,554.9 L398.8,556.3 L399.4,557 L400,557.5 L400.5,558.8 L401.1,559 L401.6,557.6 L402.2,557.5 L402.7,556.2 L403.3,557.2 L403.8,557.1 L404.4,557.7 L404.9,554.5 L405.5,556.2 L406,557.6 L406.6,557 L407.1,558.5 L407.7,557.8 L408.2,557 L408.8,558.6 L409.3,559.6 L409.9,560.7 L410.4,559.6 L411,558.9 L411.5,558 L412.1,558 L412.6,556 L413.2,552.1 L413.8,554.9 L414.3,555.1 L414.9,557 L415.4,555.6 L416,556.1 L416.5,551.4 L417.1,554.5 L417.6,557.8 L418.2,555.5 L418.7,557.5 L419.3,556.6 L419.8,559.2 L420.4,560.5 L420.9,557.2 L421.5,558.1 L422,559.9 L422.6,562.3 L423.1,562.4 L423.7,563 L424.2,563.5 L424.8,564.2 L425.3,564.8 L425.9,564.4 L426.4,565 L427,566.2 L427.6,565.4 L428.1,564.3 L428.7,564.1 L429.2,563.7 L429.8,563.8 L430.3,563.4 L430.9,560.5 L431.4,560.1 L432,560.9 L432.5,559.1 L433.1,559.3 L433.6,557.5 L434.2,559 L434.7,558.8 L435.3,557.6 L435.8,556.5 L436.4,556.8 L436.9,557.1 L437.5,555.2 L438,556.3 L438.6,556.2 L439.1,555.7 L439.7,556 L440.2,555.8 L440.8,558.4 L441.4,558.6 L441.9,555.8 L442.5,556.2 L443,559.8 L443.6,560.3 L444.1,557.5 L444.7,558.2 L445.2,556.4 L445.8,557 L446.3,557.2 L446.9,558.3 L447.4,556.9 L448,557.4 L448.5,557.7 L449.1,558.9 L449.6,558.2 L450.2,557.7 L450.7,558.6 L451.3,558 L451.8,556.1 L452.4,555.1 L452.9,557.5 L453.5,557.5 L454,559.8 L454.6,559.2 L455.2,556.8 L455.7,556.9 L456.3,559.7 L456.8,557.8 L457.4,556.8 L457.9,555.2 L458.5,556.7 L459,560.3 L459.6,561.3 L460.1,560.1 L460.7,557.9 L461.2,558.7 L461.8,558.1 L462.3,561.5 L462.9,560.3 L463.4,558.2 L464,558.8 L464.5,558.4 L465.1,558.6 L465.6,557.7 L466.2,556.2 L466.7,558.2 L467.3,555.2 L467.8,555.9 L468.4,557.5 L469,559.5 L469.5,558.1 L470.1,556 L470.6,556.2 L471.2,558.4 L471.7,559 L472.3,557.5 L472.8,556.5 L473.4,559.2 L473.9,558.8 L474.5,555.8 L475,559.1 L475.6,558.9 L476.1,561.1 L476.7,556.6 L477.2,557.5 L477.8,559.6 L478.3,560.6 L478.9,558.9 L479.4,559.3 L480,558.5 L480.5,557.4 L481.1,559.9 L481.6,561 L482.2,560.5 L482.8,559.7 L483.3,559.1 L483.9,559.6 L484.4,558.1 L485,560.1 L485.5,559 L486.1,558.3 L486.6,559.1 L487.2,558.2 L487.7,558.7 L488.3,559.6 L488.8,557.6 L489.4,559.9 L489.9,560.3 L490.5,558.3 L491,556.3 L491.6,559.5 L492.1,558.4 L492.7,558.9 L493.2,559.4 L493.8,558.1 L494.3,559.7 L494.9,557.4 L495.4,557.8 L496,556.8 L496.6,556.7 L497.1,557 L497.7,559.9 L498.2,558.4 L498.8,557.6 L499.3,559.8 L499.9,556.4 L500.4,558.7 L501,560 L501.5,558.9 L502.1,558 L502.6,558.5 L503.2,559.4 L503.7,558.9 L504.3,558.4 L504.8,557.6 L505.4,558.3 L505.9,560.6 L506.5,560.5 L507,558.2 L507.6,560.7 L508.1,555.9 L508.7,558.2 L509.2,558.5 L509.8,559.4" fill="none" stroke="#111" stroke-width="1.45" stroke-linejoin="round"/>
<path d="M344.2,579.6 L344.8,582.3 L345.3,583.9 L345.9,581.2 L346.4,580 L347,580.5 L347.5,581.1 L348.1,580.6 L348.6,579.7 L349.2,579.3 L349.7,581.1 L350.3,580 L350.8,579.1 L351.4,581.8 L351.9,579.8 L352.5,581 L353,582.1 L353.6,582.4 L354.1,583.4 L354.7,581.9 L355.2,580.5 L355.8,580.4 L356.3,579.3 L356.9,580.5 L357.4,581.9 L358,581.8 L358.6,578.4 L359.1,580.8 L359.7,581 L360.2,584.8 L360.8,583.7 L361.3,579.9 L361.9,578.7 L362.4,578.1 L363,581 L363.5,581.2 L364.1,582 L364.6,580.9 L365.2,578.3 L365.7,579.2 L366.3,579.1 L366.8,581.1 L367.4,580.7 L367.9,580.5 L368.5,581.1 L369,584.3 L369.6,583.1 L370.1,583.6 L370.7,584.2 L371.2,579.6 L371.8,581.3 L372.4,581.7 L372.9,584.9 L373.5,581.2 L374,579.5 L374.6,581.3 L375.1,581.2 L375.7,582.4 L376.2,580.5 L376.8,579.5 L377.3,579.1 L377.9,576.9 L378.4,579.2 L379,579.9 L379.5,580.8 L380.1,581.4 L380.6,581.2 L381.2,579.8 L381.7,578.8 L382.3,582 L382.8,582.3 L383.4,583.1 L383.9,581.6 L384.5,579.6 L385,579.9 L385.6,579.9 L386.2,581 L386.7,581.7 L387.3,581 L387.8,579.5 L388.4,580.3 L388.9,582 L389.5,582.1 L390,581.8 L390.6,582.8 L391.1,580.4 L391.7,581.3 L392.2,582.1 L392.8,580.2 L393.3,578.9 L393.9,580.1 L394.4,583.3 L395,578.2 L395.5,580.7 L396.1,581 L396.6,583.6 L397.2,579.7 L397.7,579.7 L398.3,578 L398.8,579.3 L399.4,580.7 L400,580.9 L400.5,581.5 L401.1,578.8 L401.6,578.3 L402.2,580.5 L402.7,578 L403.3,579.1 L403.8,579.8 L404.4,579.3 L404.9,582.1 L405.5,582.8 L406,581 L406.6,579.8 L407.1,580.8 L407.7,579.8 L408.2,579.8 L408.8,581.7 L409.3,579.7 L409.9,579.7 L410.4,576.1 L411,579.6 L411.5,578 L412.1,579.3 L412.6,580.9 L413.2,579.1 L413.8,578.3 L414.3,577 L414.9,577.3 L415.4,577.6 L416,575.8 L416.5,578.6 L417.1,580.3 L417.6,581.6 L418.2,580.2 L418.7,579.4 L419.3,582.9 L419.8,583 L420.4,583.2 L420.9,583.6 L421.5,584.1 L422,586.9 L422.6,589.4 L423.1,589.2 L423.7,590.3 L424.2,590.5 L424.8,590.1 L425.3,590.7 L425.9,592.8 L426.4,594.4 L427,594.6 L427.6,593.7 L428.1,592.9 L428.7,592 L429.2,591.4 L429.8,590.4 L430.3,588.7 L430.9,586.7 L431.4,587.8 L432,587.5 L432.5,587.3 L433.1,588.7 L433.6,586.9 L434.2,584.5 L434.7,582.3 L435.3,580.6 L435.8,578.1 L436.4,580.4 L436.9,579.4 L437.5,579.8 L438,579.3 L438.6,577.5 L439.1,579.8 L439.7,577.9 L440.2,577.5 L440.8,578.9 L441.4,579.6 L441.9,579.7 L442.5,581.1 L443,583.6 L443.6,581.4 L444.1,584.8 L444.7,582.7 L445.2,581.6 L445.8,580 L446.3,580.8 L446.9,581 L447.4,581 L448,582.4 L448.5,583.2 L449.1,579.9 L449.6,579.9 L450.2,580.1 L450.7,581.4 L451.3,584.4 L451.8,582.6 L452.4,579.9 L452.9,581.2 L453.5,579.2 L454,580.6 L454.6,577.3 L455.2,578.2 L455.7,578.2 L456.3,582.7 L456.8,581.9 L457.4,579.8 L457.9,581.5 L458.5,579 L459,579.4 L459.6,581 L460.1,578.3 L460.7,579.2 L461.2,579.8 L461.8,582.9 L462.3,582.3 L462.9,581.1 L463.4,581.2 L464,579 L464.5,582.3 L465.1,580.1 L465.6,579.2 L466.2,580.5 L466.7,580 L467.3,581.7 L467.8,581.4 L468.4,581 L469,579 L469.5,579.5 L470.1,581.8 L470.6,580.1 L471.2,582.3 L471.7,580.7 L472.3,580.6 L472.8,579.8 L473.4,578.3 L473.9,579.7 L474.5,578 L475,578.2 L475.6,582.2 L476.1,583.9 L476.7,581.2 L477.2,580.6 L477.8,580.4 L478.3,580.4 L478.9,579.3 L479.4,579 L480,581.1 L480.5,580.9 L481.1,578.2 L481.6,579.8 L482.2,576.8 L482.8,579.1 L483.3,583 L483.9,580.2 L484.4,583.3 L485,581.8 L485.5,580.9 L486.1,580.1 L486.6,581.1 L487.2,583.3 L487.7,580.7 L488.3,579.8 L488.8,580.7 L489.4,579.7 L489.9,577.8 L490.5,578.7 L491,580 L491.6,581 L492.1,580.7 L492.7,581.6 L493.2,581.5 L493.8,582 L494.3,582 L494.9,582.5 L495.4,583.4 L496,581.9 L496.6,580.3 L497.1,581.2 L497.7,580.7 L498.2,583.1 L498.8,582.6 L499.3,583.7 L499.9,582.9 L500.4,582.5 L501,581.8 L501.5,581.2 L502.1,580.2 L502.6,580.8 L503.2,580 L503.7,583.7 L504.3,584.6 L504.8,582.5 L505.4,582.7 L505.9,581.7 L506.5,580.9 L507,581 L507.6,581 L508.1,582.8 L508.7,584.8 L509.2,581 L509.8,579.4" fill="none" stroke="#111" stroke-width="1.45" stroke-linejoin="round"/>
<path d="M344.2,605.9 L344.8,602 L345.3,604.2 L345.9,604.6 L346.4,604.5 L347,604.5 L347.5,602.7 L348.1,602.9 L348.6,603.2 L349.2,605.7 L349.7,606 L350.3,603.4 L350.8,603.6 L351.4,602.3 L351.9,602.5 L352.5,602.4 L353,603.3 L353.6,603.6 L354.1,605.1 L354.7,604.7 L355.2,602.8 L355.8,604.6 L356.3,604.1 L356.9,604.5 L357.4,606.5 L358,604.7 L358.6,606 L359.1,605.9 L359.7,604.9 L360.2,602.7 L360.8,603.5 L361.3,602.1 L361.9,600.8 L362.4,603.1 L363,607.4 L363.5,606 L364.1,602 L364.6,603 L365.2,602.1 L365.7,603.5 L366.3,603.1 L366.8,601.8 L367.4,603.4 L367.9,603.3 L368.5,603 L369,603.5 L369.6,603.1 L370.1,604.2 L370.7,605.5 L371.2,604.6 L371.8,602.9 L372.4,600.5 L372.9,602.1 L373.5,602.6 L374,601.9 L374.6,601.4 L375.1,600.3 L375.7,601 L376.2,600 L376.8,602 L377.3,602.3 L377.9,601.3 L378.4,602.3 L379,601.7 L379.5,602.5 L380.1,605.3 L380.6,602.8 L381.2,601.8 L381.7,600.9 L382.3,601 L382.8,601.3 L383.4,601.3 L383.9,601.2 L384.5,603.8 L385,606 L385.6,602.7 L386.2,601.3 L386.7,600 L387.3,600.9 L387.8,601.7 L388.4,604 L388.9,600.9 L389.5,602.1 L390,604.1 L390.6,603.8 L391.1,603.8 L391.7,601.8 L392.2,603 L392.8,600.7 L393.3,602.4 L393.9,602.8 L394.4,601.7 L395,602.4 L395.5,600.6 L396.1,599.6 L396.6,601.1 L397.2,601.5 L397.7,599.8 L398.3,600.5 L398.8,599.6 L399.4,599.3 L400,603.2 L400.5,602.9 L401.1,601.5 L401.6,600.7 L402.2,600.3 L402.7,599.9 L403.3,601.6 L403.8,602.6 L404.4,601.9 L404.9,602.6 L405.5,603.6 L406,602 L406.6,603.7 L407.1,601.1 L407.7,601.3 L408.2,598.6 L408.8,600.6 L409.3,599.9 L409.9,598.2 L410.4,600.8 L411,598.4 L411.5,596.3 L412.1,598.4 L412.6,600.8 L413.2,602.6 L413.8,602.9 L414.3,600.9 L414.9,598 L415.4,598.8 L416,600.4 L416.5,600.8 L417.1,599.7 L417.6,603.7 L418.2,605.4 L418.7,602.7 L419.3,606.2 L419.8,606.4 L420.4,609.7 L420.9,610.2 L421.5,610.7 L422,610.9 L422.6,612.3 L423.1,613.3 L423.7,614.5 L424.2,615.7 L424.8,615.9 L425.3,616.5 L425.9,618.5 L426.4,620.4 L427,620.3 L427.6,619.6 L428.1,618.6 L428.7,617.3 L429.2,617.9 L429.8,616.2 L430.3,615.2 L430.9,613.2 L431.4,613.4 L432,610.9 L432.5,611.7 L433.1,612.3 L433.6,607.9 L434.2,606.6 L434.7,605.5 L435.3,604.2 L435.8,604.9 L436.4,605.6 L436.9,601.1 L437.5,600.5 L438,596.7 L438.6,597.9 L439.1,598.8 L439.7,600.1 L440.2,601.2 L440.8,598.1 L441.4,598.4 L441.9,600.6 L442.5,600.9 L443,599.9 L443.6,597.7 L444.1,600.5 L444.7,599.1 L445.2,601.7 L445.8,603.3 L446.3,600.8 L446.9,603.4 L447.4,603.9 L448,601.7 L448.5,603.1 L449.1,600 L449.6,600.6 L450.2,603.1 L450.7,602.2 L451.3,601.7 L451.8,603.2 L452.4,601.4 L452.9,604.3 L453.5,600.4 L454,601 L454.6,600.3 L455.2,600.1 L455.7,603.7 L456.3,602.5 L456.8,601.5 L457.4,603.4 L457.9,604 L458.5,603.8 L459,603.7 L459.6,601.4 L460.1,600.9 L460.7,603.5 L461.2,601.8 L461.8,603.7 L462.3,601.5 L462.9,604.2 L463.4,600.8 L464,600.6 L464.5,601.3 L465.1,601.4 L465.6,602.4 L466.2,601.5 L466.7,603.7 L467.3,605.1 L467.8,604.2 L468.4,604.8 L469,606.3 L469.5,604.7 L470.1,604.2 L470.6,604.1 L471.2,604.8 L471.7,606.7 L472.3,602.2 L472.8,601 L473.4,601.6 L473.9,601.2 L474.5,601.1 L475,604.1 L475.6,600.4 L476.1,601.4 L476.7,602.3 L477.2,601.6 L477.8,604.2 L478.3,602.8 L478.9,603.4 L479.4,601.5 L480,602.3 L480.5,599.9 L481.1,601.7 L481.6,601.8 L482.2,599.1 L482.8,602.6 L483.3,602.7 L483.9,604.2 L484.4,602.2 L485,605.4 L485.5,603.9 L486.1,603 L486.6,603.2 L487.2,605.7 L487.7,605.8 L488.3,607.7 L488.8,605.9 L489.4,602 L489.9,607.1 L490.5,605.9 L491,605.4 L491.6,603.2 L492.1,603.2 L492.7,603.2 L493.2,603 L493.8,601.2 L494.3,602.9 L494.9,605.6 L495.4,601.4 L496,599.8 L496.6,599 L497.1,599.5 L497.7,603.1 L498.2,603.8 L498.8,600.4 L499.3,603.2 L499.9,603.4 L500.4,605.4 L501,607.9 L501.5,601.3 L502.1,602.2 L502.6,604.3 L503.2,602.9 L503.7,604.3 L504.3,602.6 L504.8,602.9 L505.4,603.8 L505.9,604.5 L506.5,603.3 L507,600.7 L507.6,603.5 L508.1,605.3 L508.7,603.7 L509.2,600.6 L509.8,601.9" fill="none" stroke="#111" stroke-width="1.45" stroke-linejoin="round"/>
<path d="M344.2,625.9 L344.8,627.5 L345.3,626.3 L345.9,624.3 L346.4,625.7 L347,628.3 L347.5,628.7 L348.1,628.8 L348.6,628.6 L349.2,628 L349.7,627.4 L350.3,627 L350.8,627 L351.4,626.4 L351.9,626.2 L352.5,628.1 L353,627.9 L353.6,628.9 L354.1,626 L354.7,626.9 L355.2,627.6 L355.8,627.9 L356.3,626 L356.9,624.8 L357.4,621.9 L358,623.6 L358.6,625.8 L359.1,626.4 L359.7,624 L360.2,626.3 L360.8,623.7 L361.3,625.4 L361.9,623.1 L362.4,625.6 L363,623.7 L363.5,625.8 L364.1,624.1 L364.6,624.3 L365.2,626.9 L365.7,628.6 L366.3,628 L366.8,626.9 L367.4,627.5 L367.9,627.2 L368.5,626 L369,625.9 L369.6,624.2 L370.1,625.3 L370.7,624.8 L371.2,622.3 L371.8,625.6 L372.4,624.1 L372.9,626.2 L373.5,626.4 L374,624.1 L374.6,624.7 L375.1,626.1 L375.7,624.7 L376.2,625.5 L376.8,625.5 L377.3,627.5 L377.9,627.8 L378.4,626.6 L379,625.7 L379.5,624.9 L380.1,626.3 L380.6,625 L381.2,627.4 L381.7,624.4 L382.3,626.5 L382.8,624.8 L383.4,625.3 L383.9,624.1 L384.5,624.1 L385,622.3 L385.6,624.8 L386.2,626.9 L386.7,626.6 L387.3,627.1 L387.8,627 L388.4,624.5 L388.9,625.7 L389.5,625 L390,624.8 L390.6,622.8 L391.1,626.5 L391.7,626.7 L392.2,625.2 L392.8,624.2 L393.3,623.8 L393.9,626.5 L394.4,627.9 L395,624.7 L395.5,623.8 L396.1,622.5 L396.6,622.7 L397.2,624.3 L397.7,621 L398.3,624.4 L398.8,627.4 L399.4,623.1 L400,622.1 L400.5,623.4 L401.1,619.3 L401.6,621.3 L402.2,623.2 L402.7,624.3 L403.3,624.8 L403.8,625.8 L404.4,625.7 L404.9,623.5 L405.5,623.6 L406,624.3 L406.6,623.3 L407.1,624 L407.7,624 L408.2,624.3 L408.8,625.5 L409.3,624.2 L409.9,624.5 L410.4,624.4 L411,620.7 L411.5,618 L412.1,618.8 L412.6,621.7 L413.2,621.7 L413.8,618.1 L414.3,623.7 L414.9,623.1 L415.4,621.5 L416,620.3 L416.5,625.4 L417.1,629.4 L417.6,627 L418.2,628.5 L418.7,632.2 L419.3,631.4 L419.8,629.1 L420.4,630.6 L420.9,633.4 L421.5,635.4 L422,636.4 L422.6,638.2 L423.1,640.4 L423.7,640.4 L424.2,641.9 L424.8,642.6 L425.3,642.6 L425.9,645.1 L426.4,646.4 L427,648.6 L427.6,646.5 L428.1,645.5 L428.7,643.8 L429.2,642.2 L429.8,641 L430.3,641.3 L430.9,639.7 L431.4,639.3 L432,636.5 L432.5,636.2 L433.1,635 L433.6,634.1 L434.2,632.2 L434.7,631.6 L435.3,629 L435.8,628.7 L436.4,628.5 L436.9,625 L437.5,623.4 L438,623.4 L438.6,624.8 L439.1,622.7 L439.7,622.2 L440.2,621.5 L440.8,621.6 L441.4,620.5 L441.9,620.6 L442.5,622.2 L443,623.1 L443.6,623.9 L444.1,625.3 L444.7,621 L445.2,624.3 L445.8,623.8 L446.3,621.4 L446.9,623.7 L447.4,622.3 L448,622.4 L448.5,626 L449.1,623.4 L449.6,624.1 L450.2,622.9 L450.7,623.8 L451.3,624.1 L451.8,623.8 L452.4,621.7 L452.9,624 L453.5,624.4 L454,623.8 L454.6,622.9 L455.2,621.6 L455.7,623.3 L456.3,625.1 L456.8,624.4 L457.4,622.5 L457.9,622.7 L458.5,623.8 L459,624.7 L459.6,623.1 L460.1,623.8 L460.7,624.3 L461.2,624.5 L461.8,624.1 L462.3,623 L462.9,624.8 L463.4,625.8 L464,624 L464.5,624.9 L465.1,626.8 L465.6,626.2 L466.2,624.9 L466.7,625.5 L467.3,625.6 L467.8,623.7 L468.4,626.1 L469,627.2 L469.5,628.2 L470.1,630 L470.6,625.9 L471.2,624.4 L471.7,625.9 L472.3,626.2 L472.8,624.5 L473.4,626.8 L473.9,628.4 L474.5,625.9 L475,629.4 L475.6,625.5 L476.1,625.4 L476.7,626.7 L477.2,625.6 L477.8,626.6 L478.3,624.5 L478.9,625.7 L479.4,623.7 L480,622.5 L480.5,624.9 L481.1,626.9 L481.6,630.2 L482.2,628.2 L482.8,625.6 L483.3,625.2 L483.9,627.1 L484.4,625.2 L485,624.8 L485.5,625.9 L486.1,624.9 L486.6,624.4 L487.2,624.5 L487.7,628.8 L488.3,625.7 L488.8,626.3 L489.4,625.3 L489.9,625.1 L490.5,625.7 L491,624.7 L491.6,623.7 L492.1,624.8 L492.7,624.7 L493.2,625.9 L493.8,623.9 L494.3,624.6 L494.9,626.7 L495.4,627.6 L496,625.1 L496.6,626.2 L497.1,624.7 L497.7,624.7 L498.2,624.8 L498.8,626.5 L499.3,626.5 L499.9,625.5 L500.4,624.8 L501,627 L501.5,625.2 L502.1,625.2 L502.6,626.7 L503.2,625.6 L503.7,629.2 L504.3,629.6 L504.8,626.6 L505.4,627.4 L505.9,625.2 L506.5,623.7 L507,626.3 L507.6,624.9 L508.1,624.8 L508.7,625.5 L509.2,626.9 L509.8,624.2" fill="none" stroke="#111" stroke-width="1.45" stroke-linejoin="round"/>
<path d="M344.2,649.3 L344.8,650.2 L345.3,648.6 L345.9,651.1 L346.4,649.3 L347,647 L347.5,647.5 L348.1,649.6 L348.6,646.7 L349.2,646.3 L349.7,647.6 L350.3,649.3 L350.8,649.4 L351.4,647.6 L351.9,646.4 L352.5,648 L353,648.7 L353.6,649.4 L354.1,649.1 L354.7,648.7 L355.2,648.9 L355.8,650.8 L356.3,648.5 L356.9,648.6 L357.4,648.6 L358,650 L358.6,645.7 L359.1,647.1 L359.7,651.3 L360.2,648.8 L360.8,649.9 L361.3,650.2 L361.9,648.6 L362.4,648.6 L363,650.2 L363.5,648.6 L364.1,649.7 L364.6,646.3 L365.2,647.2 L365.7,649.5 L366.3,647.8 L366.8,650.6 L367.4,651.1 L367.9,648.1 L368.5,644.5 L369,648.3 L369.6,651.8 L370.1,649.8 L370.7,651.4 L371.2,645.5 L371.8,647.1 L372.4,647.8 L372.9,645.9 L373.5,646.9 L374,647 L374.6,651.7 L375.1,648 L375.7,647 L376.2,644.5 L376.8,643.3 L377.3,642.5 L377.9,644.7 L378.4,648.2 L379,648.4 L379.5,646.2 L380.1,646.3 L380.6,645.4 L381.2,647.8 L381.7,646.1 L382.3,647.7 L382.8,648.8 L383.4,645.4 L383.9,645.7 L384.5,642.9 L385,644.5 L385.6,647 L386.2,644 L386.7,644.7 L387.3,645.5 L387.8,646.5 L388.4,648.5 L388.9,650.6 L389.5,649.8 L390,648.1 L390.6,644.3 L391.1,643.9 L391.7,648.1 L392.2,647.3 L392.8,648.6 L393.3,648.4 L393.9,649.1 L394.4,650.3 L395,646.7 L395.5,646.1 L396.1,644.4 L396.6,642.9 L397.2,644.8 L397.7,646.9 L398.3,647.1 L398.8,645.2 L399.4,645.9 L400,647.7 L400.5,644.7 L401.1,645.7 L401.6,647.5 L402.2,644.9 L402.7,644.2 L403.3,646.7 L403.8,644.9 L404.4,644 L404.9,644.8 L405.5,643.8 L406,645.1 L406.6,647.2 L407.1,643.1 L407.7,643.2 L408.2,641.9 L408.8,639.9 L409.3,645.5 L409.9,643.8 L410.4,642.1 L411,640.7 L411.5,639.6 L412.1,638.6 L412.6,638.3 L413.2,637.5 L413.8,642.9 L414.3,645.7 L414.9,648.4 L415.4,647.8 L416,647.9 L416.5,647.3 L417.1,646.5 L417.6,650.8 L418.2,651.4 L418.7,650 L419.3,653.6 L419.8,657.2 L420.4,658 L420.9,657.7 L421.5,661.2 L422,663.7 L422.6,663.1 L423.1,665.8 L423.7,667 L424.2,669.1 L424.8,671 L425.3,671.5 L425.9,674 L426.4,675.4 L427,676.8 L427.6,675.3 L428.1,674.3 L428.7,673.3 L429.2,671.1 L429.8,668.8 L430.3,667.8 L430.9,665.2 L431.4,663.4 L432,662 L432.5,662 L433.1,662.1 L433.6,660.1 L434.2,659.1 L434.7,658.7 L435.3,654.4 L435.8,653.3 L436.4,654.1 L436.9,649 L437.5,649.2 L438,648.2 L438.6,646.5 L439.1,645.5 L439.7,643.2 L440.2,641 L440.8,641.1 L441.4,643.9 L441.9,643.4 L442.5,641.7 L443,641 L443.6,641.7 L444.1,641.7 L444.7,643.5 L445.2,642.1 L445.8,644.1 L446.3,648.3 L446.9,646 L447.4,641.6 L448,647.1 L448.5,645.3 L449.1,647 L449.6,649.4 L450.2,646.2 L450.7,645 L451.3,645 L451.8,647.3 L452.4,645.6 L452.9,646.3 L453.5,645.6 L454,647.4 L454.6,645 L455.2,641.6 L455.7,644.8 L456.3,646.1 L456.8,646.9 L457.4,644.6 L457.9,642.8 L458.5,644.8 L459,643.5 L459.6,642 L460.1,642.3 L460.7,646.1 L461.2,645 L461.8,646.2 L462.3,646.2 L462.9,642.5 L463.4,645.8 L464,647 L464.5,646.7 L465.1,644.6 L465.6,644.4 L466.2,645.9 L466.7,648.1 L467.3,647.8 L467.8,644.6 L468.4,649.1 L469,647.3 L469.5,648.9 L470.1,648.1 L470.6,649.1 L471.2,647.2 L471.7,647.2 L472.3,646.6 L472.8,648.7 L473.4,646.9 L473.9,647.3 L474.5,648.3 L475,650.2 L475.6,646.3 L476.1,644.6 L476.7,645.9 L477.2,648.3 L477.8,651.7 L478.3,649.9 L478.9,648.5 L479.4,648.1 L480,648.2 L480.5,646.1 L481.1,650 L481.6,650.7 L482.2,647.9 L482.8,646.5 L483.3,645.8 L483.9,647.5 L484.4,646.3 L485,650.7 L485.5,646.9 L486.1,643.4 L486.6,645.1 L487.2,649 L487.7,650.9 L488.3,648.3 L488.8,648.7 L489.4,650.7 L489.9,650.7 L490.5,650.8 L491,648.6 L491.6,647.8 L492.1,650.4 L492.7,647.6 L493.2,648.9 L493.8,649.1 L494.3,649.7 L494.9,651.1 L495.4,648.4 L496,649.7 L496.6,650.7 L497.1,651.1 L497.7,651.9 L498.2,651.6 L498.8,648.6 L499.3,647.8 L499.9,650.1 L500.4,649.7 L501,646.9 L501.5,647.8 L502.1,649.8 L502.6,648.7 L503.2,646.9 L503.7,648.8 L504.3,646.9 L504.8,648.1 L505.4,650.1 L505.9,651.8 L506.5,650.2 L507,650.9 L507.6,647.9 L508.1,648.8 L508.7,649.1 L509.2,646.1 L509.8,648.2" fill="none" stroke="#111" stroke-width="1.45" stroke-linejoin="round"/>
<path d="M344.2,672.5 L344.8,670.5 L345.3,673.4 L345.9,668.5 L346.4,669.6 L347,672.9 L347.5,675.5 L348.1,674.7 L348.6,674.4 L349.2,671.5 L349.7,667.7 L350.3,672.3 L350.8,671.8 L351.4,670.3 L351.9,670 L352.5,670.1 L353,671.4 L353.6,671.3 L354.1,669.9 L354.7,667.4 L355.2,671.1 L355.8,671.1 L356.3,669.6 L356.9,671.7 L357.4,670.3 L358,670.1 L358.6,669.7 L359.1,667.6 L359.7,669.2 L360.2,668.2 L360.8,667.6 L361.3,672.1 L361.9,669.4 L362.4,670.5 L363,673.2 L363.5,673 L364.1,672.1 L364.6,670.1 L365.2,669.2 L365.7,668.6 L366.3,671.9 L366.8,671.3 L367.4,669.9 L367.9,671.3 L368.5,671 L369,669.6 L369.6,668.5 L370.1,668.6 L370.7,668.2 L371.2,671.3 L371.8,670.6 L372.4,668.6 L372.9,666.5 L373.5,671.7 L374,672.2 L374.6,670.5 L375.1,670.7 L375.7,666 L376.2,669.4 L376.8,668.3 L377.3,670.9 L377.9,671.5 L378.4,669.5 L379,671 L379.5,670.5 L380.1,671.3 L380.6,668.5 L381.2,666.9 L381.7,668.3 L382.3,667.4 L382.8,665.1 L383.4,667.8 L383.9,671.4 L384.5,668.9 L385,667.1 L385.6,668.4 L386.2,667.1 L386.7,666.7 L387.3,670.3 L387.8,670.4 L388.4,665.6 L388.9,669 L389.5,668.6 L390,671.4 L390.6,666.2 L391.1,668.3 L391.7,666.9 L392.2,668 L392.8,665.8 L393.3,669 L393.9,667.1 L394.4,666.4 L395,666.6 L395.5,667.3 L396.1,669 L396.6,665 L397.2,663.6 L397.7,667.9 L398.3,665.5 L398.8,664.6 L399.4,663.3 L400,665.5 L400.5,667.9 L401.1,668.8 L401.6,666.4 L402.2,665.9 L402.7,666.4 L403.3,665.7 L403.8,667.3 L404.4,667.2 L404.9,669.2 L405.5,669.5 L406,669.6 L406.6,665.2 L407.1,666.6 L407.7,667 L408.2,664.2 L408.8,665 L409.3,664.5 L409.9,662.5 L410.4,663.1 L411,663 L411.5,662.7 L412.1,664.4 L412.6,667.2 L413.2,668.4 L413.8,667.4 L414.3,668.5 L414.9,667.5 L415.4,670.4 L416,669.9 L416.5,671.6 L417.1,674.9 L417.6,676 L418.2,676.6 L418.7,680 L419.3,682.2 L419.8,682.7 L420.4,683.9 L420.9,684.2 L421.5,685.3 L422,687.8 L422.6,688.8 L423.1,692.4 L423.7,693.5 L424.2,695.4 L424.8,697.9 L425.3,698.9 L425.9,700.4 L426.4,701.2 L427,703.6 L427.6,702.4 L428.1,700.9 L428.7,698.9 L429.2,697.5 L429.8,696 L430.3,693.8 L430.9,692.1 L431.4,690.6 L432,685.9 L432.5,685.7 L433.1,684.5 L433.6,684.7 L434.2,680.5 L434.7,678.4 L435.3,680.6 L435.8,678.1 L436.4,674.3 L436.9,673.3 L437.5,673.3 L438,671.6 L438.6,668.5 L439.1,666.8 L439.7,666.8 L440.2,664.7 L440.8,664.6 L441.4,664.8 L441.9,660.4 L442.5,659.3 L443,661.5 L443.6,663 L444.1,665 L444.7,666.1 L445.2,662.1 L445.8,661.8 L446.3,664.3 L446.9,668.6 L447.4,668.8 L448,666.1 L448.5,667.3 L449.1,670.6 L449.6,670.3 L450.2,668.5 L450.7,662.2 L451.3,663.4 L451.8,662.1 L452.4,667.6 L452.9,667.6 L453.5,668.1 L454,665.9 L454.6,668.2 L455.2,668.7 L455.7,667.5 L456.3,668.8 L456.8,668.7 L457.4,671.4 L457.9,668.2 L458.5,668.4 L459,663.7 L459.6,668.7 L460.1,667.5 L460.7,666.7 L461.2,669.5 L461.8,671.9 L462.3,669.2 L462.9,669 L463.4,668.8 L464,667.4 L464.5,668 L465.1,669.1 L465.6,667 L466.2,669.1 L466.7,670.1 L467.3,669.7 L467.8,668.2 L468.4,667.8 L469,667.7 L469.5,668.6 L470.1,667.6 L470.6,666.9 L471.2,669.6 L471.7,668.8 L472.3,666.9 L472.8,664.2 L473.4,666.1 L473.9,665.8 L474.5,672.5 L475,670.8 L475.6,671.5 L476.1,670.5 L476.7,667.8 L477.2,670.1 L477.8,670.3 L478.3,669.4 L478.9,670.7 L479.4,673.1 L480,671.1 L480.5,666.7 L481.1,668.2 L481.6,668.7 L482.2,666.9 L482.8,668.2 L483.3,668.9 L483.9,671.9 L484.4,670.6 L485,668.3 L485.5,668.9 L486.1,670.1 L486.6,669.7 L487.2,669.8 L487.7,669 L488.3,670.5 L488.8,671 L489.4,670.6 L489.9,671.8 L490.5,669.2 L491,669.7 L491.6,671.4 L492.1,670.4 L492.7,671.7 L493.2,671.8 L493.8,671.5 L494.3,673 L494.9,670.6 L495.4,672.2 L496,671.6 L496.6,671.3 L497.1,673.2 L497.7,673.4 L498.2,673.6 L498.8,672.8 L499.3,670.1 L499.9,670.4 L500.4,674 L501,670.8 L501.5,673.8 L502.1,672.5 L502.6,671.3 L503.2,673.1 L503.7,673 L504.3,671.1 L504.8,674.9 L505.4,673.6 L505.9,672.2 L506.5,672 L507,674.5 L507.6,672.3 L508.1,668.4 L508.7,669.3 L509.2,670.3 L509.8,668.7" fill="none" stroke="#111" stroke-width="1.45" stroke-linejoin="round"/>
<path d="M344.2,693.6 L344.8,694.5 L345.3,696.5 L345.9,695.9 L346.4,696.7 L347,697.1 L347.5,699.1 L348.1,696.4 L348.6,695.8 L349.2,695.3 L349.7,695.4 L350.3,695.4 L350.8,696.9 L351.4,697.9 L351.9,695.4 L352.5,696.3 L353,694.4 L353.6,694 L354.1,694.1 L354.7,693.8 L355.2,692.4 L355.8,695.8 L356.3,694.8 L356.9,696.9 L357.4,695.7 L358,695.2 L358.6,694.5 L359.1,693.9 L359.7,692.1 L360.2,695.8 L360.8,694.8 L361.3,696.5 L361.9,694.4 L362.4,693.7 L363,693 L363.5,695.9 L364.1,699 L364.6,698.6 L365.2,698.6 L365.7,695.6 L366.3,693.9 L366.8,697.1 L367.4,695.6 L367.9,696.7 L368.5,693.9 L369,694.5 L369.6,697 L370.1,693.9 L370.7,696.6 L371.2,693.4 L371.8,691.8 L372.4,692.6 L372.9,692.7 L373.5,695.9 L374,693.1 L374.6,695.3 L375.1,696.1 L375.7,695.3 L376.2,697.4 L376.8,692.9 L377.3,693.2 L377.9,694.3 L378.4,697.8 L379,698.7 L379.5,694.8 L380.1,690.9 L380.6,692.3 L381.2,694.6 L381.7,695.4 L382.3,696.2 L382.8,695.5 L383.4,695.9 L383.9,691.8 L384.5,690.8 L385,693.2 L385.6,694.1 L386.2,693.6 L386.7,693.4 L387.3,691.2 L387.8,692.6 L388.4,694 L388.9,692.6 L389.5,694.6 L390,693.2 L390.6,687.2 L391.1,690.1 L391.7,694.1 L392.2,690.5 L392.8,692.2 L393.3,693.1 L393.9,693.9 L394.4,690.2 L395,690 L395.5,690.2 L396.1,692.1 L396.6,692.2 L397.2,690.8 L397.7,692.8 L398.3,691.8 L398.8,687.7 L399.4,688.4 L400,690.6 L400.5,688.4 L401.1,692.3 L401.6,689.6 L402.2,690.4 L402.7,689.2 L403.3,689.4 L403.8,690.5 L404.4,690.5 L404.9,690.5 L405.5,692.4 L406,690.5 L406.6,688.6 L407.1,690.2 L407.7,689.2 L408.2,687.5 L408.8,686.6 L409.3,689.8 L409.9,689.1 L410.4,686.2 L411,686.2 L411.5,687.1 L412.1,691.3 L412.6,690 L413.2,692.8 L413.8,692.4 L414.3,695 L414.9,696.4 L415.4,698.4 L416,700.7 L416.5,699.8 L417.1,700.7 L417.6,702.9 L418.2,705.2 L418.7,706.1 L419.3,707.5 L419.8,709.7 L420.4,709.3 L420.9,712.9 L421.5,714.2 L422,714.4 L422.6,715.8 L423.1,718.4 L423.7,721.1 L424.2,722.3 L424.8,723.4 L425.3,725.5 L425.9,728.2 L426.4,731.5 L427,732.3 L427.6,730.2 L428.1,728.3 L428.7,726.7 L429.2,725.3 L429.8,722.9 L430.3,722.4 L430.9,719.5 L431.4,717.3 L432,715.5 L432.5,715.2 L433.1,710.5 L433.6,710 L434.2,708.9 L434.7,707.2 L435.3,708 L435.8,706.6 L436.4,702.7 L436.9,700.8 L437.5,702 L438,695.9 L438.6,693.6 L439.1,694.7 L439.7,693.5 L440.2,693.3 L440.8,691.1 L441.4,689.2 L441.9,687.9 L442.5,686.1 L443,686.2 L443.6,686.3 L444.1,683.5 L444.7,686.1 L445.2,687.2 L445.8,687.3 L446.3,686.5 L446.9,689.6 L447.4,690.6 L448,691.9 L448.5,685.7 L449.1,688.2 L449.6,691 L450.2,690.4 L450.7,692.3 L451.3,692.3 L451.8,693.3 L452.4,692.4 L452.9,692.8 L453.5,691.6 L454,691.5 L454.6,687.6 L455.2,687.6 L455.7,689.7 L456.3,688.5 L456.8,691.5 L457.4,691.6 L457.9,693.7 L458.5,695 L459,689.6 L459.6,689.2 L460.1,691.6 L460.7,690.7 L461.2,689 L461.8,691 L462.3,692.3 L462.9,689.4 L463.4,691.7 L464,692.3 L464.5,691.4 L465.1,691.3 L465.6,694.3 L466.2,693.8 L466.7,689.1 L467.3,692.5 L467.8,692.7 L468.4,692.9 L469,691.2 L469.5,695.3 L470.1,696.4 L470.6,695 L471.2,692.3 L471.7,692.3 L472.3,695 L472.8,692.5 L473.4,695.3 L473.9,693.4 L474.5,695.8 L475,695.3 L475.6,695.3 L476.1,695.3 L476.7,691.7 L477.2,692.5 L477.8,694.8 L478.3,697.1 L478.9,693.7 L479.4,695.9 L480,697.2 L480.5,698 L481.1,694.3 L481.6,695.2 L482.2,696.9 L482.8,695.9 L483.3,699.2 L483.9,696.5 L484.4,693.8 L485,693.8 L485.5,695.7 L486.1,693.2 L486.6,694.8 L487.2,695.5 L487.7,692.6 L488.3,693.5 L488.8,695.1 L489.4,693.5 L489.9,695 L490.5,697 L491,693.8 L491.6,694.7 L492.1,693.8 L492.7,694.5 L493.2,693.4 L493.8,696 L494.3,692.6 L494.9,693 L495.4,697.5 L496,696.2 L496.6,693.8 L497.1,695.5 L497.7,693.4 L498.2,694.9 L498.8,694.2 L499.3,695.1 L499.9,696.9 L500.4,697.4 L501,698.4 L501.5,695.4 L502.1,698.6 L502.6,697.4 L503.2,695.3 L503.7,696 L504.3,696.7 L504.8,696.2 L505.4,697 L505.9,695.7 L506.5,695.6 L507,693.5 L507.6,697.7 L508.1,699.9 L508.7,696.8 L509.2,695.1 L509.8,695.3" fill="none" stroke="#111" stroke-width="1.45" stroke-linejoin="round"/>
<rect x="344.2" y="290.7" width="165.90000000000003" height="450.90000000000003" fill="none" stroke="#000" stroke-width="2.3" stroke-linejoin="round"/>
<line x1="371.8" y1="290.7" x2="371.8" y2="296.2" stroke="#000" stroke-width="2"/>
<line x1="371.8" y1="741.6" x2="371.8" y2="736.1" stroke="#000" stroke-width="2"/>
<line x1="399.4" y1="290.7" x2="399.4" y2="296.2" stroke="#000" stroke-width="2"/>
<line x1="399.4" y1="741.6" x2="399.4" y2="736.1" stroke="#000" stroke-width="2"/>
<line x1="427" y1="290.7" x2="427" y2="296.2" stroke="#000" stroke-width="2"/>
<line x1="427" y1="741.6" x2="427" y2="736.1" stroke="#000" stroke-width="2"/>
<line x1="454.6" y1="290.7" x2="454.6" y2="296.2" stroke="#000" stroke-width="2"/>
<line x1="454.6" y1="741.6" x2="454.6" y2="736.1" stroke="#000" stroke-width="2"/>
<line x1="482.2" y1="290.7" x2="482.2" y2="296.2" stroke="#000" stroke-width="2"/>
<line x1="482.2" y1="741.6" x2="482.2" y2="736.1" stroke="#000" stroke-width="2"/>
<text x="344.2" y="757.7" font-family="'Liberation Serif', 'Times New Roman', serif" font-size="17.5" fill="#222" text-anchor="middle" font-weight="normal" >&#8722;6</text>
<text x="371.8" y="757.7" font-family="'Liberation Serif', 'Times New Roman', serif" font-size="17.5" fill="#222" text-anchor="middle" font-weight="normal" >&#8722;4</text>
<text x="399.4" y="757.7" font-family="'Liberation Serif', 'Times New Roman', serif" font-size="17.5" fill="#222" text-anchor="middle" font-weight="normal" >&#8722;2</text>
<text x="427" y="757.7" font-family="'Liberation Serif', 'Times New Roman', serif" font-size="17.5" fill="#222" text-anchor="middle" font-weight="normal" >0</text>
<text x="454.6" y="757.7" font-family="'Liberation Serif', 'Times New Roman', serif" font-size="17.5" fill="#222" text-anchor="middle" font-weight="normal" >2</text>
<text x="482.2" y="757.7" font-family="'Liberation Serif', 'Times New Roman', serif" font-size="17.5" fill="#222" text-anchor="middle" font-weight="normal" >4</text>
<text x="509.8" y="757.7" font-family="'Liberation Serif', 'Times New Roman', serif" font-size="17.5" fill="#222" text-anchor="middle" font-weight="normal" >6</text>
<text x="428.5" y="773.5" font-family="'Liberation Serif', 'Times New Roman', serif" font-size="17" fill="#222" text-anchor="middle">Sample bias (mV)</text>
<text transform="translate(336,493.5) rotate(-90)" font-family="'Liberation Serif', 'Times New Roman', serif" font-size="17" fill="#222" text-anchor="middle">Normalized d<tspan font-style="italic">I</tspan>/d<tspan font-style="italic">V</tspan></text>
<text x="462" y="309" font-family="'Liberation Serif', 'Times New Roman', serif" font-size="17" fill="#222" text-anchor="start" font-weight="normal" >0.05 T</text>
<text x="285.8" y="326.8" font-family="'Liberation Sans', Arial, sans-serif" font-size="20" fill="#1a1a1a" stroke="#1a1a1a" stroke-width="0.3"><tspan font-size="23">(</tspan>e<tspan font-size="23">)</tspan></text>
</svg>
</body></html>
